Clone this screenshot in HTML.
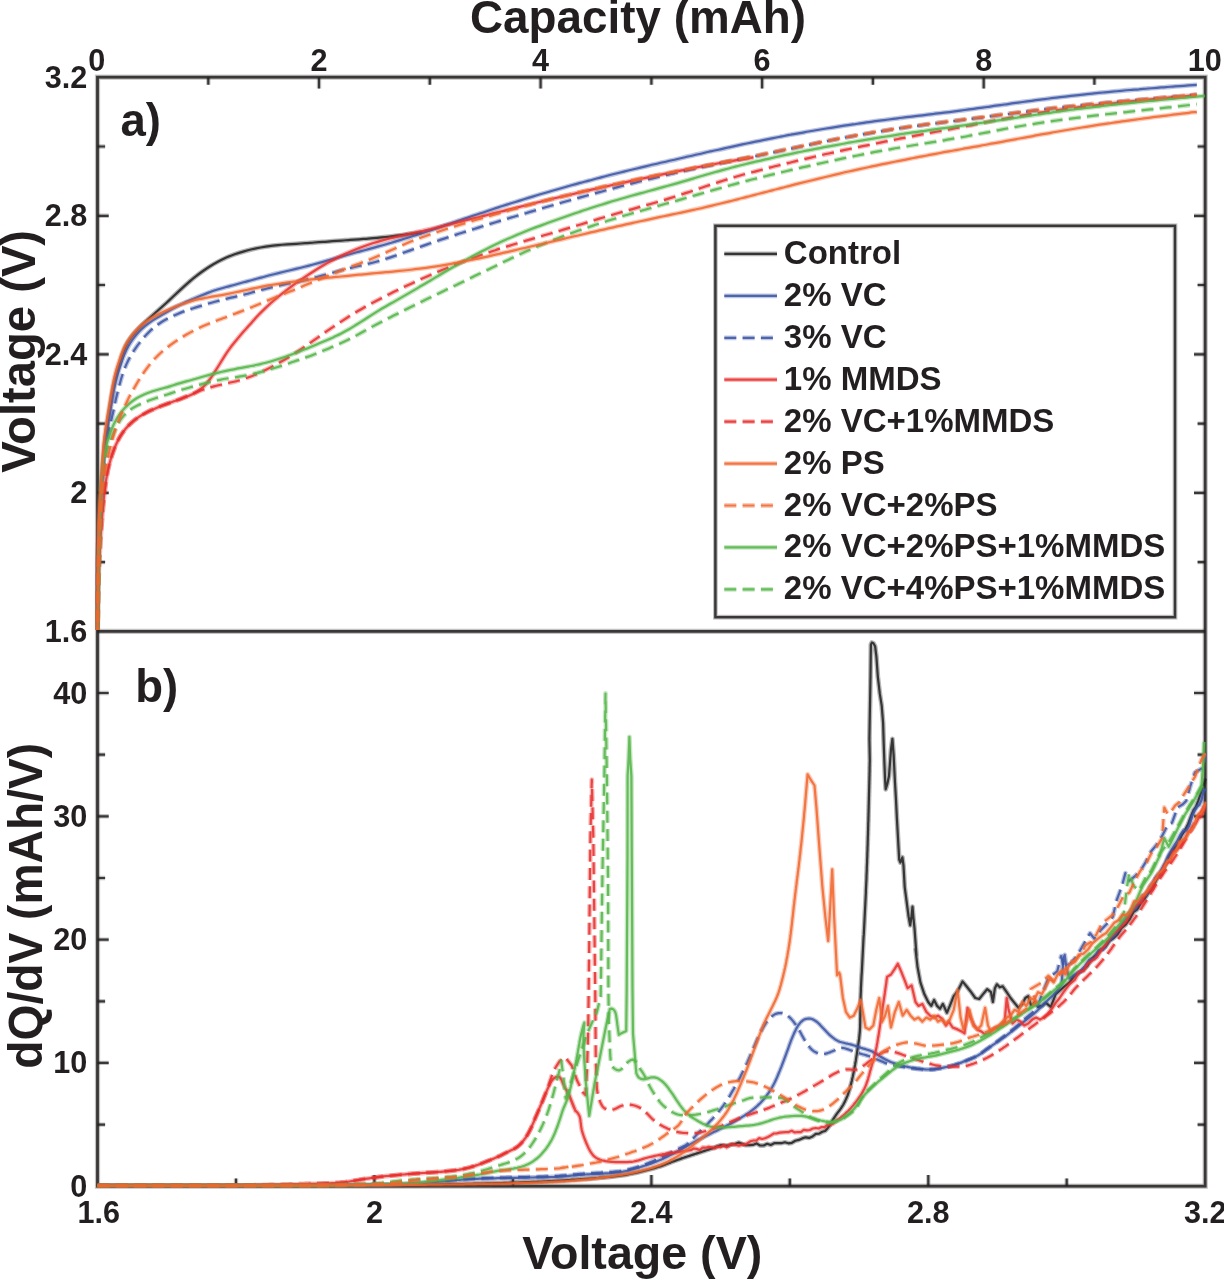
<!DOCTYPE html>
<html lang="en"><head><meta charset="utf-8"><title>Voltage vs capacity and dQ/dV</title>
<style>html,body{margin:0;padding:0;background:#fff}body{width:1224px;height:1280px;overflow:hidden}svg{display:block}text{font-family:"Liberation Sans",sans-serif;font-weight:bold;fill:#231f20}.t{font-size:30.6px}.L{font-size:33px}.ax{font-size:45.5px}.p{font-size:45.5px}.c{fill:none;stroke-width:2.2;stroke-opacity:.86;stroke-linejoin:round;stroke-linecap:butt}.h{fill:none;stroke-width:4.8;stroke-opacity:.33;stroke-linejoin:round;stroke-linecap:butt}.d{stroke-dasharray:12 6.3}</style></head><body>
<svg width="1224" height="1280" viewBox="0 0 1224 1280">
<rect x="0" y="0" width="1224" height="1280" fill="#ffffff"/>
<defs><clipPath id="ca"><rect x="94.5" y="77.2" width="1112.2" height="552.8"/></clipPath>
<clipPath id="cb"><rect x="94.5" y="632.9" width="1112.2" height="555.3"/></clipPath>
</defs>
<path d="M208.3 77.2 v7.6 M319.0 77.2 v11.2 M429.8 77.2 v7.6 M540.6 77.2 v11.2 M651.4 77.2 v7.6 M762.1 77.2 v11.2 M872.9 77.2 v7.6 M983.7 77.2 v11.2 M1094.4 77.2 v7.6 M97.5 562.1 h7.6 M1205.2 562.1 h-7.6 M97.5 492.9 h11.2 M1205.2 492.9 h-11.2 M97.5 423.6 h7.6 M1205.2 423.6 h-7.6 M97.5 354.3 h11.2 M1205.2 354.3 h-11.2 M97.5 285.0 h7.6 M1205.2 285.0 h-7.6 M97.5 215.8 h11.2 M1205.2 215.8 h-11.2 M97.5 146.5 h7.6 M1205.2 146.5 h-7.6 M236.0 1186.2 v-7.6 M374.4 1186.2 v-11.2 M512.9 1186.2 v-7.6 M651.4 1186.2 v-11.2 M789.8 1186.2 v-7.6 M928.3 1186.2 v-11.2 M1066.7 1186.2 v-7.6 M97.5 1124.6 h7.6 M1205.2 1124.6 h-7.6 M97.5 1062.9 h11.2 M1205.2 1062.9 h-11.2 M97.5 1001.3 h7.6 M1205.2 1001.3 h-7.6 M97.5 939.6 h11.2 M1205.2 939.6 h-11.2 M97.5 878.0 h7.6 M1205.2 878.0 h-7.6 M97.5 816.3 h11.2 M1205.2 816.3 h-11.2 M97.5 754.7 h7.6 M1205.2 754.7 h-7.6 M97.5 693.0 h11.2 M1205.2 693.0 h-11.2" fill="none" stroke="#231f20" stroke-width="4.4" stroke-opacity=".27"/>
<path d="M208.3 77.2 v7.6 M319.0 77.2 v11.2 M429.8 77.2 v7.6 M540.6 77.2 v11.2 M651.4 77.2 v7.6 M762.1 77.2 v11.2 M872.9 77.2 v7.6 M983.7 77.2 v11.2 M1094.4 77.2 v7.6 M97.5 562.1 h7.6 M1205.2 562.1 h-7.6 M97.5 492.9 h11.2 M1205.2 492.9 h-11.2 M97.5 423.6 h7.6 M1205.2 423.6 h-7.6 M97.5 354.3 h11.2 M1205.2 354.3 h-11.2 M97.5 285.0 h7.6 M1205.2 285.0 h-7.6 M97.5 215.8 h11.2 M1205.2 215.8 h-11.2 M97.5 146.5 h7.6 M1205.2 146.5 h-7.6 M236.0 1186.2 v-7.6 M374.4 1186.2 v-11.2 M512.9 1186.2 v-7.6 M651.4 1186.2 v-11.2 M789.8 1186.2 v-7.6 M928.3 1186.2 v-11.2 M1066.7 1186.2 v-7.6 M97.5 1124.6 h7.6 M1205.2 1124.6 h-7.6 M97.5 1062.9 h11.2 M1205.2 1062.9 h-11.2 M97.5 1001.3 h7.6 M1205.2 1001.3 h-7.6 M97.5 939.6 h11.2 M1205.2 939.6 h-11.2 M97.5 878.0 h7.6 M1205.2 878.0 h-7.6 M97.5 816.3 h11.2 M1205.2 816.3 h-11.2 M97.5 754.7 h7.6 M1205.2 754.7 h-7.6 M97.5 693.0 h11.2 M1205.2 693.0 h-11.2" fill="none" stroke="#231f20" stroke-width="2.2" stroke-opacity=".86"/>
<rect x="97.5" y="77.2" width="1107.7" height="1109.0" fill="none" stroke="#231f20" stroke-width="5.2" stroke-opacity="0.27"/>
<path d="M97.5 631.4 H1205.2" fill="none" stroke="#231f20" stroke-width="5.2" stroke-opacity="0.27"/>
<rect x="97.5" y="77.2" width="1107.7" height="1109.0" fill="none" stroke="#231f20" stroke-width="2.8" stroke-opacity="0.86"/>
<path d="M97.5 631.4 H1205.2" fill="none" stroke="#231f20" stroke-width="2.8" stroke-opacity="0.86"/>
<g clip-path="url(#ca)">
<path class="h" stroke="#1f1f1f" d="M97.5 640.0 C97.5 638.5 97.5 634.0 97.5 631.0 C97.5 628.0 97.5 625.0 97.5 622.0 C97.5 619.0 97.6 616.0 97.6 613.0 C97.6 610.0 97.6 607.0 97.6 604.0 C97.6 601.0 97.7 598.0 97.7 595.0 C97.7 592.0 97.8 589.0 97.8 586.0 C97.8 583.0 97.8 580.0 97.8 577.0 C97.8 574.0 97.9 571.0 97.9 568.0 C97.9 565.0 98.0 562.0 98.0 559.0 C98.0 556.0 98.1 553.0 98.2 550.0 C98.3 547.0 98.3 544.0 98.4 541.0 C98.5 538.0 98.5 535.0 98.6 532.0 C98.7 529.0 98.8 526.0 98.9 523.0 C99.0 520.0 99.1 517.0 99.3 514.0 C99.5 511.0 99.7 508.0 99.9 505.0 C100.1 502.0 100.3 499.0 100.6 496.0 C100.8 493.0 101.2 490.1 101.4 487.1 C101.7 484.1 101.9 481.1 102.1 478.1 C102.3 475.1 102.6 472.1 102.8 469.1 C103.0 466.1 103.2 463.1 103.4 460.1 C103.6 457.1 103.8 454.1 104.1 451.1 C104.4 448.1 104.7 445.2 105.0 442.2 C105.3 439.2 105.7 436.3 106.1 433.3 C106.5 430.3 107.0 427.3 107.4 424.3 C107.8 421.3 108.2 418.4 108.7 415.4 C109.2 412.4 109.6 409.5 110.1 406.5 C110.6 403.5 111.0 400.6 111.5 397.6 C112.0 394.7 112.5 391.7 113.1 388.8 C113.7 385.9 114.3 382.9 115.0 380.0 C115.7 377.1 116.5 374.2 117.3 371.3 C118.1 368.4 119.1 365.6 120.0 362.7 C120.9 359.8 121.6 356.9 122.6 354.1 C123.6 351.3 124.6 348.4 125.9 345.7 C127.2 343.0 128.8 340.5 130.5 338.1 C132.2 335.7 134.2 333.4 136.2 331.1 C138.2 328.9 140.3 326.7 142.4 324.6 C144.5 322.5 146.8 320.5 149.0 318.5 C151.2 316.5 153.5 314.5 155.7 312.5 C157.9 310.5 160.2 308.5 162.4 306.5 C164.6 304.5 166.9 302.4 169.1 300.4 C171.3 298.4 173.4 296.4 175.6 294.3 C177.8 292.2 180.0 290.1 182.2 288.1 C184.4 286.1 186.6 284.1 188.9 282.1 C191.2 280.2 193.5 278.2 195.8 276.4 C198.2 274.5 200.6 272.7 203.0 271.0 C205.4 269.3 207.9 267.6 210.5 266.0 C213.1 264.4 215.7 262.9 218.3 261.5 C220.9 260.1 223.6 258.8 226.3 257.6 C229.0 256.4 231.9 255.3 234.7 254.3 C237.5 253.3 240.3 252.4 243.2 251.6 C246.0 250.8 248.9 250.0 251.8 249.3 C254.7 248.6 257.7 248.0 260.6 247.5 C263.5 247.0 266.4 246.5 269.4 246.1 C272.3 245.7 275.3 245.4 278.3 245.1 C281.3 244.8 284.3 244.6 287.3 244.4 C290.3 244.2 293.3 244.0 296.3 243.8 C299.3 243.6 302.3 243.4 305.3 243.2 C308.3 243.0 311.3 242.7 314.3 242.5 C317.3 242.3 320.2 242.1 323.2 241.9 C326.2 241.7 329.2 241.4 332.2 241.2 C335.2 241.0 338.2 240.8 341.2 240.6 C344.2 240.4 347.2 240.1 350.2 239.9 C353.2 239.7 356.2 239.5 359.2 239.3 C362.2 239.1 365.1 238.8 368.1 238.6 C371.1 238.4 374.1 238.2 377.1 237.9 C380.1 237.6 383.0 237.3 386.0 237.0 C389.0 236.7 392.0 236.3 395.0 235.9 C398.0 235.5 400.9 235.2 403.9 234.8 C406.9 234.4 409.8 234.0 412.8 233.6 C415.8 233.2 420.2 232.6 421.7 232.4"/>
<path class="c" stroke="#1f1f1f" d="M97.5 640.0 C97.5 638.5 97.5 634.0 97.5 631.0 C97.5 628.0 97.5 625.0 97.5 622.0 C97.5 619.0 97.6 616.0 97.6 613.0 C97.6 610.0 97.6 607.0 97.6 604.0 C97.6 601.0 97.7 598.0 97.7 595.0 C97.7 592.0 97.8 589.0 97.8 586.0 C97.8 583.0 97.8 580.0 97.8 577.0 C97.8 574.0 97.9 571.0 97.9 568.0 C97.9 565.0 98.0 562.0 98.0 559.0 C98.0 556.0 98.1 553.0 98.2 550.0 C98.3 547.0 98.3 544.0 98.4 541.0 C98.5 538.0 98.5 535.0 98.6 532.0 C98.7 529.0 98.8 526.0 98.9 523.0 C99.0 520.0 99.1 517.0 99.3 514.0 C99.5 511.0 99.7 508.0 99.9 505.0 C100.1 502.0 100.3 499.0 100.6 496.0 C100.8 493.0 101.2 490.1 101.4 487.1 C101.7 484.1 101.9 481.1 102.1 478.1 C102.3 475.1 102.6 472.1 102.8 469.1 C103.0 466.1 103.2 463.1 103.4 460.1 C103.6 457.1 103.8 454.1 104.1 451.1 C104.4 448.1 104.7 445.2 105.0 442.2 C105.3 439.2 105.7 436.3 106.1 433.3 C106.5 430.3 107.0 427.3 107.4 424.3 C107.8 421.3 108.2 418.4 108.7 415.4 C109.2 412.4 109.6 409.5 110.1 406.5 C110.6 403.5 111.0 400.6 111.5 397.6 C112.0 394.7 112.5 391.7 113.1 388.8 C113.7 385.9 114.3 382.9 115.0 380.0 C115.7 377.1 116.5 374.2 117.3 371.3 C118.1 368.4 119.1 365.6 120.0 362.7 C120.9 359.8 121.6 356.9 122.6 354.1 C123.6 351.3 124.6 348.4 125.9 345.7 C127.2 343.0 128.8 340.5 130.5 338.1 C132.2 335.7 134.2 333.4 136.2 331.1 C138.2 328.9 140.3 326.7 142.4 324.6 C144.5 322.5 146.8 320.5 149.0 318.5 C151.2 316.5 153.5 314.5 155.7 312.5 C157.9 310.5 160.2 308.5 162.4 306.5 C164.6 304.5 166.9 302.4 169.1 300.4 C171.3 298.4 173.4 296.4 175.6 294.3 C177.8 292.2 180.0 290.1 182.2 288.1 C184.4 286.1 186.6 284.1 188.9 282.1 C191.2 280.2 193.5 278.2 195.8 276.4 C198.2 274.5 200.6 272.7 203.0 271.0 C205.4 269.3 207.9 267.6 210.5 266.0 C213.1 264.4 215.7 262.9 218.3 261.5 C220.9 260.1 223.6 258.8 226.3 257.6 C229.0 256.4 231.9 255.3 234.7 254.3 C237.5 253.3 240.3 252.4 243.2 251.6 C246.0 250.8 248.9 250.0 251.8 249.3 C254.7 248.6 257.7 248.0 260.6 247.5 C263.5 247.0 266.4 246.5 269.4 246.1 C272.3 245.7 275.3 245.4 278.3 245.1 C281.3 244.8 284.3 244.6 287.3 244.4 C290.3 244.2 293.3 244.0 296.3 243.8 C299.3 243.6 302.3 243.4 305.3 243.2 C308.3 243.0 311.3 242.7 314.3 242.5 C317.3 242.3 320.2 242.1 323.2 241.9 C326.2 241.7 329.2 241.4 332.2 241.2 C335.2 241.0 338.2 240.8 341.2 240.6 C344.2 240.4 347.2 240.1 350.2 239.9 C353.2 239.7 356.2 239.5 359.2 239.3 C362.2 239.1 365.1 238.8 368.1 238.6 C371.1 238.4 374.1 238.2 377.1 237.9 C380.1 237.6 383.0 237.3 386.0 237.0 C389.0 236.7 392.0 236.3 395.0 235.9 C398.0 235.5 400.9 235.2 403.9 234.8 C406.9 234.4 409.8 234.0 412.8 233.6 C415.8 233.2 420.2 232.6 421.7 232.4"/>
<path class="h" stroke="#3b55a5" d="M97.5 640.0 C97.5 638.5 97.5 634.0 97.5 631.0 C97.5 628.0 97.5 625.0 97.5 622.0 C97.5 619.0 97.6 616.0 97.6 613.0 C97.6 610.0 97.6 607.0 97.6 604.0 C97.6 601.0 97.7 598.0 97.7 595.0 C97.7 592.0 97.7 589.0 97.7 586.0 C97.7 583.0 97.8 580.0 97.8 577.0 C97.8 574.0 97.9 571.0 97.9 568.0 C97.9 565.0 98.0 561.9 98.0 558.9 C98.0 555.9 98.1 552.9 98.2 549.9 C98.3 546.9 98.3 543.9 98.4 540.9 C98.5 537.9 98.6 534.9 98.7 531.9 C98.8 528.9 99.0 525.9 99.1 522.9 C99.2 519.9 99.3 517.0 99.5 514.0 C99.7 511.0 99.9 508.0 100.1 505.0 C100.3 502.0 100.7 499.0 100.9 496.0 C101.2 493.0 101.3 490.0 101.6 487.0 C101.8 484.0 102.2 481.0 102.4 478.0 C102.7 475.0 102.9 472.1 103.1 469.1 C103.3 466.1 103.6 463.1 103.8 460.1 C104.0 457.1 104.2 454.1 104.5 451.1 C104.8 448.1 105.1 445.1 105.4 442.1 C105.8 439.1 106.2 436.2 106.6 433.2 C107.0 430.2 107.4 427.3 107.9 424.3 C108.4 421.3 108.9 418.4 109.4 415.4 C109.9 412.4 110.4 409.4 110.9 406.5 C111.4 403.6 111.9 400.6 112.4 397.7 C112.9 394.8 113.4 391.8 114.0 388.8 C114.6 385.9 115.3 382.9 116.0 380.0 C116.7 377.1 117.5 374.2 118.4 371.3 C119.3 368.4 120.2 365.6 121.2 362.8 C122.2 360.0 123.2 357.1 124.4 354.4 C125.6 351.6 126.8 348.9 128.3 346.3 C129.8 343.7 131.4 341.1 133.2 338.7 C135.0 336.3 136.8 334.0 138.9 331.8 C141.0 329.6 143.2 327.6 145.5 325.7 C147.8 323.8 150.2 322.0 152.7 320.3 C155.2 318.6 157.8 317.2 160.4 315.7 C163.0 314.2 165.6 312.7 168.2 311.2 C170.8 309.7 173.4 308.2 176.1 306.8 C178.8 305.4 181.5 304.1 184.2 302.9 C186.9 301.6 189.7 300.5 192.4 299.3 C195.2 298.1 197.9 297.0 200.7 295.8 C203.5 294.6 206.2 293.4 209.0 292.4 C211.8 291.3 214.6 290.4 217.5 289.5 C220.4 288.6 223.3 287.8 226.2 287.0 C229.1 286.2 232.0 285.5 234.9 284.7 C237.8 283.9 240.7 283.1 243.6 282.3 C246.5 281.5 249.4 280.8 252.3 280.0 C255.2 279.2 258.0 278.4 260.9 277.6 C263.8 276.8 266.7 276.1 269.6 275.3 C272.5 274.6 275.5 273.8 278.4 273.1 C281.3 272.4 284.2 271.7 287.1 271.0 C290.0 270.3 293.0 269.6 295.9 268.9 C298.8 268.2 301.7 267.5 304.6 266.8 C307.5 266.1 310.4 265.3 313.3 264.5 C316.2 263.7 319.1 262.9 322.0 262.1 C324.9 261.3 327.8 260.4 330.7 259.6 C333.6 258.8 336.4 257.9 339.3 257.1 C342.2 256.3 345.1 255.5 348.0 254.7 C350.9 253.9 353.8 253.1 356.7 252.3 C359.6 251.5 362.5 250.8 365.4 250.0 C368.3 249.2 371.2 248.4 374.1 247.6 C377.0 246.8 379.8 246.0 382.7 245.2 C385.6 244.4 388.5 243.5 391.4 242.7 C394.3 241.8 397.1 241.0 400.0 240.1 C402.9 239.2 405.7 238.4 408.6 237.5 C411.5 236.6 414.4 235.6 417.2 234.7 C420.0 233.8 422.8 232.8 425.7 231.9 C428.6 231.0 431.4 230.0 434.3 229.0 C437.2 228.0 440.0 227.1 442.8 226.1 C445.6 225.1 448.5 224.2 451.3 223.2 C454.1 222.2 457.0 221.3 459.8 220.3 C462.6 219.3 465.5 218.4 468.4 217.4 C471.2 216.4 474.1 215.4 476.9 214.5 C479.7 213.6 482.5 212.6 485.4 211.7 C488.2 210.8 491.1 209.8 494.0 208.8 C496.9 207.9 499.6 206.9 502.5 206.0 C505.4 205.1 508.2 204.2 511.1 203.3 C514.0 202.4 516.8 201.5 519.7 200.6 C522.6 199.7 525.4 198.8 528.3 197.9 C531.2 197.0 534.0 196.2 536.9 195.3 C539.8 194.5 542.7 193.7 545.6 192.8 C548.5 192.0 551.3 191.0 554.2 190.2 C557.1 189.4 560.0 188.6 562.9 187.8 C565.8 187.0 568.6 186.1 571.5 185.3 C574.4 184.5 577.3 183.7 580.2 182.9 C583.1 182.1 586.0 181.4 588.9 180.6 C591.8 179.8 594.7 179.1 597.6 178.3 C600.5 177.5 603.4 176.8 606.3 176.0 C609.2 175.2 612.1 174.5 615.0 173.8 C617.9 173.1 620.9 172.3 623.8 171.6 C626.7 170.9 629.6 170.2 632.5 169.5 C635.4 168.8 638.4 168.1 641.3 167.4 C644.2 166.7 647.2 166.0 650.1 165.3 C653.0 164.6 655.9 164.0 658.8 163.3 C661.7 162.6 664.7 162.0 667.6 161.3 C670.5 160.6 673.5 160.0 676.4 159.3 C679.3 158.6 682.2 157.9 685.1 157.2 C688.0 156.5 691.0 155.9 693.9 155.2 C696.8 154.5 699.8 153.9 702.7 153.2 C705.6 152.5 708.6 151.8 711.5 151.2 C714.4 150.5 717.4 150.0 720.3 149.3 C723.2 148.7 726.2 148.0 729.1 147.3 C732.0 146.7 735.0 146.0 737.9 145.4 C740.8 144.8 743.8 144.1 746.7 143.5 C749.6 142.9 752.6 142.3 755.5 141.7 C758.4 141.1 761.4 140.5 764.3 139.9 C767.2 139.3 770.1 138.7 773.1 138.1 C776.1 137.5 779.0 137.0 782.0 136.4 C785.0 135.8 787.8 135.2 790.8 134.7 C793.8 134.1 796.8 133.6 799.7 133.1 C802.7 132.6 805.5 132.0 808.5 131.5 C811.5 131.0 814.4 130.5 817.4 130.0 C820.4 129.5 823.3 129.0 826.3 128.5 C829.3 128.0 832.2 127.6 835.2 127.1 C838.2 126.6 841.1 126.2 844.1 125.7 C847.1 125.2 850.0 124.8 853.0 124.4 C856.0 124.0 858.9 123.5 861.9 123.1 C864.9 122.7 867.8 122.2 870.8 121.8 C873.8 121.4 876.7 121.0 879.7 120.6 C882.7 120.2 885.7 119.9 888.7 119.5 C891.7 119.1 894.6 118.7 897.6 118.3 C900.6 117.9 903.5 117.6 906.5 117.2 C909.5 116.8 912.5 116.4 915.5 116.1 C918.5 115.8 921.4 115.4 924.4 115.1 C927.4 114.8 930.3 114.4 933.3 114.0 C936.3 113.6 939.3 113.3 942.3 112.9 C945.3 112.5 948.2 112.2 951.2 111.8 C954.2 111.4 957.2 111.0 960.2 110.6 C963.2 110.2 966.1 109.8 969.1 109.4 C972.1 109.0 975.0 108.6 978.0 108.2 C981.0 107.8 983.9 107.4 986.9 107.0 C989.9 106.6 992.8 106.1 995.8 105.7 C998.8 105.3 1001.7 104.9 1004.7 104.5 C1007.7 104.1 1010.7 103.6 1013.7 103.2 C1016.7 102.8 1019.6 102.4 1022.6 102.0 C1025.6 101.6 1028.5 101.2 1031.5 100.8 C1034.5 100.4 1037.4 100.0 1040.4 99.6 C1043.4 99.2 1046.4 98.9 1049.4 98.5 C1052.4 98.1 1055.3 97.8 1058.3 97.4 C1061.3 97.0 1064.2 96.7 1067.2 96.3 C1070.2 95.9 1073.2 95.6 1076.2 95.3 C1079.2 95.0 1082.1 94.7 1085.1 94.4 C1088.1 94.1 1091.1 93.7 1094.1 93.4 C1097.1 93.1 1100.1 92.8 1103.1 92.5 C1106.1 92.2 1109.0 92.0 1112.0 91.7 C1115.0 91.4 1118.0 91.1 1121.0 90.8 C1124.0 90.5 1127.0 90.2 1130.0 90.0 C1133.0 89.8 1135.9 89.5 1138.9 89.3 C1141.9 89.0 1144.9 88.8 1147.9 88.5 C1150.9 88.2 1153.9 88.0 1156.9 87.8 C1159.9 87.6 1162.9 87.3 1165.9 87.1 C1168.9 86.9 1171.8 86.6 1174.8 86.4 C1177.8 86.2 1180.8 86.0 1183.8 85.8 C1186.8 85.6 1190.6 85.3 1192.8 85.1 C1195.0 84.9 1196.1 84.8 1196.8 84.8"/>
<path class="c" stroke="#3b55a5" d="M97.5 640.0 C97.5 638.5 97.5 634.0 97.5 631.0 C97.5 628.0 97.5 625.0 97.5 622.0 C97.5 619.0 97.6 616.0 97.6 613.0 C97.6 610.0 97.6 607.0 97.6 604.0 C97.6 601.0 97.7 598.0 97.7 595.0 C97.7 592.0 97.7 589.0 97.7 586.0 C97.7 583.0 97.8 580.0 97.8 577.0 C97.8 574.0 97.9 571.0 97.9 568.0 C97.9 565.0 98.0 561.9 98.0 558.9 C98.0 555.9 98.1 552.9 98.2 549.9 C98.3 546.9 98.3 543.9 98.4 540.9 C98.5 537.9 98.6 534.9 98.7 531.9 C98.8 528.9 99.0 525.9 99.1 522.9 C99.2 519.9 99.3 517.0 99.5 514.0 C99.7 511.0 99.9 508.0 100.1 505.0 C100.3 502.0 100.7 499.0 100.9 496.0 C101.2 493.0 101.3 490.0 101.6 487.0 C101.8 484.0 102.2 481.0 102.4 478.0 C102.7 475.0 102.9 472.1 103.1 469.1 C103.3 466.1 103.6 463.1 103.8 460.1 C104.0 457.1 104.2 454.1 104.5 451.1 C104.8 448.1 105.1 445.1 105.4 442.1 C105.8 439.1 106.2 436.2 106.6 433.2 C107.0 430.2 107.4 427.3 107.9 424.3 C108.4 421.3 108.9 418.4 109.4 415.4 C109.9 412.4 110.4 409.4 110.9 406.5 C111.4 403.6 111.9 400.6 112.4 397.7 C112.9 394.8 113.4 391.8 114.0 388.8 C114.6 385.9 115.3 382.9 116.0 380.0 C116.7 377.1 117.5 374.2 118.4 371.3 C119.3 368.4 120.2 365.6 121.2 362.8 C122.2 360.0 123.2 357.1 124.4 354.4 C125.6 351.6 126.8 348.9 128.3 346.3 C129.8 343.7 131.4 341.1 133.2 338.7 C135.0 336.3 136.8 334.0 138.9 331.8 C141.0 329.6 143.2 327.6 145.5 325.7 C147.8 323.8 150.2 322.0 152.7 320.3 C155.2 318.6 157.8 317.2 160.4 315.7 C163.0 314.2 165.6 312.7 168.2 311.2 C170.8 309.7 173.4 308.2 176.1 306.8 C178.8 305.4 181.5 304.1 184.2 302.9 C186.9 301.6 189.7 300.5 192.4 299.3 C195.2 298.1 197.9 297.0 200.7 295.8 C203.5 294.6 206.2 293.4 209.0 292.4 C211.8 291.3 214.6 290.4 217.5 289.5 C220.4 288.6 223.3 287.8 226.2 287.0 C229.1 286.2 232.0 285.5 234.9 284.7 C237.8 283.9 240.7 283.1 243.6 282.3 C246.5 281.5 249.4 280.8 252.3 280.0 C255.2 279.2 258.0 278.4 260.9 277.6 C263.8 276.8 266.7 276.1 269.6 275.3 C272.5 274.6 275.5 273.8 278.4 273.1 C281.3 272.4 284.2 271.7 287.1 271.0 C290.0 270.3 293.0 269.6 295.9 268.9 C298.8 268.2 301.7 267.5 304.6 266.8 C307.5 266.1 310.4 265.3 313.3 264.5 C316.2 263.7 319.1 262.9 322.0 262.1 C324.9 261.3 327.8 260.4 330.7 259.6 C333.6 258.8 336.4 257.9 339.3 257.1 C342.2 256.3 345.1 255.5 348.0 254.7 C350.9 253.9 353.8 253.1 356.7 252.3 C359.6 251.5 362.5 250.8 365.4 250.0 C368.3 249.2 371.2 248.4 374.1 247.6 C377.0 246.8 379.8 246.0 382.7 245.2 C385.6 244.4 388.5 243.5 391.4 242.7 C394.3 241.8 397.1 241.0 400.0 240.1 C402.9 239.2 405.7 238.4 408.6 237.5 C411.5 236.6 414.4 235.6 417.2 234.7 C420.0 233.8 422.8 232.8 425.7 231.9 C428.6 231.0 431.4 230.0 434.3 229.0 C437.2 228.0 440.0 227.1 442.8 226.1 C445.6 225.1 448.5 224.2 451.3 223.2 C454.1 222.2 457.0 221.3 459.8 220.3 C462.6 219.3 465.5 218.4 468.4 217.4 C471.2 216.4 474.1 215.4 476.9 214.5 C479.7 213.6 482.5 212.6 485.4 211.7 C488.2 210.8 491.1 209.8 494.0 208.8 C496.9 207.9 499.6 206.9 502.5 206.0 C505.4 205.1 508.2 204.2 511.1 203.3 C514.0 202.4 516.8 201.5 519.7 200.6 C522.6 199.7 525.4 198.8 528.3 197.9 C531.2 197.0 534.0 196.2 536.9 195.3 C539.8 194.5 542.7 193.7 545.6 192.8 C548.5 192.0 551.3 191.0 554.2 190.2 C557.1 189.4 560.0 188.6 562.9 187.8 C565.8 187.0 568.6 186.1 571.5 185.3 C574.4 184.5 577.3 183.7 580.2 182.9 C583.1 182.1 586.0 181.4 588.9 180.6 C591.8 179.8 594.7 179.1 597.6 178.3 C600.5 177.5 603.4 176.8 606.3 176.0 C609.2 175.2 612.1 174.5 615.0 173.8 C617.9 173.1 620.9 172.3 623.8 171.6 C626.7 170.9 629.6 170.2 632.5 169.5 C635.4 168.8 638.4 168.1 641.3 167.4 C644.2 166.7 647.2 166.0 650.1 165.3 C653.0 164.6 655.9 164.0 658.8 163.3 C661.7 162.6 664.7 162.0 667.6 161.3 C670.5 160.6 673.5 160.0 676.4 159.3 C679.3 158.6 682.2 157.9 685.1 157.2 C688.0 156.5 691.0 155.9 693.9 155.2 C696.8 154.5 699.8 153.9 702.7 153.2 C705.6 152.5 708.6 151.8 711.5 151.2 C714.4 150.5 717.4 150.0 720.3 149.3 C723.2 148.7 726.2 148.0 729.1 147.3 C732.0 146.7 735.0 146.0 737.9 145.4 C740.8 144.8 743.8 144.1 746.7 143.5 C749.6 142.9 752.6 142.3 755.5 141.7 C758.4 141.1 761.4 140.5 764.3 139.9 C767.2 139.3 770.1 138.7 773.1 138.1 C776.1 137.5 779.0 137.0 782.0 136.4 C785.0 135.8 787.8 135.2 790.8 134.7 C793.8 134.1 796.8 133.6 799.7 133.1 C802.7 132.6 805.5 132.0 808.5 131.5 C811.5 131.0 814.4 130.5 817.4 130.0 C820.4 129.5 823.3 129.0 826.3 128.5 C829.3 128.0 832.2 127.6 835.2 127.1 C838.2 126.6 841.1 126.2 844.1 125.7 C847.1 125.2 850.0 124.8 853.0 124.4 C856.0 124.0 858.9 123.5 861.9 123.1 C864.9 122.7 867.8 122.2 870.8 121.8 C873.8 121.4 876.7 121.0 879.7 120.6 C882.7 120.2 885.7 119.9 888.7 119.5 C891.7 119.1 894.6 118.7 897.6 118.3 C900.6 117.9 903.5 117.6 906.5 117.2 C909.5 116.8 912.5 116.4 915.5 116.1 C918.5 115.8 921.4 115.4 924.4 115.1 C927.4 114.8 930.3 114.4 933.3 114.0 C936.3 113.6 939.3 113.3 942.3 112.9 C945.3 112.5 948.2 112.2 951.2 111.8 C954.2 111.4 957.2 111.0 960.2 110.6 C963.2 110.2 966.1 109.8 969.1 109.4 C972.1 109.0 975.0 108.6 978.0 108.2 C981.0 107.8 983.9 107.4 986.9 107.0 C989.9 106.6 992.8 106.1 995.8 105.7 C998.8 105.3 1001.7 104.9 1004.7 104.5 C1007.7 104.1 1010.7 103.6 1013.7 103.2 C1016.7 102.8 1019.6 102.4 1022.6 102.0 C1025.6 101.6 1028.5 101.2 1031.5 100.8 C1034.5 100.4 1037.4 100.0 1040.4 99.6 C1043.4 99.2 1046.4 98.9 1049.4 98.5 C1052.4 98.1 1055.3 97.8 1058.3 97.4 C1061.3 97.0 1064.2 96.7 1067.2 96.3 C1070.2 95.9 1073.2 95.6 1076.2 95.3 C1079.2 95.0 1082.1 94.7 1085.1 94.4 C1088.1 94.1 1091.1 93.7 1094.1 93.4 C1097.1 93.1 1100.1 92.8 1103.1 92.5 C1106.1 92.2 1109.0 92.0 1112.0 91.7 C1115.0 91.4 1118.0 91.1 1121.0 90.8 C1124.0 90.5 1127.0 90.2 1130.0 90.0 C1133.0 89.8 1135.9 89.5 1138.9 89.3 C1141.9 89.0 1144.9 88.8 1147.9 88.5 C1150.9 88.2 1153.9 88.0 1156.9 87.8 C1159.9 87.6 1162.9 87.3 1165.9 87.1 C1168.9 86.9 1171.8 86.6 1174.8 86.4 C1177.8 86.2 1180.8 86.0 1183.8 85.8 C1186.8 85.6 1190.6 85.3 1192.8 85.1 C1195.0 84.9 1196.1 84.8 1196.8 84.8"/>
<path class="h d" stroke="#3b55a5" d="M97.5 640.0 C97.5 638.5 97.5 634.0 97.5 631.0 C97.5 628.0 97.5 625.0 97.5 622.0 C97.5 619.0 97.6 616.0 97.6 613.0 C97.6 610.0 97.7 607.0 97.7 604.0 C97.7 601.0 97.7 598.0 97.7 595.0 C97.7 592.0 97.8 589.0 97.8 586.0 C97.8 583.0 98.0 580.0 98.0 577.0 C98.0 574.0 98.1 571.0 98.1 568.0 C98.1 565.0 98.1 562.0 98.2 559.0 C98.3 556.0 98.4 553.0 98.5 550.0 C98.6 547.0 98.7 544.0 98.8 541.0 C98.9 538.0 99.1 535.0 99.2 532.0 C99.3 529.0 99.4 526.0 99.6 523.0 C99.8 520.0 100.0 517.0 100.2 514.0 C100.4 511.0 100.7 508.0 100.9 505.0 C101.2 502.0 101.4 499.1 101.7 496.1 C102.0 493.1 102.2 490.1 102.5 487.1 C102.8 484.1 103.1 481.1 103.4 478.1 C103.7 475.1 103.9 472.1 104.1 469.1 C104.3 466.1 104.5 463.2 104.8 460.2 C105.0 457.2 105.3 454.2 105.6 451.2 C105.9 448.2 106.2 445.3 106.7 442.3 C107.2 439.3 107.7 436.3 108.3 433.4 C108.9 430.4 109.5 427.5 110.2 424.6 C110.9 421.7 111.6 418.7 112.3 415.8 C113.0 412.9 113.7 410.0 114.3 407.1 C114.9 404.2 115.4 401.2 116.1 398.3 C116.8 395.4 117.5 392.4 118.2 389.5 C119.0 386.6 119.8 383.7 120.6 380.8 C121.4 377.9 122.3 375.0 123.3 372.2 C124.3 369.4 125.4 366.6 126.6 363.9 C127.8 361.2 129.2 358.5 130.7 355.9 C132.2 353.3 133.8 350.8 135.5 348.3 C137.2 345.8 139.0 343.4 140.9 341.1 C142.8 338.8 144.7 336.5 146.8 334.3 C148.9 332.1 151.0 330.0 153.3 328.1 C155.6 326.2 158.0 324.3 160.5 322.7 C163.0 321.1 165.6 319.7 168.3 318.3 C171.0 316.9 173.8 315.7 176.5 314.5 C179.2 313.3 182.0 312.1 184.8 311.0 C187.6 309.9 190.4 309.1 193.3 308.2 C196.2 307.3 199.1 306.5 202.0 305.6 C204.9 304.7 207.7 303.8 210.6 303.0 C213.5 302.2 216.3 301.4 219.2 300.6 C222.1 299.8 225.1 299.1 228.0 298.4 C230.9 297.7 233.8 297.1 236.7 296.4 C239.6 295.7 242.5 295.1 245.4 294.3 C248.3 293.6 251.2 292.7 254.1 291.9 C257.0 291.1 259.8 290.4 262.7 289.6 C265.6 288.9 268.5 288.1 271.4 287.4 C274.3 286.7 277.2 286.0 280.1 285.4 C283.0 284.8 286.0 284.1 288.9 283.5 C291.8 282.9 294.8 282.2 297.7 281.6 C300.6 281.0 303.6 280.3 306.5 279.6 C309.4 278.9 312.3 278.1 315.2 277.4 C318.1 276.6 321.0 275.9 323.9 275.1 C326.8 274.3 329.7 273.5 332.6 272.7 C335.5 271.9 338.4 271.1 341.3 270.3 C344.2 269.5 347.1 268.8 350.0 268.1 C352.9 267.4 355.9 266.7 358.8 266.0 C361.7 265.3 364.6 264.6 367.5 263.9 C370.4 263.2 373.3 262.5 376.2 261.7 C379.1 260.9 381.9 260.1 384.8 259.2 C387.7 258.3 390.5 257.4 393.3 256.4 C396.1 255.4 399.0 254.4 401.8 253.4 C404.6 252.4 407.4 251.4 410.2 250.4 C413.0 249.4 415.9 248.4 418.7 247.4 C421.5 246.4 424.4 245.4 427.2 244.4 C430.0 243.4 432.9 242.5 435.7 241.5 C438.5 240.5 441.4 239.5 444.2 238.6 C447.0 237.7 449.8 236.7 452.7 235.8 C455.6 234.9 458.4 233.9 461.3 233.0 C464.2 232.1 467.0 231.2 469.9 230.3 C472.8 229.4 475.5 228.5 478.4 227.6 C481.2 226.7 484.1 225.8 487.0 224.9 C489.9 224.0 492.8 223.1 495.7 222.2 C498.6 221.3 501.4 220.5 504.3 219.6 C507.2 218.7 510.0 217.8 512.9 217.0 C515.8 216.2 518.6 215.3 521.5 214.5 C524.4 213.7 527.2 212.8 530.1 211.9 C533.0 211.0 535.9 210.2 538.8 209.3 C541.7 208.5 544.5 207.6 547.4 206.8 C550.3 206.0 553.2 205.1 556.1 204.3 C559.0 203.5 561.8 202.6 564.7 201.8 C567.6 201.0 570.5 200.2 573.4 199.4 C576.3 198.6 579.2 197.7 582.1 196.9 C585.0 196.1 587.8 195.3 590.7 194.5 C593.6 193.7 596.5 192.9 599.4 192.1 C602.3 191.3 605.2 190.6 608.1 189.8 C611.0 189.0 613.9 188.2 616.8 187.4 C619.7 186.6 622.6 185.8 625.5 185.1 C628.4 184.3 631.3 183.6 634.2 182.9 C637.1 182.2 640.0 181.4 642.9 180.7 C645.8 180.0 648.8 179.3 651.7 178.6 C654.6 177.9 657.5 177.2 660.4 176.5 C663.3 175.8 666.3 175.1 669.2 174.4 C672.1 173.7 675.1 173.1 678.0 172.4 C680.9 171.7 683.9 171.1 686.8 170.4 C689.7 169.8 692.7 169.1 695.6 168.5 C698.5 167.9 701.5 167.2 704.4 166.6 C707.3 166.0 710.3 165.4 713.2 164.8 C716.1 164.2 719.1 163.6 722.0 163.0 C724.9 162.4 727.9 161.8 730.8 161.2 C733.7 160.6 736.6 160.0 739.6 159.4 C742.6 158.8 745.5 158.2 748.5 157.6 C751.5 157.0 754.4 156.4 757.3 155.8 C760.2 155.2 763.2 154.5 766.1 153.9 C769.0 153.3 772.0 152.7 774.9 152.1 C777.8 151.5 780.8 150.8 783.7 150.2 C786.6 149.6 789.6 148.9 792.5 148.3 C795.4 147.7 798.4 147.0 801.3 146.4 C804.2 145.8 807.2 145.2 810.1 144.6 C813.0 144.0 816.0 143.3 818.9 142.7 C821.8 142.1 824.8 141.6 827.7 141.0 C830.7 140.4 833.7 139.8 836.6 139.2 C839.5 138.6 842.5 138.1 845.4 137.5 C848.3 136.9 851.3 136.4 854.3 135.9 C857.2 135.4 860.1 134.8 863.1 134.3 C866.1 133.8 869.0 133.3 872.0 132.8 C875.0 132.3 877.9 131.8 880.9 131.3 C883.9 130.8 886.8 130.4 889.8 129.9 C892.8 129.4 895.7 128.9 898.7 128.5 C901.7 128.1 904.6 127.6 907.6 127.2 C910.6 126.8 913.5 126.3 916.5 125.9 C919.5 125.5 922.4 125.1 925.4 124.7 C928.4 124.3 931.3 124.0 934.3 123.6 C937.3 123.2 940.3 122.8 943.3 122.4 C946.3 122.0 949.2 121.7 952.2 121.3 C955.2 120.9 958.1 120.6 961.1 120.2 C964.1 119.8 967.1 119.4 970.1 119.0 C973.1 118.6 976.0 118.3 979.0 117.9 C982.0 117.5 984.9 117.1 987.9 116.7 C990.9 116.3 993.8 115.9 996.8 115.5 C999.8 115.1 1002.7 114.7 1005.7 114.3 C1008.7 113.9 1011.7 113.6 1014.7 113.2 C1017.7 112.8 1020.6 112.4 1023.6 112.0 C1026.6 111.6 1029.5 111.3 1032.5 110.9 C1035.5 110.5 1038.5 110.2 1041.5 109.8 C1044.5 109.4 1047.4 109.0 1050.4 108.7 C1053.4 108.4 1056.4 108.0 1059.4 107.7 C1062.4 107.4 1065.3 107.0 1068.3 106.7 C1071.3 106.4 1074.3 106.1 1077.3 105.8 C1080.3 105.5 1083.2 105.1 1086.2 104.8 C1089.2 104.5 1092.2 104.3 1095.2 104.0 C1098.2 103.7 1101.1 103.4 1104.1 103.1 C1107.1 102.8 1110.1 102.6 1113.1 102.3 C1116.1 102.0 1119.1 101.8 1122.1 101.5 C1125.1 101.2 1128.0 101.0 1131.0 100.7 C1134.0 100.4 1137.0 100.2 1140.0 99.9 C1143.0 99.6 1146.0 99.4 1149.0 99.1 C1152.0 98.8 1154.9 98.6 1157.9 98.3 C1160.9 98.0 1163.9 97.8 1166.9 97.5 C1169.9 97.2 1172.9 97.0 1175.9 96.7 C1178.9 96.4 1181.8 96.2 1184.8 95.9 C1187.8 95.6 1191.8 95.3 1193.8 95.1 C1195.8 94.9 1196.3 94.8 1196.8 94.8"/>
<path class="c d" stroke="#3b55a5" d="M97.5 640.0 C97.5 638.5 97.5 634.0 97.5 631.0 C97.5 628.0 97.5 625.0 97.5 622.0 C97.5 619.0 97.6 616.0 97.6 613.0 C97.6 610.0 97.7 607.0 97.7 604.0 C97.7 601.0 97.7 598.0 97.7 595.0 C97.7 592.0 97.8 589.0 97.8 586.0 C97.8 583.0 98.0 580.0 98.0 577.0 C98.0 574.0 98.1 571.0 98.1 568.0 C98.1 565.0 98.1 562.0 98.2 559.0 C98.3 556.0 98.4 553.0 98.5 550.0 C98.6 547.0 98.7 544.0 98.8 541.0 C98.9 538.0 99.1 535.0 99.2 532.0 C99.3 529.0 99.4 526.0 99.6 523.0 C99.8 520.0 100.0 517.0 100.2 514.0 C100.4 511.0 100.7 508.0 100.9 505.0 C101.2 502.0 101.4 499.1 101.7 496.1 C102.0 493.1 102.2 490.1 102.5 487.1 C102.8 484.1 103.1 481.1 103.4 478.1 C103.7 475.1 103.9 472.1 104.1 469.1 C104.3 466.1 104.5 463.2 104.8 460.2 C105.0 457.2 105.3 454.2 105.6 451.2 C105.9 448.2 106.2 445.3 106.7 442.3 C107.2 439.3 107.7 436.3 108.3 433.4 C108.9 430.4 109.5 427.5 110.2 424.6 C110.9 421.7 111.6 418.7 112.3 415.8 C113.0 412.9 113.7 410.0 114.3 407.1 C114.9 404.2 115.4 401.2 116.1 398.3 C116.8 395.4 117.5 392.4 118.2 389.5 C119.0 386.6 119.8 383.7 120.6 380.8 C121.4 377.9 122.3 375.0 123.3 372.2 C124.3 369.4 125.4 366.6 126.6 363.9 C127.8 361.2 129.2 358.5 130.7 355.9 C132.2 353.3 133.8 350.8 135.5 348.3 C137.2 345.8 139.0 343.4 140.9 341.1 C142.8 338.8 144.7 336.5 146.8 334.3 C148.9 332.1 151.0 330.0 153.3 328.1 C155.6 326.2 158.0 324.3 160.5 322.7 C163.0 321.1 165.6 319.7 168.3 318.3 C171.0 316.9 173.8 315.7 176.5 314.5 C179.2 313.3 182.0 312.1 184.8 311.0 C187.6 309.9 190.4 309.1 193.3 308.2 C196.2 307.3 199.1 306.5 202.0 305.6 C204.9 304.7 207.7 303.8 210.6 303.0 C213.5 302.2 216.3 301.4 219.2 300.6 C222.1 299.8 225.1 299.1 228.0 298.4 C230.9 297.7 233.8 297.1 236.7 296.4 C239.6 295.7 242.5 295.1 245.4 294.3 C248.3 293.6 251.2 292.7 254.1 291.9 C257.0 291.1 259.8 290.4 262.7 289.6 C265.6 288.9 268.5 288.1 271.4 287.4 C274.3 286.7 277.2 286.0 280.1 285.4 C283.0 284.8 286.0 284.1 288.9 283.5 C291.8 282.9 294.8 282.2 297.7 281.6 C300.6 281.0 303.6 280.3 306.5 279.6 C309.4 278.9 312.3 278.1 315.2 277.4 C318.1 276.6 321.0 275.9 323.9 275.1 C326.8 274.3 329.7 273.5 332.6 272.7 C335.5 271.9 338.4 271.1 341.3 270.3 C344.2 269.5 347.1 268.8 350.0 268.1 C352.9 267.4 355.9 266.7 358.8 266.0 C361.7 265.3 364.6 264.6 367.5 263.9 C370.4 263.2 373.3 262.5 376.2 261.7 C379.1 260.9 381.9 260.1 384.8 259.2 C387.7 258.3 390.5 257.4 393.3 256.4 C396.1 255.4 399.0 254.4 401.8 253.4 C404.6 252.4 407.4 251.4 410.2 250.4 C413.0 249.4 415.9 248.4 418.7 247.4 C421.5 246.4 424.4 245.4 427.2 244.4 C430.0 243.4 432.9 242.5 435.7 241.5 C438.5 240.5 441.4 239.5 444.2 238.6 C447.0 237.7 449.8 236.7 452.7 235.8 C455.6 234.9 458.4 233.9 461.3 233.0 C464.2 232.1 467.0 231.2 469.9 230.3 C472.8 229.4 475.5 228.5 478.4 227.6 C481.2 226.7 484.1 225.8 487.0 224.9 C489.9 224.0 492.8 223.1 495.7 222.2 C498.6 221.3 501.4 220.5 504.3 219.6 C507.2 218.7 510.0 217.8 512.9 217.0 C515.8 216.2 518.6 215.3 521.5 214.5 C524.4 213.7 527.2 212.8 530.1 211.9 C533.0 211.0 535.9 210.2 538.8 209.3 C541.7 208.5 544.5 207.6 547.4 206.8 C550.3 206.0 553.2 205.1 556.1 204.3 C559.0 203.5 561.8 202.6 564.7 201.8 C567.6 201.0 570.5 200.2 573.4 199.4 C576.3 198.6 579.2 197.7 582.1 196.9 C585.0 196.1 587.8 195.3 590.7 194.5 C593.6 193.7 596.5 192.9 599.4 192.1 C602.3 191.3 605.2 190.6 608.1 189.8 C611.0 189.0 613.9 188.2 616.8 187.4 C619.7 186.6 622.6 185.8 625.5 185.1 C628.4 184.3 631.3 183.6 634.2 182.9 C637.1 182.2 640.0 181.4 642.9 180.7 C645.8 180.0 648.8 179.3 651.7 178.6 C654.6 177.9 657.5 177.2 660.4 176.5 C663.3 175.8 666.3 175.1 669.2 174.4 C672.1 173.7 675.1 173.1 678.0 172.4 C680.9 171.7 683.9 171.1 686.8 170.4 C689.7 169.8 692.7 169.1 695.6 168.5 C698.5 167.9 701.5 167.2 704.4 166.6 C707.3 166.0 710.3 165.4 713.2 164.8 C716.1 164.2 719.1 163.6 722.0 163.0 C724.9 162.4 727.9 161.8 730.8 161.2 C733.7 160.6 736.6 160.0 739.6 159.4 C742.6 158.8 745.5 158.2 748.5 157.6 C751.5 157.0 754.4 156.4 757.3 155.8 C760.2 155.2 763.2 154.5 766.1 153.9 C769.0 153.3 772.0 152.7 774.9 152.1 C777.8 151.5 780.8 150.8 783.7 150.2 C786.6 149.6 789.6 148.9 792.5 148.3 C795.4 147.7 798.4 147.0 801.3 146.4 C804.2 145.8 807.2 145.2 810.1 144.6 C813.0 144.0 816.0 143.3 818.9 142.7 C821.8 142.1 824.8 141.6 827.7 141.0 C830.7 140.4 833.7 139.8 836.6 139.2 C839.5 138.6 842.5 138.1 845.4 137.5 C848.3 136.9 851.3 136.4 854.3 135.9 C857.2 135.4 860.1 134.8 863.1 134.3 C866.1 133.8 869.0 133.3 872.0 132.8 C875.0 132.3 877.9 131.8 880.9 131.3 C883.9 130.8 886.8 130.4 889.8 129.9 C892.8 129.4 895.7 128.9 898.7 128.5 C901.7 128.1 904.6 127.6 907.6 127.2 C910.6 126.8 913.5 126.3 916.5 125.9 C919.5 125.5 922.4 125.1 925.4 124.7 C928.4 124.3 931.3 124.0 934.3 123.6 C937.3 123.2 940.3 122.8 943.3 122.4 C946.3 122.0 949.2 121.7 952.2 121.3 C955.2 120.9 958.1 120.6 961.1 120.2 C964.1 119.8 967.1 119.4 970.1 119.0 C973.1 118.6 976.0 118.3 979.0 117.9 C982.0 117.5 984.9 117.1 987.9 116.7 C990.9 116.3 993.8 115.9 996.8 115.5 C999.8 115.1 1002.7 114.7 1005.7 114.3 C1008.7 113.9 1011.7 113.6 1014.7 113.2 C1017.7 112.8 1020.6 112.4 1023.6 112.0 C1026.6 111.6 1029.5 111.3 1032.5 110.9 C1035.5 110.5 1038.5 110.2 1041.5 109.8 C1044.5 109.4 1047.4 109.0 1050.4 108.7 C1053.4 108.4 1056.4 108.0 1059.4 107.7 C1062.4 107.4 1065.3 107.0 1068.3 106.7 C1071.3 106.4 1074.3 106.1 1077.3 105.8 C1080.3 105.5 1083.2 105.1 1086.2 104.8 C1089.2 104.5 1092.2 104.3 1095.2 104.0 C1098.2 103.7 1101.1 103.4 1104.1 103.1 C1107.1 102.8 1110.1 102.6 1113.1 102.3 C1116.1 102.0 1119.1 101.8 1122.1 101.5 C1125.1 101.2 1128.0 101.0 1131.0 100.7 C1134.0 100.4 1137.0 100.2 1140.0 99.9 C1143.0 99.6 1146.0 99.4 1149.0 99.1 C1152.0 98.8 1154.9 98.6 1157.9 98.3 C1160.9 98.0 1163.9 97.8 1166.9 97.5 C1169.9 97.2 1172.9 97.0 1175.9 96.7 C1178.9 96.4 1181.8 96.2 1184.8 95.9 C1187.8 95.6 1191.8 95.3 1193.8 95.1 C1195.8 94.9 1196.3 94.8 1196.8 94.8"/>
<path class="h" stroke="#e8302f" d="M97.5 640.0 C97.5 638.5 97.5 634.0 97.5 631.0 C97.5 628.0 97.5 625.0 97.6 622.0 C97.6 619.0 97.8 616.0 97.8 613.0 C97.8 610.0 97.9 607.0 97.9 604.0 C98.0 601.0 98.0 598.0 98.1 595.0 C98.2 592.0 98.2 589.0 98.3 586.0 C98.4 583.0 98.5 580.0 98.6 577.0 C98.7 574.0 98.8 571.0 98.9 568.0 C99.0 565.0 99.2 562.0 99.4 559.0 C99.6 556.0 99.7 553.0 99.9 550.0 C100.1 547.0 100.2 544.0 100.4 541.0 C100.6 538.0 100.8 535.0 101.0 532.0 C101.2 529.0 101.5 526.0 101.7 523.0 C101.9 520.0 102.2 517.0 102.4 514.0 C102.7 511.0 102.9 508.0 103.2 505.0 C103.5 502.0 103.8 499.0 104.1 496.0 C104.4 493.0 104.8 490.1 105.2 487.1 C105.6 484.1 105.9 481.1 106.4 478.2 C106.9 475.2 107.3 472.3 108.0 469.4 C108.7 466.5 109.5 463.6 110.3 460.7 C111.1 457.8 112.0 454.9 113.0 452.1 C114.0 449.3 115.1 446.4 116.4 443.7 C117.7 441.0 119.0 438.3 120.6 435.8 C122.2 433.3 123.9 430.8 125.8 428.5 C127.7 426.2 129.8 424.1 132.1 422.1 C134.3 420.1 136.8 418.4 139.3 416.7 C141.8 415.0 144.4 413.6 147.1 412.2 C149.8 410.8 152.6 409.7 155.3 408.5 C158.1 407.3 160.8 406.2 163.6 405.1 C166.4 404.0 169.3 403.0 172.1 402.0 C174.9 401.0 177.8 400.1 180.6 399.1 C183.4 398.1 186.3 397.0 189.0 395.8 C191.7 394.6 194.4 393.3 196.9 391.7 C199.4 390.1 201.8 388.2 203.9 386.2 C206.0 384.2 207.9 381.9 209.7 379.5 C211.5 377.1 213.0 374.6 214.6 372.1 C216.2 369.6 217.8 367.1 219.4 364.5 C221.0 361.9 222.5 359.3 224.1 356.8 C225.7 354.3 227.3 351.8 229.1 349.4 C230.8 347.0 232.7 344.6 234.6 342.3 C236.5 340.0 238.4 337.7 240.3 335.4 C242.2 333.1 244.2 330.9 246.2 328.6 C248.2 326.4 250.2 324.1 252.2 321.9 C254.2 319.7 256.1 317.5 258.2 315.3 C260.3 313.1 262.4 311.0 264.6 308.9 C266.8 306.8 269.0 304.8 271.2 302.8 C273.4 300.8 275.7 298.9 278.0 297.0 C280.3 295.1 282.6 293.2 285.0 291.4 C287.4 289.5 289.8 287.7 292.2 285.9 C294.6 284.1 297.0 282.4 299.5 280.7 C302.0 279.0 304.5 277.3 307.0 275.6 C309.5 273.9 312.0 272.3 314.5 270.7 C317.0 269.1 319.6 267.5 322.2 266.0 C324.8 264.5 327.4 263.0 330.0 261.6 C332.6 260.2 335.3 258.8 338.0 257.4 C340.7 256.0 343.4 254.8 346.1 253.5 C348.8 252.2 351.5 251.0 354.3 249.9 C357.1 248.8 359.9 247.7 362.7 246.7 C365.5 245.7 368.3 244.7 371.2 243.8 C374.1 242.9 376.9 241.9 379.8 241.1 C382.7 240.3 385.6 239.5 388.5 238.8 C391.4 238.1 394.3 237.4 397.2 236.7 C400.1 236.0 403.1 235.4 406.0 234.7 C408.9 234.0 411.9 233.4 414.8 232.7 C417.7 232.0 420.6 231.4 423.5 230.7 C426.4 230.0 429.4 229.4 432.3 228.7 C435.2 228.0 438.1 227.3 441.0 226.6 C443.9 225.9 446.9 225.1 449.8 224.4 C452.7 223.7 455.6 222.9 458.5 222.2 C461.4 221.5 464.3 220.7 467.2 220.0 C470.1 219.3 473.1 218.5 476.0 217.8 C478.9 217.1 481.8 216.3 484.7 215.6 C487.6 214.9 490.5 214.1 493.4 213.4 C496.3 212.7 499.3 211.9 502.2 211.2 C505.1 210.5 508.0 209.7 510.9 209.0 C513.8 208.3 516.7 207.6 519.6 206.9 C522.5 206.2 525.5 205.4 528.4 204.7 C531.3 204.0 534.2 203.2 537.1 202.5 C540.0 201.8 543.0 201.1 545.9 200.4 C548.8 199.7 551.7 199.0 554.6 198.3 C557.5 197.6 560.5 196.9 563.4 196.2 C566.3 195.5 569.3 194.9 572.2 194.2 C575.1 193.5 578.0 192.8 580.9 192.1 C583.8 191.4 586.8 190.8 589.7 190.1 C592.6 189.4 595.6 188.8 598.5 188.1 C601.4 187.4 604.4 186.8 607.3 186.2 C610.2 185.5 613.2 184.8 616.1 184.2 C619.0 183.5 622.0 182.9 624.9 182.3 C627.8 181.7 630.8 181.0 633.7 180.4 C636.6 179.8 639.6 179.1 642.5 178.5 C645.4 177.9 648.4 177.2 651.3 176.6 C654.2 176.0 657.2 175.4 660.1 174.8 C663.0 174.2 666.0 173.6 668.9 173.0 C671.8 172.4 674.8 171.8 677.7 171.2 C680.7 170.6 683.7 170.1 686.6 169.5 C689.5 168.9 692.5 168.3 695.4 167.7 C698.3 167.1 701.2 166.6 704.2 166.0 C707.2 165.4 710.2 164.9 713.1 164.3 C716.0 163.8 719.0 163.2 721.9 162.7 C724.8 162.2 727.8 161.7 730.8 161.2 C733.8 160.7 736.7 160.1 739.7 159.6 C742.7 159.1 746.3 158.5 748.6 158.1 C750.9 157.7 752.7 157.4 753.5 157.3"/>
<path class="c" stroke="#e8302f" d="M97.5 640.0 C97.5 638.5 97.5 634.0 97.5 631.0 C97.5 628.0 97.5 625.0 97.6 622.0 C97.6 619.0 97.8 616.0 97.8 613.0 C97.8 610.0 97.9 607.0 97.9 604.0 C98.0 601.0 98.0 598.0 98.1 595.0 C98.2 592.0 98.2 589.0 98.3 586.0 C98.4 583.0 98.5 580.0 98.6 577.0 C98.7 574.0 98.8 571.0 98.9 568.0 C99.0 565.0 99.2 562.0 99.4 559.0 C99.6 556.0 99.7 553.0 99.9 550.0 C100.1 547.0 100.2 544.0 100.4 541.0 C100.6 538.0 100.8 535.0 101.0 532.0 C101.2 529.0 101.5 526.0 101.7 523.0 C101.9 520.0 102.2 517.0 102.4 514.0 C102.7 511.0 102.9 508.0 103.2 505.0 C103.5 502.0 103.8 499.0 104.1 496.0 C104.4 493.0 104.8 490.1 105.2 487.1 C105.6 484.1 105.9 481.1 106.4 478.2 C106.9 475.2 107.3 472.3 108.0 469.4 C108.7 466.5 109.5 463.6 110.3 460.7 C111.1 457.8 112.0 454.9 113.0 452.1 C114.0 449.3 115.1 446.4 116.4 443.7 C117.7 441.0 119.0 438.3 120.6 435.8 C122.2 433.3 123.9 430.8 125.8 428.5 C127.7 426.2 129.8 424.1 132.1 422.1 C134.3 420.1 136.8 418.4 139.3 416.7 C141.8 415.0 144.4 413.6 147.1 412.2 C149.8 410.8 152.6 409.7 155.3 408.5 C158.1 407.3 160.8 406.2 163.6 405.1 C166.4 404.0 169.3 403.0 172.1 402.0 C174.9 401.0 177.8 400.1 180.6 399.1 C183.4 398.1 186.3 397.0 189.0 395.8 C191.7 394.6 194.4 393.3 196.9 391.7 C199.4 390.1 201.8 388.2 203.9 386.2 C206.0 384.2 207.9 381.9 209.7 379.5 C211.5 377.1 213.0 374.6 214.6 372.1 C216.2 369.6 217.8 367.1 219.4 364.5 C221.0 361.9 222.5 359.3 224.1 356.8 C225.7 354.3 227.3 351.8 229.1 349.4 C230.8 347.0 232.7 344.6 234.6 342.3 C236.5 340.0 238.4 337.7 240.3 335.4 C242.2 333.1 244.2 330.9 246.2 328.6 C248.2 326.4 250.2 324.1 252.2 321.9 C254.2 319.7 256.1 317.5 258.2 315.3 C260.3 313.1 262.4 311.0 264.6 308.9 C266.8 306.8 269.0 304.8 271.2 302.8 C273.4 300.8 275.7 298.9 278.0 297.0 C280.3 295.1 282.6 293.2 285.0 291.4 C287.4 289.5 289.8 287.7 292.2 285.9 C294.6 284.1 297.0 282.4 299.5 280.7 C302.0 279.0 304.5 277.3 307.0 275.6 C309.5 273.9 312.0 272.3 314.5 270.7 C317.0 269.1 319.6 267.5 322.2 266.0 C324.8 264.5 327.4 263.0 330.0 261.6 C332.6 260.2 335.3 258.8 338.0 257.4 C340.7 256.0 343.4 254.8 346.1 253.5 C348.8 252.2 351.5 251.0 354.3 249.9 C357.1 248.8 359.9 247.7 362.7 246.7 C365.5 245.7 368.3 244.7 371.2 243.8 C374.1 242.9 376.9 241.9 379.8 241.1 C382.7 240.3 385.6 239.5 388.5 238.8 C391.4 238.1 394.3 237.4 397.2 236.7 C400.1 236.0 403.1 235.4 406.0 234.7 C408.9 234.0 411.9 233.4 414.8 232.7 C417.7 232.0 420.6 231.4 423.5 230.7 C426.4 230.0 429.4 229.4 432.3 228.7 C435.2 228.0 438.1 227.3 441.0 226.6 C443.9 225.9 446.9 225.1 449.8 224.4 C452.7 223.7 455.6 222.9 458.5 222.2 C461.4 221.5 464.3 220.7 467.2 220.0 C470.1 219.3 473.1 218.5 476.0 217.8 C478.9 217.1 481.8 216.3 484.7 215.6 C487.6 214.9 490.5 214.1 493.4 213.4 C496.3 212.7 499.3 211.9 502.2 211.2 C505.1 210.5 508.0 209.7 510.9 209.0 C513.8 208.3 516.7 207.6 519.6 206.9 C522.5 206.2 525.5 205.4 528.4 204.7 C531.3 204.0 534.2 203.2 537.1 202.5 C540.0 201.8 543.0 201.1 545.9 200.4 C548.8 199.7 551.7 199.0 554.6 198.3 C557.5 197.6 560.5 196.9 563.4 196.2 C566.3 195.5 569.3 194.9 572.2 194.2 C575.1 193.5 578.0 192.8 580.9 192.1 C583.8 191.4 586.8 190.8 589.7 190.1 C592.6 189.4 595.6 188.8 598.5 188.1 C601.4 187.4 604.4 186.8 607.3 186.2 C610.2 185.5 613.2 184.8 616.1 184.2 C619.0 183.5 622.0 182.9 624.9 182.3 C627.8 181.7 630.8 181.0 633.7 180.4 C636.6 179.8 639.6 179.1 642.5 178.5 C645.4 177.9 648.4 177.2 651.3 176.6 C654.2 176.0 657.2 175.4 660.1 174.8 C663.0 174.2 666.0 173.6 668.9 173.0 C671.8 172.4 674.8 171.8 677.7 171.2 C680.7 170.6 683.7 170.1 686.6 169.5 C689.5 168.9 692.5 168.3 695.4 167.7 C698.3 167.1 701.2 166.6 704.2 166.0 C707.2 165.4 710.2 164.9 713.1 164.3 C716.0 163.8 719.0 163.2 721.9 162.7 C724.8 162.2 727.8 161.7 730.8 161.2 C733.8 160.7 736.7 160.1 739.7 159.6 C742.7 159.1 746.3 158.5 748.6 158.1 C750.9 157.7 752.7 157.4 753.5 157.3"/>
<path class="h d" stroke="#e8302f" d="M97.5 640.0 C97.5 638.5 97.5 634.0 97.5 631.0 C97.5 628.0 97.5 625.0 97.6 622.0 C97.6 619.0 97.8 616.0 97.8 613.0 C97.8 610.0 97.9 607.0 97.9 604.0 C98.0 601.0 98.0 598.0 98.1 595.0 C98.2 592.0 98.2 589.0 98.3 586.0 C98.4 583.0 98.5 580.0 98.6 577.0 C98.7 574.0 98.8 571.0 98.9 568.0 C99.0 565.0 99.2 562.0 99.4 559.0 C99.6 556.0 99.7 553.0 99.9 550.0 C100.1 547.0 100.2 544.0 100.4 541.0 C100.6 538.0 100.8 535.1 101.0 532.1 C101.2 529.1 101.5 526.1 101.7 523.1 C101.9 520.1 102.2 517.1 102.4 514.1 C102.7 511.1 102.9 508.1 103.2 505.1 C103.5 502.1 103.8 499.1 104.1 496.1 C104.4 493.1 104.7 490.2 105.1 487.2 C105.5 484.2 105.9 481.2 106.4 478.3 C106.9 475.4 107.4 472.4 108.0 469.5 C108.6 466.6 109.4 463.7 110.2 460.8 C111.0 457.9 112.0 455.0 113.0 452.2 C114.0 449.4 115.0 446.5 116.3 443.8 C117.5 441.1 118.9 438.4 120.5 435.9 C122.1 433.4 123.8 430.9 125.7 428.6 C127.6 426.3 129.8 424.2 132.0 422.2 C134.2 420.2 136.7 418.4 139.2 416.8 C141.7 415.2 144.2 413.7 146.9 412.3 C149.6 410.9 152.3 409.7 155.1 408.5 C157.9 407.3 160.7 406.3 163.5 405.2 C166.3 404.1 169.1 403.1 171.9 402.0 C174.7 400.9 177.5 400.0 180.3 398.9 C183.1 397.8 185.8 396.6 188.6 395.4 C191.4 394.2 194.1 393.0 196.9 391.9 C199.7 390.8 202.6 389.8 205.4 388.9 C208.2 388.0 211.1 387.2 214.0 386.4 C216.9 385.6 219.9 385.0 222.8 384.3 C225.7 383.6 228.6 383.0 231.5 382.3 C234.4 381.6 237.3 380.9 240.2 380.1 C243.1 379.3 245.9 378.3 248.7 377.3 C251.5 376.3 254.2 375.2 256.9 374.0 C259.6 372.8 262.3 371.5 265.0 370.2 C267.7 368.9 270.4 367.5 273.0 366.1 C275.6 364.7 278.2 363.3 280.8 361.8 C283.4 360.3 286.0 358.8 288.6 357.2 C291.2 355.6 293.7 354.0 296.2 352.4 C298.7 350.8 301.2 349.1 303.7 347.4 C306.2 345.7 308.6 344.0 311.0 342.3 C313.4 340.6 315.9 338.8 318.4 337.1 C320.8 335.4 323.2 333.6 325.7 331.9 C328.2 330.2 330.7 328.5 333.2 326.8 C335.7 325.1 338.2 323.4 340.7 321.8 C343.2 320.2 345.7 318.6 348.2 317.0 C350.7 315.4 353.3 313.9 355.9 312.3 C358.5 310.8 361.1 309.2 363.7 307.7 C366.3 306.2 368.9 304.8 371.5 303.4 C374.1 302.0 376.8 300.6 379.5 299.2 C382.2 297.8 384.8 296.5 387.5 295.1 C390.2 293.8 392.9 292.4 395.6 291.1 C398.3 289.8 401.0 288.5 403.7 287.2 C406.4 285.9 409.1 284.7 411.8 283.4 C414.5 282.1 417.3 280.8 420.0 279.6 C422.7 278.4 425.4 277.2 428.2 276.0 C430.9 274.8 433.8 273.6 436.5 272.4 C439.2 271.2 441.9 270.0 444.7 268.9 C447.5 267.8 450.3 266.7 453.1 265.6 C455.9 264.5 458.7 263.4 461.5 262.3 C464.3 261.2 467.1 260.2 469.9 259.1 C472.7 258.1 475.5 257.0 478.3 256.0 C481.1 255.0 484.0 254.1 486.8 253.1 C489.6 252.1 492.5 251.1 495.3 250.2 C498.1 249.2 501.0 248.3 503.9 247.4 C506.8 246.5 509.6 245.7 512.5 244.8 C515.4 243.9 518.2 243.1 521.1 242.2 C524.0 241.3 526.8 240.4 529.7 239.6 C532.6 238.8 535.4 237.9 538.3 237.1 C541.2 236.2 544.1 235.3 547.0 234.5 C549.9 233.7 552.7 232.8 555.6 232.0 C558.5 231.2 561.3 230.3 564.2 229.4 C567.1 228.5 569.9 227.7 572.8 226.8 C575.7 225.9 578.5 225.1 581.4 224.2 C584.3 223.3 587.1 222.5 590.0 221.6 C592.9 220.7 595.7 219.8 598.6 218.9 C601.5 218.0 604.4 217.2 607.3 216.4 C610.2 215.6 613.0 214.7 615.9 213.8 C618.8 213.0 621.6 212.1 624.5 211.3 C627.4 210.5 630.3 209.7 633.2 208.9 C636.1 208.1 638.9 207.2 641.8 206.4 C644.7 205.6 647.6 204.8 650.5 204.0 C653.4 203.2 656.2 202.3 659.1 201.5 C662.0 200.7 664.9 199.8 667.7 198.9 C670.6 198.0 673.4 197.1 676.2 196.2 C679.0 195.3 681.9 194.3 684.7 193.4 C687.5 192.5 690.4 191.6 693.2 190.6 C696.0 189.6 698.8 188.6 701.6 187.7 C704.4 186.8 707.3 185.8 710.1 184.9 C712.9 184.0 715.8 183.0 718.6 182.1 C721.5 181.2 724.3 180.3 727.2 179.4 C730.1 178.5 732.9 177.7 735.8 176.8 C738.7 176.0 741.5 175.1 744.4 174.3 C747.3 173.5 750.2 172.8 753.1 172.0 C756.0 171.2 758.9 170.5 761.8 169.7 C764.7 168.9 767.6 168.2 770.5 167.4 C773.4 166.7 776.3 165.9 779.2 165.2 C782.1 164.5 785.1 163.8 788.0 163.1 C790.9 162.4 793.8 161.6 796.7 160.9 C799.6 160.2 802.6 159.6 805.5 158.9 C808.4 158.2 811.3 157.5 814.2 156.8 C817.1 156.1 820.1 155.5 823.0 154.8 C825.9 154.1 828.9 153.5 831.8 152.8 C834.7 152.2 837.7 151.5 840.6 150.9 C843.5 150.3 846.5 149.6 849.4 149.0 C852.3 148.4 855.3 147.7 858.2 147.1 C861.1 146.5 864.1 145.9 867.0 145.3 C869.9 144.7 872.9 144.1 875.8 143.5 C878.7 142.9 881.7 142.3 884.6 141.7 C887.5 141.1 890.5 140.5 893.4 139.9 C896.3 139.3 899.3 138.8 902.3 138.2 C905.2 137.6 908.1 137.1 911.1 136.5 C914.1 135.9 917.0 135.4 920.0 134.8 C923.0 134.2 925.9 133.8 928.8 133.2 C931.7 132.6 934.6 132.1 937.6 131.5 C940.6 130.9 943.5 130.5 946.5 129.9 C949.5 129.3 952.3 128.8 955.3 128.2 C958.2 127.6 961.2 127.1 964.2 126.5 C967.2 125.9 970.1 125.4 973.0 124.8 C975.9 124.2 978.9 123.7 981.8 123.1 C984.7 122.5 987.7 121.9 990.6 121.3 C993.5 120.7 996.5 120.1 999.4 119.6 C1002.3 119.0 1005.3 118.5 1008.3 118.0 C1011.2 117.5 1014.1 116.9 1017.1 116.4 C1020.1 115.9 1023.0 115.4 1026.0 114.9 C1029.0 114.4 1031.9 113.9 1034.9 113.4 C1037.9 112.9 1040.8 112.5 1043.8 112.0 C1046.8 111.5 1049.7 111.1 1052.7 110.7 C1055.7 110.3 1058.6 109.9 1061.6 109.5 C1064.6 109.1 1067.5 108.7 1070.5 108.3 C1073.5 107.9 1076.4 107.6 1079.4 107.2 C1082.4 106.8 1085.4 106.5 1088.4 106.1 C1091.4 105.7 1094.3 105.3 1097.3 105.0 C1100.3 104.7 1103.2 104.3 1106.2 104.0 C1109.2 103.7 1112.2 103.3 1115.2 103.0 C1118.2 102.7 1121.1 102.3 1124.1 102.0 C1127.1 101.7 1130.1 101.4 1133.1 101.1 C1136.1 100.8 1139.0 100.5 1142.0 100.2 C1145.0 99.9 1148.0 99.6 1151.0 99.3 C1154.0 99.0 1156.9 98.7 1159.9 98.4 C1162.9 98.1 1165.9 97.9 1168.9 97.6 C1171.9 97.3 1174.9 97.1 1177.9 96.8 C1180.9 96.5 1183.8 96.3 1186.8 96.0 C1189.8 95.7 1194.1 95.4 1195.8 95.2 C1197.5 95.0 1196.6 95.1 1196.8 95.1"/>
<path class="c d" stroke="#e8302f" d="M97.5 640.0 C97.5 638.5 97.5 634.0 97.5 631.0 C97.5 628.0 97.5 625.0 97.6 622.0 C97.6 619.0 97.8 616.0 97.8 613.0 C97.8 610.0 97.9 607.0 97.9 604.0 C98.0 601.0 98.0 598.0 98.1 595.0 C98.2 592.0 98.2 589.0 98.3 586.0 C98.4 583.0 98.5 580.0 98.6 577.0 C98.7 574.0 98.8 571.0 98.9 568.0 C99.0 565.0 99.2 562.0 99.4 559.0 C99.6 556.0 99.7 553.0 99.9 550.0 C100.1 547.0 100.2 544.0 100.4 541.0 C100.6 538.0 100.8 535.1 101.0 532.1 C101.2 529.1 101.5 526.1 101.7 523.1 C101.9 520.1 102.2 517.1 102.4 514.1 C102.7 511.1 102.9 508.1 103.2 505.1 C103.5 502.1 103.8 499.1 104.1 496.1 C104.4 493.1 104.7 490.2 105.1 487.2 C105.5 484.2 105.9 481.2 106.4 478.3 C106.9 475.4 107.4 472.4 108.0 469.5 C108.6 466.6 109.4 463.7 110.2 460.8 C111.0 457.9 112.0 455.0 113.0 452.2 C114.0 449.4 115.0 446.5 116.3 443.8 C117.5 441.1 118.9 438.4 120.5 435.9 C122.1 433.4 123.8 430.9 125.7 428.6 C127.6 426.3 129.8 424.2 132.0 422.2 C134.2 420.2 136.7 418.4 139.2 416.8 C141.7 415.2 144.2 413.7 146.9 412.3 C149.6 410.9 152.3 409.7 155.1 408.5 C157.9 407.3 160.7 406.3 163.5 405.2 C166.3 404.1 169.1 403.1 171.9 402.0 C174.7 400.9 177.5 400.0 180.3 398.9 C183.1 397.8 185.8 396.6 188.6 395.4 C191.4 394.2 194.1 393.0 196.9 391.9 C199.7 390.8 202.6 389.8 205.4 388.9 C208.2 388.0 211.1 387.2 214.0 386.4 C216.9 385.6 219.9 385.0 222.8 384.3 C225.7 383.6 228.6 383.0 231.5 382.3 C234.4 381.6 237.3 380.9 240.2 380.1 C243.1 379.3 245.9 378.3 248.7 377.3 C251.5 376.3 254.2 375.2 256.9 374.0 C259.6 372.8 262.3 371.5 265.0 370.2 C267.7 368.9 270.4 367.5 273.0 366.1 C275.6 364.7 278.2 363.3 280.8 361.8 C283.4 360.3 286.0 358.8 288.6 357.2 C291.2 355.6 293.7 354.0 296.2 352.4 C298.7 350.8 301.2 349.1 303.7 347.4 C306.2 345.7 308.6 344.0 311.0 342.3 C313.4 340.6 315.9 338.8 318.4 337.1 C320.8 335.4 323.2 333.6 325.7 331.9 C328.2 330.2 330.7 328.5 333.2 326.8 C335.7 325.1 338.2 323.4 340.7 321.8 C343.2 320.2 345.7 318.6 348.2 317.0 C350.7 315.4 353.3 313.9 355.9 312.3 C358.5 310.8 361.1 309.2 363.7 307.7 C366.3 306.2 368.9 304.8 371.5 303.4 C374.1 302.0 376.8 300.6 379.5 299.2 C382.2 297.8 384.8 296.5 387.5 295.1 C390.2 293.8 392.9 292.4 395.6 291.1 C398.3 289.8 401.0 288.5 403.7 287.2 C406.4 285.9 409.1 284.7 411.8 283.4 C414.5 282.1 417.3 280.8 420.0 279.6 C422.7 278.4 425.4 277.2 428.2 276.0 C430.9 274.8 433.8 273.6 436.5 272.4 C439.2 271.2 441.9 270.0 444.7 268.9 C447.5 267.8 450.3 266.7 453.1 265.6 C455.9 264.5 458.7 263.4 461.5 262.3 C464.3 261.2 467.1 260.2 469.9 259.1 C472.7 258.1 475.5 257.0 478.3 256.0 C481.1 255.0 484.0 254.1 486.8 253.1 C489.6 252.1 492.5 251.1 495.3 250.2 C498.1 249.2 501.0 248.3 503.9 247.4 C506.8 246.5 509.6 245.7 512.5 244.8 C515.4 243.9 518.2 243.1 521.1 242.2 C524.0 241.3 526.8 240.4 529.7 239.6 C532.6 238.8 535.4 237.9 538.3 237.1 C541.2 236.2 544.1 235.3 547.0 234.5 C549.9 233.7 552.7 232.8 555.6 232.0 C558.5 231.2 561.3 230.3 564.2 229.4 C567.1 228.5 569.9 227.7 572.8 226.8 C575.7 225.9 578.5 225.1 581.4 224.2 C584.3 223.3 587.1 222.5 590.0 221.6 C592.9 220.7 595.7 219.8 598.6 218.9 C601.5 218.0 604.4 217.2 607.3 216.4 C610.2 215.6 613.0 214.7 615.9 213.8 C618.8 213.0 621.6 212.1 624.5 211.3 C627.4 210.5 630.3 209.7 633.2 208.9 C636.1 208.1 638.9 207.2 641.8 206.4 C644.7 205.6 647.6 204.8 650.5 204.0 C653.4 203.2 656.2 202.3 659.1 201.5 C662.0 200.7 664.9 199.8 667.7 198.9 C670.6 198.0 673.4 197.1 676.2 196.2 C679.0 195.3 681.9 194.3 684.7 193.4 C687.5 192.5 690.4 191.6 693.2 190.6 C696.0 189.6 698.8 188.6 701.6 187.7 C704.4 186.8 707.3 185.8 710.1 184.9 C712.9 184.0 715.8 183.0 718.6 182.1 C721.5 181.2 724.3 180.3 727.2 179.4 C730.1 178.5 732.9 177.7 735.8 176.8 C738.7 176.0 741.5 175.1 744.4 174.3 C747.3 173.5 750.2 172.8 753.1 172.0 C756.0 171.2 758.9 170.5 761.8 169.7 C764.7 168.9 767.6 168.2 770.5 167.4 C773.4 166.7 776.3 165.9 779.2 165.2 C782.1 164.5 785.1 163.8 788.0 163.1 C790.9 162.4 793.8 161.6 796.7 160.9 C799.6 160.2 802.6 159.6 805.5 158.9 C808.4 158.2 811.3 157.5 814.2 156.8 C817.1 156.1 820.1 155.5 823.0 154.8 C825.9 154.1 828.9 153.5 831.8 152.8 C834.7 152.2 837.7 151.5 840.6 150.9 C843.5 150.3 846.5 149.6 849.4 149.0 C852.3 148.4 855.3 147.7 858.2 147.1 C861.1 146.5 864.1 145.9 867.0 145.3 C869.9 144.7 872.9 144.1 875.8 143.5 C878.7 142.9 881.7 142.3 884.6 141.7 C887.5 141.1 890.5 140.5 893.4 139.9 C896.3 139.3 899.3 138.8 902.3 138.2 C905.2 137.6 908.1 137.1 911.1 136.5 C914.1 135.9 917.0 135.4 920.0 134.8 C923.0 134.2 925.9 133.8 928.8 133.2 C931.7 132.6 934.6 132.1 937.6 131.5 C940.6 130.9 943.5 130.5 946.5 129.9 C949.5 129.3 952.3 128.8 955.3 128.2 C958.2 127.6 961.2 127.1 964.2 126.5 C967.2 125.9 970.1 125.4 973.0 124.8 C975.9 124.2 978.9 123.7 981.8 123.1 C984.7 122.5 987.7 121.9 990.6 121.3 C993.5 120.7 996.5 120.1 999.4 119.6 C1002.3 119.0 1005.3 118.5 1008.3 118.0 C1011.2 117.5 1014.1 116.9 1017.1 116.4 C1020.1 115.9 1023.0 115.4 1026.0 114.9 C1029.0 114.4 1031.9 113.9 1034.9 113.4 C1037.9 112.9 1040.8 112.5 1043.8 112.0 C1046.8 111.5 1049.7 111.1 1052.7 110.7 C1055.7 110.3 1058.6 109.9 1061.6 109.5 C1064.6 109.1 1067.5 108.7 1070.5 108.3 C1073.5 107.9 1076.4 107.6 1079.4 107.2 C1082.4 106.8 1085.4 106.5 1088.4 106.1 C1091.4 105.7 1094.3 105.3 1097.3 105.0 C1100.3 104.7 1103.2 104.3 1106.2 104.0 C1109.2 103.7 1112.2 103.3 1115.2 103.0 C1118.2 102.7 1121.1 102.3 1124.1 102.0 C1127.1 101.7 1130.1 101.4 1133.1 101.1 C1136.1 100.8 1139.0 100.5 1142.0 100.2 C1145.0 99.9 1148.0 99.6 1151.0 99.3 C1154.0 99.0 1156.9 98.7 1159.9 98.4 C1162.9 98.1 1165.9 97.9 1168.9 97.6 C1171.9 97.3 1174.9 97.1 1177.9 96.8 C1180.9 96.5 1183.8 96.3 1186.8 96.0 C1189.8 95.7 1194.1 95.4 1195.8 95.2 C1197.5 95.0 1196.6 95.1 1196.8 95.1"/>
<path class="h" stroke="#55b548" d="M97.5 640.0 C97.5 638.5 97.6 634.0 97.6 631.0 C97.6 628.0 97.7 625.0 97.7 622.0 C97.7 619.0 97.8 616.0 97.8 613.0 C97.8 610.0 97.9 607.0 97.9 604.0 C98.0 601.0 98.0 598.0 98.1 595.0 C98.1 592.0 98.2 589.0 98.2 586.0 C98.2 583.0 98.4 580.0 98.4 577.0 C98.5 574.0 98.5 571.0 98.5 568.0 C98.5 565.0 98.6 562.0 98.7 559.0 C98.8 556.0 98.8 553.0 98.9 550.0 C99.0 547.0 99.1 544.0 99.2 541.0 C99.3 538.0 99.3 535.0 99.4 532.0 C99.5 529.0 99.6 525.9 99.7 522.9 C99.8 519.9 99.9 516.9 100.0 513.9 C100.1 510.9 100.3 507.9 100.4 504.9 C100.5 501.9 100.6 498.9 100.7 495.9 C100.8 492.9 101.0 489.9 101.2 486.9 C101.4 483.9 101.5 480.9 101.7 477.9 C101.9 474.9 102.1 471.9 102.4 468.9 C102.7 465.9 102.9 462.9 103.3 460.0 C103.7 457.1 104.2 454.1 104.9 451.2 C105.6 448.3 106.4 445.4 107.2 442.5 C108.0 439.6 108.9 436.7 109.9 433.9 C110.9 431.1 112.0 428.2 113.2 425.5 C114.5 422.8 115.8 420.1 117.4 417.6 C119.0 415.1 120.8 412.6 122.7 410.3 C124.6 408.0 126.8 405.9 129.0 403.9 C131.2 401.9 133.7 400.1 136.2 398.5 C138.7 396.9 141.4 395.6 144.1 394.4 C146.8 393.2 149.8 392.2 152.6 391.3 C155.4 390.4 158.3 389.6 161.2 388.8 C164.1 388.0 167.0 387.3 169.9 386.4 C172.8 385.5 175.5 384.5 178.4 383.6 C181.3 382.7 184.2 381.9 187.1 381.1 C190.0 380.3 192.9 379.6 195.8 378.8 C198.7 378.0 201.5 377.0 204.4 376.2 C207.3 375.4 210.2 374.6 213.1 373.9 C216.0 373.2 219.0 372.5 221.9 371.8 C224.8 371.1 227.8 370.5 230.7 369.9 C233.6 369.3 236.6 368.8 239.5 368.2 C242.4 367.6 245.4 367.2 248.3 366.6 C251.2 366.0 254.2 365.5 257.1 364.8 C260.0 364.1 263.0 363.5 265.9 362.7 C268.8 361.9 271.6 361.1 274.5 360.2 C277.4 359.3 280.3 358.4 283.1 357.5 C285.9 356.6 288.7 355.5 291.5 354.5 C294.3 353.5 297.1 352.4 299.9 351.3 C302.7 350.2 305.5 349.0 308.3 347.9 C311.1 346.8 313.8 345.6 316.6 344.5 C319.4 343.4 322.1 342.2 324.9 341.0 C327.6 339.8 330.4 338.6 333.1 337.4 C335.8 336.1 338.6 334.9 341.2 333.5 C343.8 332.1 346.4 330.7 349.0 329.2 C351.6 327.7 354.1 326.1 356.7 324.5 C359.2 322.9 361.8 321.3 364.3 319.7 C366.8 318.1 369.4 316.4 371.9 314.8 C374.4 313.2 376.9 311.7 379.5 310.1 C382.1 308.6 384.7 307.0 387.3 305.5 C389.9 304.0 392.5 302.6 395.1 301.1 C397.7 299.6 400.3 298.1 402.9 296.6 C405.5 295.1 408.1 293.6 410.7 292.1 C413.3 290.6 415.8 289.1 418.4 287.6 C421.0 286.1 423.6 284.5 426.2 283.0 C428.8 281.5 431.3 279.9 433.9 278.4 C436.5 276.9 439.1 275.3 441.7 273.8 C444.3 272.3 446.8 270.8 449.4 269.3 C452.0 267.8 454.6 266.3 457.2 264.8 C459.8 263.3 462.5 261.9 465.1 260.4 C467.7 258.9 470.4 257.4 473.0 256.0 C475.6 254.6 478.2 253.2 480.9 251.8 C483.5 250.4 486.2 249.0 488.9 247.7 C491.6 246.4 494.3 245.1 497.0 243.8 C499.7 242.5 502.4 241.2 505.1 240.0 C507.8 238.8 510.6 237.6 513.4 236.4 C516.1 235.2 518.8 234.1 521.6 233.0 C524.4 231.9 527.2 230.7 530.0 229.6 C532.8 228.5 535.6 227.4 538.4 226.4 C541.2 225.4 544.0 224.3 546.8 223.3 C549.6 222.3 552.5 221.2 555.3 220.2 C558.1 219.2 561.0 218.2 563.8 217.2 C566.6 216.2 569.5 215.2 572.3 214.2 C575.1 213.2 578.0 212.3 580.8 211.4 C583.6 210.5 586.4 209.4 589.3 208.5 C592.1 207.6 595.0 206.7 597.9 205.8 C600.8 204.9 603.6 204.0 606.5 203.1 C609.4 202.2 612.2 201.3 615.1 200.5 C618.0 199.7 620.9 198.8 623.8 198.0 C626.7 197.2 629.5 196.3 632.4 195.5 C635.3 194.7 638.2 193.9 641.1 193.1 C644.0 192.3 646.9 191.6 649.8 190.8 C652.7 190.0 655.5 189.2 658.4 188.4 C661.3 187.6 664.2 186.8 667.1 186.0 C670.0 185.2 672.9 184.4 675.8 183.6 C678.7 182.8 681.5 181.9 684.4 181.1 C687.3 180.3 690.1 179.4 693.0 178.6 C695.9 177.8 698.7 176.8 701.6 176.0 C704.5 175.2 707.4 174.3 710.3 173.5 C713.2 172.7 716.0 171.9 718.9 171.1 C721.8 170.3 724.7 169.5 727.6 168.7 C730.5 167.9 733.4 167.2 736.3 166.4 C739.2 165.7 742.1 164.9 745.0 164.2 C747.9 163.5 750.8 162.8 753.7 162.1 C756.6 161.4 759.6 160.8 762.5 160.1 C765.4 159.4 768.4 158.8 771.3 158.1 C774.2 157.4 777.2 156.7 780.1 156.1 C783.0 155.5 786.0 154.9 788.9 154.3 C791.8 153.7 794.8 153.0 797.7 152.4 C800.6 151.8 803.5 151.3 806.5 150.7 C809.5 150.1 812.4 149.5 815.4 148.9 C818.4 148.3 821.2 147.8 824.2 147.2 C827.2 146.6 830.2 146.1 833.1 145.6 C836.0 145.1 839.0 144.5 841.9 144.0 C844.8 143.5 847.8 142.9 850.8 142.4 C853.8 141.9 856.8 141.3 859.7 140.8 C862.7 140.3 865.5 139.8 868.5 139.3 C871.5 138.8 874.4 138.4 877.4 137.9 C880.4 137.4 883.3 137.0 886.3 136.5 C889.3 136.0 892.2 135.6 895.2 135.1 C898.2 134.6 901.1 134.1 904.1 133.7 C907.1 133.2 910.0 132.8 913.0 132.4 C916.0 132.0 918.9 131.6 921.9 131.2 C924.9 130.8 927.8 130.3 930.8 129.9 C933.8 129.5 936.8 129.1 939.8 128.7 C942.8 128.3 945.7 127.9 948.7 127.5 C951.7 127.1 954.6 126.6 957.6 126.2 C960.6 125.8 963.5 125.4 966.5 125.0 C969.5 124.6 972.4 124.1 975.4 123.7 C978.4 123.3 981.4 122.9 984.4 122.5 C987.4 122.1 990.3 121.6 993.3 121.2 C996.3 120.8 999.2 120.4 1002.2 119.9 C1005.2 119.5 1008.1 119.0 1011.1 118.5 C1014.1 118.0 1017.0 117.7 1020.0 117.2 C1023.0 116.8 1025.9 116.2 1028.9 115.8 C1031.9 115.3 1034.8 114.9 1037.8 114.5 C1040.8 114.1 1043.7 113.6 1046.7 113.2 C1049.7 112.8 1052.6 112.3 1055.6 111.9 C1058.6 111.5 1061.5 111.1 1064.5 110.7 C1067.5 110.3 1070.5 109.9 1073.5 109.5 C1076.5 109.1 1079.4 108.8 1082.4 108.4 C1085.4 108.0 1088.3 107.7 1091.3 107.3 C1094.3 106.9 1097.3 106.6 1100.3 106.3 C1103.3 106.0 1106.2 105.5 1109.2 105.2 C1112.2 104.9 1115.2 104.5 1118.2 104.2 C1121.2 103.9 1124.1 103.6 1127.1 103.3 C1130.1 103.0 1133.1 102.7 1136.1 102.4 C1139.1 102.1 1142.0 101.7 1145.0 101.4 C1148.0 101.1 1151.0 100.9 1154.0 100.6 C1157.0 100.3 1160.0 100.0 1163.0 99.7 C1166.0 99.4 1168.9 99.1 1171.9 98.8 C1174.9 98.5 1177.9 98.3 1180.9 98.0 C1183.9 97.7 1186.9 97.5 1189.9 97.2 C1192.9 96.9 1196.3 96.5 1198.8 96.3 C1201.3 96.1 1203.8 95.9 1204.8 95.8"/>
<path class="c" stroke="#55b548" d="M97.5 640.0 C97.5 638.5 97.6 634.0 97.6 631.0 C97.6 628.0 97.7 625.0 97.7 622.0 C97.7 619.0 97.8 616.0 97.8 613.0 C97.8 610.0 97.9 607.0 97.9 604.0 C98.0 601.0 98.0 598.0 98.1 595.0 C98.1 592.0 98.2 589.0 98.2 586.0 C98.2 583.0 98.4 580.0 98.4 577.0 C98.5 574.0 98.5 571.0 98.5 568.0 C98.5 565.0 98.6 562.0 98.7 559.0 C98.8 556.0 98.8 553.0 98.9 550.0 C99.0 547.0 99.1 544.0 99.2 541.0 C99.3 538.0 99.3 535.0 99.4 532.0 C99.5 529.0 99.6 525.9 99.7 522.9 C99.8 519.9 99.9 516.9 100.0 513.9 C100.1 510.9 100.3 507.9 100.4 504.9 C100.5 501.9 100.6 498.9 100.7 495.9 C100.8 492.9 101.0 489.9 101.2 486.9 C101.4 483.9 101.5 480.9 101.7 477.9 C101.9 474.9 102.1 471.9 102.4 468.9 C102.7 465.9 102.9 462.9 103.3 460.0 C103.7 457.1 104.2 454.1 104.9 451.2 C105.6 448.3 106.4 445.4 107.2 442.5 C108.0 439.6 108.9 436.7 109.9 433.9 C110.9 431.1 112.0 428.2 113.2 425.5 C114.5 422.8 115.8 420.1 117.4 417.6 C119.0 415.1 120.8 412.6 122.7 410.3 C124.6 408.0 126.8 405.9 129.0 403.9 C131.2 401.9 133.7 400.1 136.2 398.5 C138.7 396.9 141.4 395.6 144.1 394.4 C146.8 393.2 149.8 392.2 152.6 391.3 C155.4 390.4 158.3 389.6 161.2 388.8 C164.1 388.0 167.0 387.3 169.9 386.4 C172.8 385.5 175.5 384.5 178.4 383.6 C181.3 382.7 184.2 381.9 187.1 381.1 C190.0 380.3 192.9 379.6 195.8 378.8 C198.7 378.0 201.5 377.0 204.4 376.2 C207.3 375.4 210.2 374.6 213.1 373.9 C216.0 373.2 219.0 372.5 221.9 371.8 C224.8 371.1 227.8 370.5 230.7 369.9 C233.6 369.3 236.6 368.8 239.5 368.2 C242.4 367.6 245.4 367.2 248.3 366.6 C251.2 366.0 254.2 365.5 257.1 364.8 C260.0 364.1 263.0 363.5 265.9 362.7 C268.8 361.9 271.6 361.1 274.5 360.2 C277.4 359.3 280.3 358.4 283.1 357.5 C285.9 356.6 288.7 355.5 291.5 354.5 C294.3 353.5 297.1 352.4 299.9 351.3 C302.7 350.2 305.5 349.0 308.3 347.9 C311.1 346.8 313.8 345.6 316.6 344.5 C319.4 343.4 322.1 342.2 324.9 341.0 C327.6 339.8 330.4 338.6 333.1 337.4 C335.8 336.1 338.6 334.9 341.2 333.5 C343.8 332.1 346.4 330.7 349.0 329.2 C351.6 327.7 354.1 326.1 356.7 324.5 C359.2 322.9 361.8 321.3 364.3 319.7 C366.8 318.1 369.4 316.4 371.9 314.8 C374.4 313.2 376.9 311.7 379.5 310.1 C382.1 308.6 384.7 307.0 387.3 305.5 C389.9 304.0 392.5 302.6 395.1 301.1 C397.7 299.6 400.3 298.1 402.9 296.6 C405.5 295.1 408.1 293.6 410.7 292.1 C413.3 290.6 415.8 289.1 418.4 287.6 C421.0 286.1 423.6 284.5 426.2 283.0 C428.8 281.5 431.3 279.9 433.9 278.4 C436.5 276.9 439.1 275.3 441.7 273.8 C444.3 272.3 446.8 270.8 449.4 269.3 C452.0 267.8 454.6 266.3 457.2 264.8 C459.8 263.3 462.5 261.9 465.1 260.4 C467.7 258.9 470.4 257.4 473.0 256.0 C475.6 254.6 478.2 253.2 480.9 251.8 C483.5 250.4 486.2 249.0 488.9 247.7 C491.6 246.4 494.3 245.1 497.0 243.8 C499.7 242.5 502.4 241.2 505.1 240.0 C507.8 238.8 510.6 237.6 513.4 236.4 C516.1 235.2 518.8 234.1 521.6 233.0 C524.4 231.9 527.2 230.7 530.0 229.6 C532.8 228.5 535.6 227.4 538.4 226.4 C541.2 225.4 544.0 224.3 546.8 223.3 C549.6 222.3 552.5 221.2 555.3 220.2 C558.1 219.2 561.0 218.2 563.8 217.2 C566.6 216.2 569.5 215.2 572.3 214.2 C575.1 213.2 578.0 212.3 580.8 211.4 C583.6 210.5 586.4 209.4 589.3 208.5 C592.1 207.6 595.0 206.7 597.9 205.8 C600.8 204.9 603.6 204.0 606.5 203.1 C609.4 202.2 612.2 201.3 615.1 200.5 C618.0 199.7 620.9 198.8 623.8 198.0 C626.7 197.2 629.5 196.3 632.4 195.5 C635.3 194.7 638.2 193.9 641.1 193.1 C644.0 192.3 646.9 191.6 649.8 190.8 C652.7 190.0 655.5 189.2 658.4 188.4 C661.3 187.6 664.2 186.8 667.1 186.0 C670.0 185.2 672.9 184.4 675.8 183.6 C678.7 182.8 681.5 181.9 684.4 181.1 C687.3 180.3 690.1 179.4 693.0 178.6 C695.9 177.8 698.7 176.8 701.6 176.0 C704.5 175.2 707.4 174.3 710.3 173.5 C713.2 172.7 716.0 171.9 718.9 171.1 C721.8 170.3 724.7 169.5 727.6 168.7 C730.5 167.9 733.4 167.2 736.3 166.4 C739.2 165.7 742.1 164.9 745.0 164.2 C747.9 163.5 750.8 162.8 753.7 162.1 C756.6 161.4 759.6 160.8 762.5 160.1 C765.4 159.4 768.4 158.8 771.3 158.1 C774.2 157.4 777.2 156.7 780.1 156.1 C783.0 155.5 786.0 154.9 788.9 154.3 C791.8 153.7 794.8 153.0 797.7 152.4 C800.6 151.8 803.5 151.3 806.5 150.7 C809.5 150.1 812.4 149.5 815.4 148.9 C818.4 148.3 821.2 147.8 824.2 147.2 C827.2 146.6 830.2 146.1 833.1 145.6 C836.0 145.1 839.0 144.5 841.9 144.0 C844.8 143.5 847.8 142.9 850.8 142.4 C853.8 141.9 856.8 141.3 859.7 140.8 C862.7 140.3 865.5 139.8 868.5 139.3 C871.5 138.8 874.4 138.4 877.4 137.9 C880.4 137.4 883.3 137.0 886.3 136.5 C889.3 136.0 892.2 135.6 895.2 135.1 C898.2 134.6 901.1 134.1 904.1 133.7 C907.1 133.2 910.0 132.8 913.0 132.4 C916.0 132.0 918.9 131.6 921.9 131.2 C924.9 130.8 927.8 130.3 930.8 129.9 C933.8 129.5 936.8 129.1 939.8 128.7 C942.8 128.3 945.7 127.9 948.7 127.5 C951.7 127.1 954.6 126.6 957.6 126.2 C960.6 125.8 963.5 125.4 966.5 125.0 C969.5 124.6 972.4 124.1 975.4 123.7 C978.4 123.3 981.4 122.9 984.4 122.5 C987.4 122.1 990.3 121.6 993.3 121.2 C996.3 120.8 999.2 120.4 1002.2 119.9 C1005.2 119.5 1008.1 119.0 1011.1 118.5 C1014.1 118.0 1017.0 117.7 1020.0 117.2 C1023.0 116.8 1025.9 116.2 1028.9 115.8 C1031.9 115.3 1034.8 114.9 1037.8 114.5 C1040.8 114.1 1043.7 113.6 1046.7 113.2 C1049.7 112.8 1052.6 112.3 1055.6 111.9 C1058.6 111.5 1061.5 111.1 1064.5 110.7 C1067.5 110.3 1070.5 109.9 1073.5 109.5 C1076.5 109.1 1079.4 108.8 1082.4 108.4 C1085.4 108.0 1088.3 107.7 1091.3 107.3 C1094.3 106.9 1097.3 106.6 1100.3 106.3 C1103.3 106.0 1106.2 105.5 1109.2 105.2 C1112.2 104.9 1115.2 104.5 1118.2 104.2 C1121.2 103.9 1124.1 103.6 1127.1 103.3 C1130.1 103.0 1133.1 102.7 1136.1 102.4 C1139.1 102.1 1142.0 101.7 1145.0 101.4 C1148.0 101.1 1151.0 100.9 1154.0 100.6 C1157.0 100.3 1160.0 100.0 1163.0 99.7 C1166.0 99.4 1168.9 99.1 1171.9 98.8 C1174.9 98.5 1177.9 98.3 1180.9 98.0 C1183.9 97.7 1186.9 97.5 1189.9 97.2 C1192.9 96.9 1196.3 96.5 1198.8 96.3 C1201.3 96.1 1203.8 95.9 1204.8 95.8"/>
<path class="h d" stroke="#55b548" d="M97.5 640.0 C97.5 638.5 97.6 634.0 97.6 631.0 C97.6 628.0 97.7 625.0 97.7 622.0 C97.8 619.0 97.9 616.0 97.9 613.0 C98.0 610.0 98.0 607.0 98.0 604.0 C98.0 601.0 98.1 598.0 98.2 595.0 C98.3 592.0 98.3 589.0 98.4 586.0 C98.5 583.0 98.5 580.0 98.6 577.0 C98.7 574.0 98.7 571.0 98.8 568.0 C98.9 565.0 98.9 562.0 99.0 559.0 C99.1 556.0 99.2 553.0 99.3 550.0 C99.4 547.0 99.5 544.0 99.6 541.0 C99.7 538.0 99.8 535.0 99.9 532.0 C100.0 529.0 100.2 526.0 100.3 523.0 C100.4 520.0 100.5 517.0 100.6 514.0 C100.7 511.0 100.9 507.9 101.0 504.9 C101.1 501.9 101.2 498.9 101.4 495.9 C101.6 492.9 101.7 489.9 101.9 486.9 C102.1 483.9 102.3 480.9 102.5 477.9 C102.7 474.9 103.0 471.9 103.3 469.0 C103.6 466.1 103.8 463.1 104.4 460.2 C105.0 457.3 105.8 454.4 106.7 451.5 C107.6 448.6 108.7 445.8 109.7 443.0 C110.7 440.2 111.8 437.4 112.9 434.6 C114.1 431.8 115.2 429.0 116.6 426.4 C118.0 423.8 119.5 421.1 121.3 418.7 C123.1 416.3 125.1 414.1 127.3 412.1 C129.5 410.2 132.0 408.5 134.6 407.0 C137.2 405.5 139.9 404.3 142.7 403.1 C145.4 401.9 148.3 400.8 151.1 399.8 C153.9 398.8 156.8 397.8 159.6 396.9 C162.4 396.0 165.3 395.1 168.2 394.2 C171.0 393.3 173.8 392.2 176.7 391.3 C179.5 390.4 182.4 389.5 185.3 388.7 C188.2 387.9 191.1 387.2 194.0 386.4 C196.9 385.6 199.7 384.7 202.6 383.9 C205.5 383.1 208.4 382.4 211.3 381.7 C214.2 381.0 217.2 380.4 220.1 379.8 C223.0 379.2 226.0 378.7 229.0 378.2 C232.0 377.7 235.0 377.4 237.9 376.9 C240.8 376.4 243.8 375.9 246.7 375.3 C249.6 374.7 252.5 374.1 255.4 373.4 C258.3 372.7 261.2 371.9 264.1 371.1 C267.0 370.3 269.8 369.4 272.7 368.5 C275.6 367.6 278.4 366.8 281.3 365.9 C284.2 365.0 287.0 364.0 289.8 363.0 C292.6 362.0 295.5 361.1 298.3 360.1 C301.1 359.1 304.0 358.1 306.8 357.1 C309.6 356.1 312.4 355.0 315.2 353.9 C318.0 352.8 320.8 351.7 323.6 350.6 C326.4 349.5 329.1 348.3 331.9 347.1 C334.6 345.9 337.4 344.7 340.1 343.5 C342.8 342.3 345.5 341.0 348.2 339.7 C350.9 338.4 353.6 337.0 356.2 335.6 C358.8 334.2 361.4 332.8 364.0 331.3 C366.6 329.9 369.3 328.3 371.9 326.9 C374.5 325.5 377.1 324.1 379.8 322.7 C382.5 321.3 385.1 320.0 387.8 318.6 C390.5 317.2 393.2 315.9 395.9 314.5 C398.6 313.1 401.2 311.8 403.9 310.5 C406.6 309.2 409.2 307.8 411.9 306.5 C414.6 305.2 417.3 303.8 420.0 302.5 C422.7 301.2 425.4 299.8 428.1 298.5 C430.8 297.2 433.4 295.9 436.1 294.6 C438.8 293.3 441.6 292.0 444.3 290.7 C447.0 289.4 449.7 288.1 452.4 286.8 C455.1 285.5 457.8 284.3 460.5 283.0 C463.2 281.7 465.9 280.4 468.6 279.1 C471.3 277.8 474.0 276.4 476.7 275.1 C479.4 273.8 482.1 272.5 484.8 271.2 C487.5 269.9 490.2 268.6 492.9 267.3 C495.6 266.0 498.3 264.6 501.0 263.3 C503.7 262.0 506.4 260.7 509.1 259.4 C511.8 258.1 514.5 256.9 517.2 255.6 C519.9 254.3 522.6 253.0 525.3 251.8 C528.0 250.6 530.9 249.4 533.6 248.2 C536.4 247.0 539.0 245.8 541.8 244.7 C544.5 243.5 547.3 242.4 550.1 241.3 C552.9 240.2 555.7 239.1 558.5 238.0 C561.3 236.9 564.1 235.9 566.9 234.8 C569.7 233.8 572.6 232.7 575.4 231.7 C578.2 230.7 581.1 229.8 583.9 228.8 C586.7 227.8 589.6 226.9 592.4 225.9 C595.2 224.9 598.0 224.0 600.9 223.1 C603.8 222.2 606.6 221.2 609.5 220.3 C612.4 219.4 615.2 218.5 618.1 217.6 C621.0 216.7 623.8 215.8 626.7 215.0 C629.6 214.2 632.4 213.3 635.3 212.5 C638.2 211.7 641.1 210.8 644.0 210.0 C646.9 209.2 649.7 208.3 652.6 207.5 C655.5 206.7 658.4 205.8 661.3 205.0 C664.2 204.2 667.0 203.4 669.9 202.6 C672.8 201.8 675.7 200.9 678.6 200.1 C681.5 199.3 684.3 198.4 687.2 197.6 C690.1 196.8 693.0 195.9 695.9 195.1 C698.8 194.3 701.6 193.4 704.5 192.6 C707.4 191.8 710.2 190.9 713.1 190.1 C716.0 189.3 718.9 188.5 721.8 187.7 C724.7 186.9 727.6 186.1 730.5 185.3 C733.4 184.5 736.2 183.7 739.1 182.9 C742.0 182.1 744.9 181.3 747.8 180.6 C750.7 179.8 753.7 179.1 756.6 178.4 C759.5 177.7 762.4 176.9 765.3 176.2 C768.2 175.5 771.1 174.8 774.0 174.1 C776.9 173.4 779.9 172.7 782.8 172.0 C785.7 171.3 788.6 170.6 791.5 169.9 C794.4 169.2 797.4 168.6 800.3 167.9 C803.2 167.2 806.2 166.6 809.1 165.9 C812.0 165.2 815.0 164.6 817.9 163.9 C820.8 163.2 823.8 162.6 826.7 162.0 C829.6 161.4 832.6 160.7 835.5 160.1 C838.4 159.5 841.4 158.8 844.3 158.2 C847.2 157.6 850.2 157.0 853.1 156.4 C856.0 155.8 859.0 155.2 861.9 154.6 C864.8 154.0 867.8 153.4 870.7 152.8 C873.7 152.2 876.7 151.7 879.6 151.2 C882.5 150.7 885.5 150.1 888.4 149.6 C891.3 149.1 894.3 148.5 897.3 148.0 C900.3 147.5 903.2 147.0 906.2 146.5 C909.2 146.0 912.0 145.5 915.0 145.0 C918.0 144.5 920.9 144.1 923.9 143.6 C926.9 143.1 929.8 142.6 932.8 142.1 C935.8 141.6 938.8 141.2 941.7 140.7 C944.7 140.2 947.5 139.6 950.5 139.1 C953.5 138.6 956.4 138.1 959.4 137.6 C962.4 137.1 965.3 136.6 968.2 136.0 C971.1 135.4 974.1 134.9 977.0 134.3 C979.9 133.7 982.8 133.2 985.8 132.6 C988.8 132.0 991.8 131.5 994.7 130.9 C997.7 130.3 1000.6 129.8 1003.5 129.2 C1006.4 128.6 1009.3 128.0 1012.3 127.5 C1015.2 127.0 1018.2 126.5 1021.2 126.0 C1024.2 125.5 1027.0 125.0 1030.0 124.5 C1033.0 124.0 1035.9 123.6 1038.9 123.1 C1041.9 122.6 1044.8 122.1 1047.8 121.7 C1050.8 121.3 1053.7 120.9 1056.7 120.5 C1059.7 120.1 1062.6 119.7 1065.6 119.3 C1068.6 118.9 1071.6 118.5 1074.6 118.1 C1077.6 117.7 1080.5 117.4 1083.5 117.0 C1086.5 116.6 1089.4 116.3 1092.4 115.9 C1095.4 115.5 1098.4 115.2 1101.4 114.8 C1104.4 114.4 1107.3 114.1 1110.3 113.8 C1113.3 113.5 1116.3 113.1 1119.3 112.8 C1122.3 112.5 1125.2 112.1 1128.2 111.8 C1131.2 111.5 1134.2 111.1 1137.2 110.8 C1140.2 110.5 1143.1 110.2 1146.1 109.9 C1149.1 109.6 1152.1 109.2 1155.1 108.9 C1158.1 108.6 1161.0 108.2 1164.0 107.9 C1167.0 107.6 1170.0 107.2 1173.0 106.9 C1176.0 106.6 1178.9 106.2 1181.9 105.9 C1184.9 105.6 1188.3 105.2 1190.8 104.9 C1193.3 104.6 1195.8 104.3 1196.8 104.2"/>
<path class="c d" stroke="#55b548" d="M97.5 640.0 C97.5 638.5 97.6 634.0 97.6 631.0 C97.6 628.0 97.7 625.0 97.7 622.0 C97.8 619.0 97.9 616.0 97.9 613.0 C98.0 610.0 98.0 607.0 98.0 604.0 C98.0 601.0 98.1 598.0 98.2 595.0 C98.3 592.0 98.3 589.0 98.4 586.0 C98.5 583.0 98.5 580.0 98.6 577.0 C98.7 574.0 98.7 571.0 98.8 568.0 C98.9 565.0 98.9 562.0 99.0 559.0 C99.1 556.0 99.2 553.0 99.3 550.0 C99.4 547.0 99.5 544.0 99.6 541.0 C99.7 538.0 99.8 535.0 99.9 532.0 C100.0 529.0 100.2 526.0 100.3 523.0 C100.4 520.0 100.5 517.0 100.6 514.0 C100.7 511.0 100.9 507.9 101.0 504.9 C101.1 501.9 101.2 498.9 101.4 495.9 C101.6 492.9 101.7 489.9 101.9 486.9 C102.1 483.9 102.3 480.9 102.5 477.9 C102.7 474.9 103.0 471.9 103.3 469.0 C103.6 466.1 103.8 463.1 104.4 460.2 C105.0 457.3 105.8 454.4 106.7 451.5 C107.6 448.6 108.7 445.8 109.7 443.0 C110.7 440.2 111.8 437.4 112.9 434.6 C114.1 431.8 115.2 429.0 116.6 426.4 C118.0 423.8 119.5 421.1 121.3 418.7 C123.1 416.3 125.1 414.1 127.3 412.1 C129.5 410.2 132.0 408.5 134.6 407.0 C137.2 405.5 139.9 404.3 142.7 403.1 C145.4 401.9 148.3 400.8 151.1 399.8 C153.9 398.8 156.8 397.8 159.6 396.9 C162.4 396.0 165.3 395.1 168.2 394.2 C171.0 393.3 173.8 392.2 176.7 391.3 C179.5 390.4 182.4 389.5 185.3 388.7 C188.2 387.9 191.1 387.2 194.0 386.4 C196.9 385.6 199.7 384.7 202.6 383.9 C205.5 383.1 208.4 382.4 211.3 381.7 C214.2 381.0 217.2 380.4 220.1 379.8 C223.0 379.2 226.0 378.7 229.0 378.2 C232.0 377.7 235.0 377.4 237.9 376.9 C240.8 376.4 243.8 375.9 246.7 375.3 C249.6 374.7 252.5 374.1 255.4 373.4 C258.3 372.7 261.2 371.9 264.1 371.1 C267.0 370.3 269.8 369.4 272.7 368.5 C275.6 367.6 278.4 366.8 281.3 365.9 C284.2 365.0 287.0 364.0 289.8 363.0 C292.6 362.0 295.5 361.1 298.3 360.1 C301.1 359.1 304.0 358.1 306.8 357.1 C309.6 356.1 312.4 355.0 315.2 353.9 C318.0 352.8 320.8 351.7 323.6 350.6 C326.4 349.5 329.1 348.3 331.9 347.1 C334.6 345.9 337.4 344.7 340.1 343.5 C342.8 342.3 345.5 341.0 348.2 339.7 C350.9 338.4 353.6 337.0 356.2 335.6 C358.8 334.2 361.4 332.8 364.0 331.3 C366.6 329.9 369.3 328.3 371.9 326.9 C374.5 325.5 377.1 324.1 379.8 322.7 C382.5 321.3 385.1 320.0 387.8 318.6 C390.5 317.2 393.2 315.9 395.9 314.5 C398.6 313.1 401.2 311.8 403.9 310.5 C406.6 309.2 409.2 307.8 411.9 306.5 C414.6 305.2 417.3 303.8 420.0 302.5 C422.7 301.2 425.4 299.8 428.1 298.5 C430.8 297.2 433.4 295.9 436.1 294.6 C438.8 293.3 441.6 292.0 444.3 290.7 C447.0 289.4 449.7 288.1 452.4 286.8 C455.1 285.5 457.8 284.3 460.5 283.0 C463.2 281.7 465.9 280.4 468.6 279.1 C471.3 277.8 474.0 276.4 476.7 275.1 C479.4 273.8 482.1 272.5 484.8 271.2 C487.5 269.9 490.2 268.6 492.9 267.3 C495.6 266.0 498.3 264.6 501.0 263.3 C503.7 262.0 506.4 260.7 509.1 259.4 C511.8 258.1 514.5 256.9 517.2 255.6 C519.9 254.3 522.6 253.0 525.3 251.8 C528.0 250.6 530.9 249.4 533.6 248.2 C536.4 247.0 539.0 245.8 541.8 244.7 C544.5 243.5 547.3 242.4 550.1 241.3 C552.9 240.2 555.7 239.1 558.5 238.0 C561.3 236.9 564.1 235.9 566.9 234.8 C569.7 233.8 572.6 232.7 575.4 231.7 C578.2 230.7 581.1 229.8 583.9 228.8 C586.7 227.8 589.6 226.9 592.4 225.9 C595.2 224.9 598.0 224.0 600.9 223.1 C603.8 222.2 606.6 221.2 609.5 220.3 C612.4 219.4 615.2 218.5 618.1 217.6 C621.0 216.7 623.8 215.8 626.7 215.0 C629.6 214.2 632.4 213.3 635.3 212.5 C638.2 211.7 641.1 210.8 644.0 210.0 C646.9 209.2 649.7 208.3 652.6 207.5 C655.5 206.7 658.4 205.8 661.3 205.0 C664.2 204.2 667.0 203.4 669.9 202.6 C672.8 201.8 675.7 200.9 678.6 200.1 C681.5 199.3 684.3 198.4 687.2 197.6 C690.1 196.8 693.0 195.9 695.9 195.1 C698.8 194.3 701.6 193.4 704.5 192.6 C707.4 191.8 710.2 190.9 713.1 190.1 C716.0 189.3 718.9 188.5 721.8 187.7 C724.7 186.9 727.6 186.1 730.5 185.3 C733.4 184.5 736.2 183.7 739.1 182.9 C742.0 182.1 744.9 181.3 747.8 180.6 C750.7 179.8 753.7 179.1 756.6 178.4 C759.5 177.7 762.4 176.9 765.3 176.2 C768.2 175.5 771.1 174.8 774.0 174.1 C776.9 173.4 779.9 172.7 782.8 172.0 C785.7 171.3 788.6 170.6 791.5 169.9 C794.4 169.2 797.4 168.6 800.3 167.9 C803.2 167.2 806.2 166.6 809.1 165.9 C812.0 165.2 815.0 164.6 817.9 163.9 C820.8 163.2 823.8 162.6 826.7 162.0 C829.6 161.4 832.6 160.7 835.5 160.1 C838.4 159.5 841.4 158.8 844.3 158.2 C847.2 157.6 850.2 157.0 853.1 156.4 C856.0 155.8 859.0 155.2 861.9 154.6 C864.8 154.0 867.8 153.4 870.7 152.8 C873.7 152.2 876.7 151.7 879.6 151.2 C882.5 150.7 885.5 150.1 888.4 149.6 C891.3 149.1 894.3 148.5 897.3 148.0 C900.3 147.5 903.2 147.0 906.2 146.5 C909.2 146.0 912.0 145.5 915.0 145.0 C918.0 144.5 920.9 144.1 923.9 143.6 C926.9 143.1 929.8 142.6 932.8 142.1 C935.8 141.6 938.8 141.2 941.7 140.7 C944.7 140.2 947.5 139.6 950.5 139.1 C953.5 138.6 956.4 138.1 959.4 137.6 C962.4 137.1 965.3 136.6 968.2 136.0 C971.1 135.4 974.1 134.9 977.0 134.3 C979.9 133.7 982.8 133.2 985.8 132.6 C988.8 132.0 991.8 131.5 994.7 130.9 C997.7 130.3 1000.6 129.8 1003.5 129.2 C1006.4 128.6 1009.3 128.0 1012.3 127.5 C1015.2 127.0 1018.2 126.5 1021.2 126.0 C1024.2 125.5 1027.0 125.0 1030.0 124.5 C1033.0 124.0 1035.9 123.6 1038.9 123.1 C1041.9 122.6 1044.8 122.1 1047.8 121.7 C1050.8 121.3 1053.7 120.9 1056.7 120.5 C1059.7 120.1 1062.6 119.7 1065.6 119.3 C1068.6 118.9 1071.6 118.5 1074.6 118.1 C1077.6 117.7 1080.5 117.4 1083.5 117.0 C1086.5 116.6 1089.4 116.3 1092.4 115.9 C1095.4 115.5 1098.4 115.2 1101.4 114.8 C1104.4 114.4 1107.3 114.1 1110.3 113.8 C1113.3 113.5 1116.3 113.1 1119.3 112.8 C1122.3 112.5 1125.2 112.1 1128.2 111.8 C1131.2 111.5 1134.2 111.1 1137.2 110.8 C1140.2 110.5 1143.1 110.2 1146.1 109.9 C1149.1 109.6 1152.1 109.2 1155.1 108.9 C1158.1 108.6 1161.0 108.2 1164.0 107.9 C1167.0 107.6 1170.0 107.2 1173.0 106.9 C1176.0 106.6 1178.9 106.2 1181.9 105.9 C1184.9 105.6 1188.3 105.2 1190.8 104.9 C1193.3 104.6 1195.8 104.3 1196.8 104.2"/>
<path class="h" stroke="#f0662f" d="M97.5 640.0 C97.5 638.5 97.5 634.0 97.5 631.0 C97.5 628.0 97.5 625.0 97.5 622.0 C97.5 619.0 97.5 616.0 97.5 613.0 C97.5 610.0 97.6 607.0 97.6 604.0 C97.6 601.0 97.6 598.0 97.6 595.0 C97.6 592.0 97.6 589.0 97.6 586.0 C97.6 583.0 97.7 580.0 97.7 577.0 C97.7 574.0 97.7 571.0 97.7 568.0 C97.7 565.0 97.8 561.9 97.8 558.9 C97.8 555.9 97.9 552.9 97.9 549.9 C98.0 546.9 98.0 543.9 98.1 540.9 C98.2 537.9 98.2 534.9 98.3 531.9 C98.4 528.9 98.4 525.9 98.5 522.9 C98.6 519.9 98.8 516.9 98.9 513.9 C99.1 510.9 99.2 507.9 99.4 504.9 C99.6 501.9 99.8 499.0 100.1 496.0 C100.3 493.0 100.7 490.0 100.9 487.0 C101.1 484.0 101.3 481.0 101.5 478.0 C101.7 475.0 101.9 472.0 102.1 469.0 C102.3 466.0 102.4 463.0 102.6 460.0 C102.8 457.0 102.9 454.0 103.1 451.0 C103.3 448.0 103.6 445.1 103.9 442.1 C104.2 439.1 104.6 436.1 105.0 433.1 C105.4 430.1 105.8 427.2 106.3 424.2 C106.8 421.2 107.2 418.3 107.7 415.3 C108.2 412.3 108.7 409.4 109.2 406.4 C109.7 403.4 110.2 400.4 110.7 397.5 C111.2 394.6 111.7 391.6 112.2 388.7 C112.7 385.8 113.3 382.7 113.9 379.8 C114.5 376.9 115.2 374.0 116.0 371.1 C116.8 368.2 117.8 365.4 118.7 362.5 C119.7 359.6 120.6 356.8 121.7 354.0 C122.8 351.2 123.8 348.3 125.2 345.7 C126.6 343.1 128.2 340.5 129.9 338.1 C131.6 335.7 133.6 333.3 135.6 331.1 C137.6 328.9 139.7 326.7 142.0 324.8 C144.3 322.9 146.7 321.1 149.2 319.5 C151.7 317.9 154.3 316.4 157.0 315.0 C159.7 313.6 162.4 312.3 165.1 311.0 C167.8 309.7 170.5 308.5 173.3 307.4 C176.1 306.3 178.9 305.2 181.7 304.2 C184.5 303.2 187.4 302.2 190.3 301.4 C193.2 300.6 196.1 299.8 199.0 299.2 C201.9 298.6 204.9 298.1 207.8 297.5 C210.8 296.9 213.7 296.4 216.7 295.9 C219.7 295.4 222.6 294.9 225.6 294.3 C228.6 293.7 231.5 293.1 234.4 292.5 C237.3 291.9 240.3 291.3 243.2 290.7 C246.1 290.1 249.1 289.3 252.0 288.7 C254.9 288.1 257.9 287.5 260.8 286.9 C263.7 286.3 266.7 285.7 269.6 285.2 C272.6 284.7 275.5 284.2 278.5 283.8 C281.5 283.4 284.4 282.9 287.4 282.5 C290.4 282.1 293.3 281.7 296.3 281.3 C299.3 280.9 302.2 280.6 305.2 280.2 C308.2 279.8 311.2 279.5 314.2 279.2 C317.2 278.9 320.1 278.5 323.1 278.2 C326.1 277.9 329.1 277.6 332.1 277.3 C335.1 277.0 338.1 276.8 341.1 276.5 C344.1 276.2 347.0 275.9 350.0 275.6 C353.0 275.3 356.0 275.0 359.0 274.7 C362.0 274.4 365.0 274.2 368.0 273.9 C371.0 273.6 373.9 273.3 376.9 273.0 C379.9 272.7 382.9 272.5 385.9 272.2 C388.9 271.9 391.8 271.7 394.8 271.4 C397.8 271.1 400.8 270.8 403.8 270.5 C406.8 270.2 409.7 269.9 412.7 269.5 C415.7 269.1 418.7 268.8 421.7 268.4 C424.7 268.0 427.6 267.6 430.6 267.2 C433.6 266.8 436.6 266.3 439.5 265.8 C442.4 265.3 445.4 264.8 448.3 264.3 C451.2 263.8 454.2 263.2 457.2 262.7 C460.1 262.1 463.1 261.6 466.0 261.0 C468.9 260.4 471.9 259.8 474.9 259.2 C477.8 258.6 480.8 258.0 483.7 257.4 C486.6 256.8 489.5 256.1 492.4 255.4 C495.3 254.7 498.3 254.1 501.2 253.4 C504.1 252.7 507.1 252.1 510.0 251.4 C512.9 250.7 515.9 250.0 518.8 249.3 C521.7 248.6 524.6 248.0 527.5 247.3 C530.4 246.6 533.4 245.9 536.3 245.2 C539.2 244.5 542.2 243.9 545.1 243.2 C548.0 242.5 550.9 241.8 553.8 241.1 C556.7 240.4 559.7 239.8 562.6 239.1 C565.5 238.4 568.5 237.7 571.4 237.0 C574.3 236.3 577.2 235.7 580.1 235.0 C583.0 234.3 586.0 233.6 588.9 232.9 C591.8 232.2 594.8 231.6 597.7 230.9 C600.6 230.2 603.6 229.6 606.5 228.9 C609.4 228.2 612.3 227.6 615.2 226.9 C618.1 226.2 621.1 225.6 624.0 224.9 C626.9 224.2 629.9 223.6 632.8 222.9 C635.7 222.2 638.7 221.6 641.6 221.0 C644.5 220.4 647.5 219.7 650.4 219.1 C653.3 218.5 656.3 217.8 659.2 217.2 C662.1 216.6 665.1 215.9 668.0 215.3 C670.9 214.7 673.9 214.1 676.8 213.5 C679.7 212.9 682.7 212.2 685.6 211.6 C688.5 211.0 691.5 210.3 694.4 209.7 C697.3 209.0 700.3 208.4 703.2 207.7 C706.1 207.0 709.1 206.3 712.0 205.6 C714.9 204.9 717.8 204.2 720.7 203.5 C723.6 202.8 726.5 202.1 729.4 201.4 C732.3 200.7 735.3 199.8 738.2 199.1 C741.1 198.3 744.0 197.7 746.9 196.9 C749.8 196.2 752.7 195.3 755.6 194.6 C758.5 193.8 761.4 193.2 764.3 192.4 C767.2 191.7 770.1 190.8 773.0 190.1 C775.9 189.3 778.8 188.7 781.7 187.9 C784.6 187.2 787.6 186.3 790.5 185.6 C793.4 184.8 796.3 184.1 799.2 183.4 C802.1 182.7 805.0 182.0 807.9 181.3 C810.8 180.6 813.8 179.8 816.7 179.1 C819.6 178.4 822.5 177.7 825.4 177.0 C828.3 176.3 831.3 175.6 834.2 174.9 C837.1 174.2 840.1 173.5 843.0 172.8 C845.9 172.1 848.8 171.5 851.7 170.8 C854.6 170.2 857.6 169.5 860.5 168.9 C863.4 168.3 866.4 167.6 869.3 167.0 C872.2 166.4 875.1 165.7 878.1 165.1 C881.1 164.5 884.0 163.9 887.0 163.3 C890.0 162.7 892.9 162.1 895.8 161.5 C898.7 160.9 901.6 160.4 904.6 159.8 C907.6 159.2 910.5 158.6 913.5 158.0 C916.5 157.4 919.3 157.0 922.3 156.4 C925.2 155.8 928.2 155.3 931.2 154.7 C934.2 154.1 937.0 153.6 940.0 153.0 C943.0 152.4 945.9 151.9 948.9 151.4 C951.9 150.9 954.8 150.3 957.7 149.8 C960.7 149.3 963.6 148.7 966.6 148.2 C969.6 147.7 972.5 147.1 975.5 146.6 C978.5 146.1 981.3 145.5 984.3 145.0 C987.2 144.5 990.2 143.9 993.2 143.4 C996.2 142.9 999.0 142.4 1002.0 141.8 C1005.0 141.2 1007.9 140.7 1010.9 140.1 C1013.9 139.5 1016.8 139.0 1019.7 138.5 C1022.7 138.0 1025.6 137.5 1028.6 136.9 C1031.5 136.3 1034.5 135.8 1037.4 135.2 C1040.4 134.6 1043.3 134.1 1046.3 133.6 C1049.3 133.1 1052.2 132.5 1055.2 132.0 C1058.2 131.5 1061.0 131.0 1064.0 130.5 C1067.0 130.0 1069.9 129.5 1072.9 129.0 C1075.9 128.5 1078.8 128.0 1081.8 127.5 C1084.8 127.0 1087.7 126.6 1090.7 126.1 C1093.7 125.6 1096.6 125.2 1099.6 124.7 C1102.6 124.2 1105.5 123.8 1108.5 123.4 C1111.5 123.0 1114.4 122.5 1117.4 122.1 C1120.4 121.7 1123.3 121.2 1126.3 120.8 C1129.3 120.4 1132.3 120.0 1135.3 119.6 C1138.3 119.2 1141.2 118.8 1144.2 118.4 C1147.2 118.0 1150.1 117.6 1153.1 117.2 C1156.1 116.8 1159.0 116.5 1162.0 116.1 C1165.0 115.7 1168.0 115.4 1171.0 115.0 C1174.0 114.6 1176.9 114.3 1179.9 113.9 C1182.9 113.5 1186.1 113.2 1188.9 112.8 C1191.7 112.4 1195.5 112.0 1196.8 111.8"/>
<path class="c" stroke="#f0662f" d="M97.5 640.0 C97.5 638.5 97.5 634.0 97.5 631.0 C97.5 628.0 97.5 625.0 97.5 622.0 C97.5 619.0 97.5 616.0 97.5 613.0 C97.5 610.0 97.6 607.0 97.6 604.0 C97.6 601.0 97.6 598.0 97.6 595.0 C97.6 592.0 97.6 589.0 97.6 586.0 C97.6 583.0 97.7 580.0 97.7 577.0 C97.7 574.0 97.7 571.0 97.7 568.0 C97.7 565.0 97.8 561.9 97.8 558.9 C97.8 555.9 97.9 552.9 97.9 549.9 C98.0 546.9 98.0 543.9 98.1 540.9 C98.2 537.9 98.2 534.9 98.3 531.9 C98.4 528.9 98.4 525.9 98.5 522.9 C98.6 519.9 98.8 516.9 98.9 513.9 C99.1 510.9 99.2 507.9 99.4 504.9 C99.6 501.9 99.8 499.0 100.1 496.0 C100.3 493.0 100.7 490.0 100.9 487.0 C101.1 484.0 101.3 481.0 101.5 478.0 C101.7 475.0 101.9 472.0 102.1 469.0 C102.3 466.0 102.4 463.0 102.6 460.0 C102.8 457.0 102.9 454.0 103.1 451.0 C103.3 448.0 103.6 445.1 103.9 442.1 C104.2 439.1 104.6 436.1 105.0 433.1 C105.4 430.1 105.8 427.2 106.3 424.2 C106.8 421.2 107.2 418.3 107.7 415.3 C108.2 412.3 108.7 409.4 109.2 406.4 C109.7 403.4 110.2 400.4 110.7 397.5 C111.2 394.6 111.7 391.6 112.2 388.7 C112.7 385.8 113.3 382.7 113.9 379.8 C114.5 376.9 115.2 374.0 116.0 371.1 C116.8 368.2 117.8 365.4 118.7 362.5 C119.7 359.6 120.6 356.8 121.7 354.0 C122.8 351.2 123.8 348.3 125.2 345.7 C126.6 343.1 128.2 340.5 129.9 338.1 C131.6 335.7 133.6 333.3 135.6 331.1 C137.6 328.9 139.7 326.7 142.0 324.8 C144.3 322.9 146.7 321.1 149.2 319.5 C151.7 317.9 154.3 316.4 157.0 315.0 C159.7 313.6 162.4 312.3 165.1 311.0 C167.8 309.7 170.5 308.5 173.3 307.4 C176.1 306.3 178.9 305.2 181.7 304.2 C184.5 303.2 187.4 302.2 190.3 301.4 C193.2 300.6 196.1 299.8 199.0 299.2 C201.9 298.6 204.9 298.1 207.8 297.5 C210.8 296.9 213.7 296.4 216.7 295.9 C219.7 295.4 222.6 294.9 225.6 294.3 C228.6 293.7 231.5 293.1 234.4 292.5 C237.3 291.9 240.3 291.3 243.2 290.7 C246.1 290.1 249.1 289.3 252.0 288.7 C254.9 288.1 257.9 287.5 260.8 286.9 C263.7 286.3 266.7 285.7 269.6 285.2 C272.6 284.7 275.5 284.2 278.5 283.8 C281.5 283.4 284.4 282.9 287.4 282.5 C290.4 282.1 293.3 281.7 296.3 281.3 C299.3 280.9 302.2 280.6 305.2 280.2 C308.2 279.8 311.2 279.5 314.2 279.2 C317.2 278.9 320.1 278.5 323.1 278.2 C326.1 277.9 329.1 277.6 332.1 277.3 C335.1 277.0 338.1 276.8 341.1 276.5 C344.1 276.2 347.0 275.9 350.0 275.6 C353.0 275.3 356.0 275.0 359.0 274.7 C362.0 274.4 365.0 274.2 368.0 273.9 C371.0 273.6 373.9 273.3 376.9 273.0 C379.9 272.7 382.9 272.5 385.9 272.2 C388.9 271.9 391.8 271.7 394.8 271.4 C397.8 271.1 400.8 270.8 403.8 270.5 C406.8 270.2 409.7 269.9 412.7 269.5 C415.7 269.1 418.7 268.8 421.7 268.4 C424.7 268.0 427.6 267.6 430.6 267.2 C433.6 266.8 436.6 266.3 439.5 265.8 C442.4 265.3 445.4 264.8 448.3 264.3 C451.2 263.8 454.2 263.2 457.2 262.7 C460.1 262.1 463.1 261.6 466.0 261.0 C468.9 260.4 471.9 259.8 474.9 259.2 C477.8 258.6 480.8 258.0 483.7 257.4 C486.6 256.8 489.5 256.1 492.4 255.4 C495.3 254.7 498.3 254.1 501.2 253.4 C504.1 252.7 507.1 252.1 510.0 251.4 C512.9 250.7 515.9 250.0 518.8 249.3 C521.7 248.6 524.6 248.0 527.5 247.3 C530.4 246.6 533.4 245.9 536.3 245.2 C539.2 244.5 542.2 243.9 545.1 243.2 C548.0 242.5 550.9 241.8 553.8 241.1 C556.7 240.4 559.7 239.8 562.6 239.1 C565.5 238.4 568.5 237.7 571.4 237.0 C574.3 236.3 577.2 235.7 580.1 235.0 C583.0 234.3 586.0 233.6 588.9 232.9 C591.8 232.2 594.8 231.6 597.7 230.9 C600.6 230.2 603.6 229.6 606.5 228.9 C609.4 228.2 612.3 227.6 615.2 226.9 C618.1 226.2 621.1 225.6 624.0 224.9 C626.9 224.2 629.9 223.6 632.8 222.9 C635.7 222.2 638.7 221.6 641.6 221.0 C644.5 220.4 647.5 219.7 650.4 219.1 C653.3 218.5 656.3 217.8 659.2 217.2 C662.1 216.6 665.1 215.9 668.0 215.3 C670.9 214.7 673.9 214.1 676.8 213.5 C679.7 212.9 682.7 212.2 685.6 211.6 C688.5 211.0 691.5 210.3 694.4 209.7 C697.3 209.0 700.3 208.4 703.2 207.7 C706.1 207.0 709.1 206.3 712.0 205.6 C714.9 204.9 717.8 204.2 720.7 203.5 C723.6 202.8 726.5 202.1 729.4 201.4 C732.3 200.7 735.3 199.8 738.2 199.1 C741.1 198.3 744.0 197.7 746.9 196.9 C749.8 196.2 752.7 195.3 755.6 194.6 C758.5 193.8 761.4 193.2 764.3 192.4 C767.2 191.7 770.1 190.8 773.0 190.1 C775.9 189.3 778.8 188.7 781.7 187.9 C784.6 187.2 787.6 186.3 790.5 185.6 C793.4 184.8 796.3 184.1 799.2 183.4 C802.1 182.7 805.0 182.0 807.9 181.3 C810.8 180.6 813.8 179.8 816.7 179.1 C819.6 178.4 822.5 177.7 825.4 177.0 C828.3 176.3 831.3 175.6 834.2 174.9 C837.1 174.2 840.1 173.5 843.0 172.8 C845.9 172.1 848.8 171.5 851.7 170.8 C854.6 170.2 857.6 169.5 860.5 168.9 C863.4 168.3 866.4 167.6 869.3 167.0 C872.2 166.4 875.1 165.7 878.1 165.1 C881.1 164.5 884.0 163.9 887.0 163.3 C890.0 162.7 892.9 162.1 895.8 161.5 C898.7 160.9 901.6 160.4 904.6 159.8 C907.6 159.2 910.5 158.6 913.5 158.0 C916.5 157.4 919.3 157.0 922.3 156.4 C925.2 155.8 928.2 155.3 931.2 154.7 C934.2 154.1 937.0 153.6 940.0 153.0 C943.0 152.4 945.9 151.9 948.9 151.4 C951.9 150.9 954.8 150.3 957.7 149.8 C960.7 149.3 963.6 148.7 966.6 148.2 C969.6 147.7 972.5 147.1 975.5 146.6 C978.5 146.1 981.3 145.5 984.3 145.0 C987.2 144.5 990.2 143.9 993.2 143.4 C996.2 142.9 999.0 142.4 1002.0 141.8 C1005.0 141.2 1007.9 140.7 1010.9 140.1 C1013.9 139.5 1016.8 139.0 1019.7 138.5 C1022.7 138.0 1025.6 137.5 1028.6 136.9 C1031.5 136.3 1034.5 135.8 1037.4 135.2 C1040.4 134.6 1043.3 134.1 1046.3 133.6 C1049.3 133.1 1052.2 132.5 1055.2 132.0 C1058.2 131.5 1061.0 131.0 1064.0 130.5 C1067.0 130.0 1069.9 129.5 1072.9 129.0 C1075.9 128.5 1078.8 128.0 1081.8 127.5 C1084.8 127.0 1087.7 126.6 1090.7 126.1 C1093.7 125.6 1096.6 125.2 1099.6 124.7 C1102.6 124.2 1105.5 123.8 1108.5 123.4 C1111.5 123.0 1114.4 122.5 1117.4 122.1 C1120.4 121.7 1123.3 121.2 1126.3 120.8 C1129.3 120.4 1132.3 120.0 1135.3 119.6 C1138.3 119.2 1141.2 118.8 1144.2 118.4 C1147.2 118.0 1150.1 117.6 1153.1 117.2 C1156.1 116.8 1159.0 116.5 1162.0 116.1 C1165.0 115.7 1168.0 115.4 1171.0 115.0 C1174.0 114.6 1176.9 114.3 1179.9 113.9 C1182.9 113.5 1186.1 113.2 1188.9 112.8 C1191.7 112.4 1195.5 112.0 1196.8 111.8"/>
<path class="h d" stroke="#f0662f" d="M97.5 640.0 C97.5 638.5 97.5 634.0 97.5 631.0 C97.5 628.0 97.6 625.0 97.6 622.0 C97.6 619.0 97.7 616.0 97.7 613.0 C97.7 610.0 97.8 607.0 97.8 604.0 C97.8 601.0 97.9 598.0 97.9 595.0 C98.0 592.0 98.0 589.0 98.1 586.0 C98.2 583.0 98.2 580.0 98.3 577.0 C98.4 574.0 98.4 571.0 98.5 568.0 C98.6 565.0 98.7 562.0 98.8 559.0 C98.9 556.0 99.0 553.0 99.1 550.0 C99.2 547.0 99.4 544.0 99.5 541.0 C99.6 538.0 99.7 535.0 99.8 532.0 C99.9 529.0 100.0 525.9 100.2 522.9 C100.4 519.9 100.5 516.9 100.7 513.9 C100.9 510.9 101.0 507.9 101.2 504.9 C101.4 501.9 101.6 498.9 101.8 495.9 C102.0 492.9 102.2 490.0 102.5 487.0 C102.8 484.0 103.1 481.1 103.5 478.1 C103.9 475.1 104.5 472.1 105.1 469.2 C105.7 466.2 106.4 463.3 107.1 460.4 C107.8 457.5 108.5 454.6 109.2 451.7 C109.9 448.8 110.7 445.8 111.5 442.9 C112.3 440.0 113.0 437.2 113.9 434.3 C114.8 431.4 115.7 428.5 116.7 425.7 C117.7 422.9 118.8 420.1 120.0 417.3 C121.2 414.5 122.4 411.8 123.6 409.1 C124.8 406.4 126.0 403.6 127.3 400.9 C128.6 398.2 130.0 395.5 131.4 392.9 C132.8 390.3 134.4 387.7 135.9 385.1 C137.4 382.5 139.0 379.9 140.6 377.4 C142.2 374.9 143.9 372.3 145.7 369.9 C147.4 367.5 149.2 365.1 151.1 362.8 C153.0 360.5 155.1 358.3 157.2 356.2 C159.3 354.1 161.6 352.0 163.9 350.1 C166.2 348.2 168.6 346.4 171.0 344.6 C173.4 342.8 175.9 341.1 178.4 339.5 C180.9 337.9 183.5 336.3 186.1 334.8 C188.7 333.3 191.3 331.9 194.0 330.5 C196.7 329.1 199.4 327.8 202.1 326.6 C204.8 325.4 207.6 324.2 210.4 323.1 C213.2 322.0 216.0 320.9 218.8 319.8 C221.6 318.7 224.4 317.7 227.2 316.6 C230.0 315.6 232.8 314.6 235.6 313.5 C238.4 312.4 241.2 311.4 244.0 310.3 C246.8 309.2 249.5 308.0 252.3 306.9 C255.1 305.8 257.8 304.5 260.6 303.4 C263.4 302.2 266.1 301.1 268.9 300.0 C271.7 298.9 274.5 297.7 277.3 296.6 C280.1 295.5 282.8 294.4 285.6 293.3 C288.4 292.2 291.1 291.0 293.9 289.9 C296.7 288.8 299.5 287.6 302.3 286.4 C305.1 285.2 307.8 284.0 310.6 282.9 C313.4 281.8 316.1 280.6 318.9 279.5 C321.7 278.4 324.4 277.2 327.2 276.1 C330.0 275.0 332.8 273.8 335.6 272.7 C338.4 271.6 341.1 270.5 343.9 269.4 C346.7 268.3 349.5 267.2 352.3 266.1 C355.1 265.0 358.0 264.0 360.8 262.9 C363.6 261.8 366.4 260.8 369.2 259.7 C372.0 258.6 374.8 257.5 377.5 256.3 C380.2 255.1 383.0 253.9 385.7 252.7 C388.4 251.5 391.1 250.2 393.8 249.0 C396.5 247.8 399.2 246.5 401.9 245.3 C404.6 244.1 407.3 242.9 410.1 241.8 C412.9 240.7 415.7 239.6 418.5 238.5 C421.3 237.4 424.1 236.5 426.9 235.5 C429.7 234.5 432.5 233.5 435.4 232.6 C438.2 231.7 441.1 230.7 444.0 229.8 C446.9 228.9 449.6 228.0 452.5 227.1 C455.4 226.2 458.2 225.3 461.1 224.4 C464.0 223.5 466.8 222.7 469.7 221.8 C472.6 220.9 475.4 220.0 478.3 219.2 C481.2 218.3 484.1 217.5 487.0 216.7 C489.9 215.9 492.7 215.0 495.6 214.2 C498.5 213.4 501.4 212.5 504.3 211.7 C507.2 210.9 510.1 210.1 513.0 209.3 C515.9 208.5 518.8 207.8 521.7 207.0 C524.6 206.2 527.5 205.4 530.4 204.6 C533.3 203.8 536.2 203.2 539.1 202.4 C542.0 201.7 544.9 200.8 547.8 200.1 C550.7 199.3 553.6 198.6 556.5 197.9 C559.4 197.2 562.4 196.5 565.3 195.8 C568.2 195.1 571.1 194.3 574.0 193.6 C576.9 192.9 579.9 192.2 582.8 191.5 C585.7 190.8 588.7 190.2 591.6 189.5 C594.5 188.8 597.4 188.1 600.3 187.4 C603.2 186.7 606.2 186.1 609.1 185.4 C612.0 184.8 615.0 184.2 617.9 183.5 C620.8 182.8 623.8 182.2 626.7 181.5 C629.6 180.8 632.6 180.2 635.5 179.6 C638.4 179.0 641.4 178.4 644.3 177.8 C647.2 177.2 650.2 176.6 653.1 176.0 C656.0 175.4 659.0 174.8 661.9 174.2 C664.8 173.6 667.8 173.1 670.8 172.5 C673.8 171.9 676.6 171.3 679.6 170.7 C682.6 170.1 685.5 169.6 688.5 169.0 C691.5 168.4 694.4 167.9 697.3 167.3 C700.2 166.7 703.1 166.2 706.1 165.6 C709.1 165.0 712.0 164.5 715.0 163.9 C718.0 163.3 720.8 162.8 723.8 162.2 C726.8 161.6 729.8 161.1 732.7 160.5 C735.7 159.9 738.6 159.3 741.5 158.7 C744.4 158.1 747.4 157.5 750.3 156.9 C753.2 156.3 756.1 155.7 759.1 155.1 C762.1 154.5 765.0 153.9 768.0 153.3 C771.0 152.7 773.9 152.0 776.8 151.4 C779.7 150.8 782.7 150.1 785.6 149.5 C788.5 148.9 791.5 148.3 794.4 147.7 C797.3 147.1 800.3 146.4 803.2 145.8 C806.1 145.2 809.1 144.6 812.0 144.0 C814.9 143.4 817.9 142.8 820.8 142.2 C823.7 141.6 826.6 141.0 829.6 140.4 C832.6 139.8 835.5 139.3 838.5 138.7 C841.5 138.1 844.3 137.6 847.3 137.0 C850.2 136.4 853.2 135.9 856.2 135.4 C859.2 134.9 862.0 134.3 865.0 133.8 C868.0 133.3 870.9 132.7 873.9 132.2 C876.9 131.7 879.8 131.3 882.8 130.8 C885.8 130.3 888.7 129.8 891.7 129.3 C894.7 128.8 897.6 128.4 900.6 128.0 C903.6 127.6 906.5 127.1 909.5 126.7 C912.5 126.3 915.4 125.8 918.4 125.4 C921.4 125.0 924.3 124.6 927.3 124.2 C930.3 123.8 933.3 123.5 936.3 123.1 C939.3 122.7 942.2 122.3 945.2 121.9 C948.2 121.5 951.1 121.2 954.1 120.8 C957.1 120.4 960.1 120.1 963.1 119.7 C966.1 119.3 969.0 118.9 972.0 118.5 C975.0 118.1 977.9 117.8 980.9 117.4 C983.9 117.0 986.8 116.6 989.8 116.2 C992.8 115.8 995.8 115.4 998.8 115.0 C1001.8 114.6 1004.7 114.2 1007.7 113.8 C1010.7 113.4 1013.6 113.0 1016.6 112.6 C1019.6 112.2 1022.5 111.9 1025.5 111.5 C1028.5 111.1 1031.5 110.7 1034.5 110.3 C1037.5 109.9 1040.4 109.6 1043.4 109.3 C1046.4 109.0 1049.4 108.5 1052.4 108.2 C1055.4 107.9 1058.3 107.5 1061.3 107.2 C1064.3 106.9 1067.3 106.6 1070.3 106.3 C1073.3 106.0 1076.2 105.6 1079.2 105.3 C1082.2 105.0 1085.2 104.7 1088.2 104.4 C1091.2 104.1 1094.1 103.9 1097.1 103.6 C1100.1 103.3 1103.1 103.0 1106.1 102.7 C1109.1 102.4 1112.1 102.2 1115.1 101.9 C1118.1 101.6 1121.0 101.4 1124.0 101.1 C1127.0 100.8 1130.0 100.6 1133.0 100.3 C1136.0 100.0 1139.0 99.8 1142.0 99.5 C1145.0 99.2 1148.0 99.0 1151.0 98.7 C1154.0 98.4 1156.9 98.2 1159.9 97.9 C1162.9 97.6 1165.9 97.4 1168.9 97.1 C1171.9 96.8 1174.9 96.6 1177.9 96.3 C1180.9 96.0 1183.8 95.8 1186.8 95.5 C1189.8 95.2 1194.1 94.9 1195.8 94.7 C1197.5 94.5 1196.6 94.6 1196.8 94.6"/>
<path class="c d" stroke="#f0662f" d="M97.5 640.0 C97.5 638.5 97.5 634.0 97.5 631.0 C97.5 628.0 97.6 625.0 97.6 622.0 C97.6 619.0 97.7 616.0 97.7 613.0 C97.7 610.0 97.8 607.0 97.8 604.0 C97.8 601.0 97.9 598.0 97.9 595.0 C98.0 592.0 98.0 589.0 98.1 586.0 C98.2 583.0 98.2 580.0 98.3 577.0 C98.4 574.0 98.4 571.0 98.5 568.0 C98.6 565.0 98.7 562.0 98.8 559.0 C98.9 556.0 99.0 553.0 99.1 550.0 C99.2 547.0 99.4 544.0 99.5 541.0 C99.6 538.0 99.7 535.0 99.8 532.0 C99.9 529.0 100.0 525.9 100.2 522.9 C100.4 519.9 100.5 516.9 100.7 513.9 C100.9 510.9 101.0 507.9 101.2 504.9 C101.4 501.9 101.6 498.9 101.8 495.9 C102.0 492.9 102.2 490.0 102.5 487.0 C102.8 484.0 103.1 481.1 103.5 478.1 C103.9 475.1 104.5 472.1 105.1 469.2 C105.7 466.2 106.4 463.3 107.1 460.4 C107.8 457.5 108.5 454.6 109.2 451.7 C109.9 448.8 110.7 445.8 111.5 442.9 C112.3 440.0 113.0 437.2 113.9 434.3 C114.8 431.4 115.7 428.5 116.7 425.7 C117.7 422.9 118.8 420.1 120.0 417.3 C121.2 414.5 122.4 411.8 123.6 409.1 C124.8 406.4 126.0 403.6 127.3 400.9 C128.6 398.2 130.0 395.5 131.4 392.9 C132.8 390.3 134.4 387.7 135.9 385.1 C137.4 382.5 139.0 379.9 140.6 377.4 C142.2 374.9 143.9 372.3 145.7 369.9 C147.4 367.5 149.2 365.1 151.1 362.8 C153.0 360.5 155.1 358.3 157.2 356.2 C159.3 354.1 161.6 352.0 163.9 350.1 C166.2 348.2 168.6 346.4 171.0 344.6 C173.4 342.8 175.9 341.1 178.4 339.5 C180.9 337.9 183.5 336.3 186.1 334.8 C188.7 333.3 191.3 331.9 194.0 330.5 C196.7 329.1 199.4 327.8 202.1 326.6 C204.8 325.4 207.6 324.2 210.4 323.1 C213.2 322.0 216.0 320.9 218.8 319.8 C221.6 318.7 224.4 317.7 227.2 316.6 C230.0 315.6 232.8 314.6 235.6 313.5 C238.4 312.4 241.2 311.4 244.0 310.3 C246.8 309.2 249.5 308.0 252.3 306.9 C255.1 305.8 257.8 304.5 260.6 303.4 C263.4 302.2 266.1 301.1 268.9 300.0 C271.7 298.9 274.5 297.7 277.3 296.6 C280.1 295.5 282.8 294.4 285.6 293.3 C288.4 292.2 291.1 291.0 293.9 289.9 C296.7 288.8 299.5 287.6 302.3 286.4 C305.1 285.2 307.8 284.0 310.6 282.9 C313.4 281.8 316.1 280.6 318.9 279.5 C321.7 278.4 324.4 277.2 327.2 276.1 C330.0 275.0 332.8 273.8 335.6 272.7 C338.4 271.6 341.1 270.5 343.9 269.4 C346.7 268.3 349.5 267.2 352.3 266.1 C355.1 265.0 358.0 264.0 360.8 262.9 C363.6 261.8 366.4 260.8 369.2 259.7 C372.0 258.6 374.8 257.5 377.5 256.3 C380.2 255.1 383.0 253.9 385.7 252.7 C388.4 251.5 391.1 250.2 393.8 249.0 C396.5 247.8 399.2 246.5 401.9 245.3 C404.6 244.1 407.3 242.9 410.1 241.8 C412.9 240.7 415.7 239.6 418.5 238.5 C421.3 237.4 424.1 236.5 426.9 235.5 C429.7 234.5 432.5 233.5 435.4 232.6 C438.2 231.7 441.1 230.7 444.0 229.8 C446.9 228.9 449.6 228.0 452.5 227.1 C455.4 226.2 458.2 225.3 461.1 224.4 C464.0 223.5 466.8 222.7 469.7 221.8 C472.6 220.9 475.4 220.0 478.3 219.2 C481.2 218.3 484.1 217.5 487.0 216.7 C489.9 215.9 492.7 215.0 495.6 214.2 C498.5 213.4 501.4 212.5 504.3 211.7 C507.2 210.9 510.1 210.1 513.0 209.3 C515.9 208.5 518.8 207.8 521.7 207.0 C524.6 206.2 527.5 205.4 530.4 204.6 C533.3 203.8 536.2 203.2 539.1 202.4 C542.0 201.7 544.9 200.8 547.8 200.1 C550.7 199.3 553.6 198.6 556.5 197.9 C559.4 197.2 562.4 196.5 565.3 195.8 C568.2 195.1 571.1 194.3 574.0 193.6 C576.9 192.9 579.9 192.2 582.8 191.5 C585.7 190.8 588.7 190.2 591.6 189.5 C594.5 188.8 597.4 188.1 600.3 187.4 C603.2 186.7 606.2 186.1 609.1 185.4 C612.0 184.8 615.0 184.2 617.9 183.5 C620.8 182.8 623.8 182.2 626.7 181.5 C629.6 180.8 632.6 180.2 635.5 179.6 C638.4 179.0 641.4 178.4 644.3 177.8 C647.2 177.2 650.2 176.6 653.1 176.0 C656.0 175.4 659.0 174.8 661.9 174.2 C664.8 173.6 667.8 173.1 670.8 172.5 C673.8 171.9 676.6 171.3 679.6 170.7 C682.6 170.1 685.5 169.6 688.5 169.0 C691.5 168.4 694.4 167.9 697.3 167.3 C700.2 166.7 703.1 166.2 706.1 165.6 C709.1 165.0 712.0 164.5 715.0 163.9 C718.0 163.3 720.8 162.8 723.8 162.2 C726.8 161.6 729.8 161.1 732.7 160.5 C735.7 159.9 738.6 159.3 741.5 158.7 C744.4 158.1 747.4 157.5 750.3 156.9 C753.2 156.3 756.1 155.7 759.1 155.1 C762.1 154.5 765.0 153.9 768.0 153.3 C771.0 152.7 773.9 152.0 776.8 151.4 C779.7 150.8 782.7 150.1 785.6 149.5 C788.5 148.9 791.5 148.3 794.4 147.7 C797.3 147.1 800.3 146.4 803.2 145.8 C806.1 145.2 809.1 144.6 812.0 144.0 C814.9 143.4 817.9 142.8 820.8 142.2 C823.7 141.6 826.6 141.0 829.6 140.4 C832.6 139.8 835.5 139.3 838.5 138.7 C841.5 138.1 844.3 137.6 847.3 137.0 C850.2 136.4 853.2 135.9 856.2 135.4 C859.2 134.9 862.0 134.3 865.0 133.8 C868.0 133.3 870.9 132.7 873.9 132.2 C876.9 131.7 879.8 131.3 882.8 130.8 C885.8 130.3 888.7 129.8 891.7 129.3 C894.7 128.8 897.6 128.4 900.6 128.0 C903.6 127.6 906.5 127.1 909.5 126.7 C912.5 126.3 915.4 125.8 918.4 125.4 C921.4 125.0 924.3 124.6 927.3 124.2 C930.3 123.8 933.3 123.5 936.3 123.1 C939.3 122.7 942.2 122.3 945.2 121.9 C948.2 121.5 951.1 121.2 954.1 120.8 C957.1 120.4 960.1 120.1 963.1 119.7 C966.1 119.3 969.0 118.9 972.0 118.5 C975.0 118.1 977.9 117.8 980.9 117.4 C983.9 117.0 986.8 116.6 989.8 116.2 C992.8 115.8 995.8 115.4 998.8 115.0 C1001.8 114.6 1004.7 114.2 1007.7 113.8 C1010.7 113.4 1013.6 113.0 1016.6 112.6 C1019.6 112.2 1022.5 111.9 1025.5 111.5 C1028.5 111.1 1031.5 110.7 1034.5 110.3 C1037.5 109.9 1040.4 109.6 1043.4 109.3 C1046.4 109.0 1049.4 108.5 1052.4 108.2 C1055.4 107.9 1058.3 107.5 1061.3 107.2 C1064.3 106.9 1067.3 106.6 1070.3 106.3 C1073.3 106.0 1076.2 105.6 1079.2 105.3 C1082.2 105.0 1085.2 104.7 1088.2 104.4 C1091.2 104.1 1094.1 103.9 1097.1 103.6 C1100.1 103.3 1103.1 103.0 1106.1 102.7 C1109.1 102.4 1112.1 102.2 1115.1 101.9 C1118.1 101.6 1121.0 101.4 1124.0 101.1 C1127.0 100.8 1130.0 100.6 1133.0 100.3 C1136.0 100.0 1139.0 99.8 1142.0 99.5 C1145.0 99.2 1148.0 99.0 1151.0 98.7 C1154.0 98.4 1156.9 98.2 1159.9 97.9 C1162.9 97.6 1165.9 97.4 1168.9 97.1 C1171.9 96.8 1174.9 96.6 1177.9 96.3 C1180.9 96.0 1183.8 95.8 1186.8 95.5 C1189.8 95.2 1194.1 94.9 1195.8 94.7 C1197.5 94.5 1196.6 94.6 1196.8 94.6"/>
</g>
<g clip-path="url(#cb)">
<path class="h" stroke="#1f1f1f" d="M97.5 1185.6 L99.5 1185.6 L101.5 1185.6 L103.5 1185.6 L105.5 1185.6 L107.5 1185.6 L109.5 1185.6 L111.5 1185.6 L113.5 1185.6 L115.5 1185.6 L117.5 1185.6 L119.5 1185.6 L121.5 1185.6 L123.5 1185.6 L125.5 1185.6 L127.6 1185.6 L129.6 1185.6 L131.6 1185.6 L133.6 1185.6 L135.6 1185.6 L137.6 1185.6 L139.6 1185.6 L141.6 1185.6 L143.6 1185.6 L145.6 1185.6 L147.6 1185.6 L149.6 1185.6 L151.6 1185.6 L153.6 1185.6 L155.6 1185.6 L157.6 1185.6 L159.6 1185.6 L161.6 1185.6 L163.6 1185.6 L165.6 1185.6 L167.6 1185.6 L169.6 1185.6 L171.6 1185.6 L173.6 1185.6 L175.6 1185.6 L177.6 1185.6 L179.6 1185.6 L181.6 1185.6 L183.7 1185.6 L185.7 1185.6 L187.7 1185.6 L189.7 1185.6 L191.7 1185.6 L193.7 1185.6 L195.7 1185.6 L197.7 1185.6 L199.7 1185.6 L201.7 1185.6 L203.7 1185.6 L205.7 1185.6 L207.7 1185.6 L209.7 1185.6 L211.7 1185.6 L213.7 1185.6 L215.7 1185.6 L217.7 1185.6 L219.7 1185.6 L221.7 1185.6 L223.7 1185.6 L225.7 1185.6 L227.7 1185.6 L229.7 1185.6 L231.7 1185.6 L233.7 1185.6 L235.7 1185.6 L237.7 1185.6 L239.8 1185.6 L241.8 1185.6 L243.8 1185.6 L245.8 1185.6 L247.8 1185.6 L249.8 1185.6 L251.8 1185.6 L253.8 1185.6 L255.8 1185.6 L257.8 1185.6 L259.8 1185.6 L261.8 1185.6 L263.8 1185.6 L265.8 1185.6 L267.8 1185.6 L269.8 1185.6 L271.8 1185.6 L273.8 1185.6 L275.8 1185.6 L277.8 1185.6 L279.8 1185.6 L281.8 1185.6 L283.8 1185.6 L285.8 1185.6 L287.8 1185.6 L289.8 1185.6 L291.8 1185.6 L293.8 1185.6 L295.8 1185.6 L297.9 1185.6 L299.9 1185.6 L301.9 1185.6 L303.9 1185.6 L305.9 1185.6 L307.9 1185.6 L309.9 1185.6 L311.9 1185.6 L313.9 1185.6 L315.9 1185.6 L317.9 1185.6 L319.9 1185.6 L321.9 1185.6 L323.9 1185.6 L325.9 1185.5 L327.9 1185.5 L329.9 1185.5 L331.9 1185.5 L333.9 1185.5 L335.9 1185.5 L337.9 1185.5 L339.9 1185.5 L341.9 1185.5 L343.9 1185.5 L345.9 1185.4 L347.9 1185.4 L349.9 1185.4 L351.9 1185.4 L354.0 1185.4 L356.0 1185.4 L358.0 1185.4 L360.0 1185.3 L362.0 1185.3 L364.0 1185.3 L366.0 1185.3 L368.0 1185.3 L370.0 1185.3 L372.0 1185.2 L374.0 1185.2 L376.0 1185.2 L378.0 1185.2 L380.0 1185.2 L382.0 1185.2 L384.0 1185.1 L386.0 1185.1 L388.0 1185.1 L390.0 1185.1 L392.0 1185.1 L394.0 1185.1 L396.0 1185.0 L398.0 1185.0 L400.0 1185.0 L402.0 1185.0 L404.0 1185.0 L406.0 1184.9 L408.0 1184.9 L410.0 1184.9 L412.1 1184.9 L414.1 1184.8 L416.1 1184.8 L418.1 1184.8 L420.1 1184.8 L422.1 1184.7 L424.1 1184.7 L426.1 1184.7 L428.1 1184.6 L430.1 1184.6 L432.1 1184.6 L434.1 1184.5 L436.1 1184.5 L438.1 1184.5 L440.1 1184.4 L442.1 1184.4 L444.1 1184.4 L446.1 1184.3 L448.1 1184.3 L450.1 1184.2 L452.1 1184.2 L454.1 1184.2 L456.1 1184.1 L458.1 1184.1 L460.1 1184.0 L462.1 1184.0 L464.1 1184.0 L466.1 1183.9 L468.1 1183.9 L470.1 1183.8 L472.1 1183.8 L474.2 1183.7 L476.2 1183.7 L478.2 1183.6 L480.2 1183.6 L482.2 1183.5 L484.2 1183.5 L486.2 1183.4 L488.2 1183.4 L490.2 1183.3 L492.2 1183.3 L494.2 1183.2 L496.2 1183.2 L498.2 1183.1 L500.2 1183.1 L502.2 1183.0 L504.2 1182.9 L506.2 1182.9 L508.2 1182.8 L510.2 1182.7 L512.2 1182.7 L514.2 1182.6 L516.2 1182.5 L518.2 1182.5 L520.2 1182.4 L522.2 1182.3 L524.2 1182.2 L526.2 1182.2 L528.2 1182.1 L530.2 1182.0 L532.2 1181.9 L534.2 1181.8 L536.2 1181.8 L538.2 1181.7 L540.2 1181.6 L542.2 1181.5 L544.2 1181.4 L546.2 1181.3 L548.2 1181.2 L550.2 1181.1 L552.2 1181.0 L554.2 1180.9 L556.2 1180.8 L558.2 1180.6 L560.2 1180.5 L562.2 1180.4 L564.2 1180.3 L566.2 1180.1 L568.2 1180.0 L570.2 1179.9 L572.2 1179.7 L574.2 1179.6 L576.2 1179.5 L578.2 1179.3 L580.2 1179.2 L582.2 1179.0 L584.2 1178.9 L586.2 1178.8 L588.2 1178.6 L590.2 1178.5 L592.2 1178.3 L594.2 1178.2 L596.2 1178.0 L598.2 1177.9 L600.2 1177.7 L602.2 1177.5 L604.2 1177.4 L606.2 1177.2 L608.2 1177.0 L610.2 1176.8 L612.2 1176.6 L614.2 1176.4 L616.2 1176.1 L618.2 1175.9 L620.1 1175.7 L622.1 1175.4 L624.1 1175.1 L626.1 1174.8 L628.1 1174.4 L630.0 1174.0 L632.0 1173.6 L634.0 1173.2 L635.9 1172.8 L637.9 1172.4 L639.8 1171.9 L641.8 1171.5 L643.7 1171.0 L645.7 1170.5 L647.6 1170.0 L649.6 1169.5 L651.5 1169.0 L653.4 1168.4 L655.3 1167.9 L657.3 1167.3 L659.2 1166.7 L661.1 1166.1 L663.0 1165.4 L664.8 1164.7 L666.7 1164.0 L668.6 1163.3 L670.5 1162.6 L672.3 1161.8 L674.2 1161.1 L676.1 1160.4 L677.9 1159.7 L679.8 1159.1 L681.7 1158.4 L683.6 1157.8 L685.5 1157.1 L687.4 1156.5 L689.3 1155.9 L691.2 1155.2 L693.1 1154.6 L695.0 1154.0 L697.0 1153.4 L698.9 1152.8 L700.8 1152.1 L702.7 1151.5 L704.6 1150.9 L706.5 1150.3 L708.4 1149.6 L710.3 1149.0 L712.2 1148.4 L714.1 1147.8 L714.1 1147.8 L717.6 1146.2 L721.1 1145.1 L724.6 1145.6 L728.1 1145.7 L731.6 1144.4 L735.1 1144.0 L738.7 1142.6 L742.2 1143.9 L745.8 1145.2 L749.3 1145.1 L752.9 1144.9 L756.5 1143.4 L760.0 1145.5 L763.6 1145.5 L767.1 1143.8 L770.7 1145.0 L774.2 1143.2 L777.8 1143.1 L781.3 1143.2 L784.8 1142.3 L788.4 1143.3 L791.9 1142.8 L795.3 1140.8 L798.8 1139.9 L802.2 1138.4 L805.6 1137.3 L809.1 1137.9 L812.5 1136.5 L815.8 1133.9 L819.1 1133.6 L822.3 1131.8 L825.1 1131.0 L827.6 1128.2 L829.9 1125.1 L831.8 1121.6 L832.8 1119.9 L833.9 1118.2 L835.0 1116.5 L836.1 1114.8 L837.3 1113.2 L838.5 1111.6 L839.8 1110.0 L840.9 1108.4 L842.0 1106.7 L843.1 1105.0 L844.0 1103.2 L845.0 1101.4 L845.8 1099.6 L846.6 1097.8 L847.4 1095.9 L848.1 1094.0 L848.7 1092.1 L849.3 1090.2 L849.9 1088.3 L850.4 1086.3 L850.9 1084.4 L851.4 1082.4 L851.9 1080.5 L852.3 1078.5 L852.8 1076.5 L853.2 1074.6 L853.6 1072.6 L854.0 1070.6 L854.4 1068.7 L854.7 1066.7 L855.1 1064.7 L855.4 1062.7 L855.8 1060.7 L856.1 1058.7 L856.4 1056.7 L856.7 1054.8 L857.0 1052.8 L857.3 1050.8 L857.6 1048.8 L857.9 1046.8 L858.2 1044.8 L858.5 1042.8 L858.8 1040.8 L859.1 1038.8 L859.3 1036.8 L859.5 1034.8 L859.7 1032.8 L859.9 1030.8 L860.0 1028.8 L860.1 1026.8 L860.1 1024.8 L860.2 1022.8 L860.2 1020.8 L860.2 1018.8 L860.3 1016.8 L860.3 1014.8 L860.3 1012.8 L860.4 1010.7 L860.4 1008.7 L860.4 1006.7 L860.5 1004.7 L860.5 1002.7 L860.5 1000.7 L860.6 998.7 L860.6 996.7 L860.7 994.7 L860.8 992.6 L860.9 990.6 L860.9 988.6 L861.0 986.6 L861.1 984.6 L861.2 982.6 L861.3 980.6 L861.4 978.6 L861.5 976.6 L861.6 974.6 L861.8 972.6 L861.9 970.6 L862.0 968.6 L862.1 966.5 L862.2 964.5 L862.3 962.5 L862.4 960.5 L862.5 958.5 L862.6 956.5 L862.7 954.5 L862.8 952.5 L862.9 950.5 L863.0 948.5 L863.1 946.5 L863.2 944.5 L863.3 942.4 L863.4 940.4 L863.5 938.4 L863.6 936.4 L863.8 934.4 L863.9 932.4 L864.0 930.4 L864.1 928.4 L864.2 926.4 L864.3 924.4 L864.4 922.4 L864.5 920.4 L864.6 918.3 L864.7 916.3 L864.8 914.3 L864.9 912.3 L865.0 910.3 L865.1 908.3 L865.2 906.3 L865.3 904.3 L865.4 902.3 L865.5 900.3 L865.6 898.3 L865.7 896.3 L865.8 894.3 L865.9 892.2 L865.9 890.2 L866.0 888.2 L866.1 886.2 L866.2 884.2 L866.3 882.2 L866.4 880.2 L866.5 878.2 L866.5 876.2 L866.6 874.2 L866.7 872.2 L866.8 870.1 L866.8 868.1 L866.9 866.1 L867.0 864.1 L867.1 862.1 L867.1 860.1 L867.2 858.1 L867.3 856.1 L867.3 854.1 L867.4 852.1 L867.5 850.0 L867.5 848.0 L867.6 846.0 L867.7 844.0 L867.7 842.0 L867.8 840.0 L867.8 838.0 L867.9 836.0 L868.0 834.0 L868.0 832.0 L868.1 830.0 L868.1 827.9 L868.2 825.9 L868.2 823.9 L868.3 821.9 L868.4 819.9 L868.4 817.9 L868.5 815.9 L868.5 813.9 L868.6 811.9 L868.6 809.9 L868.7 807.8 L868.7 805.8 L868.8 803.8 L868.8 801.8 L868.9 799.8 L868.9 797.8 L869.0 795.8 L869.0 793.8 L869.1 791.8 L869.1 789.8 L869.2 787.7 L869.2 785.7 L869.3 783.7 L869.3 781.7 L869.4 779.7 L869.4 777.7 L869.5 775.7 L869.5 773.7 L869.6 771.7 L869.6 769.7 L869.6 767.6 L869.7 765.6 L869.7 763.6 L869.8 761.6 L869.8 759.6 L869.4 738.9 L870.5 676.5 L870.9 644.6 L871.8 642.6 L873.4 643.3 L875.1 646.2 L876.4 656.6 L877.8 676.5 L879.8 693.7 L881.7 705.7 L883.1 722.9 L883.7 742.9 L884.4 762.8 L885.1 780.0 L885.7 789.3 L887.3 784.0 L889.0 776.1 L891.0 749.5 L892.4 738.9 L893.7 756.1 L895.0 782.7 L896.0 800.0 L896.9 818.4 L899.2 859.6 L900.4 862.5 L902.4 857.3 L903.5 865.5 L904.7 887.1 L908.6 916.5 L910.2 925.3 L911.4 917.5 L912.5 906.7 L913.3 916.5 L914.5 928.2 L916.5 955.7 L915.5 949.0 L917.5 966.7 L920.4 982.4 L924.3 994.1 L928.2 1002.0 L931.2 1005.9 L934.1 1000.0 L937.1 1005.9 L940.0 1008.8 L942.9 1003.9 L946.9 1012.7 L949.8 1005.9 L953.7 996.1 L957.6 991.2 L962.5 981.4 L966.5 986.3 L970.4 991.2 L975.3 998.0 L979.2 999.0 L983.1 994.1 L987.1 989.2 L991.0 992.2 L992.9 1002.0 L994.9 988.2 L996.9 984.3 L999.8 987.3 L1002.7 986.3 L1006.7 992.2 L1010.6 998.0 L1014.5 1002.9 L1018.4 1007.8 L1022.4 1003.9 L1025.3 998.0 L1028.2 996.1 L1031.2 1005.9 L1035.1 1002.0 L1038.0 1006.9 L1042.0 1005.9 L1045.9 1002.9 L1050.8 1006.9 L1055.7 994.1 L1060.4 990.0 L1065.0 986.0 L1069.5 982.4 L1073.9 976.5 L1078.4 973.0 L1082.8 970.2 L1087.3 965.9 L1091.8 958.6 L1096.3 954.7 L1100.8 949.8 L1105.2 947.0 L1109.5 940.9 L1113.7 938.0 L1117.7 934.1 L1121.7 927.8 L1125.7 924.6 L1129.5 919.4 L1133.4 912.2 L1137.2 909.4 L1140.9 903.2 L1144.5 898.8 L1148.1 893.1 L1151.5 889.6 L1154.7 883.3 L1157.9 876.7 L1160.9 872.8 L1163.9 868.3 L1166.8 860.8 L1169.7 855.0 L1172.7 850.1 L1175.7 846.8 L1178.8 841.5 L1181.9 834.9 L1184.9 830.3 L1187.9 824.6 L1190.7 817.1 L1193.4 810.4 L1195.9 806.9 L1198.2 800.8 L1200.5 794.1 L1202.6 787.7 L1204.5 782.4 L1205.8 778.7"/>
<path class="c" stroke="#1f1f1f" d="M97.5 1185.6 L99.5 1185.6 L101.5 1185.6 L103.5 1185.6 L105.5 1185.6 L107.5 1185.6 L109.5 1185.6 L111.5 1185.6 L113.5 1185.6 L115.5 1185.6 L117.5 1185.6 L119.5 1185.6 L121.5 1185.6 L123.5 1185.6 L125.5 1185.6 L127.6 1185.6 L129.6 1185.6 L131.6 1185.6 L133.6 1185.6 L135.6 1185.6 L137.6 1185.6 L139.6 1185.6 L141.6 1185.6 L143.6 1185.6 L145.6 1185.6 L147.6 1185.6 L149.6 1185.6 L151.6 1185.6 L153.6 1185.6 L155.6 1185.6 L157.6 1185.6 L159.6 1185.6 L161.6 1185.6 L163.6 1185.6 L165.6 1185.6 L167.6 1185.6 L169.6 1185.6 L171.6 1185.6 L173.6 1185.6 L175.6 1185.6 L177.6 1185.6 L179.6 1185.6 L181.6 1185.6 L183.7 1185.6 L185.7 1185.6 L187.7 1185.6 L189.7 1185.6 L191.7 1185.6 L193.7 1185.6 L195.7 1185.6 L197.7 1185.6 L199.7 1185.6 L201.7 1185.6 L203.7 1185.6 L205.7 1185.6 L207.7 1185.6 L209.7 1185.6 L211.7 1185.6 L213.7 1185.6 L215.7 1185.6 L217.7 1185.6 L219.7 1185.6 L221.7 1185.6 L223.7 1185.6 L225.7 1185.6 L227.7 1185.6 L229.7 1185.6 L231.7 1185.6 L233.7 1185.6 L235.7 1185.6 L237.7 1185.6 L239.8 1185.6 L241.8 1185.6 L243.8 1185.6 L245.8 1185.6 L247.8 1185.6 L249.8 1185.6 L251.8 1185.6 L253.8 1185.6 L255.8 1185.6 L257.8 1185.6 L259.8 1185.6 L261.8 1185.6 L263.8 1185.6 L265.8 1185.6 L267.8 1185.6 L269.8 1185.6 L271.8 1185.6 L273.8 1185.6 L275.8 1185.6 L277.8 1185.6 L279.8 1185.6 L281.8 1185.6 L283.8 1185.6 L285.8 1185.6 L287.8 1185.6 L289.8 1185.6 L291.8 1185.6 L293.8 1185.6 L295.8 1185.6 L297.9 1185.6 L299.9 1185.6 L301.9 1185.6 L303.9 1185.6 L305.9 1185.6 L307.9 1185.6 L309.9 1185.6 L311.9 1185.6 L313.9 1185.6 L315.9 1185.6 L317.9 1185.6 L319.9 1185.6 L321.9 1185.6 L323.9 1185.6 L325.9 1185.5 L327.9 1185.5 L329.9 1185.5 L331.9 1185.5 L333.9 1185.5 L335.9 1185.5 L337.9 1185.5 L339.9 1185.5 L341.9 1185.5 L343.9 1185.5 L345.9 1185.4 L347.9 1185.4 L349.9 1185.4 L351.9 1185.4 L354.0 1185.4 L356.0 1185.4 L358.0 1185.4 L360.0 1185.3 L362.0 1185.3 L364.0 1185.3 L366.0 1185.3 L368.0 1185.3 L370.0 1185.3 L372.0 1185.2 L374.0 1185.2 L376.0 1185.2 L378.0 1185.2 L380.0 1185.2 L382.0 1185.2 L384.0 1185.1 L386.0 1185.1 L388.0 1185.1 L390.0 1185.1 L392.0 1185.1 L394.0 1185.1 L396.0 1185.0 L398.0 1185.0 L400.0 1185.0 L402.0 1185.0 L404.0 1185.0 L406.0 1184.9 L408.0 1184.9 L410.0 1184.9 L412.1 1184.9 L414.1 1184.8 L416.1 1184.8 L418.1 1184.8 L420.1 1184.8 L422.1 1184.7 L424.1 1184.7 L426.1 1184.7 L428.1 1184.6 L430.1 1184.6 L432.1 1184.6 L434.1 1184.5 L436.1 1184.5 L438.1 1184.5 L440.1 1184.4 L442.1 1184.4 L444.1 1184.4 L446.1 1184.3 L448.1 1184.3 L450.1 1184.2 L452.1 1184.2 L454.1 1184.2 L456.1 1184.1 L458.1 1184.1 L460.1 1184.0 L462.1 1184.0 L464.1 1184.0 L466.1 1183.9 L468.1 1183.9 L470.1 1183.8 L472.1 1183.8 L474.2 1183.7 L476.2 1183.7 L478.2 1183.6 L480.2 1183.6 L482.2 1183.5 L484.2 1183.5 L486.2 1183.4 L488.2 1183.4 L490.2 1183.3 L492.2 1183.3 L494.2 1183.2 L496.2 1183.2 L498.2 1183.1 L500.2 1183.1 L502.2 1183.0 L504.2 1182.9 L506.2 1182.9 L508.2 1182.8 L510.2 1182.7 L512.2 1182.7 L514.2 1182.6 L516.2 1182.5 L518.2 1182.5 L520.2 1182.4 L522.2 1182.3 L524.2 1182.2 L526.2 1182.2 L528.2 1182.1 L530.2 1182.0 L532.2 1181.9 L534.2 1181.8 L536.2 1181.8 L538.2 1181.7 L540.2 1181.6 L542.2 1181.5 L544.2 1181.4 L546.2 1181.3 L548.2 1181.2 L550.2 1181.1 L552.2 1181.0 L554.2 1180.9 L556.2 1180.8 L558.2 1180.6 L560.2 1180.5 L562.2 1180.4 L564.2 1180.3 L566.2 1180.1 L568.2 1180.0 L570.2 1179.9 L572.2 1179.7 L574.2 1179.6 L576.2 1179.5 L578.2 1179.3 L580.2 1179.2 L582.2 1179.0 L584.2 1178.9 L586.2 1178.8 L588.2 1178.6 L590.2 1178.5 L592.2 1178.3 L594.2 1178.2 L596.2 1178.0 L598.2 1177.9 L600.2 1177.7 L602.2 1177.5 L604.2 1177.4 L606.2 1177.2 L608.2 1177.0 L610.2 1176.8 L612.2 1176.6 L614.2 1176.4 L616.2 1176.1 L618.2 1175.9 L620.1 1175.7 L622.1 1175.4 L624.1 1175.1 L626.1 1174.8 L628.1 1174.4 L630.0 1174.0 L632.0 1173.6 L634.0 1173.2 L635.9 1172.8 L637.9 1172.4 L639.8 1171.9 L641.8 1171.5 L643.7 1171.0 L645.7 1170.5 L647.6 1170.0 L649.6 1169.5 L651.5 1169.0 L653.4 1168.4 L655.3 1167.9 L657.3 1167.3 L659.2 1166.7 L661.1 1166.1 L663.0 1165.4 L664.8 1164.7 L666.7 1164.0 L668.6 1163.3 L670.5 1162.6 L672.3 1161.8 L674.2 1161.1 L676.1 1160.4 L677.9 1159.7 L679.8 1159.1 L681.7 1158.4 L683.6 1157.8 L685.5 1157.1 L687.4 1156.5 L689.3 1155.9 L691.2 1155.2 L693.1 1154.6 L695.0 1154.0 L697.0 1153.4 L698.9 1152.8 L700.8 1152.1 L702.7 1151.5 L704.6 1150.9 L706.5 1150.3 L708.4 1149.6 L710.3 1149.0 L712.2 1148.4 L714.1 1147.8 L714.1 1147.8 L717.6 1146.2 L721.1 1145.1 L724.6 1145.6 L728.1 1145.7 L731.6 1144.4 L735.1 1144.0 L738.7 1142.6 L742.2 1143.9 L745.8 1145.2 L749.3 1145.1 L752.9 1144.9 L756.5 1143.4 L760.0 1145.5 L763.6 1145.5 L767.1 1143.8 L770.7 1145.0 L774.2 1143.2 L777.8 1143.1 L781.3 1143.2 L784.8 1142.3 L788.4 1143.3 L791.9 1142.8 L795.3 1140.8 L798.8 1139.9 L802.2 1138.4 L805.6 1137.3 L809.1 1137.9 L812.5 1136.5 L815.8 1133.9 L819.1 1133.6 L822.3 1131.8 L825.1 1131.0 L827.6 1128.2 L829.9 1125.1 L831.8 1121.6 L832.8 1119.9 L833.9 1118.2 L835.0 1116.5 L836.1 1114.8 L837.3 1113.2 L838.5 1111.6 L839.8 1110.0 L840.9 1108.4 L842.0 1106.7 L843.1 1105.0 L844.0 1103.2 L845.0 1101.4 L845.8 1099.6 L846.6 1097.8 L847.4 1095.9 L848.1 1094.0 L848.7 1092.1 L849.3 1090.2 L849.9 1088.3 L850.4 1086.3 L850.9 1084.4 L851.4 1082.4 L851.9 1080.5 L852.3 1078.5 L852.8 1076.5 L853.2 1074.6 L853.6 1072.6 L854.0 1070.6 L854.4 1068.7 L854.7 1066.7 L855.1 1064.7 L855.4 1062.7 L855.8 1060.7 L856.1 1058.7 L856.4 1056.7 L856.7 1054.8 L857.0 1052.8 L857.3 1050.8 L857.6 1048.8 L857.9 1046.8 L858.2 1044.8 L858.5 1042.8 L858.8 1040.8 L859.1 1038.8 L859.3 1036.8 L859.5 1034.8 L859.7 1032.8 L859.9 1030.8 L860.0 1028.8 L860.1 1026.8 L860.1 1024.8 L860.2 1022.8 L860.2 1020.8 L860.2 1018.8 L860.3 1016.8 L860.3 1014.8 L860.3 1012.8 L860.4 1010.7 L860.4 1008.7 L860.4 1006.7 L860.5 1004.7 L860.5 1002.7 L860.5 1000.7 L860.6 998.7 L860.6 996.7 L860.7 994.7 L860.8 992.6 L860.9 990.6 L860.9 988.6 L861.0 986.6 L861.1 984.6 L861.2 982.6 L861.3 980.6 L861.4 978.6 L861.5 976.6 L861.6 974.6 L861.8 972.6 L861.9 970.6 L862.0 968.6 L862.1 966.5 L862.2 964.5 L862.3 962.5 L862.4 960.5 L862.5 958.5 L862.6 956.5 L862.7 954.5 L862.8 952.5 L862.9 950.5 L863.0 948.5 L863.1 946.5 L863.2 944.5 L863.3 942.4 L863.4 940.4 L863.5 938.4 L863.6 936.4 L863.8 934.4 L863.9 932.4 L864.0 930.4 L864.1 928.4 L864.2 926.4 L864.3 924.4 L864.4 922.4 L864.5 920.4 L864.6 918.3 L864.7 916.3 L864.8 914.3 L864.9 912.3 L865.0 910.3 L865.1 908.3 L865.2 906.3 L865.3 904.3 L865.4 902.3 L865.5 900.3 L865.6 898.3 L865.7 896.3 L865.8 894.3 L865.9 892.2 L865.9 890.2 L866.0 888.2 L866.1 886.2 L866.2 884.2 L866.3 882.2 L866.4 880.2 L866.5 878.2 L866.5 876.2 L866.6 874.2 L866.7 872.2 L866.8 870.1 L866.8 868.1 L866.9 866.1 L867.0 864.1 L867.1 862.1 L867.1 860.1 L867.2 858.1 L867.3 856.1 L867.3 854.1 L867.4 852.1 L867.5 850.0 L867.5 848.0 L867.6 846.0 L867.7 844.0 L867.7 842.0 L867.8 840.0 L867.8 838.0 L867.9 836.0 L868.0 834.0 L868.0 832.0 L868.1 830.0 L868.1 827.9 L868.2 825.9 L868.2 823.9 L868.3 821.9 L868.4 819.9 L868.4 817.9 L868.5 815.9 L868.5 813.9 L868.6 811.9 L868.6 809.9 L868.7 807.8 L868.7 805.8 L868.8 803.8 L868.8 801.8 L868.9 799.8 L868.9 797.8 L869.0 795.8 L869.0 793.8 L869.1 791.8 L869.1 789.8 L869.2 787.7 L869.2 785.7 L869.3 783.7 L869.3 781.7 L869.4 779.7 L869.4 777.7 L869.5 775.7 L869.5 773.7 L869.6 771.7 L869.6 769.7 L869.6 767.6 L869.7 765.6 L869.7 763.6 L869.8 761.6 L869.8 759.6 L869.4 738.9 L870.5 676.5 L870.9 644.6 L871.8 642.6 L873.4 643.3 L875.1 646.2 L876.4 656.6 L877.8 676.5 L879.8 693.7 L881.7 705.7 L883.1 722.9 L883.7 742.9 L884.4 762.8 L885.1 780.0 L885.7 789.3 L887.3 784.0 L889.0 776.1 L891.0 749.5 L892.4 738.9 L893.7 756.1 L895.0 782.7 L896.0 800.0 L896.9 818.4 L899.2 859.6 L900.4 862.5 L902.4 857.3 L903.5 865.5 L904.7 887.1 L908.6 916.5 L910.2 925.3 L911.4 917.5 L912.5 906.7 L913.3 916.5 L914.5 928.2 L916.5 955.7 L915.5 949.0 L917.5 966.7 L920.4 982.4 L924.3 994.1 L928.2 1002.0 L931.2 1005.9 L934.1 1000.0 L937.1 1005.9 L940.0 1008.8 L942.9 1003.9 L946.9 1012.7 L949.8 1005.9 L953.7 996.1 L957.6 991.2 L962.5 981.4 L966.5 986.3 L970.4 991.2 L975.3 998.0 L979.2 999.0 L983.1 994.1 L987.1 989.2 L991.0 992.2 L992.9 1002.0 L994.9 988.2 L996.9 984.3 L999.8 987.3 L1002.7 986.3 L1006.7 992.2 L1010.6 998.0 L1014.5 1002.9 L1018.4 1007.8 L1022.4 1003.9 L1025.3 998.0 L1028.2 996.1 L1031.2 1005.9 L1035.1 1002.0 L1038.0 1006.9 L1042.0 1005.9 L1045.9 1002.9 L1050.8 1006.9 L1055.7 994.1 L1060.4 990.0 L1065.0 986.0 L1069.5 982.4 L1073.9 976.5 L1078.4 973.0 L1082.8 970.2 L1087.3 965.9 L1091.8 958.6 L1096.3 954.7 L1100.8 949.8 L1105.2 947.0 L1109.5 940.9 L1113.7 938.0 L1117.7 934.1 L1121.7 927.8 L1125.7 924.6 L1129.5 919.4 L1133.4 912.2 L1137.2 909.4 L1140.9 903.2 L1144.5 898.8 L1148.1 893.1 L1151.5 889.6 L1154.7 883.3 L1157.9 876.7 L1160.9 872.8 L1163.9 868.3 L1166.8 860.8 L1169.7 855.0 L1172.7 850.1 L1175.7 846.8 L1178.8 841.5 L1181.9 834.9 L1184.9 830.3 L1187.9 824.6 L1190.7 817.1 L1193.4 810.4 L1195.9 806.9 L1198.2 800.8 L1200.5 794.1 L1202.6 787.7 L1204.5 782.4 L1205.8 778.7"/>
<path class="h" stroke="#3b55a5" d="M97.5 1185.6 L99.5 1185.6 L101.5 1185.6 L103.5 1185.6 L105.5 1185.6 L107.5 1185.6 L109.5 1185.6 L111.5 1185.6 L113.5 1185.6 L115.5 1185.6 L117.5 1185.6 L119.5 1185.6 L121.5 1185.6 L123.5 1185.6 L125.5 1185.6 L127.5 1185.6 L129.5 1185.6 L131.5 1185.6 L133.5 1185.6 L135.5 1185.6 L137.5 1185.6 L139.5 1185.6 L141.5 1185.6 L143.5 1185.6 L145.5 1185.6 L147.5 1185.6 L149.5 1185.6 L151.5 1185.6 L153.5 1185.6 L155.5 1185.6 L157.5 1185.6 L159.5 1185.6 L161.5 1185.6 L163.5 1185.6 L165.5 1185.6 L167.5 1185.6 L169.5 1185.6 L171.5 1185.6 L173.5 1185.6 L175.5 1185.6 L177.5 1185.6 L179.5 1185.6 L181.5 1185.6 L183.5 1185.6 L185.5 1185.6 L187.5 1185.6 L189.5 1185.6 L191.5 1185.6 L193.5 1185.6 L195.5 1185.6 L197.5 1185.6 L199.5 1185.6 L201.5 1185.6 L203.5 1185.6 L205.5 1185.6 L207.5 1185.6 L209.5 1185.6 L211.5 1185.6 L213.5 1185.6 L215.5 1185.6 L217.5 1185.6 L219.5 1185.6 L221.5 1185.6 L223.5 1185.6 L225.5 1185.6 L227.5 1185.6 L229.5 1185.6 L231.5 1185.6 L233.5 1185.6 L235.5 1185.6 L237.5 1185.6 L239.5 1185.6 L241.5 1185.6 L243.5 1185.6 L245.5 1185.6 L247.5 1185.6 L249.5 1185.6 L251.5 1185.6 L253.5 1185.6 L255.5 1185.6 L257.5 1185.6 L259.5 1185.6 L261.5 1185.6 L263.5 1185.6 L265.5 1185.6 L267.5 1185.6 L269.5 1185.6 L271.5 1185.6 L273.5 1185.6 L275.5 1185.6 L277.5 1185.6 L279.5 1185.6 L281.5 1185.6 L283.5 1185.6 L285.5 1185.6 L287.5 1185.6 L289.5 1185.6 L291.6 1185.6 L293.6 1185.6 L295.6 1185.6 L297.6 1185.6 L299.6 1185.6 L301.6 1185.6 L303.6 1185.6 L305.6 1185.6 L307.6 1185.6 L309.6 1185.6 L311.6 1185.6 L313.6 1185.6 L315.6 1185.6 L317.6 1185.5 L319.6 1185.5 L321.6 1185.5 L323.6 1185.5 L325.6 1185.5 L327.6 1185.5 L329.6 1185.5 L331.6 1185.4 L333.6 1185.4 L335.6 1185.4 L337.6 1185.4 L339.6 1185.3 L341.6 1185.3 L343.6 1185.3 L345.6 1185.3 L347.6 1185.2 L349.6 1185.2 L351.6 1185.2 L353.6 1185.1 L355.6 1185.1 L357.6 1185.1 L359.6 1185.0 L361.6 1185.0 L363.6 1185.0 L365.6 1184.9 L367.6 1184.9 L369.6 1184.9 L371.6 1184.8 L373.6 1184.8 L375.6 1184.7 L377.6 1184.7 L379.6 1184.7 L381.6 1184.6 L383.6 1184.6 L385.6 1184.5 L387.6 1184.5 L389.6 1184.4 L391.6 1184.4 L393.6 1184.4 L395.6 1184.3 L397.6 1184.3 L399.6 1184.2 L401.6 1184.2 L403.6 1184.1 L405.6 1184.0 L407.6 1183.9 L409.6 1183.8 L411.5 1183.7 L413.5 1183.6 L415.5 1183.5 L417.5 1183.3 L419.5 1183.2 L421.5 1183.1 L423.5 1182.9 L425.5 1182.7 L427.5 1182.6 L429.5 1182.4 L431.5 1182.2 L433.5 1182.1 L435.5 1181.9 L437.5 1181.7 L439.5 1181.5 L441.5 1181.4 L443.5 1181.2 L445.5 1181.0 L447.5 1180.8 L449.5 1180.7 L451.4 1180.5 L453.4 1180.3 L455.4 1180.1 L457.4 1180.0 L459.4 1179.8 L461.4 1179.7 L463.4 1179.5 L465.4 1179.4 L467.4 1179.3 L469.4 1179.2 L471.4 1179.1 L473.4 1179.0 L475.4 1178.9 L477.4 1178.8 L479.4 1178.7 L481.4 1178.7 L483.4 1178.6 L485.4 1178.5 L487.4 1178.5 L489.4 1178.4 L491.4 1178.4 L493.4 1178.3 L495.4 1178.3 L497.4 1178.2 L499.4 1178.2 L501.4 1178.1 L503.4 1178.1 L505.4 1178.1 L507.4 1178.0 L509.4 1178.0 L511.4 1177.9 L513.4 1177.9 L515.4 1177.8 L517.4 1177.8 L519.4 1177.7 L521.4 1177.7 L523.4 1177.7 L525.4 1177.6 L527.4 1177.6 L529.4 1177.5 L531.4 1177.5 L533.4 1177.5 L535.4 1177.4 L537.4 1177.4 L539.4 1177.3 L541.4 1177.3 L543.4 1177.3 L545.4 1177.2 L547.4 1177.2 L549.4 1177.1 L551.4 1177.0 L553.4 1177.0 L555.4 1176.9 L557.4 1176.8 L559.4 1176.7 L561.4 1176.6 L563.4 1176.4 L565.4 1176.2 L567.4 1176.1 L569.4 1175.9 L571.3 1175.7 L573.3 1175.5 L575.3 1175.3 L577.3 1175.1 L579.3 1175.0 L581.3 1174.8 L583.3 1174.7 L585.3 1174.5 L587.3 1174.4 L589.3 1174.3 L591.3 1174.2 L593.3 1174.1 L595.3 1174.0 L597.3 1173.9 L599.4 1173.8 L601.4 1173.7 L603.4 1173.6 L605.4 1173.4 L607.4 1173.3 L609.3 1173.2 L611.3 1173.0 L613.3 1172.8 L615.3 1172.7 L617.3 1172.5 L619.2 1172.3 L621.2 1172.0 L623.2 1171.7 L625.1 1171.3 L627.1 1170.9 L629.0 1170.4 L631.0 1169.8 L632.9 1169.3 L634.8 1168.7 L636.8 1168.1 L638.7 1167.6 L640.6 1167.0 L642.5 1166.4 L644.4 1165.8 L646.3 1165.2 L648.2 1164.5 L650.1 1163.9 L652.0 1163.2 L653.9 1162.5 L655.7 1161.8 L657.6 1161.0 L659.4 1160.3 L661.3 1159.5 L663.1 1158.7 L664.9 1157.8 L666.7 1156.9 L668.5 1156.0 L670.3 1155.1 L672.0 1154.2 L673.8 1153.2 L675.6 1152.3 L677.3 1151.4 L679.1 1150.4 L680.9 1149.5 L682.6 1148.5 L684.4 1147.6 L686.1 1146.6 L687.9 1145.6 L689.6 1144.6 L691.4 1143.6 L693.1 1142.7 L694.9 1141.7 L696.6 1140.8 L698.4 1139.8 L700.2 1138.9 L701.9 1138.0 L703.7 1137.1 L705.5 1136.2 L707.3 1135.3 L709.1 1134.4 L710.9 1133.5 L712.7 1132.6 L714.5 1131.7 L716.3 1130.9 L718.1 1130.0 L719.9 1129.1 L721.7 1128.2 L723.5 1127.3 L725.2 1126.4 L727.0 1125.5 L728.8 1124.6 L730.6 1123.7 L732.3 1122.7 L734.1 1121.7 L735.8 1120.7 L737.5 1119.7 L739.3 1118.7 L741.0 1117.7 L742.7 1116.6 L744.4 1115.6 L746.1 1114.5 L747.8 1113.4 L749.4 1112.3 L751.0 1111.1 L752.6 1109.9 L754.2 1108.6 L755.7 1107.3 L757.2 1106.0 L758.6 1104.6 L760.1 1103.2 L761.5 1101.7 L762.8 1100.3 L764.1 1098.7 L765.4 1097.2 L766.6 1095.6 L767.8 1094.0 L768.9 1092.4 L770.0 1090.7 L771.1 1089.0 L772.1 1087.3 L773.1 1085.5 L774.0 1083.8 L774.9 1082.0 L775.7 1080.2 L776.6 1078.3 L777.4 1076.5 L778.1 1074.7 L778.9 1072.8 L779.7 1070.9 L780.4 1069.1 L781.2 1067.2 L781.9 1065.4 L782.6 1063.5 L783.3 1061.6 L784.0 1059.8 L784.7 1057.9 L785.4 1056.0 L786.1 1054.1 L786.8 1052.2 L787.5 1050.4 L788.2 1048.5 L788.8 1046.6 L789.5 1044.7 L790.2 1042.8 L790.9 1040.9 L791.6 1039.1 L792.4 1037.2 L793.2 1035.4 L794.0 1033.5 L794.8 1031.7 L795.7 1029.9 L796.6 1028.1 L797.6 1026.4 L798.7 1024.7 L800.0 1023.1 L801.4 1021.6 L802.9 1020.3 L804.5 1019.4 L806.4 1018.8 L808.3 1018.5 L810.2 1018.6 L812.1 1019.0 L813.9 1019.9 L815.6 1021.0 L817.2 1022.2 L818.7 1023.5 L820.1 1024.9 L821.5 1026.4 L822.9 1027.9 L824.2 1029.3 L825.6 1030.8 L827.0 1032.3 L828.4 1033.7 L829.8 1035.1 L831.3 1036.4 L832.9 1037.7 L834.5 1038.9 L836.2 1040.0 L837.9 1040.9 L839.7 1041.7 L841.6 1042.3 L843.5 1042.8 L845.5 1043.3 L847.5 1043.7 L849.4 1044.2 L851.4 1044.6 L853.3 1045.2 L855.2 1045.8 L857.1 1046.4 L859.0 1047.1 L860.8 1047.8 L862.8 1048.4 L864.7 1048.9 L866.6 1049.5 L868.5 1050.1 L870.4 1050.7 L872.2 1051.5 L873.9 1052.5 L875.6 1053.5 L877.3 1054.6 L879.0 1055.7 L880.7 1056.8 L882.5 1057.8 L884.2 1058.8 L886.0 1059.7 L887.8 1060.6 L889.6 1061.4 L891.4 1062.2 L893.3 1062.9 L895.2 1063.5 L897.1 1064.2 L899.0 1064.7 L900.9 1065.3 L902.9 1065.8 L904.8 1066.3 L906.8 1066.7 L908.7 1067.1 L910.7 1067.5 L912.7 1067.8 L914.6 1068.1 L916.6 1068.4 L918.6 1068.6 L920.6 1068.9 L922.6 1069.1 L924.6 1069.3 L926.6 1069.5 L928.6 1069.5 L930.6 1069.4 L932.5 1069.3 L934.5 1069.1 L936.5 1068.8 L938.5 1068.5 L940.5 1068.2 L942.4 1067.8 L944.4 1067.4 L946.4 1067.0 L948.3 1066.6 L950.3 1066.1 L952.2 1065.5 L954.1 1065.0 L956.0 1064.4 L957.9 1063.8 L959.8 1063.1 L961.7 1062.4 L963.5 1061.6 L965.4 1060.9 L967.2 1060.1 L969.1 1059.4 L971.0 1058.6 L972.8 1057.9 L974.7 1057.1 L976.5 1056.2 L978.2 1055.3 L979.9 1054.3 L981.5 1053.1 L983.1 1051.9 L984.8 1050.7 L986.4 1049.5 L988.0 1048.4 L989.7 1047.2 L991.3 1046.1 L992.9 1044.9 L994.6 1043.8 L996.2 1042.7 L997.9 1041.5 L999.5 1040.4 L1001.2 1039.2 L1002.8 1038.1 L1004.4 1036.9 L1006.0 1035.8 L1007.6 1034.6 L1009.2 1033.3 L1010.8 1032.1 L1012.4 1030.8 L1013.9 1029.6 L1015.5 1028.3 L1017.0 1027.1 L1018.6 1025.8 L1020.1 1024.6 L1021.7 1023.3 L1023.3 1022.1 L1024.8 1020.8 L1026.4 1019.6 L1028.0 1018.3 L1029.5 1017.1 L1031.1 1015.9 L1032.7 1014.6 L1034.2 1013.3 L1035.7 1012.1 L1037.2 1010.7 L1038.7 1009.3 L1040.1 1007.9 L1041.5 1006.5 L1042.9 1005.1 L1044.3 1003.6 L1045.7 1002.2 L1047.1 1000.8 L1048.6 999.4 L1050.0 998.0 L1051.5 996.6 L1052.9 995.2 L1054.2 993.8 L1055.6 992.3 L1056.9 990.8 L1058.1 989.2 L1059.3 987.6 L1060.5 986.0 L1061.6 984.3 L1063.5 958.8 L1064.7 954.9 L1066.5 968.6 L1069.4 978.4 L1073.3 975.5 L1080.0 971.6 L1085.0 966.0 L1089.5 959.5 L1094.1 958.7 L1098.6 950.0 L1103.1 949.6 L1107.4 942.3 L1111.6 938.1 L1115.7 934.1 L1119.7 927.7 L1123.7 921.4 L1127.6 915.8 L1131.4 910.2 L1135.3 909.1 L1139.0 902.4 L1142.7 895.7 L1146.3 895.1 L1149.8 886.4 L1153.1 882.2 L1156.3 876.4 L1159.4 873.3 L1162.4 867.8 L1165.3 862.8 L1168.3 855.7 L1171.2 850.7 L1174.2 845.6 L1177.2 841.1 L1180.3 835.2 L1183.4 830.5 L1186.4 830.5 L1189.3 825.7 L1192.1 816.3 L1194.7 810.5 L1197.1 806.7 L1199.4 804.8 L1201.5 800.3 L1203.6 790.9 L1205.5 789.3 L1205.8 788.7"/>
<path class="c" stroke="#3b55a5" d="M97.5 1185.6 L99.5 1185.6 L101.5 1185.6 L103.5 1185.6 L105.5 1185.6 L107.5 1185.6 L109.5 1185.6 L111.5 1185.6 L113.5 1185.6 L115.5 1185.6 L117.5 1185.6 L119.5 1185.6 L121.5 1185.6 L123.5 1185.6 L125.5 1185.6 L127.5 1185.6 L129.5 1185.6 L131.5 1185.6 L133.5 1185.6 L135.5 1185.6 L137.5 1185.6 L139.5 1185.6 L141.5 1185.6 L143.5 1185.6 L145.5 1185.6 L147.5 1185.6 L149.5 1185.6 L151.5 1185.6 L153.5 1185.6 L155.5 1185.6 L157.5 1185.6 L159.5 1185.6 L161.5 1185.6 L163.5 1185.6 L165.5 1185.6 L167.5 1185.6 L169.5 1185.6 L171.5 1185.6 L173.5 1185.6 L175.5 1185.6 L177.5 1185.6 L179.5 1185.6 L181.5 1185.6 L183.5 1185.6 L185.5 1185.6 L187.5 1185.6 L189.5 1185.6 L191.5 1185.6 L193.5 1185.6 L195.5 1185.6 L197.5 1185.6 L199.5 1185.6 L201.5 1185.6 L203.5 1185.6 L205.5 1185.6 L207.5 1185.6 L209.5 1185.6 L211.5 1185.6 L213.5 1185.6 L215.5 1185.6 L217.5 1185.6 L219.5 1185.6 L221.5 1185.6 L223.5 1185.6 L225.5 1185.6 L227.5 1185.6 L229.5 1185.6 L231.5 1185.6 L233.5 1185.6 L235.5 1185.6 L237.5 1185.6 L239.5 1185.6 L241.5 1185.6 L243.5 1185.6 L245.5 1185.6 L247.5 1185.6 L249.5 1185.6 L251.5 1185.6 L253.5 1185.6 L255.5 1185.6 L257.5 1185.6 L259.5 1185.6 L261.5 1185.6 L263.5 1185.6 L265.5 1185.6 L267.5 1185.6 L269.5 1185.6 L271.5 1185.6 L273.5 1185.6 L275.5 1185.6 L277.5 1185.6 L279.5 1185.6 L281.5 1185.6 L283.5 1185.6 L285.5 1185.6 L287.5 1185.6 L289.5 1185.6 L291.6 1185.6 L293.6 1185.6 L295.6 1185.6 L297.6 1185.6 L299.6 1185.6 L301.6 1185.6 L303.6 1185.6 L305.6 1185.6 L307.6 1185.6 L309.6 1185.6 L311.6 1185.6 L313.6 1185.6 L315.6 1185.6 L317.6 1185.5 L319.6 1185.5 L321.6 1185.5 L323.6 1185.5 L325.6 1185.5 L327.6 1185.5 L329.6 1185.5 L331.6 1185.4 L333.6 1185.4 L335.6 1185.4 L337.6 1185.4 L339.6 1185.3 L341.6 1185.3 L343.6 1185.3 L345.6 1185.3 L347.6 1185.2 L349.6 1185.2 L351.6 1185.2 L353.6 1185.1 L355.6 1185.1 L357.6 1185.1 L359.6 1185.0 L361.6 1185.0 L363.6 1185.0 L365.6 1184.9 L367.6 1184.9 L369.6 1184.9 L371.6 1184.8 L373.6 1184.8 L375.6 1184.7 L377.6 1184.7 L379.6 1184.7 L381.6 1184.6 L383.6 1184.6 L385.6 1184.5 L387.6 1184.5 L389.6 1184.4 L391.6 1184.4 L393.6 1184.4 L395.6 1184.3 L397.6 1184.3 L399.6 1184.2 L401.6 1184.2 L403.6 1184.1 L405.6 1184.0 L407.6 1183.9 L409.6 1183.8 L411.5 1183.7 L413.5 1183.6 L415.5 1183.5 L417.5 1183.3 L419.5 1183.2 L421.5 1183.1 L423.5 1182.9 L425.5 1182.7 L427.5 1182.6 L429.5 1182.4 L431.5 1182.2 L433.5 1182.1 L435.5 1181.9 L437.5 1181.7 L439.5 1181.5 L441.5 1181.4 L443.5 1181.2 L445.5 1181.0 L447.5 1180.8 L449.5 1180.7 L451.4 1180.5 L453.4 1180.3 L455.4 1180.1 L457.4 1180.0 L459.4 1179.8 L461.4 1179.7 L463.4 1179.5 L465.4 1179.4 L467.4 1179.3 L469.4 1179.2 L471.4 1179.1 L473.4 1179.0 L475.4 1178.9 L477.4 1178.8 L479.4 1178.7 L481.4 1178.7 L483.4 1178.6 L485.4 1178.5 L487.4 1178.5 L489.4 1178.4 L491.4 1178.4 L493.4 1178.3 L495.4 1178.3 L497.4 1178.2 L499.4 1178.2 L501.4 1178.1 L503.4 1178.1 L505.4 1178.1 L507.4 1178.0 L509.4 1178.0 L511.4 1177.9 L513.4 1177.9 L515.4 1177.8 L517.4 1177.8 L519.4 1177.7 L521.4 1177.7 L523.4 1177.7 L525.4 1177.6 L527.4 1177.6 L529.4 1177.5 L531.4 1177.5 L533.4 1177.5 L535.4 1177.4 L537.4 1177.4 L539.4 1177.3 L541.4 1177.3 L543.4 1177.3 L545.4 1177.2 L547.4 1177.2 L549.4 1177.1 L551.4 1177.0 L553.4 1177.0 L555.4 1176.9 L557.4 1176.8 L559.4 1176.7 L561.4 1176.6 L563.4 1176.4 L565.4 1176.2 L567.4 1176.1 L569.4 1175.9 L571.3 1175.7 L573.3 1175.5 L575.3 1175.3 L577.3 1175.1 L579.3 1175.0 L581.3 1174.8 L583.3 1174.7 L585.3 1174.5 L587.3 1174.4 L589.3 1174.3 L591.3 1174.2 L593.3 1174.1 L595.3 1174.0 L597.3 1173.9 L599.4 1173.8 L601.4 1173.7 L603.4 1173.6 L605.4 1173.4 L607.4 1173.3 L609.3 1173.2 L611.3 1173.0 L613.3 1172.8 L615.3 1172.7 L617.3 1172.5 L619.2 1172.3 L621.2 1172.0 L623.2 1171.7 L625.1 1171.3 L627.1 1170.9 L629.0 1170.4 L631.0 1169.8 L632.9 1169.3 L634.8 1168.7 L636.8 1168.1 L638.7 1167.6 L640.6 1167.0 L642.5 1166.4 L644.4 1165.8 L646.3 1165.2 L648.2 1164.5 L650.1 1163.9 L652.0 1163.2 L653.9 1162.5 L655.7 1161.8 L657.6 1161.0 L659.4 1160.3 L661.3 1159.5 L663.1 1158.7 L664.9 1157.8 L666.7 1156.9 L668.5 1156.0 L670.3 1155.1 L672.0 1154.2 L673.8 1153.2 L675.6 1152.3 L677.3 1151.4 L679.1 1150.4 L680.9 1149.5 L682.6 1148.5 L684.4 1147.6 L686.1 1146.6 L687.9 1145.6 L689.6 1144.6 L691.4 1143.6 L693.1 1142.7 L694.9 1141.7 L696.6 1140.8 L698.4 1139.8 L700.2 1138.9 L701.9 1138.0 L703.7 1137.1 L705.5 1136.2 L707.3 1135.3 L709.1 1134.4 L710.9 1133.5 L712.7 1132.6 L714.5 1131.7 L716.3 1130.9 L718.1 1130.0 L719.9 1129.1 L721.7 1128.2 L723.5 1127.3 L725.2 1126.4 L727.0 1125.5 L728.8 1124.6 L730.6 1123.7 L732.3 1122.7 L734.1 1121.7 L735.8 1120.7 L737.5 1119.7 L739.3 1118.7 L741.0 1117.7 L742.7 1116.6 L744.4 1115.6 L746.1 1114.5 L747.8 1113.4 L749.4 1112.3 L751.0 1111.1 L752.6 1109.9 L754.2 1108.6 L755.7 1107.3 L757.2 1106.0 L758.6 1104.6 L760.1 1103.2 L761.5 1101.7 L762.8 1100.3 L764.1 1098.7 L765.4 1097.2 L766.6 1095.6 L767.8 1094.0 L768.9 1092.4 L770.0 1090.7 L771.1 1089.0 L772.1 1087.3 L773.1 1085.5 L774.0 1083.8 L774.9 1082.0 L775.7 1080.2 L776.6 1078.3 L777.4 1076.5 L778.1 1074.7 L778.9 1072.8 L779.7 1070.9 L780.4 1069.1 L781.2 1067.2 L781.9 1065.4 L782.6 1063.5 L783.3 1061.6 L784.0 1059.8 L784.7 1057.9 L785.4 1056.0 L786.1 1054.1 L786.8 1052.2 L787.5 1050.4 L788.2 1048.5 L788.8 1046.6 L789.5 1044.7 L790.2 1042.8 L790.9 1040.9 L791.6 1039.1 L792.4 1037.2 L793.2 1035.4 L794.0 1033.5 L794.8 1031.7 L795.7 1029.9 L796.6 1028.1 L797.6 1026.4 L798.7 1024.7 L800.0 1023.1 L801.4 1021.6 L802.9 1020.3 L804.5 1019.4 L806.4 1018.8 L808.3 1018.5 L810.2 1018.6 L812.1 1019.0 L813.9 1019.9 L815.6 1021.0 L817.2 1022.2 L818.7 1023.5 L820.1 1024.9 L821.5 1026.4 L822.9 1027.9 L824.2 1029.3 L825.6 1030.8 L827.0 1032.3 L828.4 1033.7 L829.8 1035.1 L831.3 1036.4 L832.9 1037.7 L834.5 1038.9 L836.2 1040.0 L837.9 1040.9 L839.7 1041.7 L841.6 1042.3 L843.5 1042.8 L845.5 1043.3 L847.5 1043.7 L849.4 1044.2 L851.4 1044.6 L853.3 1045.2 L855.2 1045.8 L857.1 1046.4 L859.0 1047.1 L860.8 1047.8 L862.8 1048.4 L864.7 1048.9 L866.6 1049.5 L868.5 1050.1 L870.4 1050.7 L872.2 1051.5 L873.9 1052.5 L875.6 1053.5 L877.3 1054.6 L879.0 1055.7 L880.7 1056.8 L882.5 1057.8 L884.2 1058.8 L886.0 1059.7 L887.8 1060.6 L889.6 1061.4 L891.4 1062.2 L893.3 1062.9 L895.2 1063.5 L897.1 1064.2 L899.0 1064.7 L900.9 1065.3 L902.9 1065.8 L904.8 1066.3 L906.8 1066.7 L908.7 1067.1 L910.7 1067.5 L912.7 1067.8 L914.6 1068.1 L916.6 1068.4 L918.6 1068.6 L920.6 1068.9 L922.6 1069.1 L924.6 1069.3 L926.6 1069.5 L928.6 1069.5 L930.6 1069.4 L932.5 1069.3 L934.5 1069.1 L936.5 1068.8 L938.5 1068.5 L940.5 1068.2 L942.4 1067.8 L944.4 1067.4 L946.4 1067.0 L948.3 1066.6 L950.3 1066.1 L952.2 1065.5 L954.1 1065.0 L956.0 1064.4 L957.9 1063.8 L959.8 1063.1 L961.7 1062.4 L963.5 1061.6 L965.4 1060.9 L967.2 1060.1 L969.1 1059.4 L971.0 1058.6 L972.8 1057.9 L974.7 1057.1 L976.5 1056.2 L978.2 1055.3 L979.9 1054.3 L981.5 1053.1 L983.1 1051.9 L984.8 1050.7 L986.4 1049.5 L988.0 1048.4 L989.7 1047.2 L991.3 1046.1 L992.9 1044.9 L994.6 1043.8 L996.2 1042.7 L997.9 1041.5 L999.5 1040.4 L1001.2 1039.2 L1002.8 1038.1 L1004.4 1036.9 L1006.0 1035.8 L1007.6 1034.6 L1009.2 1033.3 L1010.8 1032.1 L1012.4 1030.8 L1013.9 1029.6 L1015.5 1028.3 L1017.0 1027.1 L1018.6 1025.8 L1020.1 1024.6 L1021.7 1023.3 L1023.3 1022.1 L1024.8 1020.8 L1026.4 1019.6 L1028.0 1018.3 L1029.5 1017.1 L1031.1 1015.9 L1032.7 1014.6 L1034.2 1013.3 L1035.7 1012.1 L1037.2 1010.7 L1038.7 1009.3 L1040.1 1007.9 L1041.5 1006.5 L1042.9 1005.1 L1044.3 1003.6 L1045.7 1002.2 L1047.1 1000.8 L1048.6 999.4 L1050.0 998.0 L1051.5 996.6 L1052.9 995.2 L1054.2 993.8 L1055.6 992.3 L1056.9 990.8 L1058.1 989.2 L1059.3 987.6 L1060.5 986.0 L1061.6 984.3 L1063.5 958.8 L1064.7 954.9 L1066.5 968.6 L1069.4 978.4 L1073.3 975.5 L1080.0 971.6 L1085.0 966.0 L1089.5 959.5 L1094.1 958.7 L1098.6 950.0 L1103.1 949.6 L1107.4 942.3 L1111.6 938.1 L1115.7 934.1 L1119.7 927.7 L1123.7 921.4 L1127.6 915.8 L1131.4 910.2 L1135.3 909.1 L1139.0 902.4 L1142.7 895.7 L1146.3 895.1 L1149.8 886.4 L1153.1 882.2 L1156.3 876.4 L1159.4 873.3 L1162.4 867.8 L1165.3 862.8 L1168.3 855.7 L1171.2 850.7 L1174.2 845.6 L1177.2 841.1 L1180.3 835.2 L1183.4 830.5 L1186.4 830.5 L1189.3 825.7 L1192.1 816.3 L1194.7 810.5 L1197.1 806.7 L1199.4 804.8 L1201.5 800.3 L1203.6 790.9 L1205.5 789.3 L1205.8 788.7"/>
<path class="h d" stroke="#3b55a5" d="M97.5 1185.6 L99.5 1185.6 L101.5 1185.6 L103.5 1185.6 L105.5 1185.6 L107.5 1185.6 L109.5 1185.6 L111.5 1185.6 L113.5 1185.6 L115.5 1185.6 L117.5 1185.6 L119.5 1185.6 L121.5 1185.6 L123.5 1185.6 L125.5 1185.6 L127.5 1185.6 L129.5 1185.6 L131.5 1185.6 L133.5 1185.6 L135.5 1185.6 L137.5 1185.6 L139.5 1185.6 L141.5 1185.6 L143.5 1185.6 L145.5 1185.6 L147.5 1185.6 L149.5 1185.6 L151.5 1185.6 L153.5 1185.6 L155.5 1185.6 L157.5 1185.6 L159.5 1185.6 L161.5 1185.6 L163.5 1185.6 L165.5 1185.6 L167.5 1185.6 L169.5 1185.6 L171.5 1185.6 L173.5 1185.6 L175.5 1185.6 L177.5 1185.6 L179.5 1185.6 L181.5 1185.6 L183.5 1185.6 L185.5 1185.6 L187.5 1185.6 L189.5 1185.6 L191.5 1185.6 L193.5 1185.6 L195.5 1185.6 L197.5 1185.6 L199.5 1185.6 L201.5 1185.6 L203.5 1185.6 L205.5 1185.6 L207.5 1185.6 L209.5 1185.6 L211.5 1185.6 L213.5 1185.6 L215.5 1185.6 L217.5 1185.6 L219.5 1185.6 L221.5 1185.6 L223.5 1185.6 L225.5 1185.6 L227.5 1185.6 L229.5 1185.6 L231.5 1185.6 L233.5 1185.6 L235.5 1185.6 L237.5 1185.6 L239.5 1185.6 L241.5 1185.6 L243.5 1185.6 L245.5 1185.6 L247.5 1185.6 L249.5 1185.6 L251.5 1185.6 L253.5 1185.6 L255.5 1185.6 L257.5 1185.6 L259.5 1185.6 L261.5 1185.6 L263.5 1185.6 L265.5 1185.6 L267.5 1185.6 L269.5 1185.6 L271.5 1185.6 L273.5 1185.6 L275.5 1185.6 L277.5 1185.6 L279.5 1185.6 L281.5 1185.6 L283.5 1185.6 L285.5 1185.6 L287.5 1185.6 L289.5 1185.6 L291.5 1185.6 L293.5 1185.6 L295.5 1185.6 L297.5 1185.6 L299.5 1185.6 L301.5 1185.6 L303.5 1185.6 L305.5 1185.6 L307.5 1185.6 L309.5 1185.6 L311.5 1185.6 L313.5 1185.6 L315.5 1185.6 L317.5 1185.5 L319.5 1185.5 L321.5 1185.5 L323.5 1185.5 L325.5 1185.5 L327.5 1185.5 L329.5 1185.4 L331.5 1185.4 L333.5 1185.4 L335.5 1185.4 L337.5 1185.3 L339.5 1185.3 L341.5 1185.3 L343.5 1185.2 L345.5 1185.2 L347.5 1185.2 L349.5 1185.1 L351.5 1185.1 L353.5 1185.1 L355.5 1185.0 L357.5 1185.0 L359.5 1185.0 L361.5 1184.9 L363.5 1184.9 L365.5 1184.8 L367.5 1184.8 L369.5 1184.8 L371.5 1184.7 L373.5 1184.7 L375.5 1184.6 L377.5 1184.6 L379.5 1184.5 L381.5 1184.5 L383.5 1184.4 L385.5 1184.4 L387.5 1184.3 L389.5 1184.3 L391.5 1184.2 L393.5 1184.2 L395.5 1184.1 L397.5 1184.1 L399.5 1184.0 L401.5 1183.9 L403.5 1183.9 L405.5 1183.8 L407.5 1183.7 L409.5 1183.6 L411.5 1183.5 L413.5 1183.4 L415.5 1183.2 L417.5 1183.1 L419.5 1183.0 L421.5 1182.8 L423.4 1182.6 L425.4 1182.5 L427.4 1182.3 L429.4 1182.1 L431.4 1182.0 L433.4 1181.8 L435.4 1181.6 L437.4 1181.4 L439.4 1181.2 L441.4 1181.1 L443.4 1180.9 L445.4 1180.7 L447.4 1180.5 L449.4 1180.3 L451.4 1180.2 L453.4 1180.0 L455.3 1179.8 L457.3 1179.7 L459.3 1179.5 L461.3 1179.3 L463.3 1179.2 L465.3 1179.1 L467.3 1178.9 L469.3 1178.8 L471.3 1178.7 L473.3 1178.6 L475.3 1178.5 L477.3 1178.4 L479.3 1178.3 L481.3 1178.3 L483.3 1178.2 L485.3 1178.1 L487.3 1178.1 L489.3 1178.0 L491.3 1178.0 L493.3 1177.9 L495.3 1177.8 L497.3 1177.8 L499.3 1177.7 L501.3 1177.7 L503.3 1177.6 L505.3 1177.6 L507.3 1177.5 L509.3 1177.5 L511.3 1177.4 L513.3 1177.4 L515.3 1177.3 L517.3 1177.3 L519.3 1177.2 L521.3 1177.2 L523.3 1177.1 L525.3 1177.1 L527.3 1177.0 L529.3 1177.0 L531.3 1176.9 L533.3 1176.9 L535.3 1176.8 L537.3 1176.8 L539.3 1176.7 L541.3 1176.6 L543.3 1176.6 L545.3 1176.5 L547.3 1176.4 L549.3 1176.4 L551.3 1176.3 L553.3 1176.2 L555.3 1176.1 L557.3 1176.0 L559.3 1175.9 L561.2 1175.7 L563.2 1175.5 L565.2 1175.4 L567.2 1175.2 L569.2 1174.9 L571.2 1174.7 L573.2 1174.5 L575.2 1174.3 L577.2 1174.2 L579.2 1174.0 L581.2 1173.8 L583.2 1173.7 L585.2 1173.5 L587.2 1173.4 L589.2 1173.3 L591.2 1173.2 L593.2 1173.1 L595.2 1173.0 L597.2 1172.9 L599.2 1172.8 L601.2 1172.7 L603.2 1172.5 L605.2 1172.4 L607.2 1172.3 L609.2 1172.2 L611.2 1172.0 L613.2 1171.9 L615.1 1171.7 L617.1 1171.5 L619.1 1171.3 L621.1 1171.0 L623.0 1170.7 L625.0 1170.3 L626.9 1169.9 L628.9 1169.4 L630.8 1168.9 L632.8 1168.4 L634.7 1167.8 L636.6 1167.2 L638.5 1166.6 L640.4 1166.0 L642.3 1165.4 L644.2 1164.7 L646.1 1164.0 L647.9 1163.3 L649.8 1162.5 L651.6 1161.7 L653.5 1160.9 L655.3 1160.1 L657.1 1159.3 L659.0 1158.5 L660.8 1157.7 L662.6 1156.8 L664.4 1155.9 L666.2 1155.1 L668.0 1154.1 L669.7 1153.2 L671.5 1152.3 L673.3 1151.4 L675.1 1150.5 L676.9 1149.6 L678.7 1148.7 L680.5 1147.8 L682.3 1147.0 L684.1 1146.1 L685.8 1145.1 L687.4 1144.0 L689.0 1142.8 L690.4 1141.5 L691.8 1140.1 L693.2 1138.6 L694.6 1137.1 L695.9 1135.6 L697.3 1134.1 L698.7 1132.6 L700.1 1131.2 L701.6 1129.8 L703.0 1128.4 L704.4 1127.0 L705.8 1125.6 L707.3 1124.2 L708.7 1122.8 L710.0 1121.3 L711.4 1119.9 L712.8 1118.4 L714.1 1116.9 L715.5 1115.4 L716.8 1113.9 L718.1 1112.4 L719.3 1110.9 L720.6 1109.3 L721.8 1107.7 L723.0 1106.1 L724.1 1104.5 L725.3 1102.8 L726.4 1101.2 L727.4 1099.5 L728.5 1097.8 L729.6 1096.1 L730.6 1094.4 L731.6 1092.6 L732.6 1090.9 L733.6 1089.2 L734.6 1087.4 L735.6 1085.7 L736.5 1083.9 L737.5 1082.2 L738.4 1080.4 L739.4 1078.6 L740.3 1076.9 L741.2 1075.1 L742.1 1073.3 L743.0 1071.5 L743.9 1069.7 L744.7 1067.9 L745.6 1066.1 L746.4 1064.3 L747.3 1062.5 L748.1 1060.6 L748.9 1058.8 L749.7 1057.0 L750.5 1055.1 L751.3 1053.3 L752.0 1051.5 L752.9 1049.6 L753.6 1047.8 L754.4 1045.9 L755.2 1044.1 L756.0 1042.2 L756.8 1040.4 L757.6 1038.6 L758.4 1036.7 L759.2 1034.9 L760.1 1033.1 L761.0 1031.4 L762.0 1029.6 L763.0 1027.8 L764.0 1026.1 L765.1 1024.4 L766.2 1022.7 L767.4 1021.1 L768.7 1019.6 L770.1 1018.1 L771.6 1016.7 L773.1 1015.4 L774.8 1014.3 L776.6 1013.6 L778.5 1013.2 L780.5 1013.1 L782.4 1013.2 L784.3 1013.6 L786.0 1014.4 L787.7 1015.6 L789.2 1017.0 L790.7 1018.4 L792.0 1019.9 L793.3 1021.4 L794.5 1023.0 L795.6 1024.7 L796.7 1026.4 L797.8 1028.1 L798.9 1029.8 L799.9 1031.5 L800.9 1033.3 L801.8 1035.1 L802.8 1036.8 L803.8 1038.6 L804.8 1040.3 L805.9 1042.0 L807.0 1043.6 L808.2 1045.3 L809.4 1046.9 L810.7 1048.5 L812.1 1049.9 L813.7 1051.1 L815.3 1052.1 L817.1 1053.0 L819.0 1053.7 L820.9 1054.1 L822.8 1054.2 L824.8 1053.9 L826.7 1053.4 L828.6 1052.8 L830.5 1052.1 L832.4 1051.3 L834.3 1050.4 L836.1 1049.5 L838.0 1048.7 L839.8 1048.1 L841.7 1047.9 L843.6 1048.0 L845.5 1048.5 L847.4 1049.1 L849.3 1049.8 L851.2 1050.5 L853.1 1051.2 L855.0 1051.8 L856.9 1052.5 L858.8 1053.1 L860.7 1053.7 L862.6 1054.3 L864.6 1054.8 L866.5 1055.4 L868.4 1056.0 L870.3 1056.6 L872.2 1057.3 L874.0 1058.0 L875.8 1058.9 L877.7 1059.7 L879.5 1060.5 L881.3 1061.3 L883.2 1062.1 L885.0 1062.9 L886.9 1063.6 L888.8 1064.2 L890.7 1064.7 L892.7 1065.1 L894.6 1065.5 L896.6 1065.9 L898.6 1066.2 L900.5 1066.6 L902.5 1066.9 L904.5 1067.2 L906.5 1067.5 L908.4 1067.8 L910.4 1068.0 L912.4 1068.3 L914.4 1068.5 L916.4 1068.8 L918.4 1069.0 L920.4 1069.2 L922.4 1069.4 L924.3 1069.6 L926.3 1069.7 L928.3 1069.7 L930.3 1069.7 L932.3 1069.5 L934.3 1069.3 L936.3 1069.0 L938.3 1068.7 L940.3 1068.4 L942.2 1068.1 L944.2 1067.7 L946.1 1067.3 L948.1 1066.8 L950.0 1066.3 L952.0 1065.8 L953.9 1065.2 L955.8 1064.7 L957.7 1064.0 L959.6 1063.4 L961.5 1062.7 L963.3 1061.9 L965.2 1061.2 L967.0 1060.4 L968.9 1059.6 L970.7 1058.9 L972.6 1058.1 L974.4 1057.3 L976.2 1056.4 L977.9 1055.5 L979.6 1054.4 L981.3 1053.3 L982.9 1052.1 L984.5 1050.9 L986.1 1049.7 L987.7 1048.5 L989.3 1047.3 L990.9 1046.1 L992.5 1044.9 L994.1 1043.7 L995.7 1042.5 L997.3 1041.3 L998.9 1040.1 L1000.5 1038.9 L1002.1 1037.7 L1003.7 1036.5 L1005.3 1035.3 L1006.9 1034.1 L1008.5 1032.9 L1010.1 1031.7 L1011.7 1030.4 L1013.2 1029.2 L1014.8 1027.9 L1016.3 1026.6 L1017.8 1025.3 L1019.3 1024.0 L1020.8 1022.6 L1022.2 1021.3 L1023.7 1019.9 L1025.2 1018.6 L1026.7 1017.3 L1028.2 1016.0 L1029.8 1014.7 L1031.3 1013.5 L1032.9 1012.2 L1034.5 1011.0 L1036.1 1009.8 L1048.4 978.0 L1057.2 971.4 L1061.1 956.1 L1063.7 967.1 L1070.3 963.8 L1076.8 956.1 L1085.6 940.8 L1090.0 933.2 L1094.3 938.6 L1100.9 929.9 L1107.5 923.3 L1112.9 916.8 L1116.2 901.5 L1119.5 892.7 L1122.8 882.9 L1125.4 873.1 L1129.3 880.7 L1134.8 876.3 L1140.3 870.9 L1145.7 862.1 L1151.2 851.2 L1156.7 844.6 L1162.1 835.9 L1167.6 825.0 L1172.0 822.8 L1175.2 814.0 L1177.4 807.5 L1182.9 804.2 L1186.2 800.9 L1190.5 785.6 L1194.9 772.5 L1199.3 769.9 L1202.6 768.1 L1205.9 752.8"/>
<path class="c d" stroke="#3b55a5" d="M97.5 1185.6 L99.5 1185.6 L101.5 1185.6 L103.5 1185.6 L105.5 1185.6 L107.5 1185.6 L109.5 1185.6 L111.5 1185.6 L113.5 1185.6 L115.5 1185.6 L117.5 1185.6 L119.5 1185.6 L121.5 1185.6 L123.5 1185.6 L125.5 1185.6 L127.5 1185.6 L129.5 1185.6 L131.5 1185.6 L133.5 1185.6 L135.5 1185.6 L137.5 1185.6 L139.5 1185.6 L141.5 1185.6 L143.5 1185.6 L145.5 1185.6 L147.5 1185.6 L149.5 1185.6 L151.5 1185.6 L153.5 1185.6 L155.5 1185.6 L157.5 1185.6 L159.5 1185.6 L161.5 1185.6 L163.5 1185.6 L165.5 1185.6 L167.5 1185.6 L169.5 1185.6 L171.5 1185.6 L173.5 1185.6 L175.5 1185.6 L177.5 1185.6 L179.5 1185.6 L181.5 1185.6 L183.5 1185.6 L185.5 1185.6 L187.5 1185.6 L189.5 1185.6 L191.5 1185.6 L193.5 1185.6 L195.5 1185.6 L197.5 1185.6 L199.5 1185.6 L201.5 1185.6 L203.5 1185.6 L205.5 1185.6 L207.5 1185.6 L209.5 1185.6 L211.5 1185.6 L213.5 1185.6 L215.5 1185.6 L217.5 1185.6 L219.5 1185.6 L221.5 1185.6 L223.5 1185.6 L225.5 1185.6 L227.5 1185.6 L229.5 1185.6 L231.5 1185.6 L233.5 1185.6 L235.5 1185.6 L237.5 1185.6 L239.5 1185.6 L241.5 1185.6 L243.5 1185.6 L245.5 1185.6 L247.5 1185.6 L249.5 1185.6 L251.5 1185.6 L253.5 1185.6 L255.5 1185.6 L257.5 1185.6 L259.5 1185.6 L261.5 1185.6 L263.5 1185.6 L265.5 1185.6 L267.5 1185.6 L269.5 1185.6 L271.5 1185.6 L273.5 1185.6 L275.5 1185.6 L277.5 1185.6 L279.5 1185.6 L281.5 1185.6 L283.5 1185.6 L285.5 1185.6 L287.5 1185.6 L289.5 1185.6 L291.5 1185.6 L293.5 1185.6 L295.5 1185.6 L297.5 1185.6 L299.5 1185.6 L301.5 1185.6 L303.5 1185.6 L305.5 1185.6 L307.5 1185.6 L309.5 1185.6 L311.5 1185.6 L313.5 1185.6 L315.5 1185.6 L317.5 1185.5 L319.5 1185.5 L321.5 1185.5 L323.5 1185.5 L325.5 1185.5 L327.5 1185.5 L329.5 1185.4 L331.5 1185.4 L333.5 1185.4 L335.5 1185.4 L337.5 1185.3 L339.5 1185.3 L341.5 1185.3 L343.5 1185.2 L345.5 1185.2 L347.5 1185.2 L349.5 1185.1 L351.5 1185.1 L353.5 1185.1 L355.5 1185.0 L357.5 1185.0 L359.5 1185.0 L361.5 1184.9 L363.5 1184.9 L365.5 1184.8 L367.5 1184.8 L369.5 1184.8 L371.5 1184.7 L373.5 1184.7 L375.5 1184.6 L377.5 1184.6 L379.5 1184.5 L381.5 1184.5 L383.5 1184.4 L385.5 1184.4 L387.5 1184.3 L389.5 1184.3 L391.5 1184.2 L393.5 1184.2 L395.5 1184.1 L397.5 1184.1 L399.5 1184.0 L401.5 1183.9 L403.5 1183.9 L405.5 1183.8 L407.5 1183.7 L409.5 1183.6 L411.5 1183.5 L413.5 1183.4 L415.5 1183.2 L417.5 1183.1 L419.5 1183.0 L421.5 1182.8 L423.4 1182.6 L425.4 1182.5 L427.4 1182.3 L429.4 1182.1 L431.4 1182.0 L433.4 1181.8 L435.4 1181.6 L437.4 1181.4 L439.4 1181.2 L441.4 1181.1 L443.4 1180.9 L445.4 1180.7 L447.4 1180.5 L449.4 1180.3 L451.4 1180.2 L453.4 1180.0 L455.3 1179.8 L457.3 1179.7 L459.3 1179.5 L461.3 1179.3 L463.3 1179.2 L465.3 1179.1 L467.3 1178.9 L469.3 1178.8 L471.3 1178.7 L473.3 1178.6 L475.3 1178.5 L477.3 1178.4 L479.3 1178.3 L481.3 1178.3 L483.3 1178.2 L485.3 1178.1 L487.3 1178.1 L489.3 1178.0 L491.3 1178.0 L493.3 1177.9 L495.3 1177.8 L497.3 1177.8 L499.3 1177.7 L501.3 1177.7 L503.3 1177.6 L505.3 1177.6 L507.3 1177.5 L509.3 1177.5 L511.3 1177.4 L513.3 1177.4 L515.3 1177.3 L517.3 1177.3 L519.3 1177.2 L521.3 1177.2 L523.3 1177.1 L525.3 1177.1 L527.3 1177.0 L529.3 1177.0 L531.3 1176.9 L533.3 1176.9 L535.3 1176.8 L537.3 1176.8 L539.3 1176.7 L541.3 1176.6 L543.3 1176.6 L545.3 1176.5 L547.3 1176.4 L549.3 1176.4 L551.3 1176.3 L553.3 1176.2 L555.3 1176.1 L557.3 1176.0 L559.3 1175.9 L561.2 1175.7 L563.2 1175.5 L565.2 1175.4 L567.2 1175.2 L569.2 1174.9 L571.2 1174.7 L573.2 1174.5 L575.2 1174.3 L577.2 1174.2 L579.2 1174.0 L581.2 1173.8 L583.2 1173.7 L585.2 1173.5 L587.2 1173.4 L589.2 1173.3 L591.2 1173.2 L593.2 1173.1 L595.2 1173.0 L597.2 1172.9 L599.2 1172.8 L601.2 1172.7 L603.2 1172.5 L605.2 1172.4 L607.2 1172.3 L609.2 1172.2 L611.2 1172.0 L613.2 1171.9 L615.1 1171.7 L617.1 1171.5 L619.1 1171.3 L621.1 1171.0 L623.0 1170.7 L625.0 1170.3 L626.9 1169.9 L628.9 1169.4 L630.8 1168.9 L632.8 1168.4 L634.7 1167.8 L636.6 1167.2 L638.5 1166.6 L640.4 1166.0 L642.3 1165.4 L644.2 1164.7 L646.1 1164.0 L647.9 1163.3 L649.8 1162.5 L651.6 1161.7 L653.5 1160.9 L655.3 1160.1 L657.1 1159.3 L659.0 1158.5 L660.8 1157.7 L662.6 1156.8 L664.4 1155.9 L666.2 1155.1 L668.0 1154.1 L669.7 1153.2 L671.5 1152.3 L673.3 1151.4 L675.1 1150.5 L676.9 1149.6 L678.7 1148.7 L680.5 1147.8 L682.3 1147.0 L684.1 1146.1 L685.8 1145.1 L687.4 1144.0 L689.0 1142.8 L690.4 1141.5 L691.8 1140.1 L693.2 1138.6 L694.6 1137.1 L695.9 1135.6 L697.3 1134.1 L698.7 1132.6 L700.1 1131.2 L701.6 1129.8 L703.0 1128.4 L704.4 1127.0 L705.8 1125.6 L707.3 1124.2 L708.7 1122.8 L710.0 1121.3 L711.4 1119.9 L712.8 1118.4 L714.1 1116.9 L715.5 1115.4 L716.8 1113.9 L718.1 1112.4 L719.3 1110.9 L720.6 1109.3 L721.8 1107.7 L723.0 1106.1 L724.1 1104.5 L725.3 1102.8 L726.4 1101.2 L727.4 1099.5 L728.5 1097.8 L729.6 1096.1 L730.6 1094.4 L731.6 1092.6 L732.6 1090.9 L733.6 1089.2 L734.6 1087.4 L735.6 1085.7 L736.5 1083.9 L737.5 1082.2 L738.4 1080.4 L739.4 1078.6 L740.3 1076.9 L741.2 1075.1 L742.1 1073.3 L743.0 1071.5 L743.9 1069.7 L744.7 1067.9 L745.6 1066.1 L746.4 1064.3 L747.3 1062.5 L748.1 1060.6 L748.9 1058.8 L749.7 1057.0 L750.5 1055.1 L751.3 1053.3 L752.0 1051.5 L752.9 1049.6 L753.6 1047.8 L754.4 1045.9 L755.2 1044.1 L756.0 1042.2 L756.8 1040.4 L757.6 1038.6 L758.4 1036.7 L759.2 1034.9 L760.1 1033.1 L761.0 1031.4 L762.0 1029.6 L763.0 1027.8 L764.0 1026.1 L765.1 1024.4 L766.2 1022.7 L767.4 1021.1 L768.7 1019.6 L770.1 1018.1 L771.6 1016.7 L773.1 1015.4 L774.8 1014.3 L776.6 1013.6 L778.5 1013.2 L780.5 1013.1 L782.4 1013.2 L784.3 1013.6 L786.0 1014.4 L787.7 1015.6 L789.2 1017.0 L790.7 1018.4 L792.0 1019.9 L793.3 1021.4 L794.5 1023.0 L795.6 1024.7 L796.7 1026.4 L797.8 1028.1 L798.9 1029.8 L799.9 1031.5 L800.9 1033.3 L801.8 1035.1 L802.8 1036.8 L803.8 1038.6 L804.8 1040.3 L805.9 1042.0 L807.0 1043.6 L808.2 1045.3 L809.4 1046.9 L810.7 1048.5 L812.1 1049.9 L813.7 1051.1 L815.3 1052.1 L817.1 1053.0 L819.0 1053.7 L820.9 1054.1 L822.8 1054.2 L824.8 1053.9 L826.7 1053.4 L828.6 1052.8 L830.5 1052.1 L832.4 1051.3 L834.3 1050.4 L836.1 1049.5 L838.0 1048.7 L839.8 1048.1 L841.7 1047.9 L843.6 1048.0 L845.5 1048.5 L847.4 1049.1 L849.3 1049.8 L851.2 1050.5 L853.1 1051.2 L855.0 1051.8 L856.9 1052.5 L858.8 1053.1 L860.7 1053.7 L862.6 1054.3 L864.6 1054.8 L866.5 1055.4 L868.4 1056.0 L870.3 1056.6 L872.2 1057.3 L874.0 1058.0 L875.8 1058.9 L877.7 1059.7 L879.5 1060.5 L881.3 1061.3 L883.2 1062.1 L885.0 1062.9 L886.9 1063.6 L888.8 1064.2 L890.7 1064.7 L892.7 1065.1 L894.6 1065.5 L896.6 1065.9 L898.6 1066.2 L900.5 1066.6 L902.5 1066.9 L904.5 1067.2 L906.5 1067.5 L908.4 1067.8 L910.4 1068.0 L912.4 1068.3 L914.4 1068.5 L916.4 1068.8 L918.4 1069.0 L920.4 1069.2 L922.4 1069.4 L924.3 1069.6 L926.3 1069.7 L928.3 1069.7 L930.3 1069.7 L932.3 1069.5 L934.3 1069.3 L936.3 1069.0 L938.3 1068.7 L940.3 1068.4 L942.2 1068.1 L944.2 1067.7 L946.1 1067.3 L948.1 1066.8 L950.0 1066.3 L952.0 1065.8 L953.9 1065.2 L955.8 1064.7 L957.7 1064.0 L959.6 1063.4 L961.5 1062.7 L963.3 1061.9 L965.2 1061.2 L967.0 1060.4 L968.9 1059.6 L970.7 1058.9 L972.6 1058.1 L974.4 1057.3 L976.2 1056.4 L977.9 1055.5 L979.6 1054.4 L981.3 1053.3 L982.9 1052.1 L984.5 1050.9 L986.1 1049.7 L987.7 1048.5 L989.3 1047.3 L990.9 1046.1 L992.5 1044.9 L994.1 1043.7 L995.7 1042.5 L997.3 1041.3 L998.9 1040.1 L1000.5 1038.9 L1002.1 1037.7 L1003.7 1036.5 L1005.3 1035.3 L1006.9 1034.1 L1008.5 1032.9 L1010.1 1031.7 L1011.7 1030.4 L1013.2 1029.2 L1014.8 1027.9 L1016.3 1026.6 L1017.8 1025.3 L1019.3 1024.0 L1020.8 1022.6 L1022.2 1021.3 L1023.7 1019.9 L1025.2 1018.6 L1026.7 1017.3 L1028.2 1016.0 L1029.8 1014.7 L1031.3 1013.5 L1032.9 1012.2 L1034.5 1011.0 L1036.1 1009.8 L1048.4 978.0 L1057.2 971.4 L1061.1 956.1 L1063.7 967.1 L1070.3 963.8 L1076.8 956.1 L1085.6 940.8 L1090.0 933.2 L1094.3 938.6 L1100.9 929.9 L1107.5 923.3 L1112.9 916.8 L1116.2 901.5 L1119.5 892.7 L1122.8 882.9 L1125.4 873.1 L1129.3 880.7 L1134.8 876.3 L1140.3 870.9 L1145.7 862.1 L1151.2 851.2 L1156.7 844.6 L1162.1 835.9 L1167.6 825.0 L1172.0 822.8 L1175.2 814.0 L1177.4 807.5 L1182.9 804.2 L1186.2 800.9 L1190.5 785.6 L1194.9 772.5 L1199.3 769.9 L1202.6 768.1 L1205.9 752.8"/>
<path class="h" stroke="#e8302f" d="M97.5 1185.6 L99.5 1185.6 L101.5 1185.6 L103.5 1185.6 L105.5 1185.6 L107.5 1185.6 L109.5 1185.6 L111.5 1185.6 L113.5 1185.6 L115.5 1185.6 L117.5 1185.6 L119.5 1185.6 L121.5 1185.6 L123.5 1185.6 L125.5 1185.6 L127.5 1185.6 L129.5 1185.6 L131.5 1185.6 L133.5 1185.6 L135.5 1185.6 L137.5 1185.6 L139.5 1185.6 L141.5 1185.6 L143.5 1185.6 L145.5 1185.6 L147.5 1185.6 L149.5 1185.6 L151.5 1185.6 L153.5 1185.6 L155.5 1185.6 L157.5 1185.6 L159.5 1185.6 L161.5 1185.6 L163.5 1185.6 L165.5 1185.6 L167.5 1185.6 L169.5 1185.6 L171.5 1185.6 L173.5 1185.6 L175.5 1185.6 L177.5 1185.6 L179.5 1185.6 L181.5 1185.6 L183.5 1185.6 L185.5 1185.6 L187.5 1185.6 L189.5 1185.6 L191.5 1185.6 L193.5 1185.6 L195.5 1185.6 L197.5 1185.6 L199.5 1185.6 L201.5 1185.6 L203.5 1185.6 L205.5 1185.6 L207.5 1185.6 L209.5 1185.6 L211.5 1185.6 L213.5 1185.6 L215.5 1185.6 L217.5 1185.6 L219.5 1185.5 L221.5 1185.5 L223.5 1185.5 L225.5 1185.5 L227.5 1185.5 L229.5 1185.5 L231.5 1185.5 L233.5 1185.5 L235.5 1185.4 L237.5 1185.4 L239.5 1185.4 L241.5 1185.4 L243.5 1185.4 L245.5 1185.3 L247.5 1185.3 L249.5 1185.3 L251.5 1185.3 L253.5 1185.3 L255.5 1185.2 L257.5 1185.2 L259.5 1185.2 L261.5 1185.2 L263.5 1185.2 L265.5 1185.1 L267.5 1185.1 L269.5 1185.0 L271.5 1185.0 L273.5 1185.0 L275.5 1184.9 L277.5 1184.9 L279.5 1184.8 L281.5 1184.8 L283.5 1184.7 L285.5 1184.6 L287.5 1184.6 L289.5 1184.5 L291.5 1184.5 L293.5 1184.4 L295.5 1184.3 L297.5 1184.3 L299.5 1184.2 L301.5 1184.2 L303.5 1184.1 L305.5 1184.0 L307.5 1184.0 L309.5 1183.9 L311.5 1183.9 L313.5 1183.8 L315.5 1183.8 L317.5 1183.7 L319.5 1183.6 L321.6 1183.6 L323.6 1183.5 L325.6 1183.4 L327.6 1183.3 L329.5 1183.3 L331.5 1183.2 L333.5 1183.1 L335.5 1183.0 L337.5 1182.8 L339.5 1182.7 L341.5 1182.5 L343.5 1182.3 L345.5 1182.1 L347.4 1181.8 L349.4 1181.5 L351.4 1181.2 L353.4 1180.8 L355.4 1180.5 L357.3 1180.2 L359.3 1179.9 L361.3 1179.5 L363.3 1179.2 L365.2 1178.9 L367.2 1178.6 L369.2 1178.3 L371.2 1178.0 L373.2 1177.7 L375.1 1177.4 L377.1 1177.2 L379.1 1176.9 L381.1 1176.7 L383.1 1176.5 L385.1 1176.2 L387.0 1176.0 L389.0 1175.8 L391.0 1175.6 L393.0 1175.4 L395.0 1175.3 L397.0 1175.1 L399.0 1174.9 L401.0 1174.7 L403.0 1174.5 L405.0 1174.4 L407.0 1174.2 L409.0 1174.0 L411.0 1173.9 L413.0 1173.7 L414.9 1173.6 L416.9 1173.4 L418.9 1173.3 L420.9 1173.1 L422.9 1173.0 L424.9 1172.9 L426.9 1172.7 L428.9 1172.6 L430.9 1172.5 L432.9 1172.4 L434.9 1172.2 L436.9 1172.1 L438.9 1171.9 L440.9 1171.8 L442.9 1171.6 L444.9 1171.4 L446.9 1171.2 L448.9 1171.0 L450.9 1170.8 L452.8 1170.6 L454.8 1170.4 L456.8 1170.1 L458.8 1169.8 L460.8 1169.4 L462.7 1169.1 L464.7 1168.6 L466.6 1168.2 L468.6 1167.7 L470.5 1167.2 L472.4 1166.6 L474.3 1166.1 L476.2 1165.4 L478.1 1164.8 L480.0 1164.1 L481.9 1163.3 L483.7 1162.6 L485.6 1161.8 L487.4 1161.1 L489.3 1160.4 L491.1 1159.6 L493.0 1158.9 L494.9 1158.1 L496.7 1157.3 L498.5 1156.5 L500.3 1155.7 L502.1 1154.8 L503.9 1153.8 L505.7 1152.9 L507.5 1152.1 L509.3 1151.2 L511.1 1150.3 L512.9 1149.5 L514.7 1148.5 L516.3 1147.5 L517.9 1146.3 L519.4 1145.0 L520.9 1143.6 L522.2 1142.1 L523.5 1140.5 L524.7 1138.9 L525.9 1137.3 L526.9 1135.6 L528.0 1133.9 L528.9 1132.1 L529.9 1130.4 L530.8 1128.6 L531.6 1126.8 L532.4 1124.9 L533.2 1123.1 L534.0 1121.3 L534.7 1119.4 L535.5 1117.5 L536.3 1115.7 L537.1 1113.9 L537.9 1112.0 L538.7 1110.2 L539.4 1108.4 L540.2 1106.5 L541.0 1104.7 L541.8 1102.8 L542.6 1101.0 L543.3 1099.1 L544.1 1097.3 L544.8 1095.4 L545.6 1093.6 L546.4 1091.7 L547.2 1089.9 L548.0 1088.0 L548.9 1086.2 L549.8 1084.3 L550.7 1082.4 L551.8 1080.7 L553.0 1079.2 L554.4 1078.0 L556.1 1077.0 L557.7 1076.6 L559.1 1076.8 L560.3 1077.9 L561.3 1079.6 L562.2 1081.6 L563.1 1083.7 L564.0 1085.6 L564.9 1087.5 L565.9 1089.2 L566.8 1091.0 L567.6 1092.8 L568.5 1094.7 L569.4 1096.6 L570.3 1098.6 L571.3 1100.9 L572.3 1103.2 L573.3 1105.4 L574.1 1107.3 L574.7 1108.7 L575.0 1109.5 L575.0 1109.4 L574.6 1108.4 L573.9 1106.7 L573.0 1104.5 L572.0 1101.9 L571.0 1099.4 L570.1 1097.0 L569.3 1095.1 L568.8 1093.9 L568.7 1093.5 L568.9 1094.1 L569.3 1095.5 L570.0 1097.4 L570.8 1099.7 L571.7 1102.0 L572.6 1104.3 L573.5 1106.5 L574.4 1108.6 L575.2 1110.3 L575.5 1111.1 L575.5 1111.0 L575.5 1110.7 L576.2 1111.2 L577.3 1112.4 L578.5 1114.2 L579.5 1116.0 L580.0 1117.9 L580.4 1119.9 L580.6 1121.9 L580.9 1123.9 L581.1 1126.0 L581.4 1128.0 L581.8 1129.9 L582.3 1131.9 L582.9 1133.8 L583.5 1135.7 L584.2 1137.6 L584.9 1139.5 L585.6 1141.3 L586.4 1143.2 L587.2 1145.0 L588.0 1146.9 L588.9 1148.7 L589.8 1150.4 L590.8 1152.2 L592.0 1153.8 L593.2 1155.4 L594.6 1156.7 L596.2 1157.9 L597.9 1158.9 L599.8 1159.6 L601.7 1160.2 L603.6 1160.7 L605.6 1161.1 L607.6 1161.4 L609.5 1161.7 L611.5 1161.9 L613.5 1162.0 L615.5 1162.1 L617.5 1162.2 L619.5 1162.2 L621.5 1162.2 L623.5 1162.2 L625.5 1162.1 L627.5 1162.1 L629.5 1161.9 L631.5 1161.8 L633.5 1161.5 L635.4 1161.1 L637.4 1160.7 L639.3 1160.1 L641.2 1159.5 L643.1 1158.9 L645.1 1158.3 L647.0 1157.8 L648.9 1157.3 L650.9 1156.8 L652.8 1156.4 L654.8 1155.9 L656.7 1155.5 L658.7 1155.1 L660.7 1154.7 L662.7 1154.2 L665.0 1153.8 L667.3 1153.3 L669.5 1152.9 L671.1 1152.6 L671.7 1152.5 L671.3 1152.6 L669.8 1153.0 L667.5 1153.5 L665.0 1154.1 L662.6 1154.7 L660.8 1155.1 L660.0 1155.3 L660.2 1155.3 L661.3 1155.1 L662.9 1154.8 L665.1 1154.3 L667.5 1153.9 L670.0 1153.4 L672.4 1153.0 L674.6 1152.6 L676.7 1152.2 L678.7 1151.9 L680.7 1151.6 L682.7 1151.3 L684.6 1151.0 L686.6 1150.7 L688.6 1150.5 L690.6 1150.2 L690.6 1150.2 L693.6 1148.5 L696.6 1148.9 L699.7 1150.0 L702.7 1147.5 L705.7 1147.7 L708.7 1146.9 L711.7 1147.3 L714.7 1148.1 L717.7 1146.6 L720.7 1147.1 L723.8 1145.1 L726.8 1147.3 L729.8 1144.6 L732.8 1144.4 L735.8 1145.0 L738.8 1145.7 L741.7 1144.7 L744.7 1144.7 L747.6 1143.2 L750.6 1141.2 L753.5 1140.5 L756.4 1140.5 L759.2 1138.1 L762.1 1139.0 L765.0 1138.3 L767.9 1136.9 L770.8 1135.4 L773.8 1133.5 L776.7 1133.3 L779.7 1132.7 L782.7 1132.3 L785.7 1132.2 L788.7 1132.1 L791.7 1130.8 L794.8 1132.4 L797.8 1132.0 L800.8 1132.1 L803.8 1129.8 L806.8 1130.4 L809.8 1130.0 L812.8 1128.5 L815.7 1128.0 L818.7 1128.5 L821.6 1127.1 L824.5 1127.2 L827.4 1124.9 L830.2 1124.8 L833.0 1123.7 L835.7 1121.2 L837.3 1120.0 L839.0 1118.9 L840.6 1117.7 L842.1 1116.4 L843.7 1115.1 L845.2 1113.8 L846.6 1112.4 L848.1 1111.0 L849.5 1109.6 L850.8 1108.1 L852.1 1106.6 L853.4 1105.1 L854.6 1103.5 L855.9 1101.9 L857.1 1100.3 L858.3 1098.7 L859.5 1097.0 L860.6 1095.3 L861.7 1093.6 L862.7 1091.9 L863.6 1090.1 L864.5 1088.4 L865.3 1086.6 L866.1 1084.8 L866.7 1082.9 L867.4 1081.0 L868.0 1079.1 L868.5 1077.2 L869.1 1075.3 L869.6 1073.3 L870.1 1071.3 L870.7 1069.4 L871.2 1067.5 L871.8 1065.5 L872.3 1063.6 L872.9 1061.7 L873.5 1059.8 L874.0 1057.8 L874.5 1055.9 L875.0 1054.0 L875.5 1052.0 L875.9 1050.1 L876.3 1048.1 L876.7 1046.2 L877.0 1044.2 L877.4 1042.2 L877.7 1040.2 L878.0 1038.3 L878.4 1036.3 L878.7 1034.3 L879.0 1032.3 L879.3 1030.4 L879.6 1028.4 L879.9 1026.4 L880.2 1024.4 L880.5 1022.4 L880.8 1020.5 L881.1 1018.5 L881.4 1016.5 L881.7 1014.5 L882.0 1012.5 L882.3 1010.6 L882.5 1008.6 L882.8 1006.6 L883.1 1004.6 L883.4 1002.7 L883.7 1000.7 L884.0 998.7 L884.3 996.7 L884.6 994.7 L884.9 992.7 L885.1 990.8 L885.4 988.8 L885.7 986.8 L886.0 984.8 L886.3 982.8 L886.5 980.9 L886.8 978.9 L887.1 976.9 L891.0 974.5 L894.9 968.6 L897.8 963.7 L900.8 970.6 L904.7 980.4 L907.6 988.2 L911.6 985.3 L915.5 1002.0 L918.4 1005.9 L922.4 1003.9 L926.3 1011.8 L930.2 1015.7 L934.1 1017.6 L938.0 1015.7 L942.0 1018.6 L945.9 1025.5 L948.8 1021.6 L952.7 1027.5 L957.6 1029.4 L961.6 1031.4 L964.5 1033.3 L967.5 1007.8 L970.4 1017.6 L974.3 1025.5 L977.3 1029.4 L981.2 1031.4 L985.1 1034.3 L989.0 1033.3 L992.9 1029.4 L996.9 1027.5 L1000.8 1025.5 L1004.7 1021.6 L1006.7 998.0 L1008.6 1009.8 L1012.5 1023.5 L1016.5 1019.6 L1020.4 1021.6 L1024.3 1025.5 L1028.2 1023.5 L1032.2 1019.6 L1036.1 1017.6 L1040.0 1019.6 L1043.9 1017.6 L1047.8 1013.7 L1051.8 1008.8 L1055.7 1002.9 L1059.6 998.0 L1063.5 992.2 L1069.4 984.3 L1074.7 980.0 L1079.1 972.0 L1083.5 970.9 L1088.0 963.7 L1092.6 960.4 L1097.1 957.0 L1101.6 949.4 L1106.0 944.3 L1110.2 936.8 L1114.3 932.9 L1118.4 929.4 L1122.4 925.5 L1126.3 921.3 L1130.2 913.9 L1134.0 907.2 L1137.8 903.7 L1141.5 902.7 L1145.1 893.8 L1148.7 890.6 L1152.0 888.8 L1155.3 878.7 L1158.4 877.4 L1161.4 874.9 L1164.4 865.9 L1167.3 863.3 L1170.2 861.0 L1173.2 852.0 L1176.2 850.2 L1179.3 847.4 L1182.4 842.9 L1185.4 837.8 L1188.3 832.3 L1191.2 830.2 L1193.8 825.6 L1196.3 822.4 L1198.6 818.0 L1200.8 817.0 L1202.9 812.8 L1204.9 806.4 L1205.8 806.7"/>
<path class="c" stroke="#e8302f" d="M97.5 1185.6 L99.5 1185.6 L101.5 1185.6 L103.5 1185.6 L105.5 1185.6 L107.5 1185.6 L109.5 1185.6 L111.5 1185.6 L113.5 1185.6 L115.5 1185.6 L117.5 1185.6 L119.5 1185.6 L121.5 1185.6 L123.5 1185.6 L125.5 1185.6 L127.5 1185.6 L129.5 1185.6 L131.5 1185.6 L133.5 1185.6 L135.5 1185.6 L137.5 1185.6 L139.5 1185.6 L141.5 1185.6 L143.5 1185.6 L145.5 1185.6 L147.5 1185.6 L149.5 1185.6 L151.5 1185.6 L153.5 1185.6 L155.5 1185.6 L157.5 1185.6 L159.5 1185.6 L161.5 1185.6 L163.5 1185.6 L165.5 1185.6 L167.5 1185.6 L169.5 1185.6 L171.5 1185.6 L173.5 1185.6 L175.5 1185.6 L177.5 1185.6 L179.5 1185.6 L181.5 1185.6 L183.5 1185.6 L185.5 1185.6 L187.5 1185.6 L189.5 1185.6 L191.5 1185.6 L193.5 1185.6 L195.5 1185.6 L197.5 1185.6 L199.5 1185.6 L201.5 1185.6 L203.5 1185.6 L205.5 1185.6 L207.5 1185.6 L209.5 1185.6 L211.5 1185.6 L213.5 1185.6 L215.5 1185.6 L217.5 1185.6 L219.5 1185.5 L221.5 1185.5 L223.5 1185.5 L225.5 1185.5 L227.5 1185.5 L229.5 1185.5 L231.5 1185.5 L233.5 1185.5 L235.5 1185.4 L237.5 1185.4 L239.5 1185.4 L241.5 1185.4 L243.5 1185.4 L245.5 1185.3 L247.5 1185.3 L249.5 1185.3 L251.5 1185.3 L253.5 1185.3 L255.5 1185.2 L257.5 1185.2 L259.5 1185.2 L261.5 1185.2 L263.5 1185.2 L265.5 1185.1 L267.5 1185.1 L269.5 1185.0 L271.5 1185.0 L273.5 1185.0 L275.5 1184.9 L277.5 1184.9 L279.5 1184.8 L281.5 1184.8 L283.5 1184.7 L285.5 1184.6 L287.5 1184.6 L289.5 1184.5 L291.5 1184.5 L293.5 1184.4 L295.5 1184.3 L297.5 1184.3 L299.5 1184.2 L301.5 1184.2 L303.5 1184.1 L305.5 1184.0 L307.5 1184.0 L309.5 1183.9 L311.5 1183.9 L313.5 1183.8 L315.5 1183.8 L317.5 1183.7 L319.5 1183.6 L321.6 1183.6 L323.6 1183.5 L325.6 1183.4 L327.6 1183.3 L329.5 1183.3 L331.5 1183.2 L333.5 1183.1 L335.5 1183.0 L337.5 1182.8 L339.5 1182.7 L341.5 1182.5 L343.5 1182.3 L345.5 1182.1 L347.4 1181.8 L349.4 1181.5 L351.4 1181.2 L353.4 1180.8 L355.4 1180.5 L357.3 1180.2 L359.3 1179.9 L361.3 1179.5 L363.3 1179.2 L365.2 1178.9 L367.2 1178.6 L369.2 1178.3 L371.2 1178.0 L373.2 1177.7 L375.1 1177.4 L377.1 1177.2 L379.1 1176.9 L381.1 1176.7 L383.1 1176.5 L385.1 1176.2 L387.0 1176.0 L389.0 1175.8 L391.0 1175.6 L393.0 1175.4 L395.0 1175.3 L397.0 1175.1 L399.0 1174.9 L401.0 1174.7 L403.0 1174.5 L405.0 1174.4 L407.0 1174.2 L409.0 1174.0 L411.0 1173.9 L413.0 1173.7 L414.9 1173.6 L416.9 1173.4 L418.9 1173.3 L420.9 1173.1 L422.9 1173.0 L424.9 1172.9 L426.9 1172.7 L428.9 1172.6 L430.9 1172.5 L432.9 1172.4 L434.9 1172.2 L436.9 1172.1 L438.9 1171.9 L440.9 1171.8 L442.9 1171.6 L444.9 1171.4 L446.9 1171.2 L448.9 1171.0 L450.9 1170.8 L452.8 1170.6 L454.8 1170.4 L456.8 1170.1 L458.8 1169.8 L460.8 1169.4 L462.7 1169.1 L464.7 1168.6 L466.6 1168.2 L468.6 1167.7 L470.5 1167.2 L472.4 1166.6 L474.3 1166.1 L476.2 1165.4 L478.1 1164.8 L480.0 1164.1 L481.9 1163.3 L483.7 1162.6 L485.6 1161.8 L487.4 1161.1 L489.3 1160.4 L491.1 1159.6 L493.0 1158.9 L494.9 1158.1 L496.7 1157.3 L498.5 1156.5 L500.3 1155.7 L502.1 1154.8 L503.9 1153.8 L505.7 1152.9 L507.5 1152.1 L509.3 1151.2 L511.1 1150.3 L512.9 1149.5 L514.7 1148.5 L516.3 1147.5 L517.9 1146.3 L519.4 1145.0 L520.9 1143.6 L522.2 1142.1 L523.5 1140.5 L524.7 1138.9 L525.9 1137.3 L526.9 1135.6 L528.0 1133.9 L528.9 1132.1 L529.9 1130.4 L530.8 1128.6 L531.6 1126.8 L532.4 1124.9 L533.2 1123.1 L534.0 1121.3 L534.7 1119.4 L535.5 1117.5 L536.3 1115.7 L537.1 1113.9 L537.9 1112.0 L538.7 1110.2 L539.4 1108.4 L540.2 1106.5 L541.0 1104.7 L541.8 1102.8 L542.6 1101.0 L543.3 1099.1 L544.1 1097.3 L544.8 1095.4 L545.6 1093.6 L546.4 1091.7 L547.2 1089.9 L548.0 1088.0 L548.9 1086.2 L549.8 1084.3 L550.7 1082.4 L551.8 1080.7 L553.0 1079.2 L554.4 1078.0 L556.1 1077.0 L557.7 1076.6 L559.1 1076.8 L560.3 1077.9 L561.3 1079.6 L562.2 1081.6 L563.1 1083.7 L564.0 1085.6 L564.9 1087.5 L565.9 1089.2 L566.8 1091.0 L567.6 1092.8 L568.5 1094.7 L569.4 1096.6 L570.3 1098.6 L571.3 1100.9 L572.3 1103.2 L573.3 1105.4 L574.1 1107.3 L574.7 1108.7 L575.0 1109.5 L575.0 1109.4 L574.6 1108.4 L573.9 1106.7 L573.0 1104.5 L572.0 1101.9 L571.0 1099.4 L570.1 1097.0 L569.3 1095.1 L568.8 1093.9 L568.7 1093.5 L568.9 1094.1 L569.3 1095.5 L570.0 1097.4 L570.8 1099.7 L571.7 1102.0 L572.6 1104.3 L573.5 1106.5 L574.4 1108.6 L575.2 1110.3 L575.5 1111.1 L575.5 1111.0 L575.5 1110.7 L576.2 1111.2 L577.3 1112.4 L578.5 1114.2 L579.5 1116.0 L580.0 1117.9 L580.4 1119.9 L580.6 1121.9 L580.9 1123.9 L581.1 1126.0 L581.4 1128.0 L581.8 1129.9 L582.3 1131.9 L582.9 1133.8 L583.5 1135.7 L584.2 1137.6 L584.9 1139.5 L585.6 1141.3 L586.4 1143.2 L587.2 1145.0 L588.0 1146.9 L588.9 1148.7 L589.8 1150.4 L590.8 1152.2 L592.0 1153.8 L593.2 1155.4 L594.6 1156.7 L596.2 1157.9 L597.9 1158.9 L599.8 1159.6 L601.7 1160.2 L603.6 1160.7 L605.6 1161.1 L607.6 1161.4 L609.5 1161.7 L611.5 1161.9 L613.5 1162.0 L615.5 1162.1 L617.5 1162.2 L619.5 1162.2 L621.5 1162.2 L623.5 1162.2 L625.5 1162.1 L627.5 1162.1 L629.5 1161.9 L631.5 1161.8 L633.5 1161.5 L635.4 1161.1 L637.4 1160.7 L639.3 1160.1 L641.2 1159.5 L643.1 1158.9 L645.1 1158.3 L647.0 1157.8 L648.9 1157.3 L650.9 1156.8 L652.8 1156.4 L654.8 1155.9 L656.7 1155.5 L658.7 1155.1 L660.7 1154.7 L662.7 1154.2 L665.0 1153.8 L667.3 1153.3 L669.5 1152.9 L671.1 1152.6 L671.7 1152.5 L671.3 1152.6 L669.8 1153.0 L667.5 1153.5 L665.0 1154.1 L662.6 1154.7 L660.8 1155.1 L660.0 1155.3 L660.2 1155.3 L661.3 1155.1 L662.9 1154.8 L665.1 1154.3 L667.5 1153.9 L670.0 1153.4 L672.4 1153.0 L674.6 1152.6 L676.7 1152.2 L678.7 1151.9 L680.7 1151.6 L682.7 1151.3 L684.6 1151.0 L686.6 1150.7 L688.6 1150.5 L690.6 1150.2 L690.6 1150.2 L693.6 1148.5 L696.6 1148.9 L699.7 1150.0 L702.7 1147.5 L705.7 1147.7 L708.7 1146.9 L711.7 1147.3 L714.7 1148.1 L717.7 1146.6 L720.7 1147.1 L723.8 1145.1 L726.8 1147.3 L729.8 1144.6 L732.8 1144.4 L735.8 1145.0 L738.8 1145.7 L741.7 1144.7 L744.7 1144.7 L747.6 1143.2 L750.6 1141.2 L753.5 1140.5 L756.4 1140.5 L759.2 1138.1 L762.1 1139.0 L765.0 1138.3 L767.9 1136.9 L770.8 1135.4 L773.8 1133.5 L776.7 1133.3 L779.7 1132.7 L782.7 1132.3 L785.7 1132.2 L788.7 1132.1 L791.7 1130.8 L794.8 1132.4 L797.8 1132.0 L800.8 1132.1 L803.8 1129.8 L806.8 1130.4 L809.8 1130.0 L812.8 1128.5 L815.7 1128.0 L818.7 1128.5 L821.6 1127.1 L824.5 1127.2 L827.4 1124.9 L830.2 1124.8 L833.0 1123.7 L835.7 1121.2 L837.3 1120.0 L839.0 1118.9 L840.6 1117.7 L842.1 1116.4 L843.7 1115.1 L845.2 1113.8 L846.6 1112.4 L848.1 1111.0 L849.5 1109.6 L850.8 1108.1 L852.1 1106.6 L853.4 1105.1 L854.6 1103.5 L855.9 1101.9 L857.1 1100.3 L858.3 1098.7 L859.5 1097.0 L860.6 1095.3 L861.7 1093.6 L862.7 1091.9 L863.6 1090.1 L864.5 1088.4 L865.3 1086.6 L866.1 1084.8 L866.7 1082.9 L867.4 1081.0 L868.0 1079.1 L868.5 1077.2 L869.1 1075.3 L869.6 1073.3 L870.1 1071.3 L870.7 1069.4 L871.2 1067.5 L871.8 1065.5 L872.3 1063.6 L872.9 1061.7 L873.5 1059.8 L874.0 1057.8 L874.5 1055.9 L875.0 1054.0 L875.5 1052.0 L875.9 1050.1 L876.3 1048.1 L876.7 1046.2 L877.0 1044.2 L877.4 1042.2 L877.7 1040.2 L878.0 1038.3 L878.4 1036.3 L878.7 1034.3 L879.0 1032.3 L879.3 1030.4 L879.6 1028.4 L879.9 1026.4 L880.2 1024.4 L880.5 1022.4 L880.8 1020.5 L881.1 1018.5 L881.4 1016.5 L881.7 1014.5 L882.0 1012.5 L882.3 1010.6 L882.5 1008.6 L882.8 1006.6 L883.1 1004.6 L883.4 1002.7 L883.7 1000.7 L884.0 998.7 L884.3 996.7 L884.6 994.7 L884.9 992.7 L885.1 990.8 L885.4 988.8 L885.7 986.8 L886.0 984.8 L886.3 982.8 L886.5 980.9 L886.8 978.9 L887.1 976.9 L891.0 974.5 L894.9 968.6 L897.8 963.7 L900.8 970.6 L904.7 980.4 L907.6 988.2 L911.6 985.3 L915.5 1002.0 L918.4 1005.9 L922.4 1003.9 L926.3 1011.8 L930.2 1015.7 L934.1 1017.6 L938.0 1015.7 L942.0 1018.6 L945.9 1025.5 L948.8 1021.6 L952.7 1027.5 L957.6 1029.4 L961.6 1031.4 L964.5 1033.3 L967.5 1007.8 L970.4 1017.6 L974.3 1025.5 L977.3 1029.4 L981.2 1031.4 L985.1 1034.3 L989.0 1033.3 L992.9 1029.4 L996.9 1027.5 L1000.8 1025.5 L1004.7 1021.6 L1006.7 998.0 L1008.6 1009.8 L1012.5 1023.5 L1016.5 1019.6 L1020.4 1021.6 L1024.3 1025.5 L1028.2 1023.5 L1032.2 1019.6 L1036.1 1017.6 L1040.0 1019.6 L1043.9 1017.6 L1047.8 1013.7 L1051.8 1008.8 L1055.7 1002.9 L1059.6 998.0 L1063.5 992.2 L1069.4 984.3 L1074.7 980.0 L1079.1 972.0 L1083.5 970.9 L1088.0 963.7 L1092.6 960.4 L1097.1 957.0 L1101.6 949.4 L1106.0 944.3 L1110.2 936.8 L1114.3 932.9 L1118.4 929.4 L1122.4 925.5 L1126.3 921.3 L1130.2 913.9 L1134.0 907.2 L1137.8 903.7 L1141.5 902.7 L1145.1 893.8 L1148.7 890.6 L1152.0 888.8 L1155.3 878.7 L1158.4 877.4 L1161.4 874.9 L1164.4 865.9 L1167.3 863.3 L1170.2 861.0 L1173.2 852.0 L1176.2 850.2 L1179.3 847.4 L1182.4 842.9 L1185.4 837.8 L1188.3 832.3 L1191.2 830.2 L1193.8 825.6 L1196.3 822.4 L1198.6 818.0 L1200.8 817.0 L1202.9 812.8 L1204.9 806.4 L1205.8 806.7"/>
<path class="h d" stroke="#e8302f" d="M97.5 1185.6 L99.5 1185.6 L101.5 1185.6 L103.5 1185.6 L105.5 1185.6 L107.5 1185.6 L109.5 1185.6 L111.5 1185.6 L113.5 1185.6 L115.6 1185.6 L117.6 1185.6 L119.6 1185.6 L121.6 1185.6 L123.6 1185.6 L125.6 1185.6 L127.6 1185.6 L129.6 1185.6 L131.6 1185.6 L133.6 1185.6 L135.6 1185.6 L137.6 1185.6 L139.6 1185.6 L141.6 1185.6 L143.6 1185.6 L145.6 1185.6 L147.6 1185.6 L149.7 1185.6 L151.7 1185.6 L153.7 1185.6 L155.7 1185.6 L157.7 1185.6 L159.7 1185.6 L161.7 1185.6 L163.7 1185.6 L165.7 1185.6 L167.7 1185.6 L169.7 1185.6 L171.7 1185.6 L173.7 1185.6 L175.7 1185.6 L177.7 1185.6 L179.7 1185.6 L181.7 1185.6 L183.8 1185.6 L185.8 1185.6 L187.8 1185.6 L189.8 1185.6 L191.8 1185.6 L193.8 1185.6 L195.8 1185.6 L197.8 1185.6 L199.8 1185.6 L201.8 1185.6 L203.8 1185.6 L205.8 1185.6 L207.8 1185.6 L209.8 1185.6 L211.8 1185.6 L213.8 1185.6 L215.8 1185.6 L217.9 1185.6 L219.9 1185.5 L221.9 1185.5 L223.9 1185.5 L225.9 1185.5 L227.9 1185.5 L229.9 1185.5 L231.9 1185.5 L233.9 1185.5 L235.9 1185.4 L237.9 1185.4 L239.9 1185.4 L241.9 1185.4 L243.9 1185.4 L245.9 1185.3 L247.9 1185.3 L249.9 1185.3 L252.0 1185.3 L254.0 1185.3 L256.0 1185.2 L258.0 1185.2 L260.0 1185.2 L262.0 1185.2 L264.0 1185.1 L266.0 1185.1 L268.0 1185.1 L270.0 1185.0 L272.0 1185.0 L274.0 1184.9 L276.0 1184.9 L278.0 1184.8 L280.0 1184.8 L282.0 1184.7 L284.0 1184.7 L286.0 1184.6 L288.1 1184.6 L290.1 1184.5 L292.1 1184.4 L294.1 1184.4 L296.1 1184.3 L298.1 1184.3 L300.1 1184.2 L302.1 1184.1 L304.1 1184.1 L306.1 1184.0 L308.1 1184.0 L310.1 1183.9 L312.1 1183.9 L314.1 1183.8 L316.1 1183.7 L318.1 1183.7 L320.2 1183.6 L322.2 1183.5 L324.2 1183.5 L326.2 1183.4 L328.2 1183.3 L330.2 1183.2 L332.2 1183.1 L334.2 1183.0 L336.2 1182.9 L338.2 1182.8 L340.2 1182.7 L342.2 1182.5 L344.1 1182.3 L346.1 1182.0 L348.1 1181.7 L350.1 1181.4 L352.1 1181.1 L354.1 1180.7 L356.0 1180.4 L358.0 1180.1 L360.0 1179.7 L362.0 1179.4 L364.0 1179.1 L366.0 1178.8 L367.9 1178.5 L369.9 1178.2 L371.9 1177.9 L373.9 1177.6 L375.9 1177.3 L377.9 1177.1 L379.9 1176.8 L381.9 1176.6 L383.8 1176.4 L385.8 1176.2 L387.8 1175.9 L389.8 1175.7 L391.8 1175.6 L393.8 1175.4 L395.8 1175.2 L397.8 1175.0 L399.8 1174.8 L401.8 1174.6 L403.8 1174.5 L405.8 1174.3 L407.8 1174.1 L409.8 1174.0 L411.8 1173.8 L413.8 1173.6 L415.8 1173.5 L417.8 1173.3 L419.8 1173.2 L421.8 1173.1 L423.8 1172.9 L425.8 1172.8 L427.8 1172.7 L429.8 1172.6 L431.8 1172.4 L433.8 1172.3 L435.8 1172.2 L437.8 1172.0 L439.8 1171.8 L441.8 1171.7 L443.8 1171.5 L445.8 1171.3 L447.8 1171.1 L449.8 1170.9 L451.8 1170.7 L453.8 1170.5 L455.8 1170.2 L457.8 1169.9 L459.8 1169.6 L461.7 1169.3 L463.7 1168.9 L465.7 1168.4 L467.6 1168.0 L469.5 1167.5 L471.5 1166.9 L473.4 1166.3 L475.3 1165.7 L477.2 1165.1 L479.1 1164.4 L481.0 1163.7 L482.8 1163.0 L484.7 1162.2 L486.6 1161.4 L488.4 1160.7 L490.3 1160.0 L492.2 1159.2 L494.0 1158.5 L495.9 1157.7 L497.7 1156.9 L499.5 1156.0 L501.3 1155.2 L503.1 1154.2 L504.9 1153.3 L506.7 1152.4 L508.5 1151.6 L510.3 1150.7 L512.2 1149.8 L514.0 1148.9 L515.6 1147.9 L517.3 1146.8 L518.8 1145.5 L520.3 1144.2 L521.7 1142.7 L523.0 1141.2 L524.2 1139.6 L525.4 1138.0 L526.5 1136.3 L527.6 1134.6 L528.6 1132.8 L529.5 1131.1 L530.4 1129.3 L531.3 1127.5 L532.1 1125.7 L532.9 1123.8 L533.7 1122.0 L534.4 1120.1 L535.2 1118.2 L536.0 1116.4 L536.8 1114.5 L537.6 1112.7 L538.4 1110.9 L539.2 1109.0 L540.0 1107.2 L540.8 1105.3 L541.5 1103.5 L542.3 1101.6 L543.1 1099.8 L543.8 1097.9 L544.5 1096.1 L545.3 1094.2 L546.0 1092.3 L546.7 1090.4 L547.4 1088.6 L548.1 1086.7 L548.8 1084.8 L549.4 1082.9 L550.0 1080.9 L550.7 1079.0 L551.3 1077.1 L552.0 1075.2 L552.7 1073.4 L553.5 1071.6 L554.4 1069.8 L555.3 1068.0 L556.3 1066.3 L557.4 1064.6 L558.5 1062.9 L559.6 1061.2 L565.2 1057.3 L571.7 1065.5 L577.2 1080.8 L583.2 1092.8 L585.4 1095.0 L587.0 1070.9 L588.1 1033.8 L588.7 990.0 L590.4 836.9 L591.8 779.6 L593.3 836.9 L595.2 990.0 L595.8 1061.1 L596.9 1088.5 L597.2 1090.5 L597.5 1092.6 L597.9 1094.5 L598.4 1096.5 L598.9 1098.4 L599.6 1100.3 L600.3 1102.2 L601.2 1104.1 L602.2 1105.9 L603.4 1107.4 L604.9 1108.5 L606.6 1109.3 L608.5 1109.8 L610.4 1110.0 L612.4 1109.8 L614.2 1109.3 L616.1 1108.4 L617.9 1107.5 L619.7 1106.6 L621.6 1105.8 L623.5 1105.2 L625.5 1104.7 L627.4 1104.5 L629.4 1104.6 L631.4 1104.8 L633.4 1105.3 L635.3 1105.8 L637.2 1106.5 L639.0 1107.3 L640.7 1108.3 L642.4 1109.4 L644.0 1110.7 L645.5 1112.0 L646.9 1113.4 L648.3 1114.8 L649.7 1116.3 L651.1 1117.8 L652.5 1119.1 L654.1 1120.4 L655.7 1121.6 L657.3 1122.8 L659.0 1123.9 L660.7 1125.0 L662.4 1126.0 L664.2 1126.9 L666.0 1127.8 L667.8 1128.7 L669.6 1129.4 L671.5 1130.1 L673.4 1130.8 L675.3 1131.4 L677.3 1131.9 L679.2 1132.3 L681.2 1132.7 L683.2 1132.9 L685.2 1133.0 L687.2 1133.1 L689.2 1133.2 L691.2 1133.2 L693.2 1133.3 L695.2 1133.2 L697.2 1133.0 L699.2 1132.7 L701.1 1132.3 L703.1 1131.8 L705.0 1131.3 L707.0 1130.8 L708.9 1130.2 L710.8 1129.6 L712.7 1129.0 L714.6 1128.3 L716.5 1127.6 L718.4 1126.9 L720.2 1126.2 L722.1 1125.5 L723.9 1124.7 L725.8 1123.9 L727.6 1123.1 L729.5 1122.3 L731.3 1121.6 L733.2 1120.8 L735.0 1120.0 L736.9 1119.2 L738.7 1118.4 L740.6 1117.7 L742.5 1117.0 L744.3 1116.3 L746.2 1115.7 L748.1 1115.0 L750.0 1114.4 L751.9 1113.8 L753.8 1113.1 L755.7 1112.5 L757.7 1111.9 L759.6 1111.3 L761.5 1110.6 L763.4 1110.0 L765.2 1109.3 L767.1 1108.6 L769.0 1107.9 L770.8 1107.1 L772.7 1106.3 L774.5 1105.5 L776.4 1104.7 L778.2 1104.0 L780.1 1103.2 L781.9 1102.4 L783.8 1101.7 L785.6 1100.9 L787.5 1100.1 L789.3 1099.3 L791.1 1098.4 L792.9 1097.5 L794.7 1096.7 L796.5 1095.7 L798.3 1094.8 L800.0 1093.9 L801.8 1092.9 L803.5 1091.9 L805.3 1091.0 L807.0 1089.9 L808.7 1088.9 L810.5 1087.9 L812.2 1086.9 L813.9 1085.9 L815.7 1084.9 L817.4 1083.9 L819.1 1082.9 L820.8 1081.8 L822.6 1080.8 L824.3 1079.8 L826.0 1078.7 L827.7 1077.6 L829.4 1076.6 L831.1 1075.5 L832.8 1074.5 L834.6 1073.6 L836.4 1072.7 L838.2 1071.8 L840.1 1071.1 L842.0 1070.4 L843.9 1069.9 L845.9 1069.5 L847.8 1069.4 L849.8 1069.5 L851.8 1069.7 L853.8 1069.9 L855.7 1069.8 L857.5 1069.4 L859.3 1068.5 L861.1 1067.4 L862.8 1066.2 L864.4 1065.1 L866.1 1063.9 L867.6 1062.6 L869.2 1061.4 L870.8 1060.2 L872.4 1058.9 L874.0 1057.8 L875.7 1056.6 L877.4 1055.5 L879.2 1054.4 L880.9 1053.3 L882.7 1052.4 L884.6 1051.7 L886.5 1051.3 L888.4 1051.2 L890.4 1051.3 L892.3 1051.6 L894.3 1052.0 L896.2 1052.5 L898.1 1053.1 L900.0 1053.8 L901.9 1054.5 L903.8 1055.2 L905.7 1055.9 L907.6 1056.5 L909.5 1057.2 L911.4 1057.8 L913.3 1058.4 L915.2 1059.0 L917.1 1059.7 L919.0 1060.3 L920.9 1061.0 L922.8 1061.6 L924.7 1062.2 L926.6 1062.8 L928.5 1063.4 L930.5 1063.9 L932.4 1064.5 L934.4 1065.0 L936.3 1065.4 L938.3 1065.7 L940.3 1066.0 L942.2 1066.2 L944.2 1066.4 L946.2 1066.5 L948.3 1066.6 L950.3 1066.7 L952.3 1066.7 L954.3 1066.7 L956.3 1066.7 L958.3 1066.7 L960.3 1066.7 L962.3 1066.6 L964.2 1066.3 L966.2 1065.9 L968.1 1065.4 L970.1 1064.8 L972.0 1064.1 L973.9 1063.5 L975.8 1062.8 L977.6 1062.1 L979.5 1061.3 L981.3 1060.5 L983.2 1059.7 L985.0 1058.8 L986.8 1057.9 L988.5 1057.0 L990.3 1056.0 L992.0 1055.0 L993.7 1054.0 L995.4 1052.9 L997.1 1051.8 L998.8 1050.8 L1000.5 1049.7 L1002.2 1048.6 L1003.8 1047.4 L1005.5 1046.3 L1007.1 1045.1 L1008.8 1044.0 L1010.4 1042.8 L1012.0 1041.6 L1013.6 1040.4 L1015.2 1039.2 L1016.8 1038.0 L1018.4 1036.8 L1020.0 1035.6 L1021.6 1034.4 L1023.2 1033.2 L1024.8 1032.0 L1026.4 1030.8 L1028.0 1029.6 L1029.6 1028.4 L1031.2 1027.2 L1032.8 1026.0 L1034.4 1024.8 L1036.0 1023.6 L1037.6 1022.4 L1039.2 1021.2 L1040.8 1019.9 L1042.4 1018.7 L1044.0 1017.5 L1045.6 1016.3 L1047.3 1015.1 L1048.9 1014.0 L1050.5 1012.8 L1052.1 1011.6 L1053.7 1010.4 L1055.3 1009.1 L1056.8 1007.9 L1058.4 1006.6 L1059.9 1005.3 L1061.4 1003.9 L1062.9 1002.6 L1064.3 1001.2 L1065.7 999.8 L1067.1 998.3 L1068.4 996.8 L1069.7 995.3 L1070.9 993.7 L1072.2 992.1 L1073.4 990.5 L1074.7 989.0 L1076.0 987.5 L1077.4 986.1 L1078.8 984.6 L1080.2 983.2 L1081.7 981.8 L1083.1 980.4 L1084.5 979.0 L1086.0 977.6 L1087.4 976.2 L1088.8 974.8 L1090.3 973.4 L1091.7 972.0 L1093.1 970.6 L1094.5 969.2 L1095.9 967.7 L1097.3 966.2 L1098.6 964.8 L1099.9 963.2 L1101.2 961.7 L1102.5 960.2 L1103.8 958.6 L1105.1 957.1 L1106.3 955.5 L1107.5 953.9 L1108.7 952.3 L1109.9 950.7 L1111.1 949.1 L1112.2 947.4 L1113.3 945.8 L1114.5 944.1 L1115.6 942.5 L1116.8 940.8 L1118.0 939.2 L1119.2 937.6 L1120.4 936.1 L1121.7 934.5 L1123.0 933.0 L1124.3 931.5 L1125.6 930.0 L1126.9 928.4 L1128.2 926.9 L1129.4 925.3 L1130.7 923.7 L1131.9 922.1 L1133.1 920.5 L1134.2 918.9 L1135.4 917.3 L1136.6 915.6 L1137.7 914.0 L1138.9 912.3 L1140.0 910.7 L1141.1 909.0 L1142.2 907.3 L1143.2 905.6 L1144.3 903.9 L1145.4 902.2 L1146.4 900.5 L1147.5 898.8 L1148.5 897.1 L1149.5 895.4 L1150.6 893.7 L1151.6 892.0 L1152.7 890.3 L1153.7 888.6 L1154.8 886.8 L1155.8 885.1 L1156.9 883.4 L1157.9 881.7 L1159.0 880.0 L1160.1 878.3 L1161.2 876.6 L1162.3 875.0 L1163.4 873.3 L1164.6 871.7 L1165.7 870.1 L1166.9 868.5 L1168.1 866.8 L1169.3 865.2 L1170.5 863.6 L1171.7 862.0 L1172.8 860.3 L1173.9 858.7 L1175.0 857.0 L1176.1 855.3 L1177.2 853.6 L1178.2 851.9 L1179.3 850.2 L1180.3 848.5 L1181.4 846.8 L1182.4 845.1 L1183.4 843.3 L1184.4 841.6 L1185.4 839.9 L1186.4 838.1 L1187.4 836.4 L1188.4 834.6 L1189.4 832.9 L1190.3 831.1 L1191.3 829.4 L1192.3 827.6 L1193.2 825.9 L1194.2 824.1 L1195.2 822.3 L1196.1 820.6 L1197.1 818.8 L1198.1 817.1 L1199.1 815.3 L1200.0 813.6 L1201.0 811.8 L1202.0 810.1 L1203.0 808.3 L1203.9 806.6 L1204.9 804.8 L1205.9 803.1"/>
<path class="c d" stroke="#e8302f" d="M97.5 1185.6 L99.5 1185.6 L101.5 1185.6 L103.5 1185.6 L105.5 1185.6 L107.5 1185.6 L109.5 1185.6 L111.5 1185.6 L113.5 1185.6 L115.6 1185.6 L117.6 1185.6 L119.6 1185.6 L121.6 1185.6 L123.6 1185.6 L125.6 1185.6 L127.6 1185.6 L129.6 1185.6 L131.6 1185.6 L133.6 1185.6 L135.6 1185.6 L137.6 1185.6 L139.6 1185.6 L141.6 1185.6 L143.6 1185.6 L145.6 1185.6 L147.6 1185.6 L149.7 1185.6 L151.7 1185.6 L153.7 1185.6 L155.7 1185.6 L157.7 1185.6 L159.7 1185.6 L161.7 1185.6 L163.7 1185.6 L165.7 1185.6 L167.7 1185.6 L169.7 1185.6 L171.7 1185.6 L173.7 1185.6 L175.7 1185.6 L177.7 1185.6 L179.7 1185.6 L181.7 1185.6 L183.8 1185.6 L185.8 1185.6 L187.8 1185.6 L189.8 1185.6 L191.8 1185.6 L193.8 1185.6 L195.8 1185.6 L197.8 1185.6 L199.8 1185.6 L201.8 1185.6 L203.8 1185.6 L205.8 1185.6 L207.8 1185.6 L209.8 1185.6 L211.8 1185.6 L213.8 1185.6 L215.8 1185.6 L217.9 1185.6 L219.9 1185.5 L221.9 1185.5 L223.9 1185.5 L225.9 1185.5 L227.9 1185.5 L229.9 1185.5 L231.9 1185.5 L233.9 1185.5 L235.9 1185.4 L237.9 1185.4 L239.9 1185.4 L241.9 1185.4 L243.9 1185.4 L245.9 1185.3 L247.9 1185.3 L249.9 1185.3 L252.0 1185.3 L254.0 1185.3 L256.0 1185.2 L258.0 1185.2 L260.0 1185.2 L262.0 1185.2 L264.0 1185.1 L266.0 1185.1 L268.0 1185.1 L270.0 1185.0 L272.0 1185.0 L274.0 1184.9 L276.0 1184.9 L278.0 1184.8 L280.0 1184.8 L282.0 1184.7 L284.0 1184.7 L286.0 1184.6 L288.1 1184.6 L290.1 1184.5 L292.1 1184.4 L294.1 1184.4 L296.1 1184.3 L298.1 1184.3 L300.1 1184.2 L302.1 1184.1 L304.1 1184.1 L306.1 1184.0 L308.1 1184.0 L310.1 1183.9 L312.1 1183.9 L314.1 1183.8 L316.1 1183.7 L318.1 1183.7 L320.2 1183.6 L322.2 1183.5 L324.2 1183.5 L326.2 1183.4 L328.2 1183.3 L330.2 1183.2 L332.2 1183.1 L334.2 1183.0 L336.2 1182.9 L338.2 1182.8 L340.2 1182.7 L342.2 1182.5 L344.1 1182.3 L346.1 1182.0 L348.1 1181.7 L350.1 1181.4 L352.1 1181.1 L354.1 1180.7 L356.0 1180.4 L358.0 1180.1 L360.0 1179.7 L362.0 1179.4 L364.0 1179.1 L366.0 1178.8 L367.9 1178.5 L369.9 1178.2 L371.9 1177.9 L373.9 1177.6 L375.9 1177.3 L377.9 1177.1 L379.9 1176.8 L381.9 1176.6 L383.8 1176.4 L385.8 1176.2 L387.8 1175.9 L389.8 1175.7 L391.8 1175.6 L393.8 1175.4 L395.8 1175.2 L397.8 1175.0 L399.8 1174.8 L401.8 1174.6 L403.8 1174.5 L405.8 1174.3 L407.8 1174.1 L409.8 1174.0 L411.8 1173.8 L413.8 1173.6 L415.8 1173.5 L417.8 1173.3 L419.8 1173.2 L421.8 1173.1 L423.8 1172.9 L425.8 1172.8 L427.8 1172.7 L429.8 1172.6 L431.8 1172.4 L433.8 1172.3 L435.8 1172.2 L437.8 1172.0 L439.8 1171.8 L441.8 1171.7 L443.8 1171.5 L445.8 1171.3 L447.8 1171.1 L449.8 1170.9 L451.8 1170.7 L453.8 1170.5 L455.8 1170.2 L457.8 1169.9 L459.8 1169.6 L461.7 1169.3 L463.7 1168.9 L465.7 1168.4 L467.6 1168.0 L469.5 1167.5 L471.5 1166.9 L473.4 1166.3 L475.3 1165.7 L477.2 1165.1 L479.1 1164.4 L481.0 1163.7 L482.8 1163.0 L484.7 1162.2 L486.6 1161.4 L488.4 1160.7 L490.3 1160.0 L492.2 1159.2 L494.0 1158.5 L495.9 1157.7 L497.7 1156.9 L499.5 1156.0 L501.3 1155.2 L503.1 1154.2 L504.9 1153.3 L506.7 1152.4 L508.5 1151.6 L510.3 1150.7 L512.2 1149.8 L514.0 1148.9 L515.6 1147.9 L517.3 1146.8 L518.8 1145.5 L520.3 1144.2 L521.7 1142.7 L523.0 1141.2 L524.2 1139.6 L525.4 1138.0 L526.5 1136.3 L527.6 1134.6 L528.6 1132.8 L529.5 1131.1 L530.4 1129.3 L531.3 1127.5 L532.1 1125.7 L532.9 1123.8 L533.7 1122.0 L534.4 1120.1 L535.2 1118.2 L536.0 1116.4 L536.8 1114.5 L537.6 1112.7 L538.4 1110.9 L539.2 1109.0 L540.0 1107.2 L540.8 1105.3 L541.5 1103.5 L542.3 1101.6 L543.1 1099.8 L543.8 1097.9 L544.5 1096.1 L545.3 1094.2 L546.0 1092.3 L546.7 1090.4 L547.4 1088.6 L548.1 1086.7 L548.8 1084.8 L549.4 1082.9 L550.0 1080.9 L550.7 1079.0 L551.3 1077.1 L552.0 1075.2 L552.7 1073.4 L553.5 1071.6 L554.4 1069.8 L555.3 1068.0 L556.3 1066.3 L557.4 1064.6 L558.5 1062.9 L559.6 1061.2 L565.2 1057.3 L571.7 1065.5 L577.2 1080.8 L583.2 1092.8 L585.4 1095.0 L587.0 1070.9 L588.1 1033.8 L588.7 990.0 L590.4 836.9 L591.8 779.6 L593.3 836.9 L595.2 990.0 L595.8 1061.1 L596.9 1088.5 L597.2 1090.5 L597.5 1092.6 L597.9 1094.5 L598.4 1096.5 L598.9 1098.4 L599.6 1100.3 L600.3 1102.2 L601.2 1104.1 L602.2 1105.9 L603.4 1107.4 L604.9 1108.5 L606.6 1109.3 L608.5 1109.8 L610.4 1110.0 L612.4 1109.8 L614.2 1109.3 L616.1 1108.4 L617.9 1107.5 L619.7 1106.6 L621.6 1105.8 L623.5 1105.2 L625.5 1104.7 L627.4 1104.5 L629.4 1104.6 L631.4 1104.8 L633.4 1105.3 L635.3 1105.8 L637.2 1106.5 L639.0 1107.3 L640.7 1108.3 L642.4 1109.4 L644.0 1110.7 L645.5 1112.0 L646.9 1113.4 L648.3 1114.8 L649.7 1116.3 L651.1 1117.8 L652.5 1119.1 L654.1 1120.4 L655.7 1121.6 L657.3 1122.8 L659.0 1123.9 L660.7 1125.0 L662.4 1126.0 L664.2 1126.9 L666.0 1127.8 L667.8 1128.7 L669.6 1129.4 L671.5 1130.1 L673.4 1130.8 L675.3 1131.4 L677.3 1131.9 L679.2 1132.3 L681.2 1132.7 L683.2 1132.9 L685.2 1133.0 L687.2 1133.1 L689.2 1133.2 L691.2 1133.2 L693.2 1133.3 L695.2 1133.2 L697.2 1133.0 L699.2 1132.7 L701.1 1132.3 L703.1 1131.8 L705.0 1131.3 L707.0 1130.8 L708.9 1130.2 L710.8 1129.6 L712.7 1129.0 L714.6 1128.3 L716.5 1127.6 L718.4 1126.9 L720.2 1126.2 L722.1 1125.5 L723.9 1124.7 L725.8 1123.9 L727.6 1123.1 L729.5 1122.3 L731.3 1121.6 L733.2 1120.8 L735.0 1120.0 L736.9 1119.2 L738.7 1118.4 L740.6 1117.7 L742.5 1117.0 L744.3 1116.3 L746.2 1115.7 L748.1 1115.0 L750.0 1114.4 L751.9 1113.8 L753.8 1113.1 L755.7 1112.5 L757.7 1111.9 L759.6 1111.3 L761.5 1110.6 L763.4 1110.0 L765.2 1109.3 L767.1 1108.6 L769.0 1107.9 L770.8 1107.1 L772.7 1106.3 L774.5 1105.5 L776.4 1104.7 L778.2 1104.0 L780.1 1103.2 L781.9 1102.4 L783.8 1101.7 L785.6 1100.9 L787.5 1100.1 L789.3 1099.3 L791.1 1098.4 L792.9 1097.5 L794.7 1096.7 L796.5 1095.7 L798.3 1094.8 L800.0 1093.9 L801.8 1092.9 L803.5 1091.9 L805.3 1091.0 L807.0 1089.9 L808.7 1088.9 L810.5 1087.9 L812.2 1086.9 L813.9 1085.9 L815.7 1084.9 L817.4 1083.9 L819.1 1082.9 L820.8 1081.8 L822.6 1080.8 L824.3 1079.8 L826.0 1078.7 L827.7 1077.6 L829.4 1076.6 L831.1 1075.5 L832.8 1074.5 L834.6 1073.6 L836.4 1072.7 L838.2 1071.8 L840.1 1071.1 L842.0 1070.4 L843.9 1069.9 L845.9 1069.5 L847.8 1069.4 L849.8 1069.5 L851.8 1069.7 L853.8 1069.9 L855.7 1069.8 L857.5 1069.4 L859.3 1068.5 L861.1 1067.4 L862.8 1066.2 L864.4 1065.1 L866.1 1063.9 L867.6 1062.6 L869.2 1061.4 L870.8 1060.2 L872.4 1058.9 L874.0 1057.8 L875.7 1056.6 L877.4 1055.5 L879.2 1054.4 L880.9 1053.3 L882.7 1052.4 L884.6 1051.7 L886.5 1051.3 L888.4 1051.2 L890.4 1051.3 L892.3 1051.6 L894.3 1052.0 L896.2 1052.5 L898.1 1053.1 L900.0 1053.8 L901.9 1054.5 L903.8 1055.2 L905.7 1055.9 L907.6 1056.5 L909.5 1057.2 L911.4 1057.8 L913.3 1058.4 L915.2 1059.0 L917.1 1059.7 L919.0 1060.3 L920.9 1061.0 L922.8 1061.6 L924.7 1062.2 L926.6 1062.8 L928.5 1063.4 L930.5 1063.9 L932.4 1064.5 L934.4 1065.0 L936.3 1065.4 L938.3 1065.7 L940.3 1066.0 L942.2 1066.2 L944.2 1066.4 L946.2 1066.5 L948.3 1066.6 L950.3 1066.7 L952.3 1066.7 L954.3 1066.7 L956.3 1066.7 L958.3 1066.7 L960.3 1066.7 L962.3 1066.6 L964.2 1066.3 L966.2 1065.9 L968.1 1065.4 L970.1 1064.8 L972.0 1064.1 L973.9 1063.5 L975.8 1062.8 L977.6 1062.1 L979.5 1061.3 L981.3 1060.5 L983.2 1059.7 L985.0 1058.8 L986.8 1057.9 L988.5 1057.0 L990.3 1056.0 L992.0 1055.0 L993.7 1054.0 L995.4 1052.9 L997.1 1051.8 L998.8 1050.8 L1000.5 1049.7 L1002.2 1048.6 L1003.8 1047.4 L1005.5 1046.3 L1007.1 1045.1 L1008.8 1044.0 L1010.4 1042.8 L1012.0 1041.6 L1013.6 1040.4 L1015.2 1039.2 L1016.8 1038.0 L1018.4 1036.8 L1020.0 1035.6 L1021.6 1034.4 L1023.2 1033.2 L1024.8 1032.0 L1026.4 1030.8 L1028.0 1029.6 L1029.6 1028.4 L1031.2 1027.2 L1032.8 1026.0 L1034.4 1024.8 L1036.0 1023.6 L1037.6 1022.4 L1039.2 1021.2 L1040.8 1019.9 L1042.4 1018.7 L1044.0 1017.5 L1045.6 1016.3 L1047.3 1015.1 L1048.9 1014.0 L1050.5 1012.8 L1052.1 1011.6 L1053.7 1010.4 L1055.3 1009.1 L1056.8 1007.9 L1058.4 1006.6 L1059.9 1005.3 L1061.4 1003.9 L1062.9 1002.6 L1064.3 1001.2 L1065.7 999.8 L1067.1 998.3 L1068.4 996.8 L1069.7 995.3 L1070.9 993.7 L1072.2 992.1 L1073.4 990.5 L1074.7 989.0 L1076.0 987.5 L1077.4 986.1 L1078.8 984.6 L1080.2 983.2 L1081.7 981.8 L1083.1 980.4 L1084.5 979.0 L1086.0 977.6 L1087.4 976.2 L1088.8 974.8 L1090.3 973.4 L1091.7 972.0 L1093.1 970.6 L1094.5 969.2 L1095.9 967.7 L1097.3 966.2 L1098.6 964.8 L1099.9 963.2 L1101.2 961.7 L1102.5 960.2 L1103.8 958.6 L1105.1 957.1 L1106.3 955.5 L1107.5 953.9 L1108.7 952.3 L1109.9 950.7 L1111.1 949.1 L1112.2 947.4 L1113.3 945.8 L1114.5 944.1 L1115.6 942.5 L1116.8 940.8 L1118.0 939.2 L1119.2 937.6 L1120.4 936.1 L1121.7 934.5 L1123.0 933.0 L1124.3 931.5 L1125.6 930.0 L1126.9 928.4 L1128.2 926.9 L1129.4 925.3 L1130.7 923.7 L1131.9 922.1 L1133.1 920.5 L1134.2 918.9 L1135.4 917.3 L1136.6 915.6 L1137.7 914.0 L1138.9 912.3 L1140.0 910.7 L1141.1 909.0 L1142.2 907.3 L1143.2 905.6 L1144.3 903.9 L1145.4 902.2 L1146.4 900.5 L1147.5 898.8 L1148.5 897.1 L1149.5 895.4 L1150.6 893.7 L1151.6 892.0 L1152.7 890.3 L1153.7 888.6 L1154.8 886.8 L1155.8 885.1 L1156.9 883.4 L1157.9 881.7 L1159.0 880.0 L1160.1 878.3 L1161.2 876.6 L1162.3 875.0 L1163.4 873.3 L1164.6 871.7 L1165.7 870.1 L1166.9 868.5 L1168.1 866.8 L1169.3 865.2 L1170.5 863.6 L1171.7 862.0 L1172.8 860.3 L1173.9 858.7 L1175.0 857.0 L1176.1 855.3 L1177.2 853.6 L1178.2 851.9 L1179.3 850.2 L1180.3 848.5 L1181.4 846.8 L1182.4 845.1 L1183.4 843.3 L1184.4 841.6 L1185.4 839.9 L1186.4 838.1 L1187.4 836.4 L1188.4 834.6 L1189.4 832.9 L1190.3 831.1 L1191.3 829.4 L1192.3 827.6 L1193.2 825.9 L1194.2 824.1 L1195.2 822.3 L1196.1 820.6 L1197.1 818.8 L1198.1 817.1 L1199.1 815.3 L1200.0 813.6 L1201.0 811.8 L1202.0 810.1 L1203.0 808.3 L1203.9 806.6 L1204.9 804.8 L1205.9 803.1"/>
<path class="h" stroke="#55b548" d="M97.5 1185.6 L99.5 1185.6 L101.5 1185.6 L103.5 1185.6 L105.5 1185.6 L107.5 1185.6 L109.5 1185.6 L111.5 1185.6 L113.5 1185.6 L115.5 1185.6 L117.5 1185.6 L119.5 1185.6 L121.6 1185.6 L123.6 1185.6 L125.6 1185.6 L127.6 1185.6 L129.6 1185.6 L131.6 1185.6 L133.6 1185.6 L135.6 1185.6 L137.6 1185.6 L139.6 1185.6 L141.6 1185.6 L143.6 1185.6 L145.6 1185.6 L147.6 1185.6 L149.6 1185.6 L151.6 1185.6 L153.6 1185.6 L155.6 1185.6 L157.6 1185.6 L159.6 1185.6 L161.6 1185.6 L163.6 1185.6 L165.6 1185.6 L167.6 1185.6 L169.7 1185.6 L171.7 1185.6 L173.7 1185.6 L175.7 1185.6 L177.7 1185.6 L179.7 1185.6 L181.7 1185.6 L183.7 1185.6 L185.7 1185.6 L187.7 1185.6 L189.7 1185.6 L191.7 1185.6 L193.7 1185.6 L195.7 1185.6 L197.7 1185.6 L199.7 1185.6 L201.7 1185.6 L203.7 1185.6 L205.7 1185.6 L207.7 1185.6 L209.7 1185.6 L211.7 1185.6 L213.7 1185.6 L215.7 1185.6 L217.8 1185.6 L219.8 1185.6 L221.8 1185.6 L223.8 1185.6 L225.8 1185.6 L227.8 1185.6 L229.8 1185.6 L231.8 1185.6 L233.8 1185.6 L235.8 1185.6 L237.8 1185.6 L239.8 1185.6 L241.8 1185.6 L243.8 1185.6 L245.8 1185.6 L247.8 1185.6 L249.8 1185.6 L251.8 1185.6 L253.8 1185.6 L255.8 1185.6 L257.8 1185.6 L259.8 1185.6 L261.8 1185.6 L263.8 1185.6 L265.9 1185.6 L267.9 1185.6 L269.9 1185.6 L271.9 1185.6 L273.9 1185.6 L275.9 1185.6 L277.9 1185.6 L279.9 1185.6 L281.9 1185.6 L283.9 1185.6 L285.9 1185.6 L287.9 1185.6 L289.9 1185.6 L291.9 1185.6 L293.9 1185.6 L295.9 1185.6 L297.9 1185.6 L299.9 1185.6 L301.9 1185.6 L303.9 1185.6 L305.9 1185.6 L307.9 1185.6 L309.9 1185.6 L311.9 1185.6 L314.0 1185.6 L316.0 1185.6 L318.0 1185.5 L320.0 1185.5 L322.0 1185.5 L324.0 1185.5 L326.0 1185.5 L328.0 1185.5 L330.0 1185.4 L332.0 1185.4 L334.0 1185.4 L336.0 1185.4 L338.0 1185.3 L340.0 1185.3 L342.0 1185.3 L344.0 1185.3 L346.0 1185.2 L348.1 1185.2 L350.1 1185.2 L352.1 1185.1 L354.1 1185.1 L356.1 1185.1 L358.1 1185.0 L360.1 1185.0 L362.1 1185.0 L364.1 1184.9 L366.1 1184.9 L368.1 1184.8 L370.1 1184.8 L372.1 1184.7 L374.1 1184.7 L376.1 1184.6 L378.1 1184.6 L380.1 1184.5 L382.1 1184.5 L384.1 1184.4 L386.1 1184.4 L388.1 1184.3 L390.1 1184.3 L392.1 1184.2 L394.1 1184.2 L396.1 1184.1 L398.1 1184.1 L400.1 1184.0 L402.1 1183.9 L404.1 1183.8 L406.1 1183.7 L408.1 1183.6 L410.1 1183.5 L412.1 1183.3 L414.1 1183.2 L416.1 1183.0 L418.1 1182.8 L420.1 1182.6 L422.1 1182.4 L424.1 1182.2 L426.1 1181.9 L428.1 1181.7 L430.0 1181.4 L432.0 1181.2 L434.0 1180.9 L436.0 1180.7 L438.0 1180.4 L440.0 1180.2 L442.0 1179.9 L444.0 1179.6 L446.0 1179.3 L448.0 1179.1 L450.0 1178.8 L451.9 1178.5 L453.9 1178.3 L455.9 1178.0 L457.9 1177.8 L459.9 1177.5 L461.9 1177.2 L463.9 1177.0 L465.8 1176.7 L467.8 1176.4 L469.8 1176.1 L471.8 1175.8 L473.8 1175.5 L475.8 1175.2 L477.7 1174.8 L479.7 1174.5 L481.7 1174.1 L483.6 1173.7 L485.6 1173.3 L487.6 1172.9 L489.5 1172.5 L491.5 1172.0 L493.4 1171.7 L495.4 1171.3 L497.4 1170.9 L499.4 1170.6 L501.4 1170.3 L503.3 1170.0 L505.3 1169.8 L507.3 1169.5 L509.3 1169.2 L511.3 1168.9 L513.3 1168.6 L515.2 1168.2 L517.2 1167.8 L519.1 1167.3 L521.1 1166.8 L523.0 1166.2 L524.9 1165.6 L526.7 1164.8 L528.5 1164.0 L530.3 1163.0 L532.0 1162.0 L533.7 1160.9 L535.3 1159.7 L536.9 1158.5 L538.4 1157.2 L539.9 1155.8 L541.3 1154.3 L542.6 1152.8 L543.9 1151.3 L545.2 1149.8 L546.4 1148.2 L547.5 1146.5 L548.7 1144.8 L549.7 1143.1 L550.8 1141.4 L551.7 1139.7 L552.6 1137.9 L553.5 1136.1 L554.3 1134.2 L555.1 1132.4 L555.8 1130.5 L556.5 1128.7 L557.3 1126.8 L557.9 1124.9 L558.6 1123.0 L559.2 1121.1 L559.9 1119.2 L560.5 1117.3 L561.1 1115.4 L561.7 1113.5 L562.3 1111.6 L563.0 1109.7 L563.7 1107.8 L564.5 1106.0 L565.3 1104.1 L566.1 1102.3 L566.9 1100.4 L567.5 1098.6 L568.1 1096.7 L568.7 1094.7 L569.2 1092.8 L569.7 1090.9 L570.2 1088.9 L570.7 1087.0 L571.1 1085.0 L571.6 1083.0 L572.0 1081.1 L572.4 1079.1 L572.9 1077.2 L573.3 1075.2 L573.7 1073.2 L574.1 1071.3 L574.5 1069.3 L574.9 1067.4 L575.3 1065.4 L575.7 1063.4 L576.1 1061.5 L576.5 1059.5 L576.8 1057.5 L577.2 1055.5 L577.6 1053.6 L577.9 1051.6 L578.2 1049.6 L578.6 1047.6 L578.9 1045.7 L579.3 1043.7 L579.6 1041.7 L580.0 1039.7 L580.4 1037.8 L580.8 1035.8 L581.2 1033.9 L581.7 1031.9 L582.2 1030.0 L582.7 1028.0 L583.2 1026.1 L584.3 1022.6 L583.4 1035.9 L584.0 1055.6 L585.9 1083.0 L589.2 1115.8 L594.7 1083.0 L600.2 1055.6 L605.6 1028.3 L609.8 1009.1 L611.4 1008.6 L612.9 1009.0 L614.2 1010.2 L615.2 1012.0 L615.8 1013.9 L616.2 1016.0 L616.5 1018.1 L616.8 1020.2 L617.1 1022.3 L617.3 1024.4 L617.6 1026.5 L617.9 1028.6 L618.2 1030.7 L618.5 1032.7 L618.8 1034.8 L622.0 1032.9 L626.2 1031.0 L626.7 990.0 L627.5 856.5 L627.6 776.1 L628.6 758.4 L629.4 736.9 L630.2 758.4 L631.4 776.1 L631.8 856.5 L632.5 990.0 L633.0 1033.8 L634.9 1055.6 L636.3 1073.1 L637.2 1075.1 L638.2 1076.9 L639.5 1078.1 L641.2 1078.9 L643.0 1079.3 L645.0 1079.2 L646.8 1078.7 L648.7 1078.1 L650.6 1077.5 L652.6 1077.3 L654.5 1077.4 L656.4 1077.8 L658.2 1078.6 L659.9 1079.7 L661.6 1080.8 L663.1 1082.1 L664.5 1083.5 L665.9 1085.0 L667.1 1086.5 L668.4 1088.1 L669.5 1089.8 L670.7 1091.4 L671.9 1093.1 L673.0 1094.7 L674.1 1096.4 L675.2 1098.1 L676.3 1099.8 L677.4 1101.5 L678.6 1103.1 L679.7 1104.8 L680.9 1106.4 L682.1 1108.0 L683.4 1109.6 L684.7 1111.1 L686.1 1112.6 L687.5 1113.9 L689.0 1115.2 L690.6 1116.3 L692.3 1117.5 L694.0 1118.6 L695.7 1119.6 L697.5 1120.7 L699.2 1121.7 L701.0 1122.7 L702.8 1123.7 L704.6 1124.6 L706.4 1125.4 L708.3 1126.0 L710.2 1126.5 L712.2 1126.9 L714.2 1127.2 L716.2 1127.3 L718.2 1127.4 L720.2 1127.5 L722.2 1127.4 L724.2 1127.3 L726.2 1127.3 L728.2 1127.2 L730.2 1127.1 L732.2 1126.9 L734.2 1126.8 L736.2 1126.6 L738.2 1126.4 L740.2 1126.2 L742.2 1126.1 L744.2 1125.9 L746.2 1125.7 L748.2 1125.6 L750.2 1125.4 L752.2 1125.2 L754.2 1124.9 L756.2 1124.5 L758.1 1124.1 L760.1 1123.6 L762.0 1123.1 L764.0 1122.5 L765.9 1121.9 L767.8 1121.3 L769.7 1120.6 L771.6 1119.9 L773.5 1119.2 L775.4 1118.7 L777.3 1118.2 L779.3 1117.7 L781.3 1117.3 L783.2 1117.0 L785.2 1116.7 L787.2 1116.5 L789.2 1116.3 L791.2 1116.1 L793.2 1116.0 L795.2 1115.9 L797.3 1115.8 L799.2 1115.8 L801.2 1115.8 L803.2 1116.1 L805.2 1116.4 L807.1 1116.9 L809.1 1117.4 L811.1 1117.9 L813.0 1118.4 L815.0 1118.9 L816.9 1119.5 L818.8 1120.0 L820.8 1120.5 L822.7 1120.9 L824.7 1121.3 L826.7 1121.6 L828.7 1121.9 L830.7 1122.0 L832.7 1122.0 L834.6 1121.7 L836.6 1121.2 L838.5 1120.5 L840.3 1119.8 L842.1 1118.9 L843.9 1117.9 L845.5 1116.7 L847.1 1115.5 L848.7 1114.2 L850.2 1112.9 L851.6 1111.5 L853.0 1110.0 L854.4 1108.5 L855.6 1107.0 L856.9 1105.4 L858.0 1103.8 L859.2 1102.1 L860.3 1100.5 L861.5 1098.8 L862.7 1097.2 L863.9 1095.7 L865.3 1094.1 L866.6 1092.7 L868.0 1091.2 L869.4 1089.8 L870.9 1088.4 L872.4 1087.0 L873.8 1085.7 L875.3 1084.3 L876.8 1083.0 L878.3 1081.7 L879.9 1080.4 L881.4 1079.1 L883.0 1077.8 L884.5 1076.5 L886.1 1075.3 L887.7 1074.0 L889.2 1072.8 L890.8 1071.5 L892.4 1070.2 L894.0 1069.0 L895.6 1067.8 L897.3 1066.7 L899.0 1065.7 L900.7 1064.8 L902.5 1063.9 L904.4 1063.1 L906.3 1062.4 L908.2 1061.7 L910.1 1061.0 L912.0 1060.4 L913.9 1059.8 L915.8 1059.3 L917.8 1058.8 L919.8 1058.4 L921.7 1058.0 L923.7 1057.6 L925.7 1057.3 L927.7 1056.9 L929.6 1056.6 L931.6 1056.3 L933.6 1056.0 L935.6 1055.6 L937.5 1055.1 L939.5 1054.6 L941.4 1054.1 L943.3 1053.6 L945.3 1053.1 L947.2 1052.6 L949.2 1052.1 L951.1 1051.6 L953.1 1051.2 L955.0 1050.7 L957.0 1050.1 L958.9 1049.6 L960.8 1049.0 L962.8 1048.4 L964.7 1047.8 L966.6 1047.1 L968.4 1046.4 L970.3 1045.7 L972.1 1044.9 L973.9 1044.0 L975.7 1043.1 L977.5 1042.2 L979.3 1041.2 L981.1 1040.3 L982.8 1039.3 L984.6 1038.3 L986.3 1037.3 L988.0 1036.3 L989.8 1035.2 L991.5 1034.2 L993.2 1033.1 L994.9 1032.0 L996.5 1030.9 L998.2 1029.8 L999.9 1028.7 L1001.6 1027.6 L1003.2 1026.5 L1004.9 1025.4 L1006.6 1024.3 L1008.2 1023.1 L1009.9 1022.0 L1011.6 1020.9 L1013.2 1019.8 L1014.9 1018.7 L1016.6 1017.5 L1018.2 1016.4 L1019.9 1015.3 L1021.6 1014.2 L1023.3 1013.1 L1024.9 1012.0 L1026.6 1010.9 L1028.3 1009.8 L1029.9 1008.6 L1031.6 1007.5 L1033.3 1006.4 L1035.0 1005.3 L1036.6 1004.2 L1038.3 1003.1 L1040.0 1002.0 L1063.7 982.4 L1074.7 969.3 L1085.6 958.3 L1096.5 948.5 L1107.5 938.6 L1118.4 925.5 L1129.3 912.4 L1135.9 901.5 L1142.4 886.2 L1151.2 873.1 L1159.9 855.6 L1164.3 838.1 L1168.7 846.8 L1173.1 838.1 L1178.5 827.1 L1184.0 816.2 L1189.5 807.5 L1194.9 798.7 L1201.5 785.6 L1203.2 763.7 L1204.1 741.9"/>
<path class="c" stroke="#55b548" d="M97.5 1185.6 L99.5 1185.6 L101.5 1185.6 L103.5 1185.6 L105.5 1185.6 L107.5 1185.6 L109.5 1185.6 L111.5 1185.6 L113.5 1185.6 L115.5 1185.6 L117.5 1185.6 L119.5 1185.6 L121.6 1185.6 L123.6 1185.6 L125.6 1185.6 L127.6 1185.6 L129.6 1185.6 L131.6 1185.6 L133.6 1185.6 L135.6 1185.6 L137.6 1185.6 L139.6 1185.6 L141.6 1185.6 L143.6 1185.6 L145.6 1185.6 L147.6 1185.6 L149.6 1185.6 L151.6 1185.6 L153.6 1185.6 L155.6 1185.6 L157.6 1185.6 L159.6 1185.6 L161.6 1185.6 L163.6 1185.6 L165.6 1185.6 L167.6 1185.6 L169.7 1185.6 L171.7 1185.6 L173.7 1185.6 L175.7 1185.6 L177.7 1185.6 L179.7 1185.6 L181.7 1185.6 L183.7 1185.6 L185.7 1185.6 L187.7 1185.6 L189.7 1185.6 L191.7 1185.6 L193.7 1185.6 L195.7 1185.6 L197.7 1185.6 L199.7 1185.6 L201.7 1185.6 L203.7 1185.6 L205.7 1185.6 L207.7 1185.6 L209.7 1185.6 L211.7 1185.6 L213.7 1185.6 L215.7 1185.6 L217.8 1185.6 L219.8 1185.6 L221.8 1185.6 L223.8 1185.6 L225.8 1185.6 L227.8 1185.6 L229.8 1185.6 L231.8 1185.6 L233.8 1185.6 L235.8 1185.6 L237.8 1185.6 L239.8 1185.6 L241.8 1185.6 L243.8 1185.6 L245.8 1185.6 L247.8 1185.6 L249.8 1185.6 L251.8 1185.6 L253.8 1185.6 L255.8 1185.6 L257.8 1185.6 L259.8 1185.6 L261.8 1185.6 L263.8 1185.6 L265.9 1185.6 L267.9 1185.6 L269.9 1185.6 L271.9 1185.6 L273.9 1185.6 L275.9 1185.6 L277.9 1185.6 L279.9 1185.6 L281.9 1185.6 L283.9 1185.6 L285.9 1185.6 L287.9 1185.6 L289.9 1185.6 L291.9 1185.6 L293.9 1185.6 L295.9 1185.6 L297.9 1185.6 L299.9 1185.6 L301.9 1185.6 L303.9 1185.6 L305.9 1185.6 L307.9 1185.6 L309.9 1185.6 L311.9 1185.6 L314.0 1185.6 L316.0 1185.6 L318.0 1185.5 L320.0 1185.5 L322.0 1185.5 L324.0 1185.5 L326.0 1185.5 L328.0 1185.5 L330.0 1185.4 L332.0 1185.4 L334.0 1185.4 L336.0 1185.4 L338.0 1185.3 L340.0 1185.3 L342.0 1185.3 L344.0 1185.3 L346.0 1185.2 L348.1 1185.2 L350.1 1185.2 L352.1 1185.1 L354.1 1185.1 L356.1 1185.1 L358.1 1185.0 L360.1 1185.0 L362.1 1185.0 L364.1 1184.9 L366.1 1184.9 L368.1 1184.8 L370.1 1184.8 L372.1 1184.7 L374.1 1184.7 L376.1 1184.6 L378.1 1184.6 L380.1 1184.5 L382.1 1184.5 L384.1 1184.4 L386.1 1184.4 L388.1 1184.3 L390.1 1184.3 L392.1 1184.2 L394.1 1184.2 L396.1 1184.1 L398.1 1184.1 L400.1 1184.0 L402.1 1183.9 L404.1 1183.8 L406.1 1183.7 L408.1 1183.6 L410.1 1183.5 L412.1 1183.3 L414.1 1183.2 L416.1 1183.0 L418.1 1182.8 L420.1 1182.6 L422.1 1182.4 L424.1 1182.2 L426.1 1181.9 L428.1 1181.7 L430.0 1181.4 L432.0 1181.2 L434.0 1180.9 L436.0 1180.7 L438.0 1180.4 L440.0 1180.2 L442.0 1179.9 L444.0 1179.6 L446.0 1179.3 L448.0 1179.1 L450.0 1178.8 L451.9 1178.5 L453.9 1178.3 L455.9 1178.0 L457.9 1177.8 L459.9 1177.5 L461.9 1177.2 L463.9 1177.0 L465.8 1176.7 L467.8 1176.4 L469.8 1176.1 L471.8 1175.8 L473.8 1175.5 L475.8 1175.2 L477.7 1174.8 L479.7 1174.5 L481.7 1174.1 L483.6 1173.7 L485.6 1173.3 L487.6 1172.9 L489.5 1172.5 L491.5 1172.0 L493.4 1171.7 L495.4 1171.3 L497.4 1170.9 L499.4 1170.6 L501.4 1170.3 L503.3 1170.0 L505.3 1169.8 L507.3 1169.5 L509.3 1169.2 L511.3 1168.9 L513.3 1168.6 L515.2 1168.2 L517.2 1167.8 L519.1 1167.3 L521.1 1166.8 L523.0 1166.2 L524.9 1165.6 L526.7 1164.8 L528.5 1164.0 L530.3 1163.0 L532.0 1162.0 L533.7 1160.9 L535.3 1159.7 L536.9 1158.5 L538.4 1157.2 L539.9 1155.8 L541.3 1154.3 L542.6 1152.8 L543.9 1151.3 L545.2 1149.8 L546.4 1148.2 L547.5 1146.5 L548.7 1144.8 L549.7 1143.1 L550.8 1141.4 L551.7 1139.7 L552.6 1137.9 L553.5 1136.1 L554.3 1134.2 L555.1 1132.4 L555.8 1130.5 L556.5 1128.7 L557.3 1126.8 L557.9 1124.9 L558.6 1123.0 L559.2 1121.1 L559.9 1119.2 L560.5 1117.3 L561.1 1115.4 L561.7 1113.5 L562.3 1111.6 L563.0 1109.7 L563.7 1107.8 L564.5 1106.0 L565.3 1104.1 L566.1 1102.3 L566.9 1100.4 L567.5 1098.6 L568.1 1096.7 L568.7 1094.7 L569.2 1092.8 L569.7 1090.9 L570.2 1088.9 L570.7 1087.0 L571.1 1085.0 L571.6 1083.0 L572.0 1081.1 L572.4 1079.1 L572.9 1077.2 L573.3 1075.2 L573.7 1073.2 L574.1 1071.3 L574.5 1069.3 L574.9 1067.4 L575.3 1065.4 L575.7 1063.4 L576.1 1061.5 L576.5 1059.5 L576.8 1057.5 L577.2 1055.5 L577.6 1053.6 L577.9 1051.6 L578.2 1049.6 L578.6 1047.6 L578.9 1045.7 L579.3 1043.7 L579.6 1041.7 L580.0 1039.7 L580.4 1037.8 L580.8 1035.8 L581.2 1033.9 L581.7 1031.9 L582.2 1030.0 L582.7 1028.0 L583.2 1026.1 L584.3 1022.6 L583.4 1035.9 L584.0 1055.6 L585.9 1083.0 L589.2 1115.8 L594.7 1083.0 L600.2 1055.6 L605.6 1028.3 L609.8 1009.1 L611.4 1008.6 L612.9 1009.0 L614.2 1010.2 L615.2 1012.0 L615.8 1013.9 L616.2 1016.0 L616.5 1018.1 L616.8 1020.2 L617.1 1022.3 L617.3 1024.4 L617.6 1026.5 L617.9 1028.6 L618.2 1030.7 L618.5 1032.7 L618.8 1034.8 L622.0 1032.9 L626.2 1031.0 L626.7 990.0 L627.5 856.5 L627.6 776.1 L628.6 758.4 L629.4 736.9 L630.2 758.4 L631.4 776.1 L631.8 856.5 L632.5 990.0 L633.0 1033.8 L634.9 1055.6 L636.3 1073.1 L637.2 1075.1 L638.2 1076.9 L639.5 1078.1 L641.2 1078.9 L643.0 1079.3 L645.0 1079.2 L646.8 1078.7 L648.7 1078.1 L650.6 1077.5 L652.6 1077.3 L654.5 1077.4 L656.4 1077.8 L658.2 1078.6 L659.9 1079.7 L661.6 1080.8 L663.1 1082.1 L664.5 1083.5 L665.9 1085.0 L667.1 1086.5 L668.4 1088.1 L669.5 1089.8 L670.7 1091.4 L671.9 1093.1 L673.0 1094.7 L674.1 1096.4 L675.2 1098.1 L676.3 1099.8 L677.4 1101.5 L678.6 1103.1 L679.7 1104.8 L680.9 1106.4 L682.1 1108.0 L683.4 1109.6 L684.7 1111.1 L686.1 1112.6 L687.5 1113.9 L689.0 1115.2 L690.6 1116.3 L692.3 1117.5 L694.0 1118.6 L695.7 1119.6 L697.5 1120.7 L699.2 1121.7 L701.0 1122.7 L702.8 1123.7 L704.6 1124.6 L706.4 1125.4 L708.3 1126.0 L710.2 1126.5 L712.2 1126.9 L714.2 1127.2 L716.2 1127.3 L718.2 1127.4 L720.2 1127.5 L722.2 1127.4 L724.2 1127.3 L726.2 1127.3 L728.2 1127.2 L730.2 1127.1 L732.2 1126.9 L734.2 1126.8 L736.2 1126.6 L738.2 1126.4 L740.2 1126.2 L742.2 1126.1 L744.2 1125.9 L746.2 1125.7 L748.2 1125.6 L750.2 1125.4 L752.2 1125.2 L754.2 1124.9 L756.2 1124.5 L758.1 1124.1 L760.1 1123.6 L762.0 1123.1 L764.0 1122.5 L765.9 1121.9 L767.8 1121.3 L769.7 1120.6 L771.6 1119.9 L773.5 1119.2 L775.4 1118.7 L777.3 1118.2 L779.3 1117.7 L781.3 1117.3 L783.2 1117.0 L785.2 1116.7 L787.2 1116.5 L789.2 1116.3 L791.2 1116.1 L793.2 1116.0 L795.2 1115.9 L797.3 1115.8 L799.2 1115.8 L801.2 1115.8 L803.2 1116.1 L805.2 1116.4 L807.1 1116.9 L809.1 1117.4 L811.1 1117.9 L813.0 1118.4 L815.0 1118.9 L816.9 1119.5 L818.8 1120.0 L820.8 1120.5 L822.7 1120.9 L824.7 1121.3 L826.7 1121.6 L828.7 1121.9 L830.7 1122.0 L832.7 1122.0 L834.6 1121.7 L836.6 1121.2 L838.5 1120.5 L840.3 1119.8 L842.1 1118.9 L843.9 1117.9 L845.5 1116.7 L847.1 1115.5 L848.7 1114.2 L850.2 1112.9 L851.6 1111.5 L853.0 1110.0 L854.4 1108.5 L855.6 1107.0 L856.9 1105.4 L858.0 1103.8 L859.2 1102.1 L860.3 1100.5 L861.5 1098.8 L862.7 1097.2 L863.9 1095.7 L865.3 1094.1 L866.6 1092.7 L868.0 1091.2 L869.4 1089.8 L870.9 1088.4 L872.4 1087.0 L873.8 1085.7 L875.3 1084.3 L876.8 1083.0 L878.3 1081.7 L879.9 1080.4 L881.4 1079.1 L883.0 1077.8 L884.5 1076.5 L886.1 1075.3 L887.7 1074.0 L889.2 1072.8 L890.8 1071.5 L892.4 1070.2 L894.0 1069.0 L895.6 1067.8 L897.3 1066.7 L899.0 1065.7 L900.7 1064.8 L902.5 1063.9 L904.4 1063.1 L906.3 1062.4 L908.2 1061.7 L910.1 1061.0 L912.0 1060.4 L913.9 1059.8 L915.8 1059.3 L917.8 1058.8 L919.8 1058.4 L921.7 1058.0 L923.7 1057.6 L925.7 1057.3 L927.7 1056.9 L929.6 1056.6 L931.6 1056.3 L933.6 1056.0 L935.6 1055.6 L937.5 1055.1 L939.5 1054.6 L941.4 1054.1 L943.3 1053.6 L945.3 1053.1 L947.2 1052.6 L949.2 1052.1 L951.1 1051.6 L953.1 1051.2 L955.0 1050.7 L957.0 1050.1 L958.9 1049.6 L960.8 1049.0 L962.8 1048.4 L964.7 1047.8 L966.6 1047.1 L968.4 1046.4 L970.3 1045.7 L972.1 1044.9 L973.9 1044.0 L975.7 1043.1 L977.5 1042.2 L979.3 1041.2 L981.1 1040.3 L982.8 1039.3 L984.6 1038.3 L986.3 1037.3 L988.0 1036.3 L989.8 1035.2 L991.5 1034.2 L993.2 1033.1 L994.9 1032.0 L996.5 1030.9 L998.2 1029.8 L999.9 1028.7 L1001.6 1027.6 L1003.2 1026.5 L1004.9 1025.4 L1006.6 1024.3 L1008.2 1023.1 L1009.9 1022.0 L1011.6 1020.9 L1013.2 1019.8 L1014.9 1018.7 L1016.6 1017.5 L1018.2 1016.4 L1019.9 1015.3 L1021.6 1014.2 L1023.3 1013.1 L1024.9 1012.0 L1026.6 1010.9 L1028.3 1009.8 L1029.9 1008.6 L1031.6 1007.5 L1033.3 1006.4 L1035.0 1005.3 L1036.6 1004.2 L1038.3 1003.1 L1040.0 1002.0 L1063.7 982.4 L1074.7 969.3 L1085.6 958.3 L1096.5 948.5 L1107.5 938.6 L1118.4 925.5 L1129.3 912.4 L1135.9 901.5 L1142.4 886.2 L1151.2 873.1 L1159.9 855.6 L1164.3 838.1 L1168.7 846.8 L1173.1 838.1 L1178.5 827.1 L1184.0 816.2 L1189.5 807.5 L1194.9 798.7 L1201.5 785.6 L1203.2 763.7 L1204.1 741.9"/>
<path class="h d" stroke="#55b548" d="M97.5 1185.6 L99.5 1185.6 L101.5 1185.6 L103.5 1185.6 L105.5 1185.6 L107.5 1185.6 L109.5 1185.6 L111.5 1185.6 L113.5 1185.6 L115.5 1185.6 L117.5 1185.6 L119.6 1185.6 L121.6 1185.6 L123.6 1185.6 L125.6 1185.6 L127.6 1185.6 L129.6 1185.6 L131.6 1185.6 L133.6 1185.6 L135.6 1185.6 L137.6 1185.6 L139.6 1185.6 L141.6 1185.6 L143.6 1185.6 L145.6 1185.6 L147.6 1185.6 L149.6 1185.6 L151.6 1185.6 L153.6 1185.6 L155.6 1185.6 L157.6 1185.6 L159.6 1185.6 L161.6 1185.6 L163.7 1185.6 L165.7 1185.6 L167.7 1185.6 L169.7 1185.6 L171.7 1185.6 L173.7 1185.6 L175.7 1185.6 L177.7 1185.6 L179.7 1185.6 L181.7 1185.6 L183.7 1185.6 L185.7 1185.6 L187.7 1185.6 L189.7 1185.6 L191.7 1185.6 L193.7 1185.6 L195.7 1185.6 L197.7 1185.6 L199.7 1185.6 L201.7 1185.6 L203.7 1185.6 L205.7 1185.6 L207.7 1185.6 L209.8 1185.6 L211.8 1185.6 L213.8 1185.6 L215.8 1185.6 L217.8 1185.6 L219.8 1185.6 L221.8 1185.6 L223.8 1185.6 L225.8 1185.6 L227.8 1185.6 L229.8 1185.6 L231.8 1185.6 L233.8 1185.6 L235.8 1185.6 L237.8 1185.6 L239.8 1185.6 L241.8 1185.6 L243.8 1185.6 L245.8 1185.6 L247.8 1185.6 L249.8 1185.6 L251.8 1185.6 L253.8 1185.6 L255.8 1185.6 L257.9 1185.6 L259.9 1185.6 L261.9 1185.6 L263.9 1185.6 L265.9 1185.6 L267.9 1185.6 L269.9 1185.6 L271.9 1185.6 L273.9 1185.6 L275.9 1185.6 L277.9 1185.6 L279.9 1185.6 L281.9 1185.6 L283.9 1185.6 L285.9 1185.6 L287.9 1185.6 L289.9 1185.6 L291.9 1185.6 L293.9 1185.6 L295.9 1185.6 L297.9 1185.6 L299.9 1185.6 L301.9 1185.6 L303.9 1185.6 L306.0 1185.6 L308.0 1185.6 L310.0 1185.6 L312.0 1185.5 L314.0 1185.5 L316.0 1185.5 L318.0 1185.5 L320.0 1185.5 L322.0 1185.4 L324.0 1185.4 L326.0 1185.4 L328.0 1185.3 L330.0 1185.3 L332.0 1185.2 L334.0 1185.2 L336.0 1185.1 L338.0 1185.1 L340.0 1185.0 L342.1 1185.0 L344.1 1184.9 L346.1 1184.9 L348.1 1184.8 L350.1 1184.7 L352.1 1184.7 L354.1 1184.6 L356.1 1184.5 L358.1 1184.5 L360.1 1184.4 L362.1 1184.3 L364.1 1184.2 L366.1 1184.2 L368.1 1184.1 L370.1 1184.0 L372.1 1183.9 L374.1 1183.7 L376.1 1183.6 L378.0 1183.4 L380.0 1183.1 L382.0 1182.9 L384.0 1182.6 L386.0 1182.4 L388.0 1182.1 L390.0 1181.8 L392.0 1181.6 L394.0 1181.3 L396.0 1181.1 L398.0 1180.9 L400.0 1180.7 L402.0 1180.5 L403.9 1180.3 L405.9 1180.2 L407.9 1180.0 L409.9 1179.9 L411.9 1179.7 L413.9 1179.5 L415.9 1179.4 L417.9 1179.2 L419.9 1179.1 L421.9 1178.9 L423.9 1178.8 L425.9 1178.7 L427.9 1178.5 L429.9 1178.4 L431.9 1178.3 L433.9 1178.1 L435.9 1178.0 L437.9 1177.8 L439.9 1177.6 L441.9 1177.5 L443.9 1177.3 L445.9 1177.1 L447.9 1176.9 L449.9 1176.8 L451.9 1176.6 L453.9 1176.3 L455.9 1176.1 L457.9 1175.8 L459.9 1175.6 L461.8 1175.2 L463.8 1174.9 L465.8 1174.5 L467.7 1174.1 L469.7 1173.7 L471.7 1173.3 L473.6 1172.9 L475.6 1172.4 L477.5 1171.9 L479.5 1171.4 L481.4 1170.9 L483.3 1170.4 L485.2 1169.8 L487.2 1169.2 L489.1 1168.6 L491.0 1168.0 L492.9 1167.4 L494.8 1166.8 L496.7 1166.2 L498.6 1165.6 L500.6 1165.0 L502.5 1164.4 L504.4 1163.8 L506.3 1163.2 L508.2 1162.6 L510.1 1161.9 L512.0 1161.2 L513.8 1160.4 L515.6 1159.5 L517.4 1158.6 L519.1 1157.5 L520.7 1156.4 L522.3 1155.1 L523.8 1153.8 L525.3 1152.4 L526.6 1151.0 L527.9 1149.5 L529.2 1147.9 L530.4 1146.3 L531.6 1144.7 L532.7 1143.0 L533.8 1141.3 L534.9 1139.6 L535.9 1137.9 L536.9 1136.1 L537.9 1134.4 L538.8 1132.6 L539.8 1130.8 L540.7 1129.0 L541.5 1127.2 L542.4 1125.4 L543.2 1123.6 L544.0 1121.7 L544.8 1119.9 L545.5 1118.0 L546.3 1116.2 L547.0 1114.3 L547.7 1112.4 L548.4 1110.5 L549.0 1108.6 L549.6 1106.7 L550.2 1104.8 L550.8 1102.9 L551.4 1101.0 L551.9 1099.1 L552.4 1097.1 L553.0 1095.2 L553.5 1093.2 L554.0 1091.3 L554.5 1089.4 L555.0 1087.4 L555.5 1085.5 L556.0 1083.5 L556.5 1081.6 L557.0 1079.7 L557.6 1077.7 L558.1 1075.8 L558.6 1073.9 L559.1 1071.9 L559.6 1070.0 L560.1 1068.0 L560.6 1066.1 L561.3 1061.1 L563.5 1077.5 L565.7 1098.3 L576.1 1066.6 L587.0 1033.8 L596.9 1011.9 L600.7 996.6 L602.4 876.1 L604.3 778.0 L605.5 693.5 L606.9 778.0 L608.0 876.1 L608.4 990.0 L608.9 1022.8 L610.0 1050.2 L610.1 1052.6 L610.2 1055.0 L610.4 1057.2 L610.6 1059.3 L610.9 1061.2 L611.2 1063.0 L611.7 1064.7 L612.3 1066.2 L613.3 1067.6 L614.8 1068.9 L616.5 1069.9 L618.3 1070.3 L619.9 1070.1 L621.4 1069.1 L622.8 1067.7 L624.2 1066.1 L625.6 1064.4 L627.1 1062.8 L628.7 1061.4 L630.4 1060.3 L632.0 1059.7 L633.5 1059.8 L634.8 1060.7 L636.0 1062.2 L637.1 1064.1 L638.2 1066.0 L639.4 1067.8 L640.5 1069.5 L641.7 1071.1 L642.8 1072.8 L643.8 1074.5 L644.8 1076.2 L645.7 1078.0 L646.5 1079.8 L647.4 1081.6 L648.2 1083.4 L649.2 1085.2 L650.1 1087.0 L651.1 1088.8 L652.1 1090.5 L653.1 1092.2 L654.2 1093.9 L655.3 1095.6 L656.4 1097.2 L657.6 1098.9 L658.8 1100.5 L660.0 1102.1 L661.3 1103.6 L662.7 1105.0 L664.2 1106.4 L665.7 1107.7 L667.3 1108.9 L668.9 1110.1 L670.6 1111.1 L672.4 1112.2 L674.2 1113.1 L676.0 1113.9 L677.9 1114.5 L679.8 1114.9 L681.8 1115.1 L683.8 1115.2 L685.8 1115.2 L687.8 1115.2 L689.8 1115.2 L691.8 1115.0 L693.8 1114.8 L695.8 1114.6 L697.8 1114.3 L699.7 1114.0 L701.7 1113.7 L703.7 1113.2 L705.6 1112.7 L707.5 1112.2 L709.5 1111.6 L711.4 1111.0 L713.3 1110.4 L715.2 1109.8 L717.1 1109.2 L719.0 1108.5 L720.9 1107.9 L722.8 1107.2 L724.7 1106.6 L726.6 1105.9 L728.5 1105.3 L730.4 1104.6 L732.3 1104.0 L734.2 1103.3 L736.1 1102.7 L738.0 1102.1 L739.9 1101.5 L741.8 1100.8 L743.7 1100.2 L745.6 1099.5 L747.5 1098.8 L749.4 1098.2 L751.3 1097.8 L753.3 1097.7 L755.3 1097.6 L757.3 1097.6 L759.3 1097.6 L761.3 1097.5 L763.3 1097.4 L765.3 1097.4 L767.3 1097.3 L769.3 1097.3 L771.3 1097.3 L773.4 1097.4 L775.4 1097.4 L777.4 1097.5 L779.3 1097.6 L781.2 1097.9 L783.0 1098.4 L784.7 1099.3 L786.3 1100.4 L788.0 1101.7 L789.6 1103.1 L791.2 1104.4 L792.8 1105.7 L794.5 1106.8 L796.2 1108.0 L797.8 1109.1 L799.5 1110.2 L801.2 1111.3 L802.9 1112.4 L804.5 1113.5 L806.2 1114.6 L807.9 1115.7 L809.6 1116.8 L811.4 1117.9 L813.1 1118.8 L814.9 1119.6 L816.7 1120.3 L818.6 1121.0 L820.6 1121.5 L822.5 1122.0 L824.5 1122.3 L826.5 1122.5 L828.5 1122.6 L830.5 1122.4 L832.5 1122.1 L834.5 1121.7 L836.4 1121.2 L838.3 1120.6 L840.1 1119.8 L841.9 1119.0 L843.6 1118.0 L845.3 1116.8 L847.0 1115.7 L848.7 1114.5 L850.3 1113.4 L852.0 1112.2 L853.5 1110.9 L854.9 1109.6 L856.2 1108.1 L857.3 1106.5 L858.3 1104.8 L859.2 1103.0 L860.1 1101.1 L861.0 1099.3 L862.0 1097.5 L863.1 1095.9 L864.3 1094.3 L865.5 1092.7 L866.9 1091.3 L868.3 1089.9 L869.7 1088.5 L871.2 1087.1 L872.7 1085.7 L874.2 1084.3 L875.6 1083.0 L877.1 1081.6 L878.6 1080.2 L880.0 1078.9 L881.5 1077.5 L883.0 1076.2 L884.5 1074.8 L886.0 1073.5 L887.5 1072.1 L889.0 1070.8 L890.5 1069.4 L892.0 1068.0 L893.5 1066.7 L895.0 1065.4 L896.6 1064.2 L898.2 1063.1 L899.9 1062.2 L901.7 1061.3 L903.5 1060.4 L905.4 1059.7 L907.3 1058.9 L909.2 1058.3 L911.1 1057.7 L913.0 1057.1 L915.0 1056.6 L916.9 1056.1 L918.9 1055.7 L920.8 1055.2 L922.8 1054.8 L924.8 1054.5 L926.7 1054.1 L928.7 1053.8 L930.7 1053.5 L932.7 1053.1 L934.6 1052.8 L936.6 1052.3 L938.5 1051.9 L940.5 1051.4 L942.4 1050.9 L944.4 1050.4 L946.3 1049.9 L948.3 1049.4 L950.2 1049.0 L952.2 1048.5 L954.1 1048.0 L956.0 1047.5 L958.0 1047.0 L959.9 1046.4 L961.8 1045.8 L963.7 1045.2 L965.6 1044.5 L967.5 1043.8 L969.3 1043.1 L971.2 1042.3 L973.0 1041.5 L974.8 1040.6 L976.6 1039.7 L978.4 1038.8 L980.1 1037.9 L981.9 1036.9 L983.7 1036.0 L985.5 1035.1 L987.2 1034.1 L989.0 1033.2 L990.8 1032.2 L992.5 1031.2 L994.2 1030.2 L996.0 1029.2 L997.7 1028.2 L999.4 1027.1 L1001.1 1026.1 L1002.8 1025.1 L1004.5 1024.0 L1006.2 1023.0 L1008.0 1021.9 L1009.7 1020.9 L1011.4 1019.9 L1013.1 1018.8 L1014.8 1017.8 L1016.5 1016.7 L1018.2 1015.6 L1019.9 1014.5 L1021.5 1013.4 L1023.2 1012.3 L1024.9 1011.2 L1026.5 1010.1 L1028.2 1009.0 L1029.9 1007.9 L1031.6 1006.8 L1033.3 1005.7 L1034.9 1004.6 L1036.6 1003.6 L1038.3 1002.5 L1040.0 1001.4 L1063.7 981.3 L1074.7 968.2 L1085.6 957.2 L1096.5 947.4 L1107.5 936.5 L1118.4 923.3 L1123.9 912.4 L1127.1 886.2 L1129.3 873.1 L1133.7 886.2 L1139.2 890.5 L1145.7 877.4 L1151.2 870.9 L1159.9 853.4 L1168.7 842.4 L1178.5 825.0 L1189.5 805.3 L1197.1 794.3 L1202.6 785.6"/>
<path class="c d" stroke="#55b548" d="M97.5 1185.6 L99.5 1185.6 L101.5 1185.6 L103.5 1185.6 L105.5 1185.6 L107.5 1185.6 L109.5 1185.6 L111.5 1185.6 L113.5 1185.6 L115.5 1185.6 L117.5 1185.6 L119.6 1185.6 L121.6 1185.6 L123.6 1185.6 L125.6 1185.6 L127.6 1185.6 L129.6 1185.6 L131.6 1185.6 L133.6 1185.6 L135.6 1185.6 L137.6 1185.6 L139.6 1185.6 L141.6 1185.6 L143.6 1185.6 L145.6 1185.6 L147.6 1185.6 L149.6 1185.6 L151.6 1185.6 L153.6 1185.6 L155.6 1185.6 L157.6 1185.6 L159.6 1185.6 L161.6 1185.6 L163.7 1185.6 L165.7 1185.6 L167.7 1185.6 L169.7 1185.6 L171.7 1185.6 L173.7 1185.6 L175.7 1185.6 L177.7 1185.6 L179.7 1185.6 L181.7 1185.6 L183.7 1185.6 L185.7 1185.6 L187.7 1185.6 L189.7 1185.6 L191.7 1185.6 L193.7 1185.6 L195.7 1185.6 L197.7 1185.6 L199.7 1185.6 L201.7 1185.6 L203.7 1185.6 L205.7 1185.6 L207.7 1185.6 L209.8 1185.6 L211.8 1185.6 L213.8 1185.6 L215.8 1185.6 L217.8 1185.6 L219.8 1185.6 L221.8 1185.6 L223.8 1185.6 L225.8 1185.6 L227.8 1185.6 L229.8 1185.6 L231.8 1185.6 L233.8 1185.6 L235.8 1185.6 L237.8 1185.6 L239.8 1185.6 L241.8 1185.6 L243.8 1185.6 L245.8 1185.6 L247.8 1185.6 L249.8 1185.6 L251.8 1185.6 L253.8 1185.6 L255.8 1185.6 L257.9 1185.6 L259.9 1185.6 L261.9 1185.6 L263.9 1185.6 L265.9 1185.6 L267.9 1185.6 L269.9 1185.6 L271.9 1185.6 L273.9 1185.6 L275.9 1185.6 L277.9 1185.6 L279.9 1185.6 L281.9 1185.6 L283.9 1185.6 L285.9 1185.6 L287.9 1185.6 L289.9 1185.6 L291.9 1185.6 L293.9 1185.6 L295.9 1185.6 L297.9 1185.6 L299.9 1185.6 L301.9 1185.6 L303.9 1185.6 L306.0 1185.6 L308.0 1185.6 L310.0 1185.6 L312.0 1185.5 L314.0 1185.5 L316.0 1185.5 L318.0 1185.5 L320.0 1185.5 L322.0 1185.4 L324.0 1185.4 L326.0 1185.4 L328.0 1185.3 L330.0 1185.3 L332.0 1185.2 L334.0 1185.2 L336.0 1185.1 L338.0 1185.1 L340.0 1185.0 L342.1 1185.0 L344.1 1184.9 L346.1 1184.9 L348.1 1184.8 L350.1 1184.7 L352.1 1184.7 L354.1 1184.6 L356.1 1184.5 L358.1 1184.5 L360.1 1184.4 L362.1 1184.3 L364.1 1184.2 L366.1 1184.2 L368.1 1184.1 L370.1 1184.0 L372.1 1183.9 L374.1 1183.7 L376.1 1183.6 L378.0 1183.4 L380.0 1183.1 L382.0 1182.9 L384.0 1182.6 L386.0 1182.4 L388.0 1182.1 L390.0 1181.8 L392.0 1181.6 L394.0 1181.3 L396.0 1181.1 L398.0 1180.9 L400.0 1180.7 L402.0 1180.5 L403.9 1180.3 L405.9 1180.2 L407.9 1180.0 L409.9 1179.9 L411.9 1179.7 L413.9 1179.5 L415.9 1179.4 L417.9 1179.2 L419.9 1179.1 L421.9 1178.9 L423.9 1178.8 L425.9 1178.7 L427.9 1178.5 L429.9 1178.4 L431.9 1178.3 L433.9 1178.1 L435.9 1178.0 L437.9 1177.8 L439.9 1177.6 L441.9 1177.5 L443.9 1177.3 L445.9 1177.1 L447.9 1176.9 L449.9 1176.8 L451.9 1176.6 L453.9 1176.3 L455.9 1176.1 L457.9 1175.8 L459.9 1175.6 L461.8 1175.2 L463.8 1174.9 L465.8 1174.5 L467.7 1174.1 L469.7 1173.7 L471.7 1173.3 L473.6 1172.9 L475.6 1172.4 L477.5 1171.9 L479.5 1171.4 L481.4 1170.9 L483.3 1170.4 L485.2 1169.8 L487.2 1169.2 L489.1 1168.6 L491.0 1168.0 L492.9 1167.4 L494.8 1166.8 L496.7 1166.2 L498.6 1165.6 L500.6 1165.0 L502.5 1164.4 L504.4 1163.8 L506.3 1163.2 L508.2 1162.6 L510.1 1161.9 L512.0 1161.2 L513.8 1160.4 L515.6 1159.5 L517.4 1158.6 L519.1 1157.5 L520.7 1156.4 L522.3 1155.1 L523.8 1153.8 L525.3 1152.4 L526.6 1151.0 L527.9 1149.5 L529.2 1147.9 L530.4 1146.3 L531.6 1144.7 L532.7 1143.0 L533.8 1141.3 L534.9 1139.6 L535.9 1137.9 L536.9 1136.1 L537.9 1134.4 L538.8 1132.6 L539.8 1130.8 L540.7 1129.0 L541.5 1127.2 L542.4 1125.4 L543.2 1123.6 L544.0 1121.7 L544.8 1119.9 L545.5 1118.0 L546.3 1116.2 L547.0 1114.3 L547.7 1112.4 L548.4 1110.5 L549.0 1108.6 L549.6 1106.7 L550.2 1104.8 L550.8 1102.9 L551.4 1101.0 L551.9 1099.1 L552.4 1097.1 L553.0 1095.2 L553.5 1093.2 L554.0 1091.3 L554.5 1089.4 L555.0 1087.4 L555.5 1085.5 L556.0 1083.5 L556.5 1081.6 L557.0 1079.7 L557.6 1077.7 L558.1 1075.8 L558.6 1073.9 L559.1 1071.9 L559.6 1070.0 L560.1 1068.0 L560.6 1066.1 L561.3 1061.1 L563.5 1077.5 L565.7 1098.3 L576.1 1066.6 L587.0 1033.8 L596.9 1011.9 L600.7 996.6 L602.4 876.1 L604.3 778.0 L605.5 693.5 L606.9 778.0 L608.0 876.1 L608.4 990.0 L608.9 1022.8 L610.0 1050.2 L610.1 1052.6 L610.2 1055.0 L610.4 1057.2 L610.6 1059.3 L610.9 1061.2 L611.2 1063.0 L611.7 1064.7 L612.3 1066.2 L613.3 1067.6 L614.8 1068.9 L616.5 1069.9 L618.3 1070.3 L619.9 1070.1 L621.4 1069.1 L622.8 1067.7 L624.2 1066.1 L625.6 1064.4 L627.1 1062.8 L628.7 1061.4 L630.4 1060.3 L632.0 1059.7 L633.5 1059.8 L634.8 1060.7 L636.0 1062.2 L637.1 1064.1 L638.2 1066.0 L639.4 1067.8 L640.5 1069.5 L641.7 1071.1 L642.8 1072.8 L643.8 1074.5 L644.8 1076.2 L645.7 1078.0 L646.5 1079.8 L647.4 1081.6 L648.2 1083.4 L649.2 1085.2 L650.1 1087.0 L651.1 1088.8 L652.1 1090.5 L653.1 1092.2 L654.2 1093.9 L655.3 1095.6 L656.4 1097.2 L657.6 1098.9 L658.8 1100.5 L660.0 1102.1 L661.3 1103.6 L662.7 1105.0 L664.2 1106.4 L665.7 1107.7 L667.3 1108.9 L668.9 1110.1 L670.6 1111.1 L672.4 1112.2 L674.2 1113.1 L676.0 1113.9 L677.9 1114.5 L679.8 1114.9 L681.8 1115.1 L683.8 1115.2 L685.8 1115.2 L687.8 1115.2 L689.8 1115.2 L691.8 1115.0 L693.8 1114.8 L695.8 1114.6 L697.8 1114.3 L699.7 1114.0 L701.7 1113.7 L703.7 1113.2 L705.6 1112.7 L707.5 1112.2 L709.5 1111.6 L711.4 1111.0 L713.3 1110.4 L715.2 1109.8 L717.1 1109.2 L719.0 1108.5 L720.9 1107.9 L722.8 1107.2 L724.7 1106.6 L726.6 1105.9 L728.5 1105.3 L730.4 1104.6 L732.3 1104.0 L734.2 1103.3 L736.1 1102.7 L738.0 1102.1 L739.9 1101.5 L741.8 1100.8 L743.7 1100.2 L745.6 1099.5 L747.5 1098.8 L749.4 1098.2 L751.3 1097.8 L753.3 1097.7 L755.3 1097.6 L757.3 1097.6 L759.3 1097.6 L761.3 1097.5 L763.3 1097.4 L765.3 1097.4 L767.3 1097.3 L769.3 1097.3 L771.3 1097.3 L773.4 1097.4 L775.4 1097.4 L777.4 1097.5 L779.3 1097.6 L781.2 1097.9 L783.0 1098.4 L784.7 1099.3 L786.3 1100.4 L788.0 1101.7 L789.6 1103.1 L791.2 1104.4 L792.8 1105.7 L794.5 1106.8 L796.2 1108.0 L797.8 1109.1 L799.5 1110.2 L801.2 1111.3 L802.9 1112.4 L804.5 1113.5 L806.2 1114.6 L807.9 1115.7 L809.6 1116.8 L811.4 1117.9 L813.1 1118.8 L814.9 1119.6 L816.7 1120.3 L818.6 1121.0 L820.6 1121.5 L822.5 1122.0 L824.5 1122.3 L826.5 1122.5 L828.5 1122.6 L830.5 1122.4 L832.5 1122.1 L834.5 1121.7 L836.4 1121.2 L838.3 1120.6 L840.1 1119.8 L841.9 1119.0 L843.6 1118.0 L845.3 1116.8 L847.0 1115.7 L848.7 1114.5 L850.3 1113.4 L852.0 1112.2 L853.5 1110.9 L854.9 1109.6 L856.2 1108.1 L857.3 1106.5 L858.3 1104.8 L859.2 1103.0 L860.1 1101.1 L861.0 1099.3 L862.0 1097.5 L863.1 1095.9 L864.3 1094.3 L865.5 1092.7 L866.9 1091.3 L868.3 1089.9 L869.7 1088.5 L871.2 1087.1 L872.7 1085.7 L874.2 1084.3 L875.6 1083.0 L877.1 1081.6 L878.6 1080.2 L880.0 1078.9 L881.5 1077.5 L883.0 1076.2 L884.5 1074.8 L886.0 1073.5 L887.5 1072.1 L889.0 1070.8 L890.5 1069.4 L892.0 1068.0 L893.5 1066.7 L895.0 1065.4 L896.6 1064.2 L898.2 1063.1 L899.9 1062.2 L901.7 1061.3 L903.5 1060.4 L905.4 1059.7 L907.3 1058.9 L909.2 1058.3 L911.1 1057.7 L913.0 1057.1 L915.0 1056.6 L916.9 1056.1 L918.9 1055.7 L920.8 1055.2 L922.8 1054.8 L924.8 1054.5 L926.7 1054.1 L928.7 1053.8 L930.7 1053.5 L932.7 1053.1 L934.6 1052.8 L936.6 1052.3 L938.5 1051.9 L940.5 1051.4 L942.4 1050.9 L944.4 1050.4 L946.3 1049.9 L948.3 1049.4 L950.2 1049.0 L952.2 1048.5 L954.1 1048.0 L956.0 1047.5 L958.0 1047.0 L959.9 1046.4 L961.8 1045.8 L963.7 1045.2 L965.6 1044.5 L967.5 1043.8 L969.3 1043.1 L971.2 1042.3 L973.0 1041.5 L974.8 1040.6 L976.6 1039.7 L978.4 1038.8 L980.1 1037.9 L981.9 1036.9 L983.7 1036.0 L985.5 1035.1 L987.2 1034.1 L989.0 1033.2 L990.8 1032.2 L992.5 1031.2 L994.2 1030.2 L996.0 1029.2 L997.7 1028.2 L999.4 1027.1 L1001.1 1026.1 L1002.8 1025.1 L1004.5 1024.0 L1006.2 1023.0 L1008.0 1021.9 L1009.7 1020.9 L1011.4 1019.9 L1013.1 1018.8 L1014.8 1017.8 L1016.5 1016.7 L1018.2 1015.6 L1019.9 1014.5 L1021.5 1013.4 L1023.2 1012.3 L1024.9 1011.2 L1026.5 1010.1 L1028.2 1009.0 L1029.9 1007.9 L1031.6 1006.8 L1033.3 1005.7 L1034.9 1004.6 L1036.6 1003.6 L1038.3 1002.5 L1040.0 1001.4 L1063.7 981.3 L1074.7 968.2 L1085.6 957.2 L1096.5 947.4 L1107.5 936.5 L1118.4 923.3 L1123.9 912.4 L1127.1 886.2 L1129.3 873.1 L1133.7 886.2 L1139.2 890.5 L1145.7 877.4 L1151.2 870.9 L1159.9 853.4 L1168.7 842.4 L1178.5 825.0 L1189.5 805.3 L1197.1 794.3 L1202.6 785.6"/>
<path class="h" stroke="#f0662f" d="M97.5 1185.6 L99.5 1185.6 L101.5 1185.6 L103.5 1185.6 L105.5 1185.6 L107.5 1185.6 L109.5 1185.6 L111.5 1185.6 L113.5 1185.6 L115.5 1185.6 L117.5 1185.6 L119.5 1185.6 L121.5 1185.6 L123.5 1185.6 L125.5 1185.6 L127.5 1185.6 L129.5 1185.6 L131.5 1185.6 L133.5 1185.6 L135.5 1185.6 L137.5 1185.6 L139.5 1185.6 L141.5 1185.6 L143.5 1185.6 L145.5 1185.6 L147.5 1185.6 L149.5 1185.6 L151.5 1185.6 L153.5 1185.6 L155.5 1185.6 L157.5 1185.6 L159.5 1185.6 L161.5 1185.6 L163.5 1185.6 L165.5 1185.6 L167.6 1185.6 L169.6 1185.6 L171.6 1185.6 L173.6 1185.6 L175.6 1185.6 L177.6 1185.6 L179.6 1185.6 L181.6 1185.6 L183.6 1185.6 L185.6 1185.6 L187.6 1185.6 L189.6 1185.6 L191.6 1185.6 L193.6 1185.6 L195.6 1185.6 L197.6 1185.6 L199.6 1185.6 L201.6 1185.6 L203.6 1185.6 L205.6 1185.6 L207.6 1185.6 L209.6 1185.6 L211.6 1185.6 L213.6 1185.6 L215.6 1185.6 L217.6 1185.6 L219.6 1185.6 L221.6 1185.6 L223.6 1185.6 L225.6 1185.6 L227.6 1185.6 L229.6 1185.6 L231.6 1185.6 L233.6 1185.6 L235.6 1185.6 L237.6 1185.6 L239.6 1185.6 L241.6 1185.6 L243.6 1185.6 L245.6 1185.6 L247.6 1185.6 L249.6 1185.6 L251.6 1185.6 L253.6 1185.6 L255.6 1185.6 L257.6 1185.6 L259.6 1185.6 L261.6 1185.6 L263.6 1185.6 L265.6 1185.6 L267.6 1185.6 L269.6 1185.6 L271.6 1185.6 L273.6 1185.6 L275.6 1185.6 L277.6 1185.6 L279.6 1185.6 L281.6 1185.6 L283.6 1185.6 L285.6 1185.6 L287.6 1185.6 L289.6 1185.6 L291.6 1185.6 L293.6 1185.6 L295.6 1185.6 L297.6 1185.6 L299.6 1185.6 L301.6 1185.6 L303.6 1185.6 L305.6 1185.6 L307.7 1185.6 L309.7 1185.6 L311.7 1185.6 L313.7 1185.6 L315.7 1185.6 L317.7 1185.6 L319.7 1185.6 L321.7 1185.6 L323.7 1185.5 L325.7 1185.5 L327.7 1185.5 L329.7 1185.5 L331.7 1185.5 L333.7 1185.5 L335.7 1185.5 L337.7 1185.5 L339.7 1185.5 L341.7 1185.5 L343.7 1185.4 L345.7 1185.4 L347.7 1185.4 L349.7 1185.4 L351.7 1185.4 L353.7 1185.4 L355.7 1185.4 L357.7 1185.3 L359.7 1185.3 L361.7 1185.3 L363.7 1185.3 L365.7 1185.3 L367.7 1185.3 L369.7 1185.3 L371.7 1185.2 L373.7 1185.2 L375.7 1185.2 L377.7 1185.2 L379.7 1185.2 L381.7 1185.2 L383.7 1185.1 L385.7 1185.1 L387.7 1185.1 L389.7 1185.1 L391.7 1185.1 L393.7 1185.1 L395.7 1185.0 L397.7 1185.0 L399.7 1185.0 L401.7 1185.0 L403.7 1185.0 L405.7 1185.0 L407.7 1184.9 L409.7 1184.9 L411.7 1184.9 L413.7 1184.9 L415.7 1184.9 L417.7 1184.8 L419.7 1184.8 L421.7 1184.8 L423.7 1184.8 L425.7 1184.8 L427.7 1184.7 L429.7 1184.7 L431.7 1184.7 L433.7 1184.7 L435.7 1184.6 L437.7 1184.6 L439.7 1184.6 L441.7 1184.6 L443.7 1184.5 L445.7 1184.5 L447.7 1184.5 L449.8 1184.5 L451.8 1184.4 L453.8 1184.4 L455.8 1184.4 L457.8 1184.4 L459.8 1184.3 L461.8 1184.3 L463.8 1184.3 L465.8 1184.2 L467.8 1184.2 L469.8 1184.2 L471.8 1184.1 L473.8 1184.1 L475.8 1184.1 L477.8 1184.0 L479.8 1184.0 L481.8 1184.0 L483.8 1183.9 L485.8 1183.9 L487.8 1183.9 L489.8 1183.8 L491.8 1183.8 L493.8 1183.7 L495.8 1183.7 L497.8 1183.6 L499.8 1183.6 L501.8 1183.6 L503.8 1183.5 L505.8 1183.5 L507.8 1183.4 L509.8 1183.4 L511.8 1183.3 L513.8 1183.2 L515.8 1183.2 L517.8 1183.1 L519.8 1183.1 L521.8 1183.0 L523.8 1182.9 L525.8 1182.9 L527.8 1182.8 L529.8 1182.8 L531.8 1182.7 L533.8 1182.6 L535.8 1182.5 L537.8 1182.5 L539.8 1182.4 L541.8 1182.3 L543.8 1182.2 L545.8 1182.1 L547.8 1182.1 L549.8 1182.0 L551.8 1181.9 L553.8 1181.8 L555.8 1181.7 L557.8 1181.6 L559.8 1181.5 L561.8 1181.4 L563.8 1181.3 L565.8 1181.2 L567.8 1181.0 L569.8 1180.9 L571.8 1180.7 L573.8 1180.6 L575.8 1180.4 L577.7 1180.2 L579.7 1180.1 L581.7 1179.9 L583.7 1179.7 L585.7 1179.5 L587.7 1179.3 L589.7 1179.1 L591.7 1178.8 L593.7 1178.6 L595.7 1178.4 L597.7 1178.1 L599.7 1177.9 L601.7 1177.6 L603.6 1177.4 L605.6 1177.1 L607.6 1176.8 L609.6 1176.6 L611.6 1176.3 L613.6 1176.0 L615.5 1175.7 L617.5 1175.5 L619.5 1175.2 L621.5 1174.9 L623.4 1174.5 L625.4 1174.2 L627.4 1173.8 L629.4 1173.5 L631.3 1173.1 L633.3 1172.6 L635.2 1172.2 L637.2 1171.8 L639.1 1171.3 L641.1 1170.8 L643.0 1170.3 L645.0 1169.8 L646.9 1169.3 L648.8 1168.7 L650.7 1168.2 L652.7 1167.6 L654.6 1166.9 L656.4 1166.3 L658.3 1165.6 L660.2 1164.9 L662.0 1164.1 L663.9 1163.4 L665.7 1162.5 L667.5 1161.7 L669.3 1160.8 L671.1 1159.8 L672.9 1158.9 L674.6 1157.9 L676.4 1156.9 L678.1 1155.9 L679.8 1154.9 L681.4 1153.8 L683.1 1152.7 L684.7 1151.5 L686.3 1150.3 L687.9 1149.1 L689.5 1147.9 L691.1 1146.7 L692.7 1145.4 L694.2 1144.1 L695.8 1142.9 L697.4 1141.6 L698.9 1140.4 L700.5 1139.1 L702.1 1137.9 L703.6 1136.6 L705.2 1135.3 L706.7 1134.1 L708.2 1132.7 L709.7 1131.4 L711.2 1130.1 L712.6 1128.7 L714.0 1127.3 L715.4 1125.8 L716.8 1124.4 L718.2 1122.9 L719.5 1121.4 L720.8 1119.9 L722.1 1118.3 L723.3 1116.8 L724.5 1115.2 L725.7 1113.5 L726.8 1111.9 L727.9 1110.2 L728.9 1108.5 L729.9 1106.7 L730.9 1105.0 L731.8 1103.2 L732.7 1101.4 L733.7 1099.7 L734.5 1097.9 L735.4 1096.1 L736.3 1094.3 L737.1 1092.4 L737.9 1090.6 L738.7 1088.8 L739.5 1086.9 L740.3 1085.1 L741.1 1083.2 L741.8 1081.4 L742.6 1079.5 L743.4 1077.7 L744.1 1075.8 L744.9 1074.0 L745.6 1072.1 L746.4 1070.3 L747.1 1068.4 L747.8 1066.5 L748.5 1064.7 L749.2 1062.8 L750.0 1060.9 L750.6 1059.0 L751.3 1057.2 L752.0 1055.3 L752.7 1053.4 L753.4 1051.5 L754.1 1049.6 L754.7 1047.8 L755.4 1045.9 L756.1 1044.0 L756.8 1042.1 L757.5 1040.2 L758.2 1038.4 L758.9 1036.5 L759.7 1034.6 L760.4 1032.8 L761.1 1030.9 L761.8 1029.0 L762.6 1027.2 L763.3 1025.3 L764.1 1023.5 L764.9 1021.7 L765.8 1019.8 L766.6 1018.0 L767.5 1016.2 L768.4 1014.5 L769.3 1012.7 L770.2 1010.9 L771.1 1009.1 L772.0 1007.3 L772.9 1005.5 L773.7 1003.7 L774.6 1001.9 L775.5 1000.0 L776.3 998.2 L777.1 996.4 L777.8 994.5 L778.5 992.6 L779.1 990.8 L779.7 988.9 L780.2 987.0 L780.8 985.1 L781.3 983.1 L781.8 981.2 L782.3 979.3 L782.8 977.3 L783.3 975.4 L783.7 973.4 L784.2 971.5 L784.6 969.5 L785.1 967.5 L785.5 965.6 L785.9 963.6 L786.3 961.6 L786.6 959.6 L787.0 957.7 L787.4 955.7 L787.7 953.7 L788.0 951.7 L788.4 949.7 L788.7 947.8 L789.0 945.8 L789.3 943.8 L789.6 941.9 L789.9 939.9 L790.2 937.9 L790.4 935.9 L790.7 933.9 L790.9 931.9 L791.2 930.0 L791.4 928.0 L791.6 926.0 L791.9 924.0 L792.1 922.0 L792.3 920.0 L792.5 918.0 L792.8 916.0 L793.0 914.0 L793.2 912.0 L793.4 910.1 L793.6 908.1 L793.8 906.1 L794.1 904.1 L794.3 902.1 L794.5 900.1 L794.8 898.1 L795.0 896.1 L795.2 894.1 L795.5 892.1 L795.7 890.2 L796.0 888.2 L796.2 886.2 L796.5 884.2 L796.7 882.2 L796.9 880.2 L797.2 878.2 L797.4 876.3 L797.7 874.3 L797.9 872.3 L798.2 870.3 L798.4 868.3 L798.7 866.3 L798.9 864.3 L799.1 862.3 L799.4 860.4 L799.6 858.4 L799.8 856.4 L800.1 854.4 L800.3 852.4 L800.5 850.4 L800.7 848.4 L800.9 846.4 L801.2 844.5 L801.4 842.5 L801.6 840.5 L801.8 838.5 L802.0 836.5 L802.2 834.5 L802.4 832.5 L802.6 830.5 L802.8 828.5 L803.0 826.5 L803.2 824.5 L803.4 822.6 L803.6 820.6 L803.8 818.6 L804.0 816.6 L804.1 814.6 L804.3 812.6 L804.5 810.6 L804.7 808.6 L807.6 774.3 L811.0 780.2 L814.5 785.5 L816.5 808.6 L819.4 847.8 L822.4 887.1 L825.3 916.5 L828.2 941.0 L830.2 906.7 L832.2 869.4 L834.1 916.5 L836.1 955.7 L837.1 975.3 L839.0 972.4 L840.0 974.5 L842.9 998.0 L845.9 1011.8 L849.8 1017.6 L853.7 1015.7 L857.6 1007.8 L860.6 1000.0 L862.5 1009.8 L865.5 1027.5 L869.4 1029.4 L873.3 1025.5 L876.3 1009.8 L879.2 998.0 L882.2 1021.6 L885.1 1015.7 L888.0 1005.9 L891.0 1027.5 L894.9 1011.8 L898.8 1002.0 L902.7 1015.7 L906.7 1009.8 L910.6 1015.7 L914.5 1019.6 L918.4 1017.6 L922.4 1021.6 L926.3 1017.6 L930.2 1019.6 L934.1 1015.7 L938.0 1021.6 L942.0 1019.6 L945.9 1023.5 L949.8 1019.6 L953.7 1009.8 L957.6 990.2 L960.6 1017.6 L963.5 1029.4 L966.5 1021.6 L969.4 1009.8 L973.3 1025.5 L977.3 1029.4 L981.2 1025.5 L985.1 1007.8 L988.0 1025.5 L991.0 1031.4 L994.9 1027.5 L998.8 1025.5 L1002.7 1021.6 L1006.7 1017.6 L1010.6 1015.7 L1014.5 1009.8 L1018.4 1011.8 L1022.4 1002.0 L1026.3 1005.9 L1030.2 998.0 L1034.1 1000.0 L1038.0 992.2 L1042.0 994.1 L1045.9 986.3 L1049.8 978.4 L1053.7 982.4 L1057.6 974.5 L1061.6 970.6 L1065.5 974.5 L1069.4 964.7 L1074.7 962.0 L1079.1 954.6 L1083.5 953.6 L1088.0 949.5 L1092.6 943.1 L1097.1 939.3 L1101.6 935.8 L1106.0 933.1 L1110.2 927.9 L1114.3 922.7 L1118.4 920.2 L1122.4 914.8 L1126.3 915.1 L1130.2 911.4 L1134.0 901.3 L1137.8 901.3 L1141.5 896.3 L1145.1 894.1 L1148.7 888.4 L1152.0 883.3 L1155.3 880.0 L1158.4 873.6 L1161.4 871.1 L1164.4 867.5 L1167.3 860.9 L1170.2 859.6 L1173.2 854.4 L1176.2 851.4 L1179.3 842.0 L1182.4 840.2 L1185.4 838.8 L1188.3 832.9 L1191.2 830.2 L1193.8 826.8 L1196.3 817.7 L1198.6 813.9 L1200.8 813.8 L1202.9 809.8 L1204.9 804.7 L1205.8 801.7"/>
<path class="c" stroke="#f0662f" d="M97.5 1185.6 L99.5 1185.6 L101.5 1185.6 L103.5 1185.6 L105.5 1185.6 L107.5 1185.6 L109.5 1185.6 L111.5 1185.6 L113.5 1185.6 L115.5 1185.6 L117.5 1185.6 L119.5 1185.6 L121.5 1185.6 L123.5 1185.6 L125.5 1185.6 L127.5 1185.6 L129.5 1185.6 L131.5 1185.6 L133.5 1185.6 L135.5 1185.6 L137.5 1185.6 L139.5 1185.6 L141.5 1185.6 L143.5 1185.6 L145.5 1185.6 L147.5 1185.6 L149.5 1185.6 L151.5 1185.6 L153.5 1185.6 L155.5 1185.6 L157.5 1185.6 L159.5 1185.6 L161.5 1185.6 L163.5 1185.6 L165.5 1185.6 L167.6 1185.6 L169.6 1185.6 L171.6 1185.6 L173.6 1185.6 L175.6 1185.6 L177.6 1185.6 L179.6 1185.6 L181.6 1185.6 L183.6 1185.6 L185.6 1185.6 L187.6 1185.6 L189.6 1185.6 L191.6 1185.6 L193.6 1185.6 L195.6 1185.6 L197.6 1185.6 L199.6 1185.6 L201.6 1185.6 L203.6 1185.6 L205.6 1185.6 L207.6 1185.6 L209.6 1185.6 L211.6 1185.6 L213.6 1185.6 L215.6 1185.6 L217.6 1185.6 L219.6 1185.6 L221.6 1185.6 L223.6 1185.6 L225.6 1185.6 L227.6 1185.6 L229.6 1185.6 L231.6 1185.6 L233.6 1185.6 L235.6 1185.6 L237.6 1185.6 L239.6 1185.6 L241.6 1185.6 L243.6 1185.6 L245.6 1185.6 L247.6 1185.6 L249.6 1185.6 L251.6 1185.6 L253.6 1185.6 L255.6 1185.6 L257.6 1185.6 L259.6 1185.6 L261.6 1185.6 L263.6 1185.6 L265.6 1185.6 L267.6 1185.6 L269.6 1185.6 L271.6 1185.6 L273.6 1185.6 L275.6 1185.6 L277.6 1185.6 L279.6 1185.6 L281.6 1185.6 L283.6 1185.6 L285.6 1185.6 L287.6 1185.6 L289.6 1185.6 L291.6 1185.6 L293.6 1185.6 L295.6 1185.6 L297.6 1185.6 L299.6 1185.6 L301.6 1185.6 L303.6 1185.6 L305.6 1185.6 L307.7 1185.6 L309.7 1185.6 L311.7 1185.6 L313.7 1185.6 L315.7 1185.6 L317.7 1185.6 L319.7 1185.6 L321.7 1185.6 L323.7 1185.5 L325.7 1185.5 L327.7 1185.5 L329.7 1185.5 L331.7 1185.5 L333.7 1185.5 L335.7 1185.5 L337.7 1185.5 L339.7 1185.5 L341.7 1185.5 L343.7 1185.4 L345.7 1185.4 L347.7 1185.4 L349.7 1185.4 L351.7 1185.4 L353.7 1185.4 L355.7 1185.4 L357.7 1185.3 L359.7 1185.3 L361.7 1185.3 L363.7 1185.3 L365.7 1185.3 L367.7 1185.3 L369.7 1185.3 L371.7 1185.2 L373.7 1185.2 L375.7 1185.2 L377.7 1185.2 L379.7 1185.2 L381.7 1185.2 L383.7 1185.1 L385.7 1185.1 L387.7 1185.1 L389.7 1185.1 L391.7 1185.1 L393.7 1185.1 L395.7 1185.0 L397.7 1185.0 L399.7 1185.0 L401.7 1185.0 L403.7 1185.0 L405.7 1185.0 L407.7 1184.9 L409.7 1184.9 L411.7 1184.9 L413.7 1184.9 L415.7 1184.9 L417.7 1184.8 L419.7 1184.8 L421.7 1184.8 L423.7 1184.8 L425.7 1184.8 L427.7 1184.7 L429.7 1184.7 L431.7 1184.7 L433.7 1184.7 L435.7 1184.6 L437.7 1184.6 L439.7 1184.6 L441.7 1184.6 L443.7 1184.5 L445.7 1184.5 L447.7 1184.5 L449.8 1184.5 L451.8 1184.4 L453.8 1184.4 L455.8 1184.4 L457.8 1184.4 L459.8 1184.3 L461.8 1184.3 L463.8 1184.3 L465.8 1184.2 L467.8 1184.2 L469.8 1184.2 L471.8 1184.1 L473.8 1184.1 L475.8 1184.1 L477.8 1184.0 L479.8 1184.0 L481.8 1184.0 L483.8 1183.9 L485.8 1183.9 L487.8 1183.9 L489.8 1183.8 L491.8 1183.8 L493.8 1183.7 L495.8 1183.7 L497.8 1183.6 L499.8 1183.6 L501.8 1183.6 L503.8 1183.5 L505.8 1183.5 L507.8 1183.4 L509.8 1183.4 L511.8 1183.3 L513.8 1183.2 L515.8 1183.2 L517.8 1183.1 L519.8 1183.1 L521.8 1183.0 L523.8 1182.9 L525.8 1182.9 L527.8 1182.8 L529.8 1182.8 L531.8 1182.7 L533.8 1182.6 L535.8 1182.5 L537.8 1182.5 L539.8 1182.4 L541.8 1182.3 L543.8 1182.2 L545.8 1182.1 L547.8 1182.1 L549.8 1182.0 L551.8 1181.9 L553.8 1181.8 L555.8 1181.7 L557.8 1181.6 L559.8 1181.5 L561.8 1181.4 L563.8 1181.3 L565.8 1181.2 L567.8 1181.0 L569.8 1180.9 L571.8 1180.7 L573.8 1180.6 L575.8 1180.4 L577.7 1180.2 L579.7 1180.1 L581.7 1179.9 L583.7 1179.7 L585.7 1179.5 L587.7 1179.3 L589.7 1179.1 L591.7 1178.8 L593.7 1178.6 L595.7 1178.4 L597.7 1178.1 L599.7 1177.9 L601.7 1177.6 L603.6 1177.4 L605.6 1177.1 L607.6 1176.8 L609.6 1176.6 L611.6 1176.3 L613.6 1176.0 L615.5 1175.7 L617.5 1175.5 L619.5 1175.2 L621.5 1174.9 L623.4 1174.5 L625.4 1174.2 L627.4 1173.8 L629.4 1173.5 L631.3 1173.1 L633.3 1172.6 L635.2 1172.2 L637.2 1171.8 L639.1 1171.3 L641.1 1170.8 L643.0 1170.3 L645.0 1169.8 L646.9 1169.3 L648.8 1168.7 L650.7 1168.2 L652.7 1167.6 L654.6 1166.9 L656.4 1166.3 L658.3 1165.6 L660.2 1164.9 L662.0 1164.1 L663.9 1163.4 L665.7 1162.5 L667.5 1161.7 L669.3 1160.8 L671.1 1159.8 L672.9 1158.9 L674.6 1157.9 L676.4 1156.9 L678.1 1155.9 L679.8 1154.9 L681.4 1153.8 L683.1 1152.7 L684.7 1151.5 L686.3 1150.3 L687.9 1149.1 L689.5 1147.9 L691.1 1146.7 L692.7 1145.4 L694.2 1144.1 L695.8 1142.9 L697.4 1141.6 L698.9 1140.4 L700.5 1139.1 L702.1 1137.9 L703.6 1136.6 L705.2 1135.3 L706.7 1134.1 L708.2 1132.7 L709.7 1131.4 L711.2 1130.1 L712.6 1128.7 L714.0 1127.3 L715.4 1125.8 L716.8 1124.4 L718.2 1122.9 L719.5 1121.4 L720.8 1119.9 L722.1 1118.3 L723.3 1116.8 L724.5 1115.2 L725.7 1113.5 L726.8 1111.9 L727.9 1110.2 L728.9 1108.5 L729.9 1106.7 L730.9 1105.0 L731.8 1103.2 L732.7 1101.4 L733.7 1099.7 L734.5 1097.9 L735.4 1096.1 L736.3 1094.3 L737.1 1092.4 L737.9 1090.6 L738.7 1088.8 L739.5 1086.9 L740.3 1085.1 L741.1 1083.2 L741.8 1081.4 L742.6 1079.5 L743.4 1077.7 L744.1 1075.8 L744.9 1074.0 L745.6 1072.1 L746.4 1070.3 L747.1 1068.4 L747.8 1066.5 L748.5 1064.7 L749.2 1062.8 L750.0 1060.9 L750.6 1059.0 L751.3 1057.2 L752.0 1055.3 L752.7 1053.4 L753.4 1051.5 L754.1 1049.6 L754.7 1047.8 L755.4 1045.9 L756.1 1044.0 L756.8 1042.1 L757.5 1040.2 L758.2 1038.4 L758.9 1036.5 L759.7 1034.6 L760.4 1032.8 L761.1 1030.9 L761.8 1029.0 L762.6 1027.2 L763.3 1025.3 L764.1 1023.5 L764.9 1021.7 L765.8 1019.8 L766.6 1018.0 L767.5 1016.2 L768.4 1014.5 L769.3 1012.7 L770.2 1010.9 L771.1 1009.1 L772.0 1007.3 L772.9 1005.5 L773.7 1003.7 L774.6 1001.9 L775.5 1000.0 L776.3 998.2 L777.1 996.4 L777.8 994.5 L778.5 992.6 L779.1 990.8 L779.7 988.9 L780.2 987.0 L780.8 985.1 L781.3 983.1 L781.8 981.2 L782.3 979.3 L782.8 977.3 L783.3 975.4 L783.7 973.4 L784.2 971.5 L784.6 969.5 L785.1 967.5 L785.5 965.6 L785.9 963.6 L786.3 961.6 L786.6 959.6 L787.0 957.7 L787.4 955.7 L787.7 953.7 L788.0 951.7 L788.4 949.7 L788.7 947.8 L789.0 945.8 L789.3 943.8 L789.6 941.9 L789.9 939.9 L790.2 937.9 L790.4 935.9 L790.7 933.9 L790.9 931.9 L791.2 930.0 L791.4 928.0 L791.6 926.0 L791.9 924.0 L792.1 922.0 L792.3 920.0 L792.5 918.0 L792.8 916.0 L793.0 914.0 L793.2 912.0 L793.4 910.1 L793.6 908.1 L793.8 906.1 L794.1 904.1 L794.3 902.1 L794.5 900.1 L794.8 898.1 L795.0 896.1 L795.2 894.1 L795.5 892.1 L795.7 890.2 L796.0 888.2 L796.2 886.2 L796.5 884.2 L796.7 882.2 L796.9 880.2 L797.2 878.2 L797.4 876.3 L797.7 874.3 L797.9 872.3 L798.2 870.3 L798.4 868.3 L798.7 866.3 L798.9 864.3 L799.1 862.3 L799.4 860.4 L799.6 858.4 L799.8 856.4 L800.1 854.4 L800.3 852.4 L800.5 850.4 L800.7 848.4 L800.9 846.4 L801.2 844.5 L801.4 842.5 L801.6 840.5 L801.8 838.5 L802.0 836.5 L802.2 834.5 L802.4 832.5 L802.6 830.5 L802.8 828.5 L803.0 826.5 L803.2 824.5 L803.4 822.6 L803.6 820.6 L803.8 818.6 L804.0 816.6 L804.1 814.6 L804.3 812.6 L804.5 810.6 L804.7 808.6 L807.6 774.3 L811.0 780.2 L814.5 785.5 L816.5 808.6 L819.4 847.8 L822.4 887.1 L825.3 916.5 L828.2 941.0 L830.2 906.7 L832.2 869.4 L834.1 916.5 L836.1 955.7 L837.1 975.3 L839.0 972.4 L840.0 974.5 L842.9 998.0 L845.9 1011.8 L849.8 1017.6 L853.7 1015.7 L857.6 1007.8 L860.6 1000.0 L862.5 1009.8 L865.5 1027.5 L869.4 1029.4 L873.3 1025.5 L876.3 1009.8 L879.2 998.0 L882.2 1021.6 L885.1 1015.7 L888.0 1005.9 L891.0 1027.5 L894.9 1011.8 L898.8 1002.0 L902.7 1015.7 L906.7 1009.8 L910.6 1015.7 L914.5 1019.6 L918.4 1017.6 L922.4 1021.6 L926.3 1017.6 L930.2 1019.6 L934.1 1015.7 L938.0 1021.6 L942.0 1019.6 L945.9 1023.5 L949.8 1019.6 L953.7 1009.8 L957.6 990.2 L960.6 1017.6 L963.5 1029.4 L966.5 1021.6 L969.4 1009.8 L973.3 1025.5 L977.3 1029.4 L981.2 1025.5 L985.1 1007.8 L988.0 1025.5 L991.0 1031.4 L994.9 1027.5 L998.8 1025.5 L1002.7 1021.6 L1006.7 1017.6 L1010.6 1015.7 L1014.5 1009.8 L1018.4 1011.8 L1022.4 1002.0 L1026.3 1005.9 L1030.2 998.0 L1034.1 1000.0 L1038.0 992.2 L1042.0 994.1 L1045.9 986.3 L1049.8 978.4 L1053.7 982.4 L1057.6 974.5 L1061.6 970.6 L1065.5 974.5 L1069.4 964.7 L1074.7 962.0 L1079.1 954.6 L1083.5 953.6 L1088.0 949.5 L1092.6 943.1 L1097.1 939.3 L1101.6 935.8 L1106.0 933.1 L1110.2 927.9 L1114.3 922.7 L1118.4 920.2 L1122.4 914.8 L1126.3 915.1 L1130.2 911.4 L1134.0 901.3 L1137.8 901.3 L1141.5 896.3 L1145.1 894.1 L1148.7 888.4 L1152.0 883.3 L1155.3 880.0 L1158.4 873.6 L1161.4 871.1 L1164.4 867.5 L1167.3 860.9 L1170.2 859.6 L1173.2 854.4 L1176.2 851.4 L1179.3 842.0 L1182.4 840.2 L1185.4 838.8 L1188.3 832.9 L1191.2 830.2 L1193.8 826.8 L1196.3 817.7 L1198.6 813.9 L1200.8 813.8 L1202.9 809.8 L1204.9 804.7 L1205.8 801.7"/>
<path class="h d" stroke="#f0662f" d="M97.5 1185.6 L99.5 1185.6 L101.5 1185.6 L103.5 1185.6 L105.5 1185.6 L107.5 1185.6 L109.5 1185.6 L111.5 1185.6 L113.5 1185.6 L115.5 1185.6 L117.5 1185.6 L119.5 1185.6 L121.5 1185.6 L123.5 1185.6 L125.5 1185.6 L127.5 1185.6 L129.5 1185.6 L131.5 1185.6 L133.5 1185.6 L135.5 1185.6 L137.5 1185.6 L139.5 1185.6 L141.5 1185.6 L143.5 1185.6 L145.5 1185.6 L147.5 1185.6 L149.5 1185.6 L151.6 1185.6 L153.6 1185.6 L155.6 1185.6 L157.6 1185.6 L159.6 1185.6 L161.6 1185.6 L163.6 1185.6 L165.6 1185.6 L167.6 1185.6 L169.6 1185.6 L171.6 1185.6 L173.6 1185.6 L175.6 1185.6 L177.6 1185.6 L179.6 1185.6 L181.6 1185.6 L183.6 1185.6 L185.6 1185.6 L187.6 1185.6 L189.6 1185.6 L191.6 1185.6 L193.6 1185.6 L195.6 1185.6 L197.6 1185.6 L199.6 1185.6 L201.6 1185.6 L203.6 1185.6 L205.6 1185.6 L207.6 1185.6 L209.6 1185.6 L211.6 1185.6 L213.6 1185.6 L215.6 1185.6 L217.6 1185.6 L219.6 1185.6 L221.6 1185.6 L223.6 1185.6 L225.6 1185.6 L227.6 1185.6 L229.6 1185.6 L231.6 1185.6 L233.6 1185.6 L235.6 1185.6 L237.6 1185.6 L239.6 1185.6 L241.6 1185.6 L243.6 1185.6 L245.6 1185.6 L247.6 1185.6 L249.6 1185.6 L251.6 1185.6 L253.6 1185.6 L255.6 1185.6 L257.6 1185.6 L259.6 1185.6 L261.6 1185.6 L263.6 1185.6 L265.6 1185.6 L267.6 1185.6 L269.6 1185.6 L271.6 1185.6 L273.7 1185.6 L275.7 1185.6 L277.7 1185.6 L279.7 1185.6 L281.7 1185.6 L283.7 1185.6 L285.7 1185.6 L287.7 1185.6 L289.7 1185.6 L291.7 1185.6 L293.7 1185.6 L295.7 1185.6 L297.7 1185.6 L299.7 1185.6 L301.7 1185.6 L303.7 1185.6 L305.7 1185.6 L307.7 1185.6 L309.7 1185.6 L311.7 1185.6 L313.7 1185.5 L315.7 1185.5 L317.7 1185.5 L319.7 1185.5 L321.7 1185.5 L323.7 1185.4 L325.7 1185.4 L327.7 1185.4 L329.7 1185.4 L331.7 1185.3 L333.7 1185.3 L335.7 1185.3 L337.7 1185.2 L339.7 1185.2 L341.7 1185.1 L343.7 1185.1 L345.7 1185.0 L347.7 1185.0 L349.7 1184.9 L351.7 1184.9 L353.7 1184.8 L355.7 1184.8 L357.7 1184.7 L359.7 1184.7 L361.7 1184.6 L363.7 1184.6 L365.7 1184.5 L367.7 1184.4 L369.7 1184.4 L371.7 1184.3 L373.7 1184.2 L375.7 1184.2 L377.7 1184.1 L379.7 1184.0 L381.7 1183.9 L383.7 1183.8 L385.7 1183.6 L387.7 1183.5 L389.7 1183.3 L391.7 1183.1 L393.7 1182.8 L395.6 1182.6 L397.6 1182.3 L399.6 1182.1 L401.6 1181.8 L403.6 1181.5 L405.6 1181.3 L407.6 1181.0 L409.6 1180.8 L411.6 1180.5 L413.5 1180.3 L415.5 1180.1 L417.5 1179.9 L419.5 1179.7 L421.5 1179.6 L423.5 1179.4 L425.5 1179.3 L427.5 1179.1 L429.5 1179.0 L431.5 1178.9 L433.5 1178.7 L435.5 1178.6 L437.5 1178.4 L439.5 1178.3 L441.5 1178.2 L443.5 1178.0 L445.5 1177.9 L447.5 1177.7 L449.5 1177.6 L451.5 1177.4 L453.5 1177.3 L455.5 1177.1 L457.4 1176.9 L459.4 1176.7 L461.4 1176.4 L463.4 1176.1 L465.4 1175.8 L467.4 1175.5 L469.3 1175.2 L471.3 1174.9 L473.3 1174.5 L475.3 1174.2 L477.2 1173.9 L479.2 1173.6 L481.2 1173.3 L483.2 1172.9 L485.2 1172.6 L487.1 1172.3 L489.1 1172.0 L491.1 1171.7 L493.1 1171.4 L495.1 1171.2 L497.0 1171.0 L499.0 1170.9 L501.0 1170.7 L503.0 1170.6 L505.0 1170.5 L507.0 1170.4 L509.0 1170.3 L511.0 1170.2 L513.0 1170.1 L515.0 1170.1 L517.0 1170.0 L519.0 1169.9 L521.0 1169.8 L523.0 1169.8 L525.0 1169.7 L527.0 1169.7 L529.0 1169.6 L531.0 1169.6 L533.0 1169.5 L535.0 1169.4 L537.0 1169.4 L539.0 1169.3 L541.0 1169.2 L543.0 1169.2 L545.1 1169.1 L547.1 1169.0 L549.1 1168.9 L551.1 1168.8 L553.1 1168.7 L555.1 1168.6 L557.3 1168.5 L559.5 1168.3 L562.0 1168.0 L564.6 1167.7 L567.1 1167.4 L569.7 1167.0 L572.1 1166.7 L574.3 1166.4 L576.2 1166.1 L577.8 1165.8 L578.9 1165.7 L579.4 1165.6 L579.3 1165.6 L578.3 1165.7 L576.6 1165.9 L574.3 1166.2 L571.7 1166.5 L568.9 1166.8 L566.2 1167.2 L563.8 1167.4 L562.0 1167.7 L561.0 1167.8 L561.0 1167.8 L562.0 1167.7 L563.8 1167.6 L566.1 1167.4 L568.4 1167.1 L570.6 1166.9 L572.7 1166.6 L574.7 1166.3 L576.6 1166.0 L578.6 1165.7 L580.6 1165.3 L582.6 1165.0 L584.5 1164.6 L586.5 1164.2 L588.5 1163.9 L590.4 1163.5 L592.4 1163.2 L594.4 1162.8 L596.3 1162.5 L598.3 1162.1 L600.3 1161.6 L602.2 1161.1 L604.1 1160.6 L606.0 1160.0 L608.0 1159.5 L609.9 1159.0 L611.9 1158.5 L613.8 1158.0 L615.7 1157.5 L617.7 1157.0 L619.6 1156.4 L621.5 1155.8 L623.4 1155.2 L625.3 1154.5 L627.2 1153.8 L629.0 1153.2 L630.9 1152.5 L632.8 1151.8 L634.7 1151.2 L636.6 1150.5 L638.5 1149.8 L640.3 1149.0 L642.2 1148.3 L644.0 1147.5 L645.9 1146.7 L647.7 1145.9 L649.5 1145.0 L651.2 1144.1 L653.0 1143.1 L654.7 1142.0 L656.4 1141.0 L658.1 1139.9 L659.8 1138.8 L661.4 1137.7 L663.1 1136.5 L664.7 1135.4 L666.3 1134.2 L667.9 1133.0 L669.6 1131.9 L671.3 1130.7 L673.0 1129.6 L674.7 1128.4 L676.3 1127.2 L677.8 1125.9 L679.1 1124.5 L680.3 1123.0 L681.4 1121.4 L682.4 1119.6 L683.3 1117.9 L684.3 1116.1 L685.5 1114.5 L686.7 1113.0 L688.1 1111.5 L689.5 1110.1 L690.9 1108.6 L692.3 1107.2 L693.8 1105.8 L695.2 1104.4 L696.6 1103.0 L698.1 1101.6 L699.5 1100.2 L701.0 1098.9 L702.5 1097.6 L704.0 1096.3 L705.6 1095.0 L707.1 1093.7 L708.7 1092.5 L710.4 1091.3 L712.0 1090.2 L713.7 1089.1 L715.4 1088.0 L717.1 1087.0 L718.9 1086.0 L720.7 1085.0 L722.5 1084.2 L724.3 1083.5 L726.2 1082.9 L728.1 1082.4 L730.1 1082.0 L732.0 1081.6 L734.0 1081.3 L736.0 1081.1 L738.0 1081.1 L740.0 1081.1 L742.1 1081.1 L744.1 1081.2 L746.1 1081.4 L748.0 1081.5 L750.0 1081.8 L752.0 1082.1 L753.9 1082.5 L755.9 1083.1 L757.8 1083.7 L759.7 1084.4 L761.5 1085.1 L763.4 1085.8 L765.2 1086.7 L767.0 1087.6 L768.8 1088.5 L770.5 1089.5 L772.3 1090.5 L774.0 1091.4 L775.8 1092.4 L777.5 1093.4 L779.3 1094.4 L781.0 1095.4 L782.7 1096.4 L784.4 1097.5 L786.1 1098.6 L787.8 1099.7 L789.4 1100.9 L791.1 1102.0 L792.7 1103.1 L794.4 1104.2 L796.1 1105.2 L797.9 1106.2 L799.7 1107.1 L801.5 1108.0 L803.3 1108.8 L805.2 1109.5 L807.1 1110.0 L809.0 1110.5 L811.0 1110.9 L813.0 1111.1 L815.0 1111.2 L817.0 1111.2 L818.9 1110.9 L820.9 1110.4 L822.8 1109.7 L824.6 1109.0 L826.4 1108.1 L828.1 1107.1 L829.8 1105.9 L831.4 1104.7 L833.0 1103.5 L834.5 1102.2 L836.0 1100.9 L837.5 1099.6 L839.0 1098.2 L840.4 1096.8 L841.9 1095.4 L843.3 1094.0 L844.7 1092.6 L846.1 1091.2 L847.5 1089.8 L849.0 1088.4 L850.4 1087.0 L851.8 1085.6 L853.2 1084.1 L854.6 1082.7 L855.9 1081.2 L857.2 1079.6 L858.4 1078.0 L859.6 1076.5 L860.9 1074.9 L862.2 1073.4 L863.4 1071.8 L864.7 1070.3 L866.0 1068.8 L867.3 1067.2 L868.7 1065.7 L870.0 1064.2 L871.3 1062.8 L872.7 1061.3 L874.1 1059.9 L875.5 1058.4 L876.9 1057.0 L878.4 1055.7 L879.9 1054.3 L881.4 1053.1 L883.0 1051.8 L884.6 1050.6 L886.3 1049.6 L888.0 1048.6 L889.8 1047.6 L891.6 1046.8 L893.5 1046.0 L895.3 1045.3 L897.2 1044.6 L899.2 1044.0 L901.1 1043.5 L903.1 1043.0 L905.0 1042.7 L907.0 1042.4 L909.0 1042.4 L910.9 1042.5 L912.9 1042.8 L914.9 1043.3 L916.8 1043.7 L918.8 1044.2 L920.8 1044.7 L922.7 1045.2 L924.7 1045.6 L926.6 1045.9 L928.6 1046.0 L930.6 1045.9 L932.6 1045.7 L934.6 1045.5 L936.6 1045.3 L938.6 1045.1 L940.6 1044.9 L942.6 1044.7 L944.6 1044.5 L946.5 1044.2 L948.5 1044.0 L950.5 1043.7 L952.5 1043.3 L954.4 1042.9 L956.4 1042.4 L958.3 1041.9 L960.2 1041.2 L962.0 1040.5 L963.9 1039.7 L965.7 1038.9 L967.6 1038.2 L969.5 1037.6 L971.4 1037.0 L973.3 1036.5 L975.3 1035.9 L977.2 1035.3 L979.1 1034.6 L980.9 1033.9 L982.8 1033.2 L984.6 1032.4 L986.5 1031.7 L988.4 1030.9 L990.2 1030.2 L992.1 1029.5 L993.9 1028.7 L995.8 1027.9 L997.6 1027.1 L999.4 1026.3 L1001.2 1025.4 L1003.0 1024.5 L1004.8 1023.6 L1006.5 1022.6 L1008.2 1021.5 L1009.9 1020.4 L1011.5 1019.3 L1013.2 1018.1 L1014.8 1016.9 L1016.4 1015.8 L1018.1 1014.6 L1019.7 1013.5 L1021.3 1012.3 L1023.0 1011.2 L1024.6 1010.0 L1026.2 1008.8 L1027.9 1007.7 L1029.5 1006.6 L1031.2 1005.4 L1032.8 1004.3 L1034.5 1003.1 L1036.1 1002.0 L1030.9 988.9 L1041.9 982.4 L1048.4 975.8 L1052.8 980.2 L1063.7 971.4 L1069.2 962.7 L1074.7 960.5 L1080.1 955.0 L1085.6 945.2 L1091.1 941.9 L1096.5 934.3 L1102.0 923.3 L1107.5 919.0 L1112.9 914.6 L1118.4 905.9 L1123.9 894.9 L1129.3 892.7 L1134.8 880.7 L1140.3 870.9 L1145.7 864.3 L1151.2 853.4 L1156.7 846.8 L1162.1 838.1 L1164.3 807.5 L1167.6 814.0 L1170.9 811.8 L1175.2 805.3 L1179.6 802.0 L1184.0 794.3 L1189.5 785.6 L1194.9 776.8 L1201.5 759.4 L1205.9 752.8"/>
<path class="c d" stroke="#f0662f" d="M97.5 1185.6 L99.5 1185.6 L101.5 1185.6 L103.5 1185.6 L105.5 1185.6 L107.5 1185.6 L109.5 1185.6 L111.5 1185.6 L113.5 1185.6 L115.5 1185.6 L117.5 1185.6 L119.5 1185.6 L121.5 1185.6 L123.5 1185.6 L125.5 1185.6 L127.5 1185.6 L129.5 1185.6 L131.5 1185.6 L133.5 1185.6 L135.5 1185.6 L137.5 1185.6 L139.5 1185.6 L141.5 1185.6 L143.5 1185.6 L145.5 1185.6 L147.5 1185.6 L149.5 1185.6 L151.6 1185.6 L153.6 1185.6 L155.6 1185.6 L157.6 1185.6 L159.6 1185.6 L161.6 1185.6 L163.6 1185.6 L165.6 1185.6 L167.6 1185.6 L169.6 1185.6 L171.6 1185.6 L173.6 1185.6 L175.6 1185.6 L177.6 1185.6 L179.6 1185.6 L181.6 1185.6 L183.6 1185.6 L185.6 1185.6 L187.6 1185.6 L189.6 1185.6 L191.6 1185.6 L193.6 1185.6 L195.6 1185.6 L197.6 1185.6 L199.6 1185.6 L201.6 1185.6 L203.6 1185.6 L205.6 1185.6 L207.6 1185.6 L209.6 1185.6 L211.6 1185.6 L213.6 1185.6 L215.6 1185.6 L217.6 1185.6 L219.6 1185.6 L221.6 1185.6 L223.6 1185.6 L225.6 1185.6 L227.6 1185.6 L229.6 1185.6 L231.6 1185.6 L233.6 1185.6 L235.6 1185.6 L237.6 1185.6 L239.6 1185.6 L241.6 1185.6 L243.6 1185.6 L245.6 1185.6 L247.6 1185.6 L249.6 1185.6 L251.6 1185.6 L253.6 1185.6 L255.6 1185.6 L257.6 1185.6 L259.6 1185.6 L261.6 1185.6 L263.6 1185.6 L265.6 1185.6 L267.6 1185.6 L269.6 1185.6 L271.6 1185.6 L273.7 1185.6 L275.7 1185.6 L277.7 1185.6 L279.7 1185.6 L281.7 1185.6 L283.7 1185.6 L285.7 1185.6 L287.7 1185.6 L289.7 1185.6 L291.7 1185.6 L293.7 1185.6 L295.7 1185.6 L297.7 1185.6 L299.7 1185.6 L301.7 1185.6 L303.7 1185.6 L305.7 1185.6 L307.7 1185.6 L309.7 1185.6 L311.7 1185.6 L313.7 1185.5 L315.7 1185.5 L317.7 1185.5 L319.7 1185.5 L321.7 1185.5 L323.7 1185.4 L325.7 1185.4 L327.7 1185.4 L329.7 1185.4 L331.7 1185.3 L333.7 1185.3 L335.7 1185.3 L337.7 1185.2 L339.7 1185.2 L341.7 1185.1 L343.7 1185.1 L345.7 1185.0 L347.7 1185.0 L349.7 1184.9 L351.7 1184.9 L353.7 1184.8 L355.7 1184.8 L357.7 1184.7 L359.7 1184.7 L361.7 1184.6 L363.7 1184.6 L365.7 1184.5 L367.7 1184.4 L369.7 1184.4 L371.7 1184.3 L373.7 1184.2 L375.7 1184.2 L377.7 1184.1 L379.7 1184.0 L381.7 1183.9 L383.7 1183.8 L385.7 1183.6 L387.7 1183.5 L389.7 1183.3 L391.7 1183.1 L393.7 1182.8 L395.6 1182.6 L397.6 1182.3 L399.6 1182.1 L401.6 1181.8 L403.6 1181.5 L405.6 1181.3 L407.6 1181.0 L409.6 1180.8 L411.6 1180.5 L413.5 1180.3 L415.5 1180.1 L417.5 1179.9 L419.5 1179.7 L421.5 1179.6 L423.5 1179.4 L425.5 1179.3 L427.5 1179.1 L429.5 1179.0 L431.5 1178.9 L433.5 1178.7 L435.5 1178.6 L437.5 1178.4 L439.5 1178.3 L441.5 1178.2 L443.5 1178.0 L445.5 1177.9 L447.5 1177.7 L449.5 1177.6 L451.5 1177.4 L453.5 1177.3 L455.5 1177.1 L457.4 1176.9 L459.4 1176.7 L461.4 1176.4 L463.4 1176.1 L465.4 1175.8 L467.4 1175.5 L469.3 1175.2 L471.3 1174.9 L473.3 1174.5 L475.3 1174.2 L477.2 1173.9 L479.2 1173.6 L481.2 1173.3 L483.2 1172.9 L485.2 1172.6 L487.1 1172.3 L489.1 1172.0 L491.1 1171.7 L493.1 1171.4 L495.1 1171.2 L497.0 1171.0 L499.0 1170.9 L501.0 1170.7 L503.0 1170.6 L505.0 1170.5 L507.0 1170.4 L509.0 1170.3 L511.0 1170.2 L513.0 1170.1 L515.0 1170.1 L517.0 1170.0 L519.0 1169.9 L521.0 1169.8 L523.0 1169.8 L525.0 1169.7 L527.0 1169.7 L529.0 1169.6 L531.0 1169.6 L533.0 1169.5 L535.0 1169.4 L537.0 1169.4 L539.0 1169.3 L541.0 1169.2 L543.0 1169.2 L545.1 1169.1 L547.1 1169.0 L549.1 1168.9 L551.1 1168.8 L553.1 1168.7 L555.1 1168.6 L557.3 1168.5 L559.5 1168.3 L562.0 1168.0 L564.6 1167.7 L567.1 1167.4 L569.7 1167.0 L572.1 1166.7 L574.3 1166.4 L576.2 1166.1 L577.8 1165.8 L578.9 1165.7 L579.4 1165.6 L579.3 1165.6 L578.3 1165.7 L576.6 1165.9 L574.3 1166.2 L571.7 1166.5 L568.9 1166.8 L566.2 1167.2 L563.8 1167.4 L562.0 1167.7 L561.0 1167.8 L561.0 1167.8 L562.0 1167.7 L563.8 1167.6 L566.1 1167.4 L568.4 1167.1 L570.6 1166.9 L572.7 1166.6 L574.7 1166.3 L576.6 1166.0 L578.6 1165.7 L580.6 1165.3 L582.6 1165.0 L584.5 1164.6 L586.5 1164.2 L588.5 1163.9 L590.4 1163.5 L592.4 1163.2 L594.4 1162.8 L596.3 1162.5 L598.3 1162.1 L600.3 1161.6 L602.2 1161.1 L604.1 1160.6 L606.0 1160.0 L608.0 1159.5 L609.9 1159.0 L611.9 1158.5 L613.8 1158.0 L615.7 1157.5 L617.7 1157.0 L619.6 1156.4 L621.5 1155.8 L623.4 1155.2 L625.3 1154.5 L627.2 1153.8 L629.0 1153.2 L630.9 1152.5 L632.8 1151.8 L634.7 1151.2 L636.6 1150.5 L638.5 1149.8 L640.3 1149.0 L642.2 1148.3 L644.0 1147.5 L645.9 1146.7 L647.7 1145.9 L649.5 1145.0 L651.2 1144.1 L653.0 1143.1 L654.7 1142.0 L656.4 1141.0 L658.1 1139.9 L659.8 1138.8 L661.4 1137.7 L663.1 1136.5 L664.7 1135.4 L666.3 1134.2 L667.9 1133.0 L669.6 1131.9 L671.3 1130.7 L673.0 1129.6 L674.7 1128.4 L676.3 1127.2 L677.8 1125.9 L679.1 1124.5 L680.3 1123.0 L681.4 1121.4 L682.4 1119.6 L683.3 1117.9 L684.3 1116.1 L685.5 1114.5 L686.7 1113.0 L688.1 1111.5 L689.5 1110.1 L690.9 1108.6 L692.3 1107.2 L693.8 1105.8 L695.2 1104.4 L696.6 1103.0 L698.1 1101.6 L699.5 1100.2 L701.0 1098.9 L702.5 1097.6 L704.0 1096.3 L705.6 1095.0 L707.1 1093.7 L708.7 1092.5 L710.4 1091.3 L712.0 1090.2 L713.7 1089.1 L715.4 1088.0 L717.1 1087.0 L718.9 1086.0 L720.7 1085.0 L722.5 1084.2 L724.3 1083.5 L726.2 1082.9 L728.1 1082.4 L730.1 1082.0 L732.0 1081.6 L734.0 1081.3 L736.0 1081.1 L738.0 1081.1 L740.0 1081.1 L742.1 1081.1 L744.1 1081.2 L746.1 1081.4 L748.0 1081.5 L750.0 1081.8 L752.0 1082.1 L753.9 1082.5 L755.9 1083.1 L757.8 1083.7 L759.7 1084.4 L761.5 1085.1 L763.4 1085.8 L765.2 1086.7 L767.0 1087.6 L768.8 1088.5 L770.5 1089.5 L772.3 1090.5 L774.0 1091.4 L775.8 1092.4 L777.5 1093.4 L779.3 1094.4 L781.0 1095.4 L782.7 1096.4 L784.4 1097.5 L786.1 1098.6 L787.8 1099.7 L789.4 1100.9 L791.1 1102.0 L792.7 1103.1 L794.4 1104.2 L796.1 1105.2 L797.9 1106.2 L799.7 1107.1 L801.5 1108.0 L803.3 1108.8 L805.2 1109.5 L807.1 1110.0 L809.0 1110.5 L811.0 1110.9 L813.0 1111.1 L815.0 1111.2 L817.0 1111.2 L818.9 1110.9 L820.9 1110.4 L822.8 1109.7 L824.6 1109.0 L826.4 1108.1 L828.1 1107.1 L829.8 1105.9 L831.4 1104.7 L833.0 1103.5 L834.5 1102.2 L836.0 1100.9 L837.5 1099.6 L839.0 1098.2 L840.4 1096.8 L841.9 1095.4 L843.3 1094.0 L844.7 1092.6 L846.1 1091.2 L847.5 1089.8 L849.0 1088.4 L850.4 1087.0 L851.8 1085.6 L853.2 1084.1 L854.6 1082.7 L855.9 1081.2 L857.2 1079.6 L858.4 1078.0 L859.6 1076.5 L860.9 1074.9 L862.2 1073.4 L863.4 1071.8 L864.7 1070.3 L866.0 1068.8 L867.3 1067.2 L868.7 1065.7 L870.0 1064.2 L871.3 1062.8 L872.7 1061.3 L874.1 1059.9 L875.5 1058.4 L876.9 1057.0 L878.4 1055.7 L879.9 1054.3 L881.4 1053.1 L883.0 1051.8 L884.6 1050.6 L886.3 1049.6 L888.0 1048.6 L889.8 1047.6 L891.6 1046.8 L893.5 1046.0 L895.3 1045.3 L897.2 1044.6 L899.2 1044.0 L901.1 1043.5 L903.1 1043.0 L905.0 1042.7 L907.0 1042.4 L909.0 1042.4 L910.9 1042.5 L912.9 1042.8 L914.9 1043.3 L916.8 1043.7 L918.8 1044.2 L920.8 1044.7 L922.7 1045.2 L924.7 1045.6 L926.6 1045.9 L928.6 1046.0 L930.6 1045.9 L932.6 1045.7 L934.6 1045.5 L936.6 1045.3 L938.6 1045.1 L940.6 1044.9 L942.6 1044.7 L944.6 1044.5 L946.5 1044.2 L948.5 1044.0 L950.5 1043.7 L952.5 1043.3 L954.4 1042.9 L956.4 1042.4 L958.3 1041.9 L960.2 1041.2 L962.0 1040.5 L963.9 1039.7 L965.7 1038.9 L967.6 1038.2 L969.5 1037.6 L971.4 1037.0 L973.3 1036.5 L975.3 1035.9 L977.2 1035.3 L979.1 1034.6 L980.9 1033.9 L982.8 1033.2 L984.6 1032.4 L986.5 1031.7 L988.4 1030.9 L990.2 1030.2 L992.1 1029.5 L993.9 1028.7 L995.8 1027.9 L997.6 1027.1 L999.4 1026.3 L1001.2 1025.4 L1003.0 1024.5 L1004.8 1023.6 L1006.5 1022.6 L1008.2 1021.5 L1009.9 1020.4 L1011.5 1019.3 L1013.2 1018.1 L1014.8 1016.9 L1016.4 1015.8 L1018.1 1014.6 L1019.7 1013.5 L1021.3 1012.3 L1023.0 1011.2 L1024.6 1010.0 L1026.2 1008.8 L1027.9 1007.7 L1029.5 1006.6 L1031.2 1005.4 L1032.8 1004.3 L1034.5 1003.1 L1036.1 1002.0 L1030.9 988.9 L1041.9 982.4 L1048.4 975.8 L1052.8 980.2 L1063.7 971.4 L1069.2 962.7 L1074.7 960.5 L1080.1 955.0 L1085.6 945.2 L1091.1 941.9 L1096.5 934.3 L1102.0 923.3 L1107.5 919.0 L1112.9 914.6 L1118.4 905.9 L1123.9 894.9 L1129.3 892.7 L1134.8 880.7 L1140.3 870.9 L1145.7 864.3 L1151.2 853.4 L1156.7 846.8 L1162.1 838.1 L1164.3 807.5 L1167.6 814.0 L1170.9 811.8 L1175.2 805.3 L1179.6 802.0 L1184.0 794.3 L1189.5 785.6 L1194.9 776.8 L1201.5 759.4 L1205.9 752.8"/>
</g>
<text class="t" x="96.7" y="70.9" text-anchor="middle">0</text>
<text class="t" x="319.0" y="70.9" text-anchor="middle">2</text>
<text class="t" x="540.6" y="70.9" text-anchor="middle">4</text>
<text class="t" x="762.1" y="70.9" text-anchor="middle">6</text>
<text class="t" x="983.7" y="70.9" text-anchor="middle">8</text>
<text class="t" x="1204.7" y="70.9" text-anchor="middle">10</text>
<text class="t" x="87.3" y="87.7" text-anchor="end">3.2</text>
<text class="t" x="87.3" y="226.3" text-anchor="end">2.8</text>
<text class="t" x="87.3" y="364.8" text-anchor="end">2.4</text>
<text class="t" x="87.3" y="503.4" text-anchor="end">2</text>
<text class="t" x="87.3" y="641.9" text-anchor="end">1.6</text>
<text class="t" x="87.3" y="703.5" text-anchor="end">40</text>
<text class="t" x="87.3" y="826.8" text-anchor="end">30</text>
<text class="t" x="87.3" y="950.1" text-anchor="end">20</text>
<text class="t" x="87.3" y="1073.4" text-anchor="end">10</text>
<text class="t" x="87.3" y="1196.7" text-anchor="end">0</text>
<text class="t" x="98.7" y="1222.6" text-anchor="middle">1.6</text>
<text class="t" x="374.4" y="1222.6" text-anchor="middle">2</text>
<text class="t" x="651.3" y="1222.6" text-anchor="middle">2.4</text>
<text class="t" x="928.3" y="1222.6" text-anchor="middle">2.8</text>
<text class="t" x="1205.2" y="1222.6" text-anchor="middle">3.2</text>
<text class="ax" style="font-size:45.8px" x="638" y="32.7" text-anchor="middle">Capacity (mAh)</text>
<text class="ax" style="font-size:46.6px" x="642.3" y="1268.6" text-anchor="middle">Voltage (V)</text>
<text class="ax" style="font-size:47.2px" transform="translate(34.8 351.4) rotate(-90) scale(1 1.02)" text-anchor="middle">Voltage (V)</text>
<text class="ax" style="font-size:46.2px" transform="translate(41.6 905.8) rotate(-90) scale(1 1.03)" text-anchor="middle">dQ/dV (mAh/V)</text>
<text class="p" x="120.5" y="136">a)</text>
<text class="p" x="135.2" y="701.8">b)</text>
<rect x="715.4" y="225.8" width="459.6" height="391.4" fill="#ffffff" stroke="#231f20" stroke-width="4.8" stroke-opacity=".27"/>
<rect x="715.4" y="225.8" width="459.6" height="391.4" fill="none" stroke="#231f20" stroke-width="2.5" stroke-opacity=".86"/>
<path class="h" stroke="#1f1f1f" d="M724.3 253.9 H777"/>
<path class="c" stroke="#1f1f1f" d="M724.3 253.9 H777"/>
<text class="L" x="783.8" y="263.9">Control</text>
<path class="h" stroke="#3b55a5" d="M724.3 295.8 H777"/>
<path class="c" stroke="#3b55a5" d="M724.3 295.8 H777"/>
<text class="L" x="783.8" y="305.8">2% VC</text>
<path class="h d" stroke="#3b55a5" d="M724.3 337.8 H777"/>
<path class="c d" stroke="#3b55a5" d="M724.3 337.8 H777"/>
<text class="L" x="783.8" y="347.8">3% VC</text>
<path class="h" stroke="#e8302f" d="M724.3 379.7 H777"/>
<path class="c" stroke="#e8302f" d="M724.3 379.7 H777"/>
<text class="L" x="783.8" y="389.7">1% MMDS</text>
<path class="h d" stroke="#e8302f" d="M724.3 421.6 H777"/>
<path class="c d" stroke="#e8302f" d="M724.3 421.6 H777"/>
<text class="L" x="783.8" y="431.6">2% VC+1%MMDS</text>
<path class="h" stroke="#f0662f" d="M724.3 463.6 H777"/>
<path class="c" stroke="#f0662f" d="M724.3 463.6 H777"/>
<text class="L" x="783.8" y="473.6">2% PS</text>
<path class="h d" stroke="#f0662f" d="M724.3 505.5 H777"/>
<path class="c d" stroke="#f0662f" d="M724.3 505.5 H777"/>
<text class="L" x="783.8" y="515.5">2% VC+2%PS</text>
<path class="h" stroke="#55b548" d="M724.3 547.4 H777"/>
<path class="c" stroke="#55b548" d="M724.3 547.4 H777"/>
<text class="L" x="783.8" y="557.4">2% VC+2%PS+1%MMDS</text>
<path class="h d" stroke="#55b548" d="M724.3 589.3 H777"/>
<path class="c d" stroke="#55b548" d="M724.3 589.3 H777"/>
<text class="L" x="783.8" y="599.3">2% VC+4%PS+1%MMDS</text>
</svg></body></html>
